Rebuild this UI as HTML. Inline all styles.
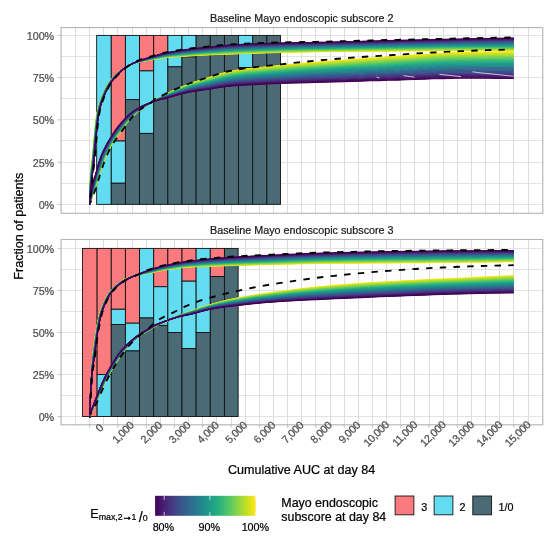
<!DOCTYPE html>
<html lang="en"><head><meta charset="utf-8"><title>Figure</title>
<style>
html,body{margin:0;padding:0;background:#fff;}
body{width:550px;height:540px;overflow:hidden;font-family:"Liberation Sans",Arial,sans-serif;}
svg{display:block;}
svg text{stroke-width:0.22px;}
</style></head><body>
<svg width="550" height="540" viewBox="0 0 550 540" font-family="'Liberation Sans', Arial, sans-serif">
<rect width="550" height="540" fill="#fff"/>
<rect x="61.10" y="27.60" width="481.70" height="185.70" fill="#fff"/>
<line x1="61.10" x2="542.80" y1="204.5" y2="204.5" stroke="#E4E4E4" stroke-width="1"/>
<line x1="61.10" x2="542.80" y1="183.5" y2="183.5" stroke="#E4E4E4" stroke-width="1"/>
<line x1="61.10" x2="542.80" y1="162.5" y2="162.5" stroke="#E4E4E4" stroke-width="1"/>
<line x1="61.10" x2="542.80" y1="140.5" y2="140.5" stroke="#E4E4E4" stroke-width="1"/>
<line x1="61.10" x2="542.80" y1="119.5" y2="119.5" stroke="#E4E4E4" stroke-width="1"/>
<line x1="61.10" x2="542.80" y1="98.5" y2="98.5" stroke="#E4E4E4" stroke-width="1"/>
<line x1="61.10" x2="542.80" y1="77.5" y2="77.5" stroke="#E4E4E4" stroke-width="1"/>
<line x1="61.10" x2="542.80" y1="56.5" y2="56.5" stroke="#E4E4E4" stroke-width="1"/>
<line x1="61.10" x2="542.80" y1="35.5" y2="35.5" stroke="#E4E4E4" stroke-width="1"/>
<line x1="75.5" x2="75.5" y1="27.60" y2="213.30" stroke="#DCDCDC" stroke-width="1"/>
<line x1="89.5" x2="89.5" y1="27.60" y2="213.30" stroke="#DCDCDC" stroke-width="1"/>
<line x1="103.5" x2="103.5" y1="27.60" y2="213.30" stroke="#DCDCDC" stroke-width="1"/>
<line x1="117.5" x2="117.5" y1="27.60" y2="213.30" stroke="#DCDCDC" stroke-width="1"/>
<line x1="132.5" x2="132.5" y1="27.60" y2="213.30" stroke="#DCDCDC" stroke-width="1"/>
<line x1="146.5" x2="146.5" y1="27.60" y2="213.30" stroke="#DCDCDC" stroke-width="1"/>
<line x1="160.5" x2="160.5" y1="27.60" y2="213.30" stroke="#DCDCDC" stroke-width="1"/>
<line x1="174.5" x2="174.5" y1="27.60" y2="213.30" stroke="#DCDCDC" stroke-width="1"/>
<line x1="188.5" x2="188.5" y1="27.60" y2="213.30" stroke="#DCDCDC" stroke-width="1"/>
<line x1="202.5" x2="202.5" y1="27.60" y2="213.30" stroke="#DCDCDC" stroke-width="1"/>
<line x1="216.5" x2="216.5" y1="27.60" y2="213.30" stroke="#DCDCDC" stroke-width="1"/>
<line x1="231.5" x2="231.5" y1="27.60" y2="213.30" stroke="#DCDCDC" stroke-width="1"/>
<line x1="245.5" x2="245.5" y1="27.60" y2="213.30" stroke="#DCDCDC" stroke-width="1"/>
<line x1="259.5" x2="259.5" y1="27.60" y2="213.30" stroke="#DCDCDC" stroke-width="1"/>
<line x1="273.5" x2="273.5" y1="27.60" y2="213.30" stroke="#DCDCDC" stroke-width="1"/>
<line x1="287.5" x2="287.5" y1="27.60" y2="213.30" stroke="#DCDCDC" stroke-width="1"/>
<line x1="301.5" x2="301.5" y1="27.60" y2="213.30" stroke="#DCDCDC" stroke-width="1"/>
<line x1="315.5" x2="315.5" y1="27.60" y2="213.30" stroke="#DCDCDC" stroke-width="1"/>
<line x1="330.5" x2="330.5" y1="27.60" y2="213.30" stroke="#DCDCDC" stroke-width="1"/>
<line x1="344.5" x2="344.5" y1="27.60" y2="213.30" stroke="#DCDCDC" stroke-width="1"/>
<line x1="358.5" x2="358.5" y1="27.60" y2="213.30" stroke="#DCDCDC" stroke-width="1"/>
<line x1="372.5" x2="372.5" y1="27.60" y2="213.30" stroke="#DCDCDC" stroke-width="1"/>
<line x1="386.5" x2="386.5" y1="27.60" y2="213.30" stroke="#DCDCDC" stroke-width="1"/>
<line x1="400.5" x2="400.5" y1="27.60" y2="213.30" stroke="#DCDCDC" stroke-width="1"/>
<line x1="414.5" x2="414.5" y1="27.60" y2="213.30" stroke="#DCDCDC" stroke-width="1"/>
<line x1="429.5" x2="429.5" y1="27.60" y2="213.30" stroke="#DCDCDC" stroke-width="1"/>
<line x1="443.5" x2="443.5" y1="27.60" y2="213.30" stroke="#DCDCDC" stroke-width="1"/>
<line x1="457.5" x2="457.5" y1="27.60" y2="213.30" stroke="#DCDCDC" stroke-width="1"/>
<line x1="471.5" x2="471.5" y1="27.60" y2="213.30" stroke="#DCDCDC" stroke-width="1"/>
<line x1="485.5" x2="485.5" y1="27.60" y2="213.30" stroke="#DCDCDC" stroke-width="1"/>
<line x1="499.5" x2="499.5" y1="27.60" y2="213.30" stroke="#DCDCDC" stroke-width="1"/>
<line x1="513.5" x2="513.5" y1="27.60" y2="213.30" stroke="#DCDCDC" stroke-width="1"/>
<line x1="528.5" x2="528.5" y1="27.60" y2="213.30" stroke="#DCDCDC" stroke-width="1"/>
<rect x="96.67" y="35.40" width="14.59" height="168.95" fill="#63DCF2" stroke="#111" stroke-width="0.9"/>
<rect x="111.27" y="35.40" width="14.14" height="105.59" fill="#FB7A7D" stroke="#111" stroke-width="0.9"/>
<rect x="111.27" y="140.99" width="14.14" height="42.24" fill="#63DCF2" stroke="#111" stroke-width="0.9"/>
<rect x="111.27" y="183.23" width="14.14" height="21.12" fill="#4A6B75" stroke="#111" stroke-width="0.9"/>
<rect x="125.41" y="35.40" width="14.14" height="64.20" fill="#63DCF2" stroke="#111" stroke-width="0.9"/>
<rect x="125.41" y="99.60" width="14.14" height="104.75" fill="#4A6B75" stroke="#111" stroke-width="0.9"/>
<rect x="139.56" y="35.40" width="14.15" height="35.48" fill="#FB7A7D" stroke="#111" stroke-width="0.9"/>
<rect x="139.56" y="70.88" width="14.15" height="62.51" fill="#63DCF2" stroke="#111" stroke-width="0.9"/>
<rect x="139.56" y="133.39" width="14.15" height="70.96" fill="#4A6B75" stroke="#111" stroke-width="0.9"/>
<rect x="153.70" y="35.40" width="14.14" height="21.12" fill="#FB7A7D" stroke="#111" stroke-width="0.9"/>
<rect x="153.70" y="56.52" width="14.14" height="42.24" fill="#63DCF2" stroke="#111" stroke-width="0.9"/>
<rect x="153.70" y="98.76" width="14.14" height="105.59" fill="#4A6B75" stroke="#111" stroke-width="0.9"/>
<rect x="167.85" y="35.40" width="14.15" height="31.42" fill="#63DCF2" stroke="#111" stroke-width="0.9"/>
<rect x="167.85" y="66.82" width="14.15" height="137.53" fill="#4A6B75" stroke="#111" stroke-width="0.9"/>
<rect x="181.99" y="35.40" width="14.15" height="21.46" fill="#63DCF2" stroke="#111" stroke-width="0.9"/>
<rect x="181.99" y="56.86" width="14.15" height="147.49" fill="#4A6B75" stroke="#111" stroke-width="0.9"/>
<rect x="196.14" y="35.40" width="14.14" height="168.95" fill="#4A6B75" stroke="#111" stroke-width="0.9"/>
<rect x="210.28" y="35.40" width="14.15" height="168.95" fill="#4A6B75" stroke="#111" stroke-width="0.9"/>
<rect x="224.43" y="35.40" width="14.15" height="168.95" fill="#4A6B75" stroke="#111" stroke-width="0.9"/>
<rect x="238.57" y="35.40" width="14.14" height="32.10" fill="#63DCF2" stroke="#111" stroke-width="0.9"/>
<rect x="238.57" y="67.50" width="14.14" height="136.85" fill="#4A6B75" stroke="#111" stroke-width="0.9"/>
<rect x="252.72" y="35.40" width="14.15" height="168.95" fill="#4A6B75" stroke="#111" stroke-width="0.9"/>
<rect x="266.86" y="35.40" width="13.69" height="168.95" fill="#4A6B75" stroke="#111" stroke-width="0.9"/>
<path d="M89.6 204.3 L90.5 176.1 L91.3 166.6 L92.2 160.4 L93.0 151.8 L93.9 141.3 L94.8 132.1 L95.6 123.6 L96.5 116.5 L97.3 111.9 L98.2 108.2 L99.1 105.0 L99.9 102.3 L100.8 99.9 L101.6 97.7 L102.5 95.6 L103.4 93.5 L104.2 91.5 L105.1 89.7 L105.9 88.0 L106.8 86.4 L107.7 85.0 L108.5 83.6 L109.4 82.3 L110.2 81.1 L111.1 80.0 L111.9 78.9 L112.8 77.8 L113.7 76.9 L114.5 76.0 L115.4 75.1 L116.2 74.3 L117.1 73.5 L118.0 72.8 L118.8 72.1 L119.7 71.5 L120.5 70.8 L121.4 70.2 L122.3 69.6 L123.1 69.1 L124.0 68.5 L124.8 68.0 L125.7 67.5 L126.6 67.0 L127.4 66.5 L128.3 66.0 L129.1 65.6 L130.0 65.1 L133.0 63.7 L136.1 62.5 L139.1 61.8 L142.2 61.2 L145.2 60.7 L148.3 60.3 L151.3 59.8 L154.3 59.2 L157.4 58.7 L160.4 58.2 L163.5 57.7 L166.5 57.4 L169.6 57.1 L172.6 56.9 L175.7 56.7 L178.7 56.5 L181.7 56.3 L184.8 56.1 L187.8 55.9 L190.9 55.8 L193.9 55.6 L197.0 55.4 L200.0 55.3 L209.0 54.8 L217.9 54.5 L226.9 54.1 L235.9 53.8 L244.8 53.5 L253.8 53.2 L262.7 52.9 L271.7 52.7 L280.7 52.5 L289.6 52.3 L298.6 52.1 L307.6 51.9 L316.5 51.7 L325.5 51.6 L334.4 51.5 L343.4 51.4 L352.4 51.4 L361.3 51.3 L370.3 51.2 L379.3 51.2 L388.2 51.1 L397.2 51.0 L406.1 51.0 L415.1 50.9 L424.1 50.8 L433.0 50.7 L442.0 50.7 L451.0 50.6 L459.9 50.6 L468.9 50.6 L477.8 50.6 L486.8 50.7 L495.8 50.8 L504.7 50.9 L513.7 51.0" fill="none" stroke="#fde725" stroke-width="1.10" stroke-linejoin="round"/>
<path d="M89.6 204.3 L90.5 176.5 L91.3 167.1 L92.2 160.8 L93.0 152.2 L93.9 141.8 L94.8 132.5 L95.6 124.0 L96.5 116.9 L97.3 112.2 L98.2 108.4 L99.1 105.2 L99.9 102.5 L100.8 100.0 L101.6 97.8 L102.5 95.7 L103.4 93.6 L104.2 91.6 L105.1 89.8 L105.9 88.1 L106.8 86.5 L107.7 85.0 L108.5 83.7 L109.4 82.4 L110.2 81.2 L111.1 80.0 L111.9 78.9 L112.8 77.9 L113.7 76.9 L114.5 76.0 L115.4 75.1 L116.2 74.3 L117.1 73.6 L118.0 72.9 L118.8 72.2 L119.7 71.5 L120.5 70.8 L121.4 70.2 L122.3 69.6 L123.1 69.1 L124.0 68.5 L124.8 68.0 L125.7 67.5 L126.6 67.0 L127.4 66.5 L128.3 66.0 L129.1 65.6 L130.0 65.1 L133.0 63.6 L136.1 62.5 L139.1 61.8 L142.2 61.2 L145.2 60.7 L148.3 60.2 L151.3 59.7 L154.3 59.2 L157.4 58.6 L160.4 58.1 L163.5 57.6 L166.5 57.3 L169.6 57.0 L172.6 56.8 L175.7 56.5 L178.7 56.3 L181.7 56.1 L184.8 56.0 L187.8 55.8 L190.9 55.6 L193.9 55.4 L197.0 55.3 L200.0 55.1 L209.0 54.7 L217.9 54.3 L226.9 53.9 L235.9 53.6 L244.8 53.3 L253.8 53.0 L262.7 52.7 L271.7 52.5 L280.7 52.3 L289.6 52.1 L298.6 51.9 L307.6 51.7 L316.5 51.5 L325.5 51.4 L334.4 51.3 L343.4 51.2 L352.4 51.1 L361.3 51.1 L370.3 51.0 L379.3 50.9 L388.2 50.9 L397.2 50.8 L406.1 50.7 L415.1 50.6 L424.1 50.6 L433.0 50.5 L442.0 50.4 L451.0 50.4 L459.9 50.3 L468.9 50.4 L477.8 50.4 L486.8 50.4 L495.8 50.5 L504.7 50.6 L513.7 50.7" fill="none" stroke="#f0e51f" stroke-width="1.10" stroke-linejoin="round"/>
<path d="M89.6 204.3 L90.5 176.9 L91.3 167.5 L92.2 161.1 L93.0 152.5 L93.9 142.2 L94.8 133.0 L95.6 124.4 L96.5 117.3 L97.3 112.4 L98.2 108.6 L99.1 105.4 L99.9 102.6 L100.8 100.1 L101.6 97.9 L102.5 95.8 L103.4 93.7 L104.2 91.7 L105.1 89.9 L105.9 88.2 L106.8 86.6 L107.7 85.1 L108.5 83.8 L109.4 82.5 L110.2 81.2 L111.1 80.1 L111.9 79.0 L112.8 77.9 L113.7 77.0 L114.5 76.0 L115.4 75.2 L116.2 74.4 L117.1 73.6 L118.0 72.9 L118.8 72.2 L119.7 71.5 L120.5 70.9 L121.4 70.2 L122.3 69.6 L123.1 69.1 L124.0 68.5 L124.8 68.0 L125.7 67.5 L126.6 67.0 L127.4 66.5 L128.3 66.0 L129.1 65.6 L130.0 65.1 L133.0 63.6 L136.1 62.5 L139.1 61.7 L142.2 61.1 L145.2 60.6 L148.3 60.2 L151.3 59.6 L154.3 59.1 L157.4 58.5 L160.4 58.0 L163.5 57.5 L166.5 57.2 L169.6 56.9 L172.6 56.7 L175.7 56.4 L178.7 56.2 L181.7 56.0 L184.8 55.8 L187.8 55.6 L190.9 55.5 L193.9 55.3 L197.0 55.1 L200.0 55.0 L209.0 54.5 L217.9 54.1 L226.9 53.7 L235.9 53.4 L244.8 53.1 L253.8 52.8 L262.7 52.5 L271.7 52.3 L280.7 52.1 L289.6 51.9 L298.6 51.7 L307.6 51.5 L316.5 51.3 L325.5 51.2 L334.4 51.1 L343.4 51.0 L352.4 50.9 L361.3 50.9 L370.3 50.8 L379.3 50.7 L388.2 50.6 L397.2 50.6 L406.1 50.5 L415.1 50.4 L424.1 50.3 L433.0 50.2 L442.0 50.2 L451.0 50.1 L459.9 50.1 L468.9 50.1 L477.8 50.1 L486.8 50.2 L495.8 50.2 L504.7 50.3 L513.7 50.4" fill="none" stroke="#e3e41a" stroke-width="1.10" stroke-linejoin="round"/>
<path d="M89.6 204.3 L90.5 177.3 L91.3 167.9 L92.2 161.5 L93.0 152.9 L93.9 142.6 L94.8 133.4 L95.6 124.9 L96.5 117.6 L97.3 112.7 L98.2 108.8 L99.1 105.5 L99.9 102.7 L100.8 100.3 L101.6 98.0 L102.5 95.9 L103.4 93.8 L104.2 91.8 L105.1 90.0 L105.9 88.3 L106.8 86.7 L107.7 85.2 L108.5 83.8 L109.4 82.5 L110.2 81.3 L111.1 80.1 L111.9 79.0 L112.8 78.0 L113.7 77.0 L114.5 76.1 L115.4 75.2 L116.2 74.4 L117.1 73.7 L118.0 72.9 L118.8 72.2 L119.7 71.5 L120.5 70.9 L121.4 70.3 L122.3 69.7 L123.1 69.1 L124.0 68.5 L124.8 68.0 L125.7 67.5 L126.6 67.0 L127.4 66.5 L128.3 66.0 L129.1 65.6 L130.0 65.1 L133.0 63.6 L136.1 62.5 L139.1 61.7 L142.2 61.1 L145.2 60.6 L148.3 60.1 L151.3 59.6 L154.3 59.0 L157.4 58.4 L160.4 57.9 L163.5 57.4 L166.5 57.1 L169.6 56.8 L172.6 56.5 L175.7 56.3 L178.7 56.1 L181.7 55.9 L184.8 55.7 L187.8 55.5 L190.9 55.3 L193.9 55.1 L197.0 55.0 L200.0 54.8 L209.0 54.3 L217.9 53.9 L226.9 53.5 L235.9 53.2 L244.8 52.9 L253.8 52.6 L262.7 52.3 L271.7 52.1 L280.7 51.9 L289.6 51.7 L298.6 51.5 L307.6 51.3 L316.5 51.1 L325.5 51.0 L334.4 50.9 L343.4 50.8 L352.4 50.7 L361.3 50.6 L370.3 50.6 L379.3 50.5 L388.2 50.4 L397.2 50.3 L406.1 50.2 L415.1 50.2 L424.1 50.1 L433.0 50.0 L442.0 49.9 L451.0 49.9 L459.9 49.8 L468.9 49.8 L477.8 49.9 L486.8 49.9 L495.8 50.0 L504.7 50.1 L513.7 50.2" fill="none" stroke="#d5e21c" stroke-width="1.10" stroke-linejoin="round"/>
<path d="M89.6 204.3 L90.5 177.7 L91.3 168.3 L92.2 161.9 L93.0 153.3 L93.9 143.1 L94.8 133.9 L95.6 125.3 L96.5 118.0 L97.3 113.0 L98.2 109.0 L99.1 105.7 L99.9 102.9 L100.8 100.4 L101.6 98.1 L102.5 96.0 L103.4 93.9 L104.2 91.9 L105.1 90.1 L105.9 88.3 L106.8 86.7 L107.7 85.3 L108.5 83.9 L109.4 82.6 L110.2 81.4 L111.1 80.2 L111.9 79.1 L112.8 78.0 L113.7 77.1 L114.5 76.1 L115.4 75.3 L116.2 74.5 L117.1 73.7 L118.0 72.9 L118.8 72.2 L119.7 71.6 L120.5 70.9 L121.4 70.3 L122.3 69.7 L123.1 69.1 L124.0 68.5 L124.8 68.0 L125.7 67.5 L126.6 67.0 L127.4 66.5 L128.3 66.0 L129.1 65.6 L130.0 65.1 L133.0 63.6 L136.1 62.5 L139.1 61.7 L142.2 61.1 L145.2 60.6 L148.3 60.1 L151.3 59.5 L154.3 58.9 L157.4 58.4 L160.4 57.8 L163.5 57.4 L166.5 57.0 L169.6 56.7 L172.6 56.4 L175.7 56.2 L178.7 56.0 L181.7 55.7 L184.8 55.5 L187.8 55.4 L190.9 55.2 L193.9 55.0 L197.0 54.8 L200.0 54.6 L209.0 54.2 L217.9 53.7 L226.9 53.3 L235.9 53.0 L244.8 52.7 L253.8 52.4 L262.7 52.1 L271.7 51.9 L280.7 51.7 L289.6 51.4 L298.6 51.3 L307.6 51.1 L316.5 50.9 L325.5 50.8 L334.4 50.7 L343.4 50.6 L352.4 50.5 L361.3 50.4 L370.3 50.3 L379.3 50.3 L388.2 50.2 L397.2 50.1 L406.1 50.0 L415.1 49.9 L424.1 49.8 L433.0 49.7 L442.0 49.7 L451.0 49.6 L459.9 49.6 L468.9 49.6 L477.8 49.6 L486.8 49.6 L495.8 49.7 L504.7 49.8 L513.7 49.9" fill="none" stroke="#c6e022" stroke-width="1.10" stroke-linejoin="round"/>
<path d="M89.6 204.3 L90.5 178.1 L91.3 168.7 L92.2 162.2 L93.0 153.7 L93.9 143.5 L94.8 134.3 L95.6 125.7 L96.5 118.4 L97.3 113.3 L98.2 109.2 L99.1 105.8 L99.9 103.0 L100.8 100.5 L101.6 98.2 L102.5 96.1 L103.4 94.0 L104.2 92.0 L105.1 90.1 L105.9 88.4 L106.8 86.8 L107.7 85.3 L108.5 83.9 L109.4 82.6 L110.2 81.4 L111.1 80.2 L111.9 79.1 L112.8 78.1 L113.7 77.1 L114.5 76.2 L115.4 75.3 L116.2 74.5 L117.1 73.7 L118.0 73.0 L118.8 72.3 L119.7 71.6 L120.5 70.9 L121.4 70.3 L122.3 69.7 L123.1 69.1 L124.0 68.5 L124.8 68.0 L125.7 67.5 L126.6 67.0 L127.4 66.5 L128.3 66.0 L129.1 65.6 L130.0 65.1 L133.0 63.6 L136.1 62.5 L139.1 61.7 L142.2 61.0 L145.2 60.5 L148.3 60.0 L151.3 59.5 L154.3 58.9 L157.4 58.3 L160.4 57.7 L163.5 57.3 L166.5 56.9 L169.6 56.6 L172.6 56.3 L175.7 56.1 L178.7 55.8 L181.7 55.6 L184.8 55.4 L187.8 55.2 L190.9 55.0 L193.9 54.8 L197.0 54.7 L200.0 54.5 L209.0 54.0 L217.9 53.6 L226.9 53.1 L235.9 52.8 L244.8 52.5 L253.8 52.2 L262.7 51.9 L271.7 51.7 L280.7 51.5 L289.6 51.2 L298.6 51.1 L307.6 50.9 L316.5 50.7 L325.5 50.6 L334.4 50.5 L343.4 50.4 L352.4 50.3 L361.3 50.2 L370.3 50.1 L379.3 50.0 L388.2 49.9 L397.2 49.9 L406.1 49.8 L415.1 49.7 L424.1 49.6 L433.0 49.5 L442.0 49.4 L451.0 49.4 L459.9 49.3 L468.9 49.3 L477.8 49.3 L486.8 49.4 L495.8 49.4 L504.7 49.5 L513.7 49.6" fill="none" stroke="#b7de2a" stroke-width="1.10" stroke-linejoin="round"/>
<path d="M89.6 204.3 L90.5 178.5 L91.3 169.1 L92.2 162.6 L93.0 154.1 L93.9 144.0 L94.8 134.8 L95.6 126.1 L96.5 118.7 L97.3 113.5 L98.2 109.4 L99.1 106.0 L99.9 103.1 L100.8 100.6 L101.6 98.3 L102.5 96.2 L103.4 94.1 L104.2 92.1 L105.1 90.2 L105.9 88.5 L106.8 86.9 L107.7 85.4 L108.5 84.0 L109.4 82.7 L110.2 81.5 L111.1 80.3 L111.9 79.2 L112.8 78.1 L113.7 77.1 L114.5 76.2 L115.4 75.4 L116.2 74.5 L117.1 73.8 L118.0 73.0 L118.8 72.3 L119.7 71.6 L120.5 70.9 L121.4 70.3 L122.3 69.7 L123.1 69.1 L124.0 68.5 L124.8 68.0 L125.7 67.5 L126.6 67.0 L127.4 66.5 L128.3 66.0 L129.1 65.5 L130.0 65.1 L133.0 63.6 L136.1 62.5 L139.1 61.6 L142.2 61.0 L145.2 60.5 L148.3 60.0 L151.3 59.4 L154.3 58.8 L157.4 58.2 L160.4 57.6 L163.5 57.2 L166.5 56.8 L169.6 56.5 L172.6 56.2 L175.7 55.9 L178.7 55.7 L181.7 55.5 L184.8 55.3 L187.8 55.1 L190.9 54.9 L193.9 54.7 L197.0 54.5 L200.0 54.3 L209.0 53.8 L217.9 53.4 L226.9 53.0 L235.9 52.6 L244.8 52.3 L253.8 52.0 L262.7 51.7 L271.7 51.5 L280.7 51.2 L289.6 51.0 L298.6 50.8 L307.6 50.7 L316.5 50.5 L325.5 50.4 L334.4 50.3 L343.4 50.2 L352.4 50.1 L361.3 50.0 L370.3 49.9 L379.3 49.8 L388.2 49.7 L397.2 49.6 L406.1 49.5 L415.1 49.4 L424.1 49.4 L433.0 49.3 L442.0 49.2 L451.0 49.1 L459.9 49.1 L468.9 49.1 L477.8 49.1 L486.8 49.1 L495.8 49.2 L504.7 49.2 L513.7 49.3" fill="none" stroke="#a8db33" stroke-width="1.10" stroke-linejoin="round"/>
<path d="M89.6 204.3 L90.5 178.9 L91.3 169.6 L92.2 163.0 L93.0 154.5 L93.9 144.4 L94.8 135.3 L95.6 126.5 L96.5 119.1 L97.3 113.8 L98.2 109.6 L99.1 106.1 L99.9 103.3 L100.8 100.7 L101.6 98.4 L102.5 96.3 L103.4 94.2 L104.2 92.2 L105.1 90.3 L105.9 88.6 L106.8 87.0 L107.7 85.5 L108.5 84.1 L109.4 82.8 L110.2 81.5 L111.1 80.3 L111.9 79.2 L112.8 78.2 L113.7 77.2 L114.5 76.3 L115.4 75.4 L116.2 74.6 L117.1 73.8 L118.0 73.0 L118.8 72.3 L119.7 71.6 L120.5 71.0 L121.4 70.3 L122.3 69.7 L123.1 69.1 L124.0 68.6 L124.8 68.0 L125.7 67.5 L126.6 67.0 L127.4 66.5 L128.3 66.0 L129.1 65.5 L130.0 65.1 L133.0 63.6 L136.1 62.4 L139.1 61.6 L142.2 61.0 L145.2 60.4 L148.3 59.9 L151.3 59.3 L154.3 58.7 L157.4 58.1 L160.4 57.6 L163.5 57.1 L166.5 56.7 L169.6 56.4 L172.6 56.1 L175.7 55.8 L178.7 55.6 L181.7 55.3 L184.8 55.1 L187.8 54.9 L190.9 54.7 L193.9 54.5 L197.0 54.3 L200.0 54.2 L209.0 53.7 L217.9 53.2 L226.9 52.8 L235.9 52.4 L244.8 52.1 L253.8 51.8 L262.7 51.5 L271.7 51.3 L280.7 51.0 L289.6 50.8 L298.6 50.6 L307.6 50.5 L316.5 50.3 L325.5 50.2 L334.4 50.1 L343.4 50.0 L352.4 49.9 L361.3 49.8 L370.3 49.7 L379.3 49.6 L388.2 49.5 L397.2 49.4 L406.1 49.3 L415.1 49.2 L424.1 49.1 L433.0 49.0 L442.0 48.9 L451.0 48.9 L459.9 48.8 L468.9 48.8 L477.8 48.8 L486.8 48.8 L495.8 48.9 L504.7 48.9 L513.7 49.0" fill="none" stroke="#9ad93d" stroke-width="1.10" stroke-linejoin="round"/>
<path d="M89.6 204.3 L90.5 179.3 L91.3 170.0 L92.2 163.3 L93.0 154.8 L93.9 144.9 L94.8 135.7 L95.6 126.9 L96.5 119.4 L97.3 114.1 L98.2 109.8 L99.1 106.3 L99.9 103.4 L100.8 100.8 L101.6 98.5 L102.5 96.4 L103.4 94.2 L104.2 92.3 L105.1 90.4 L105.9 88.7 L106.8 87.0 L107.7 85.5 L108.5 84.1 L109.4 82.8 L110.2 81.6 L111.1 80.4 L111.9 79.3 L112.8 78.2 L113.7 77.2 L114.5 76.3 L115.4 75.4 L116.2 74.6 L117.1 73.8 L118.0 73.1 L118.8 72.4 L119.7 71.7 L120.5 71.0 L121.4 70.3 L122.3 69.7 L123.1 69.1 L124.0 68.6 L124.8 68.0 L125.7 67.5 L126.6 67.0 L127.4 66.5 L128.3 66.0 L129.1 65.5 L130.0 65.1 L133.0 63.6 L136.1 62.4 L139.1 61.6 L142.2 60.9 L145.2 60.4 L148.3 59.9 L151.3 59.3 L154.3 58.7 L157.4 58.0 L160.4 57.5 L163.5 57.0 L166.5 56.6 L169.6 56.3 L172.6 56.0 L175.7 55.7 L178.7 55.5 L181.7 55.2 L184.8 55.0 L187.8 54.8 L190.9 54.6 L193.9 54.4 L197.0 54.2 L200.0 54.0 L209.0 53.5 L217.9 53.0 L226.9 52.6 L235.9 52.2 L244.8 51.9 L253.8 51.6 L262.7 51.3 L271.7 51.1 L280.7 50.8 L289.6 50.6 L298.6 50.4 L307.6 50.3 L316.5 50.1 L325.5 50.0 L334.4 49.9 L343.4 49.8 L352.4 49.7 L361.3 49.5 L370.3 49.5 L379.3 49.4 L388.2 49.3 L397.2 49.2 L406.1 49.1 L415.1 49.0 L424.1 48.9 L433.0 48.8 L442.0 48.7 L451.0 48.6 L459.9 48.6 L468.9 48.6 L477.8 48.6 L486.8 48.6 L495.8 48.6 L504.7 48.7 L513.7 48.7" fill="none" stroke="#8bd546" stroke-width="1.10" stroke-linejoin="round"/>
<path d="M89.6 204.3 L90.5 179.7 L91.3 170.4 L92.2 163.7 L93.0 155.2 L93.9 145.3 L94.8 136.2 L95.6 127.4 L96.5 119.8 L97.3 114.4 L98.2 109.9 L99.1 106.5 L99.9 103.5 L100.8 101.0 L101.6 98.6 L102.5 96.5 L103.4 94.3 L104.2 92.4 L105.1 90.5 L105.9 88.7 L106.8 87.1 L107.7 85.6 L108.5 84.2 L109.4 82.9 L110.2 81.6 L111.1 80.5 L111.9 79.3 L112.8 78.3 L113.7 77.3 L114.5 76.4 L115.4 75.5 L116.2 74.7 L117.1 73.9 L118.0 73.1 L118.8 72.4 L119.7 71.7 L120.5 71.0 L121.4 70.4 L122.3 69.7 L123.1 69.1 L124.0 68.6 L124.8 68.0 L125.7 67.5 L126.6 67.0 L127.4 66.5 L128.3 66.0 L129.1 65.5 L130.0 65.1 L133.0 63.6 L136.1 62.4 L139.1 61.6 L142.2 60.9 L145.2 60.3 L148.3 59.8 L151.3 59.2 L154.3 58.6 L157.4 58.0 L160.4 57.4 L163.5 56.9 L166.5 56.5 L169.6 56.2 L172.6 55.9 L175.7 55.6 L178.7 55.3 L181.7 55.1 L184.8 54.9 L187.8 54.6 L190.9 54.4 L193.9 54.2 L197.0 54.0 L200.0 53.8 L209.0 53.3 L217.9 52.8 L226.9 52.4 L235.9 52.0 L244.8 51.7 L253.8 51.4 L262.7 51.1 L271.7 50.8 L280.7 50.6 L289.6 50.4 L298.6 50.2 L307.6 50.1 L316.5 49.9 L325.5 49.8 L334.4 49.7 L343.4 49.5 L352.4 49.4 L361.3 49.3 L370.3 49.2 L379.3 49.1 L388.2 49.0 L397.2 48.9 L406.1 48.8 L415.1 48.7 L424.1 48.6 L433.0 48.5 L442.0 48.4 L451.0 48.4 L459.9 48.3 L468.9 48.3 L477.8 48.3 L486.8 48.3 L495.8 48.3 L504.7 48.4 L513.7 48.5" fill="none" stroke="#7dd24f" stroke-width="1.10" stroke-linejoin="round"/>
<path d="M89.6 204.3 L90.5 180.2 L91.3 170.8 L92.2 164.1 L93.0 155.6 L93.9 145.8 L94.8 136.6 L95.6 127.8 L96.5 120.2 L97.3 114.6 L98.2 110.1 L99.1 106.6 L99.9 103.7 L100.8 101.1 L101.6 98.7 L102.5 96.6 L103.4 94.4 L104.2 92.5 L105.1 90.6 L105.9 88.8 L106.8 87.2 L107.7 85.7 L108.5 84.3 L109.4 82.9 L110.2 81.7 L111.1 80.5 L111.9 79.4 L112.8 78.3 L113.7 77.3 L114.5 76.4 L115.4 75.5 L116.2 74.7 L117.1 73.9 L118.0 73.1 L118.8 72.4 L119.7 71.7 L120.5 71.0 L121.4 70.4 L122.3 69.7 L123.1 69.1 L124.0 68.6 L124.8 68.0 L125.7 67.5 L126.6 67.0 L127.4 66.5 L128.3 66.0 L129.1 65.5 L130.0 65.1 L133.0 63.6 L136.1 62.4 L139.1 61.6 L142.2 60.9 L145.2 60.3 L148.3 59.7 L151.3 59.2 L154.3 58.5 L157.4 57.9 L160.4 57.3 L163.5 56.8 L166.5 56.4 L169.6 56.1 L172.6 55.8 L175.7 55.5 L178.7 55.2 L181.7 55.0 L184.8 54.7 L187.8 54.5 L190.9 54.3 L193.9 54.1 L197.0 53.9 L200.0 53.7 L209.0 53.2 L217.9 52.7 L226.9 52.2 L235.9 51.8 L244.8 51.5 L253.8 51.2 L262.7 50.9 L271.7 50.6 L280.7 50.4 L289.6 50.2 L298.6 50.0 L307.6 49.9 L316.5 49.7 L325.5 49.6 L334.4 49.5 L343.4 49.3 L352.4 49.2 L361.3 49.1 L370.3 49.0 L379.3 48.9 L388.2 48.8 L397.2 48.7 L406.1 48.6 L415.1 48.5 L424.1 48.4 L433.0 48.3 L442.0 48.2 L451.0 48.1 L459.9 48.1 L468.9 48.0 L477.8 48.0 L486.8 48.0 L495.8 48.1 L504.7 48.1 L513.7 48.2" fill="none" stroke="#70ce57" stroke-width="1.10" stroke-linejoin="round"/>
<path d="M89.6 204.3 L90.5 180.6 L91.3 171.2 L92.2 164.4 L93.0 156.0 L93.9 146.2 L94.8 137.1 L95.6 128.2 L96.5 120.5 L97.3 114.9 L98.2 110.3 L99.1 106.8 L99.9 103.8 L100.8 101.2 L101.6 98.9 L102.5 96.7 L103.4 94.5 L104.2 92.5 L105.1 90.7 L105.9 88.9 L106.8 87.3 L107.7 85.7 L108.5 84.3 L109.4 83.0 L110.2 81.8 L111.1 80.6 L111.9 79.4 L112.8 78.4 L113.7 77.4 L114.5 76.5 L115.4 75.6 L116.2 74.7 L117.1 73.9 L118.0 73.2 L118.8 72.4 L119.7 71.7 L120.5 71.0 L121.4 70.4 L122.3 69.8 L123.1 69.1 L124.0 68.6 L124.8 68.0 L125.7 67.5 L126.6 67.0 L127.4 66.5 L128.3 66.0 L129.1 65.5 L130.0 65.1 L133.0 63.6 L136.1 62.4 L139.1 61.5 L142.2 60.8 L145.2 60.3 L148.3 59.7 L151.3 59.1 L154.3 58.4 L157.4 57.8 L160.4 57.2 L163.5 56.7 L166.5 56.3 L169.6 56.0 L172.6 55.6 L175.7 55.3 L178.7 55.1 L181.7 54.8 L184.8 54.6 L187.8 54.4 L190.9 54.1 L193.9 53.9 L197.0 53.7 L200.0 53.5 L209.0 53.0 L217.9 52.5 L226.9 52.0 L235.9 51.6 L244.8 51.3 L253.8 51.0 L262.7 50.7 L271.7 50.4 L280.7 50.2 L289.6 50.0 L298.6 49.8 L307.6 49.7 L316.5 49.5 L325.5 49.4 L334.4 49.2 L343.4 49.1 L352.4 49.0 L361.3 48.9 L370.3 48.8 L379.3 48.7 L388.2 48.6 L397.2 48.5 L406.1 48.4 L415.1 48.3 L424.1 48.2 L433.0 48.1 L442.0 48.0 L451.0 47.9 L459.9 47.8 L468.9 47.8 L477.8 47.8 L486.8 47.8 L495.8 47.8 L504.7 47.8 L513.7 47.9" fill="none" stroke="#64cb5e" stroke-width="1.10" stroke-linejoin="round"/>
<path d="M89.6 204.3 L90.5 181.0 L91.3 171.6 L92.2 164.8 L93.0 156.4 L93.9 146.7 L94.8 137.6 L95.6 128.6 L96.5 120.9 L97.3 115.2 L98.2 110.5 L99.1 106.9 L99.9 103.9 L100.8 101.3 L101.6 99.0 L102.5 96.8 L103.4 94.6 L104.2 92.6 L105.1 90.7 L105.9 89.0 L106.8 87.3 L107.7 85.8 L108.5 84.4 L109.4 83.1 L110.2 81.8 L111.1 80.6 L111.9 79.5 L112.8 78.4 L113.7 77.4 L114.5 76.5 L115.4 75.6 L116.2 74.8 L117.1 74.0 L118.0 73.2 L118.8 72.5 L119.7 71.7 L120.5 71.1 L121.4 70.4 L122.3 69.8 L123.1 69.2 L124.0 68.6 L124.8 68.0 L125.7 67.5 L126.6 67.0 L127.4 66.5 L128.3 66.0 L129.1 65.5 L130.0 65.1 L133.0 63.6 L136.1 62.4 L139.1 61.5 L142.2 60.8 L145.2 60.2 L148.3 59.6 L151.3 59.0 L154.3 58.4 L157.4 57.7 L160.4 57.1 L163.5 56.6 L166.5 56.2 L169.6 55.9 L172.6 55.5 L175.7 55.2 L178.7 54.9 L181.7 54.7 L184.8 54.4 L187.8 54.2 L190.9 54.0 L193.9 53.8 L197.0 53.6 L200.0 53.4 L209.0 52.8 L217.9 52.3 L226.9 51.8 L235.9 51.4 L244.8 51.1 L253.8 50.8 L262.7 50.5 L271.7 50.2 L280.7 50.0 L289.6 49.8 L298.6 49.6 L307.6 49.4 L316.5 49.3 L325.5 49.2 L334.4 49.0 L343.4 48.9 L352.4 48.8 L361.3 48.7 L370.3 48.6 L379.3 48.5 L388.2 48.3 L397.2 48.2 L406.1 48.1 L415.1 48.0 L424.1 47.9 L433.0 47.8 L442.0 47.7 L451.0 47.6 L459.9 47.6 L468.9 47.5 L477.8 47.5 L486.8 47.5 L495.8 47.5 L504.7 47.6 L513.7 47.6" fill="none" stroke="#58c765" stroke-width="1.10" stroke-linejoin="round"/>
<path d="M89.6 204.3 L90.5 181.4 L91.3 172.1 L92.2 165.2 L93.0 156.8 L93.9 147.1 L94.8 138.0 L95.6 129.0 L96.5 121.3 L97.3 115.5 L98.2 110.7 L99.1 107.1 L99.9 104.1 L100.8 101.4 L101.6 99.1 L102.5 96.8 L103.4 94.7 L104.2 92.7 L105.1 90.8 L105.9 89.1 L106.8 87.4 L107.7 85.9 L108.5 84.5 L109.4 83.1 L110.2 81.9 L111.1 80.7 L111.9 79.5 L112.8 78.5 L113.7 77.5 L114.5 76.5 L115.4 75.7 L116.2 74.8 L117.1 74.0 L118.0 73.2 L118.8 72.5 L119.7 71.8 L120.5 71.1 L121.4 70.4 L122.3 69.8 L123.1 69.2 L124.0 68.6 L124.8 68.0 L125.7 67.5 L126.6 67.0 L127.4 66.5 L128.3 66.0 L129.1 65.5 L130.0 65.1 L133.0 63.6 L136.1 62.4 L139.1 61.5 L142.2 60.8 L145.2 60.2 L148.3 59.6 L151.3 59.0 L154.3 58.3 L157.4 57.7 L160.4 57.0 L163.5 56.5 L166.5 56.1 L169.6 55.7 L172.6 55.4 L175.7 55.1 L178.7 54.8 L181.7 54.6 L184.8 54.3 L187.8 54.1 L190.9 53.8 L193.9 53.6 L197.0 53.4 L200.0 53.2 L209.0 52.7 L217.9 52.1 L226.9 51.6 L235.9 51.2 L244.8 50.9 L253.8 50.6 L262.7 50.3 L271.7 50.0 L280.7 49.8 L289.6 49.6 L298.6 49.4 L307.6 49.2 L316.5 49.1 L325.5 49.0 L334.4 48.8 L343.4 48.7 L352.4 48.6 L361.3 48.5 L370.3 48.3 L379.3 48.2 L388.2 48.1 L397.2 48.0 L406.1 47.9 L415.1 47.8 L424.1 47.7 L433.0 47.6 L442.0 47.5 L451.0 47.4 L459.9 47.3 L468.9 47.3 L477.8 47.3 L486.8 47.3 L495.8 47.3 L504.7 47.3 L513.7 47.3" fill="none" stroke="#4dc26b" stroke-width="1.10" stroke-linejoin="round"/>
<path d="M89.6 204.3 L90.5 181.8 L91.3 172.5 L92.2 165.5 L93.0 157.2 L93.9 147.6 L94.8 138.5 L95.6 129.4 L96.5 121.6 L97.3 115.7 L98.2 110.9 L99.1 107.2 L99.9 104.2 L100.8 101.5 L101.6 99.2 L102.5 96.9 L103.4 94.8 L104.2 92.8 L105.1 90.9 L105.9 89.1 L106.8 87.5 L107.7 85.9 L108.5 84.5 L109.4 83.2 L110.2 81.9 L111.1 80.7 L111.9 79.6 L112.8 78.5 L113.7 77.5 L114.5 76.6 L115.4 75.7 L116.2 74.9 L117.1 74.1 L118.0 73.3 L118.8 72.5 L119.7 71.8 L120.5 71.1 L121.4 70.4 L122.3 69.8 L123.1 69.2 L124.0 68.6 L124.8 68.0 L125.7 67.5 L126.6 67.0 L127.4 66.5 L128.3 66.0 L129.1 65.5 L130.0 65.0 L133.0 63.5 L136.1 62.3 L139.1 61.5 L142.2 60.7 L145.2 60.1 L148.3 59.5 L151.3 58.9 L154.3 58.2 L157.4 57.6 L160.4 57.0 L163.5 56.4 L166.5 56.0 L169.6 55.6 L172.6 55.3 L175.7 55.0 L178.7 54.7 L181.7 54.4 L184.8 54.2 L187.8 53.9 L190.9 53.7 L193.9 53.5 L197.0 53.3 L200.0 53.1 L209.0 52.5 L217.9 51.9 L226.9 51.4 L235.9 51.0 L244.8 50.7 L253.8 50.4 L262.7 50.1 L271.7 49.8 L280.7 49.6 L289.6 49.4 L298.6 49.2 L307.6 49.0 L316.5 48.9 L325.5 48.8 L334.4 48.6 L343.4 48.5 L352.4 48.4 L361.3 48.2 L370.3 48.1 L379.3 48.0 L388.2 47.9 L397.2 47.8 L406.1 47.7 L415.1 47.6 L424.1 47.4 L433.0 47.3 L442.0 47.2 L451.0 47.1 L459.9 47.1 L468.9 47.0 L477.8 47.0 L486.8 47.0 L495.8 47.0 L504.7 47.0 L513.7 47.0" fill="none" stroke="#42be71" stroke-width="1.10" stroke-linejoin="round"/>
<path d="M89.6 204.3 L90.5 182.2 L91.3 172.9 L92.2 165.9 L93.0 157.5 L93.9 148.0 L94.8 138.9 L95.6 129.8 L96.5 122.0 L97.3 116.0 L98.2 111.1 L99.1 107.4 L99.9 104.3 L100.8 101.7 L101.6 99.3 L102.5 97.0 L103.4 94.9 L104.2 92.9 L105.1 91.0 L105.9 89.2 L106.8 87.6 L107.7 86.0 L108.5 84.6 L109.4 83.2 L110.2 82.0 L111.1 80.8 L111.9 79.7 L112.8 78.6 L113.7 77.6 L114.5 76.6 L115.4 75.7 L116.2 74.9 L117.1 74.1 L118.0 73.3 L118.8 72.6 L119.7 71.8 L120.5 71.1 L121.4 70.4 L122.3 69.8 L123.1 69.2 L124.0 68.6 L124.8 68.0 L125.7 67.5 L126.6 67.0 L127.4 66.5 L128.3 66.0 L129.1 65.5 L130.0 65.0 L133.0 63.5 L136.1 62.3 L139.1 61.4 L142.2 60.7 L145.2 60.1 L148.3 59.5 L151.3 58.8 L154.3 58.2 L157.4 57.5 L160.4 56.9 L163.5 56.3 L166.5 55.9 L169.6 55.5 L172.6 55.2 L175.7 54.9 L178.7 54.6 L181.7 54.3 L184.8 54.0 L187.8 53.8 L190.9 53.5 L193.9 53.3 L197.0 53.1 L200.0 52.9 L209.0 52.3 L217.9 51.7 L226.9 51.2 L235.9 50.8 L244.8 50.5 L253.8 50.1 L262.7 49.9 L271.7 49.6 L280.7 49.4 L289.6 49.2 L298.6 49.0 L307.6 48.8 L316.5 48.7 L325.5 48.6 L334.4 48.4 L343.4 48.3 L352.4 48.2 L361.3 48.0 L370.3 47.9 L379.3 47.8 L388.2 47.7 L397.2 47.5 L406.1 47.4 L415.1 47.3 L424.1 47.2 L433.0 47.1 L442.0 47.0 L451.0 46.9 L459.9 46.8 L468.9 46.8 L477.8 46.7 L486.8 46.7 L495.8 46.7 L504.7 46.7 L513.7 46.8" fill="none" stroke="#39b976" stroke-width="1.10" stroke-linejoin="round"/>
<path d="M89.6 204.3 L90.5 182.6 L91.3 173.3 L92.2 166.3 L93.0 157.9 L93.9 148.5 L94.8 139.4 L95.6 130.3 L96.5 122.3 L97.3 116.3 L98.2 111.3 L99.1 107.6 L99.9 104.5 L100.8 101.8 L101.6 99.4 L102.5 97.1 L103.4 95.0 L104.2 93.0 L105.1 91.1 L105.9 89.3 L106.8 87.6 L107.7 86.1 L108.5 84.7 L109.4 83.3 L110.2 82.0 L111.1 80.8 L111.9 79.7 L112.8 78.6 L113.7 77.6 L114.5 76.7 L115.4 75.8 L116.2 74.9 L117.1 74.1 L118.0 73.3 L118.8 72.6 L119.7 71.8 L120.5 71.1 L121.4 70.5 L122.3 69.8 L123.1 69.2 L124.0 68.6 L124.8 68.0 L125.7 67.5 L126.6 67.0 L127.4 66.5 L128.3 66.0 L129.1 65.5 L130.0 65.0 L133.0 63.5 L136.1 62.3 L139.1 61.4 L142.2 60.7 L145.2 60.0 L148.3 59.4 L151.3 58.8 L154.3 58.1 L157.4 57.4 L160.4 56.8 L163.5 56.2 L166.5 55.8 L169.6 55.4 L172.6 55.1 L175.7 54.7 L178.7 54.4 L181.7 54.2 L184.8 53.9 L187.8 53.6 L190.9 53.4 L193.9 53.2 L197.0 52.9 L200.0 52.7 L209.0 52.2 L217.9 51.6 L226.9 51.0 L235.9 50.6 L244.8 50.3 L253.8 49.9 L262.7 49.7 L271.7 49.4 L280.7 49.2 L289.6 49.0 L298.6 48.8 L307.6 48.6 L316.5 48.5 L325.5 48.3 L334.4 48.2 L343.4 48.1 L352.4 47.9 L361.3 47.8 L370.3 47.7 L379.3 47.6 L388.2 47.4 L397.2 47.3 L406.1 47.2 L415.1 47.1 L424.1 47.0 L433.0 46.8 L442.0 46.7 L451.0 46.6 L459.9 46.6 L468.9 46.5 L477.8 46.5 L486.8 46.5 L495.8 46.4 L504.7 46.5 L513.7 46.5" fill="none" stroke="#30b47b" stroke-width="1.10" stroke-linejoin="round"/>
<path d="M89.6 204.3 L90.5 183.0 L91.3 173.7 L92.2 166.6 L93.0 158.3 L93.9 148.9 L94.8 139.9 L95.6 130.7 L96.5 122.7 L97.3 116.6 L98.2 111.5 L99.1 107.7 L99.9 104.6 L100.8 101.9 L101.6 99.5 L102.5 97.2 L103.4 95.1 L104.2 93.1 L105.1 91.2 L105.9 89.4 L106.8 87.7 L107.7 86.2 L108.5 84.7 L109.4 83.4 L110.2 82.1 L111.1 80.9 L111.9 79.8 L112.8 78.7 L113.7 77.7 L114.5 76.7 L115.4 75.8 L116.2 75.0 L117.1 74.2 L118.0 73.4 L118.8 72.6 L119.7 71.9 L120.5 71.2 L121.4 70.5 L122.3 69.8 L123.1 69.2 L124.0 68.6 L124.8 68.0 L125.7 67.5 L126.6 67.0 L127.4 66.5 L128.3 66.0 L129.1 65.5 L130.0 65.0 L133.0 63.5 L136.1 62.3 L139.1 61.4 L142.2 60.6 L145.2 60.0 L148.3 59.4 L151.3 58.7 L154.3 58.0 L157.4 57.3 L160.4 56.7 L163.5 56.2 L166.5 55.7 L169.6 55.3 L172.6 55.0 L175.7 54.6 L178.7 54.3 L181.7 54.0 L184.8 53.8 L187.8 53.5 L190.9 53.3 L193.9 53.0 L197.0 52.8 L200.0 52.6 L209.0 52.0 L217.9 51.4 L226.9 50.8 L235.9 50.4 L244.8 50.1 L253.8 49.7 L262.7 49.5 L271.7 49.2 L280.7 49.0 L289.6 48.8 L298.6 48.6 L307.6 48.4 L316.5 48.3 L325.5 48.1 L334.4 48.0 L343.4 47.9 L352.4 47.7 L361.3 47.6 L370.3 47.5 L379.3 47.3 L388.2 47.2 L397.2 47.1 L406.1 47.0 L415.1 46.8 L424.1 46.7 L433.0 46.6 L442.0 46.5 L451.0 46.4 L459.9 46.3 L468.9 46.3 L477.8 46.2 L486.8 46.2 L495.8 46.2 L504.7 46.2 L513.7 46.2" fill="none" stroke="#2aaf7f" stroke-width="1.10" stroke-linejoin="round"/>
<path d="M89.6 204.3 L90.5 183.4 L91.3 174.1 L92.2 167.0 L93.0 158.7 L93.9 149.4 L94.8 140.3 L95.6 131.1 L96.5 123.1 L97.3 116.8 L98.2 111.7 L99.1 107.9 L99.9 104.7 L100.8 102.0 L101.6 99.6 L102.5 97.3 L103.4 95.2 L104.2 93.2 L105.1 91.3 L105.9 89.5 L106.8 87.8 L107.7 86.2 L108.5 84.8 L109.4 83.4 L110.2 82.2 L111.1 80.9 L111.9 79.8 L112.8 78.7 L113.7 77.7 L114.5 76.8 L115.4 75.9 L116.2 75.0 L117.1 74.2 L118.0 73.4 L118.8 72.6 L119.7 71.9 L120.5 71.2 L121.4 70.5 L122.3 69.8 L123.1 69.2 L124.0 68.6 L124.8 68.0 L125.7 67.5 L126.6 67.0 L127.4 66.5 L128.3 66.0 L129.1 65.5 L130.0 65.0 L133.0 63.5 L136.1 62.3 L139.1 61.4 L142.2 60.6 L145.2 60.0 L148.3 59.3 L151.3 58.7 L154.3 58.0 L157.4 57.3 L160.4 56.6 L163.5 56.1 L166.5 55.6 L169.6 55.2 L172.6 54.8 L175.7 54.5 L178.7 54.2 L181.7 53.9 L184.8 53.6 L187.8 53.4 L190.9 53.1 L193.9 52.9 L197.0 52.6 L200.0 52.4 L209.0 51.8 L217.9 51.2 L226.9 50.6 L235.9 50.2 L244.8 49.9 L253.8 49.5 L262.7 49.2 L271.7 49.0 L280.7 48.8 L289.6 48.6 L298.6 48.4 L307.6 48.2 L316.5 48.1 L325.5 47.9 L334.4 47.8 L343.4 47.7 L352.4 47.5 L361.3 47.4 L370.3 47.2 L379.3 47.1 L388.2 47.0 L397.2 46.9 L406.1 46.7 L415.1 46.6 L424.1 46.5 L433.0 46.4 L442.0 46.2 L451.0 46.1 L459.9 46.1 L468.9 46.0 L477.8 46.0 L486.8 45.9 L495.8 45.9 L504.7 45.9 L513.7 45.9" fill="none" stroke="#24aa83" stroke-width="1.10" stroke-linejoin="round"/>
<path d="M89.6 204.3 L90.5 183.8 L91.3 174.6 L92.2 167.4 L93.0 159.1 L93.9 149.8 L94.8 140.8 L95.6 131.5 L96.5 123.4 L97.3 117.1 L98.2 111.9 L99.1 108.0 L99.9 104.9 L100.8 102.1 L101.6 99.7 L102.5 97.4 L103.4 95.3 L104.2 93.3 L105.1 91.3 L105.9 89.5 L106.8 87.9 L107.7 86.3 L108.5 84.8 L109.4 83.5 L110.2 82.2 L111.1 81.0 L111.9 79.9 L112.8 78.8 L113.7 77.8 L114.5 76.8 L115.4 75.9 L116.2 75.1 L117.1 74.2 L118.0 73.4 L118.8 72.7 L119.7 71.9 L120.5 71.2 L121.4 70.5 L122.3 69.9 L123.1 69.2 L124.0 68.6 L124.8 68.0 L125.7 67.5 L126.6 67.0 L127.4 66.5 L128.3 66.0 L129.1 65.5 L130.0 65.0 L133.0 63.5 L136.1 62.3 L139.1 61.3 L142.2 60.6 L145.2 59.9 L148.3 59.3 L151.3 58.6 L154.3 57.9 L157.4 57.2 L160.4 56.5 L163.5 56.0 L166.5 55.5 L169.6 55.1 L172.6 54.7 L175.7 54.4 L178.7 54.1 L181.7 53.8 L184.8 53.5 L187.8 53.2 L190.9 53.0 L193.9 52.7 L197.0 52.5 L200.0 52.3 L209.0 51.7 L217.9 51.0 L226.9 50.4 L235.9 50.0 L244.8 49.7 L253.8 49.3 L262.7 49.0 L271.7 48.8 L280.7 48.6 L289.6 48.4 L298.6 48.2 L307.6 48.0 L316.5 47.9 L325.5 47.7 L334.4 47.6 L343.4 47.4 L352.4 47.3 L361.3 47.2 L370.3 47.0 L379.3 46.9 L388.2 46.7 L397.2 46.6 L406.1 46.5 L415.1 46.4 L424.1 46.2 L433.0 46.1 L442.0 46.0 L451.0 45.9 L459.9 45.8 L468.9 45.7 L477.8 45.7 L486.8 45.7 L495.8 45.6 L504.7 45.6 L513.7 45.6" fill="none" stroke="#21a585" stroke-width="1.10" stroke-linejoin="round"/>
<path d="M89.6 204.3 L90.5 184.2 L91.3 175.0 L92.2 167.7 L93.0 159.5 L93.9 150.3 L94.8 141.2 L95.6 131.9 L96.5 123.8 L97.3 117.4 L98.2 112.1 L99.1 108.2 L99.9 105.0 L100.8 102.3 L101.6 99.8 L102.5 97.5 L103.4 95.4 L104.2 93.4 L105.1 91.4 L105.9 89.6 L106.8 87.9 L107.7 86.4 L108.5 84.9 L109.4 83.5 L110.2 82.3 L111.1 81.1 L111.9 79.9 L112.8 78.8 L113.7 77.8 L114.5 76.9 L115.4 76.0 L116.2 75.1 L117.1 74.3 L118.0 73.5 L118.8 72.7 L119.7 71.9 L120.5 71.2 L121.4 70.5 L122.3 69.9 L123.1 69.2 L124.0 68.6 L124.8 68.0 L125.7 67.5 L126.6 67.0 L127.4 66.5 L128.3 66.0 L129.1 65.5 L130.0 65.0 L133.0 63.5 L136.1 62.3 L139.1 61.3 L142.2 60.5 L145.2 59.9 L148.3 59.2 L151.3 58.5 L154.3 57.8 L157.4 57.1 L160.4 56.5 L163.5 55.9 L166.5 55.4 L169.6 55.0 L172.6 54.6 L175.7 54.3 L178.7 53.9 L181.7 53.6 L184.8 53.4 L187.8 53.1 L190.9 52.8 L193.9 52.6 L197.0 52.3 L200.0 52.1 L209.0 51.5 L217.9 50.8 L226.9 50.2 L235.9 49.8 L244.8 49.5 L253.8 49.1 L262.7 48.8 L271.7 48.6 L280.7 48.4 L289.6 48.2 L298.6 48.0 L307.6 47.8 L316.5 47.7 L325.5 47.5 L334.4 47.4 L343.4 47.2 L352.4 47.1 L361.3 46.9 L370.3 46.8 L379.3 46.7 L388.2 46.5 L397.2 46.4 L406.1 46.3 L415.1 46.1 L424.1 46.0 L433.0 45.9 L442.0 45.8 L451.0 45.6 L459.9 45.6 L468.9 45.5 L477.8 45.4 L486.8 45.4 L495.8 45.4 L504.7 45.3 L513.7 45.3" fill="none" stroke="#1fa087" stroke-width="1.10" stroke-linejoin="round"/>
<path d="M89.6 204.3 L90.5 184.6 L91.3 175.4 L92.2 168.1 L93.0 159.9 L93.9 150.7 L94.8 141.7 L95.6 132.3 L96.5 124.2 L97.3 117.7 L98.2 112.3 L99.1 108.3 L99.9 105.1 L100.8 102.4 L101.6 99.9 L102.5 97.6 L103.4 95.5 L104.2 93.5 L105.1 91.5 L105.9 89.7 L106.8 88.0 L107.7 86.4 L108.5 85.0 L109.4 83.6 L110.2 82.3 L111.1 81.1 L111.9 80.0 L112.8 78.9 L113.7 77.9 L114.5 76.9 L115.4 76.0 L116.2 75.1 L117.1 74.3 L118.0 73.5 L118.8 72.7 L119.7 72.0 L120.5 71.2 L121.4 70.5 L122.3 69.9 L123.1 69.2 L124.0 68.6 L124.8 68.0 L125.7 67.5 L126.6 67.0 L127.4 66.5 L128.3 66.0 L129.1 65.5 L130.0 65.0 L133.0 63.5 L136.1 62.3 L139.1 61.3 L142.2 60.5 L145.2 59.8 L148.3 59.2 L151.3 58.5 L154.3 57.7 L157.4 57.0 L160.4 56.4 L163.5 55.8 L166.5 55.3 L169.6 54.9 L172.6 54.5 L175.7 54.2 L178.7 53.8 L181.7 53.5 L184.8 53.2 L187.8 52.9 L190.9 52.7 L193.9 52.4 L197.0 52.2 L200.0 51.9 L209.0 51.3 L217.9 50.7 L226.9 50.1 L235.9 49.6 L244.8 49.3 L253.8 48.9 L262.7 48.6 L271.7 48.4 L280.7 48.1 L289.6 47.9 L298.6 47.8 L307.6 47.6 L316.5 47.5 L325.5 47.3 L334.4 47.2 L343.4 47.0 L352.4 46.9 L361.3 46.7 L370.3 46.6 L379.3 46.4 L388.2 46.3 L397.2 46.2 L406.1 46.0 L415.1 45.9 L424.1 45.8 L433.0 45.6 L442.0 45.5 L451.0 45.4 L459.9 45.3 L468.9 45.2 L477.8 45.2 L486.8 45.1 L495.8 45.1 L504.7 45.1 L513.7 45.1" fill="none" stroke="#1e9b89" stroke-width="1.10" stroke-linejoin="round"/>
<path d="M89.6 204.3 L90.5 185.1 L91.3 175.8 L92.2 168.5 L93.0 160.2 L93.9 151.2 L94.8 142.2 L95.6 132.8 L96.5 124.5 L97.3 118.0 L98.2 112.5 L99.1 108.5 L99.9 105.3 L100.8 102.5 L101.6 100.0 L102.5 97.7 L103.4 95.6 L104.2 93.6 L105.1 91.6 L105.9 89.8 L106.8 88.1 L107.7 86.5 L108.5 85.0 L109.4 83.7 L110.2 82.4 L111.1 81.2 L111.9 80.0 L112.8 78.9 L113.7 77.9 L114.5 77.0 L115.4 76.0 L116.2 75.2 L117.1 74.3 L118.0 73.5 L118.8 72.8 L119.7 72.0 L120.5 71.3 L121.4 70.6 L122.3 69.9 L123.1 69.2 L124.0 68.6 L124.8 68.0 L125.7 67.5 L126.6 67.0 L127.4 66.5 L128.3 66.0 L129.1 65.5 L130.0 65.0 L133.0 63.5 L136.1 62.2 L139.1 61.3 L142.2 60.5 L145.2 59.8 L148.3 59.1 L151.3 58.4 L154.3 57.7 L157.4 57.0 L160.4 56.3 L163.5 55.7 L166.5 55.2 L169.6 54.8 L172.6 54.4 L175.7 54.0 L178.7 53.7 L181.7 53.4 L184.8 53.1 L187.8 52.8 L190.9 52.5 L193.9 52.3 L197.0 52.0 L200.0 51.8 L209.0 51.1 L217.9 50.5 L226.9 49.9 L235.9 49.4 L244.8 49.0 L253.8 48.7 L262.7 48.4 L271.7 48.2 L280.7 47.9 L289.6 47.7 L298.6 47.6 L307.6 47.4 L316.5 47.3 L325.5 47.1 L334.4 47.0 L343.4 46.8 L352.4 46.7 L361.3 46.5 L370.3 46.4 L379.3 46.2 L388.2 46.1 L397.2 45.9 L406.1 45.8 L415.1 45.7 L424.1 45.5 L433.0 45.4 L442.0 45.3 L451.0 45.1 L459.9 45.1 L468.9 45.0 L477.8 44.9 L486.8 44.9 L495.8 44.8 L504.7 44.8 L513.7 44.8" fill="none" stroke="#20968b" stroke-width="1.10" stroke-linejoin="round"/>
<path d="M89.6 204.3 L90.5 185.5 L91.3 176.2 L92.2 168.8 L93.0 160.6 L93.9 151.6 L94.8 142.6 L95.6 133.2 L96.5 124.9 L97.3 118.2 L98.2 112.7 L99.1 108.6 L99.9 105.4 L100.8 102.6 L101.6 100.1 L102.5 97.8 L103.4 95.7 L104.2 93.6 L105.1 91.7 L105.9 89.9 L106.8 88.2 L107.7 86.6 L108.5 85.1 L109.4 83.7 L110.2 82.4 L111.1 81.2 L111.9 80.1 L112.8 79.0 L113.7 78.0 L114.5 77.0 L115.4 76.1 L116.2 75.2 L117.1 74.4 L118.0 73.6 L118.8 72.8 L119.7 72.0 L120.5 71.3 L121.4 70.6 L122.3 69.9 L123.1 69.3 L124.0 68.6 L124.8 68.0 L125.7 67.5 L126.6 67.0 L127.4 66.5 L128.3 66.0 L129.1 65.5 L130.0 65.0 L133.0 63.5 L136.1 62.2 L139.1 61.3 L142.2 60.4 L145.2 59.7 L148.3 59.1 L151.3 58.3 L154.3 57.6 L157.4 56.9 L160.4 56.2 L163.5 55.6 L166.5 55.1 L169.6 54.7 L172.6 54.3 L175.7 53.9 L178.7 53.6 L181.7 53.2 L184.8 52.9 L187.8 52.7 L190.9 52.4 L193.9 52.1 L197.0 51.9 L200.0 51.6 L209.0 51.0 L217.9 50.3 L226.9 49.7 L235.9 49.2 L244.8 48.8 L253.8 48.5 L262.7 48.2 L271.7 48.0 L280.7 47.7 L289.6 47.5 L298.6 47.4 L307.6 47.2 L316.5 47.1 L325.5 46.9 L334.4 46.8 L343.4 46.6 L352.4 46.4 L361.3 46.3 L370.3 46.1 L379.3 46.0 L388.2 45.8 L397.2 45.7 L406.1 45.6 L415.1 45.4 L424.1 45.3 L433.0 45.1 L442.0 45.0 L451.0 44.9 L459.9 44.8 L468.9 44.7 L477.8 44.6 L486.8 44.6 L495.8 44.6 L504.7 44.5 L513.7 44.5" fill="none" stroke="#21918c" stroke-width="1.10" stroke-linejoin="round"/>
<path d="M89.6 204.3 L90.5 185.9 L91.3 176.7 L92.2 169.2 L93.0 161.0 L93.9 152.1 L94.8 143.1 L95.6 133.6 L96.5 125.2 L97.3 118.5 L98.2 112.9 L99.1 108.8 L99.9 105.5 L100.8 102.7 L101.6 100.2 L102.5 97.9 L103.4 95.8 L104.2 93.7 L105.1 91.8 L105.9 89.9 L106.8 88.2 L107.7 86.6 L108.5 85.2 L109.4 83.8 L110.2 82.5 L111.1 81.3 L111.9 80.1 L112.8 79.0 L113.7 78.0 L114.5 77.0 L115.4 76.1 L116.2 75.3 L117.1 74.4 L118.0 73.6 L118.8 72.8 L119.7 72.0 L120.5 71.3 L121.4 70.6 L122.3 69.9 L123.1 69.3 L124.0 68.6 L124.8 68.1 L125.7 67.5 L126.6 67.0 L127.4 66.5 L128.3 66.0 L129.1 65.5 L130.0 65.0 L133.0 63.5 L136.1 62.2 L139.1 61.2 L142.2 60.4 L145.2 59.7 L148.3 59.0 L151.3 58.3 L154.3 57.5 L157.4 56.8 L160.4 56.1 L163.5 55.5 L166.5 55.0 L169.6 54.6 L172.6 54.2 L175.7 53.8 L178.7 53.4 L181.7 53.1 L184.8 52.8 L187.8 52.5 L190.9 52.2 L193.9 52.0 L197.0 51.7 L200.0 51.5 L209.0 50.8 L217.9 50.1 L226.9 49.5 L235.9 49.0 L244.8 48.6 L253.8 48.3 L262.7 48.0 L271.7 47.8 L280.7 47.5 L289.6 47.3 L298.6 47.2 L307.6 47.0 L316.5 46.9 L325.5 46.7 L334.4 46.5 L343.4 46.4 L352.4 46.2 L361.3 46.1 L370.3 45.9 L379.3 45.8 L388.2 45.6 L397.2 45.5 L406.1 45.3 L415.1 45.2 L424.1 45.0 L433.0 44.9 L442.0 44.8 L451.0 44.7 L459.9 44.5 L468.9 44.5 L477.8 44.4 L486.8 44.3 L495.8 44.3 L504.7 44.2 L513.7 44.2" fill="none" stroke="#238b8d" stroke-width="1.10" stroke-linejoin="round"/>
<path d="M89.6 204.3 L90.5 186.3 L91.3 177.1 L92.2 169.6 L93.0 161.4 L93.9 152.5 L94.8 143.5 L95.6 134.0 L96.5 125.6 L97.3 118.8 L98.2 113.1 L99.1 109.0 L99.9 105.7 L100.8 102.8 L101.6 100.3 L102.5 98.0 L103.4 95.9 L104.2 93.8 L105.1 91.9 L105.9 90.0 L106.8 88.3 L107.7 86.7 L108.5 85.2 L109.4 83.8 L110.2 82.5 L111.1 81.3 L111.9 80.2 L112.8 79.1 L113.7 78.1 L114.5 77.1 L115.4 76.2 L116.2 75.3 L117.1 74.4 L118.0 73.6 L118.8 72.8 L119.7 72.1 L120.5 71.3 L121.4 70.6 L122.3 69.9 L123.1 69.3 L124.0 68.6 L124.8 68.1 L125.7 67.5 L126.6 67.0 L127.4 66.5 L128.3 65.9 L129.1 65.5 L130.0 65.0 L133.0 63.5 L136.1 62.2 L139.1 61.2 L142.2 60.4 L145.2 59.6 L148.3 58.9 L151.3 58.2 L154.3 57.5 L157.4 56.7 L160.4 56.0 L163.5 55.4 L166.5 54.9 L169.6 54.5 L172.6 54.1 L175.7 53.7 L178.7 53.3 L181.7 53.0 L184.8 52.7 L187.8 52.4 L190.9 52.1 L193.9 51.8 L197.0 51.6 L200.0 51.3 L209.0 50.6 L217.9 49.9 L226.9 49.3 L235.9 48.8 L244.8 48.4 L253.8 48.1 L262.7 47.8 L271.7 47.5 L280.7 47.3 L289.6 47.1 L298.6 47.0 L307.6 46.8 L316.5 46.6 L325.5 46.5 L334.4 46.3 L343.4 46.2 L352.4 46.0 L361.3 45.9 L370.3 45.7 L379.3 45.5 L388.2 45.4 L397.2 45.2 L406.1 45.1 L415.1 44.9 L424.1 44.8 L433.0 44.7 L442.0 44.5 L451.0 44.4 L459.9 44.3 L468.9 44.2 L477.8 44.1 L486.8 44.1 L495.8 44.0 L504.7 44.0 L513.7 43.9" fill="none" stroke="#24868e" stroke-width="1.10" stroke-linejoin="round"/>
<path d="M89.6 204.3 L90.5 186.7 L91.3 177.5 L92.2 169.9 L93.0 161.8 L93.9 153.0 L94.8 144.0 L95.6 134.4 L96.5 126.0 L97.3 119.1 L98.2 113.3 L99.1 109.1 L99.9 105.8 L100.8 103.0 L101.6 100.4 L102.5 98.1 L103.4 96.0 L104.2 93.9 L105.1 91.9 L105.9 90.1 L106.8 88.4 L107.7 86.8 L108.5 85.3 L109.4 83.9 L110.2 82.6 L111.1 81.4 L111.9 80.2 L112.8 79.1 L113.7 78.1 L114.5 77.1 L115.4 76.2 L116.2 75.3 L117.1 74.5 L118.0 73.7 L118.8 72.9 L119.7 72.1 L120.5 71.3 L121.4 70.6 L122.3 69.9 L123.1 69.3 L124.0 68.6 L124.8 68.1 L125.7 67.5 L126.6 67.0 L127.4 66.4 L128.3 65.9 L129.1 65.5 L130.0 65.0 L133.0 63.5 L136.1 62.2 L139.1 61.2 L142.2 60.3 L145.2 59.6 L148.3 58.9 L151.3 58.2 L154.3 57.4 L157.4 56.6 L160.4 55.9 L163.5 55.3 L166.5 54.8 L169.6 54.4 L172.6 53.9 L175.7 53.6 L178.7 53.2 L181.7 52.8 L184.8 52.5 L187.8 52.2 L190.9 51.9 L193.9 51.7 L197.0 51.4 L200.0 51.2 L209.0 50.5 L217.9 49.8 L226.9 49.1 L235.9 48.6 L244.8 48.2 L253.8 47.9 L262.7 47.6 L271.7 47.3 L280.7 47.1 L289.6 46.9 L298.6 46.7 L307.6 46.6 L316.5 46.4 L325.5 46.3 L334.4 46.1 L343.4 46.0 L352.4 45.8 L361.3 45.6 L370.3 45.5 L379.3 45.3 L388.2 45.2 L397.2 45.0 L406.1 44.9 L415.1 44.7 L424.1 44.6 L433.0 44.4 L442.0 44.3 L451.0 44.2 L459.9 44.0 L468.9 43.9 L477.8 43.9 L486.8 43.8 L495.8 43.7 L504.7 43.7 L513.7 43.7" fill="none" stroke="#27808e" stroke-width="1.10" stroke-linejoin="round"/>
<path d="M89.6 204.3 L90.5 187.1 L91.3 177.9 L92.2 170.3 L93.0 162.2 L93.9 153.4 L94.8 144.5 L95.6 134.8 L96.5 126.3 L97.3 119.3 L98.2 113.5 L99.1 109.3 L99.9 105.9 L100.8 103.1 L101.6 100.5 L102.5 98.2 L103.4 96.1 L104.2 94.0 L105.1 92.0 L105.9 90.2 L106.8 88.5 L107.7 86.8 L108.5 85.4 L109.4 84.0 L110.2 82.7 L111.1 81.4 L111.9 80.3 L112.8 79.2 L113.7 78.2 L114.5 77.2 L115.4 76.3 L116.2 75.4 L117.1 74.5 L118.0 73.7 L118.8 72.9 L119.7 72.1 L120.5 71.4 L121.4 70.6 L122.3 69.9 L123.1 69.3 L124.0 68.7 L124.8 68.1 L125.7 67.5 L126.6 67.0 L127.4 66.4 L128.3 65.9 L129.1 65.5 L130.0 65.0 L133.0 63.5 L136.1 62.2 L139.1 61.2 L142.2 60.3 L145.2 59.6 L148.3 58.8 L151.3 58.1 L154.3 57.3 L157.4 56.6 L160.4 55.9 L163.5 55.2 L166.5 54.7 L169.6 54.3 L172.6 53.8 L175.7 53.4 L178.7 53.1 L181.7 52.7 L184.8 52.4 L187.8 52.1 L190.9 51.8 L193.9 51.5 L197.0 51.2 L200.0 51.0 L209.0 50.3 L217.9 49.6 L226.9 48.9 L235.9 48.4 L244.8 48.0 L253.8 47.7 L262.7 47.4 L271.7 47.1 L280.7 46.9 L289.6 46.7 L298.6 46.5 L307.6 46.4 L316.5 46.2 L325.5 46.1 L334.4 45.9 L343.4 45.8 L352.4 45.6 L361.3 45.4 L370.3 45.3 L379.3 45.1 L388.2 44.9 L397.2 44.8 L406.1 44.6 L415.1 44.5 L424.1 44.3 L433.0 44.2 L442.0 44.0 L451.0 43.9 L459.9 43.8 L468.9 43.7 L477.8 43.6 L486.8 43.5 L495.8 43.5 L504.7 43.4 L513.7 43.4" fill="none" stroke="#297b8e" stroke-width="1.10" stroke-linejoin="round"/>
<path d="M89.6 204.3 L90.5 187.5 L91.3 178.3 L92.2 170.7 L93.0 162.5 L93.9 153.9 L94.8 144.9 L95.6 135.2 L96.5 126.7 L97.3 119.6 L98.2 113.6 L99.1 109.4 L99.9 106.1 L100.8 103.2 L101.6 100.6 L102.5 98.3 L103.4 96.2 L104.2 94.1 L105.1 92.1 L105.9 90.3 L106.8 88.5 L107.7 86.9 L108.5 85.4 L109.4 84.0 L110.2 82.7 L111.1 81.5 L111.9 80.3 L112.8 79.2 L113.7 78.2 L114.5 77.2 L115.4 76.3 L116.2 75.4 L117.1 74.6 L118.0 73.7 L118.8 72.9 L119.7 72.1 L120.5 71.4 L121.4 70.7 L122.3 70.0 L123.1 69.3 L124.0 68.7 L124.8 68.1 L125.7 67.5 L126.6 67.0 L127.4 66.4 L128.3 65.9 L129.1 65.4 L130.0 65.0 L133.0 63.4 L136.1 62.2 L139.1 61.1 L142.2 60.3 L145.2 59.5 L148.3 58.8 L151.3 58.0 L154.3 57.3 L157.4 56.5 L160.4 55.8 L163.5 55.1 L166.5 54.6 L169.6 54.2 L172.6 53.7 L175.7 53.3 L178.7 52.9 L181.7 52.6 L184.8 52.3 L187.8 51.9 L190.9 51.6 L193.9 51.4 L197.0 51.1 L200.0 50.8 L209.0 50.1 L217.9 49.4 L226.9 48.7 L235.9 48.2 L244.8 47.8 L253.8 47.5 L262.7 47.2 L271.7 46.9 L280.7 46.7 L289.6 46.5 L298.6 46.3 L307.6 46.2 L316.5 46.0 L325.5 45.9 L334.4 45.7 L343.4 45.6 L352.4 45.4 L361.3 45.2 L370.3 45.0 L379.3 44.9 L388.2 44.7 L397.2 44.5 L406.1 44.4 L415.1 44.2 L424.1 44.1 L433.0 43.9 L442.0 43.8 L451.0 43.7 L459.9 43.5 L468.9 43.4 L477.8 43.3 L486.8 43.3 L495.8 43.2 L504.7 43.1 L513.7 43.1" fill="none" stroke="#2b768e" stroke-width="1.10" stroke-linejoin="round"/>
<path d="M89.6 204.3 L90.5 187.9 L91.3 178.7 L92.2 171.0 L93.0 162.9 L93.9 154.3 L94.8 145.4 L95.6 135.7 L96.5 127.1 L97.3 119.9 L98.2 113.8 L99.1 109.6 L99.9 106.2 L100.8 103.3 L101.6 100.8 L102.5 98.4 L103.4 96.3 L104.2 94.2 L105.1 92.2 L105.9 90.3 L106.8 88.6 L107.7 87.0 L108.5 85.5 L109.4 84.1 L110.2 82.8 L111.1 81.5 L111.9 80.4 L112.8 79.3 L113.7 78.3 L114.5 77.3 L115.4 76.3 L116.2 75.5 L117.1 74.6 L118.0 73.8 L118.8 73.0 L119.7 72.2 L120.5 71.4 L121.4 70.7 L122.3 70.0 L123.1 69.3 L124.0 68.7 L124.8 68.1 L125.7 67.5 L126.6 67.0 L127.4 66.4 L128.3 65.9 L129.1 65.4 L130.0 65.0 L133.0 63.4 L136.1 62.2 L139.1 61.1 L142.2 60.2 L145.2 59.5 L148.3 58.7 L151.3 58.0 L154.3 57.2 L157.4 56.4 L160.4 55.7 L163.5 55.1 L166.5 54.5 L169.6 54.0 L172.6 53.6 L175.7 53.2 L178.7 52.8 L181.7 52.5 L184.8 52.1 L187.8 51.8 L190.9 51.5 L193.9 51.2 L197.0 50.9 L200.0 50.7 L209.0 50.0 L217.9 49.2 L226.9 48.5 L235.9 48.0 L244.8 47.6 L253.8 47.3 L262.7 47.0 L271.7 46.7 L280.7 46.5 L289.6 46.3 L298.6 46.1 L307.6 46.0 L316.5 45.8 L325.5 45.7 L334.4 45.5 L343.4 45.3 L352.4 45.2 L361.3 45.0 L370.3 44.8 L379.3 44.6 L388.2 44.5 L397.2 44.3 L406.1 44.1 L415.1 44.0 L424.1 43.8 L433.0 43.7 L442.0 43.5 L451.0 43.4 L459.9 43.3 L468.9 43.2 L477.8 43.1 L486.8 43.0 L495.8 42.9 L504.7 42.9 L513.7 42.8" fill="none" stroke="#2d718e" stroke-width="1.10" stroke-linejoin="round"/>
<path d="M89.6 204.3 L90.5 188.3 L91.3 179.2 L92.2 171.4 L93.0 163.3 L93.9 154.8 L94.8 145.8 L95.6 136.1 L96.5 127.4 L97.3 120.2 L98.2 114.0 L99.1 109.7 L99.9 106.3 L100.8 103.4 L101.6 100.9 L102.5 98.5 L103.4 96.4 L104.2 94.3 L105.1 92.3 L105.9 90.4 L106.8 88.7 L107.7 87.1 L108.5 85.5 L109.4 84.1 L110.2 82.8 L111.1 81.6 L111.9 80.4 L112.8 79.3 L113.7 78.3 L114.5 77.3 L115.4 76.4 L116.2 75.5 L117.1 74.6 L118.0 73.8 L118.8 73.0 L119.7 72.2 L120.5 71.4 L121.4 70.7 L122.3 70.0 L123.1 69.3 L124.0 68.7 L124.8 68.1 L125.7 67.5 L126.6 67.0 L127.4 66.4 L128.3 65.9 L129.1 65.4 L130.0 65.0 L133.0 63.4 L136.1 62.1 L139.1 61.1 L142.2 60.2 L145.2 59.4 L148.3 58.7 L151.3 57.9 L154.3 57.1 L157.4 56.3 L160.4 55.6 L163.5 55.0 L166.5 54.4 L169.6 53.9 L172.6 53.5 L175.7 53.1 L178.7 52.7 L181.7 52.3 L184.8 52.0 L187.8 51.7 L190.9 51.3 L193.9 51.1 L197.0 50.8 L200.0 50.5 L209.0 49.8 L217.9 49.0 L226.9 48.3 L235.9 47.8 L244.8 47.4 L253.8 47.1 L262.7 46.8 L271.7 46.5 L280.7 46.3 L289.6 46.1 L298.6 45.9 L307.6 45.8 L316.5 45.6 L325.5 45.5 L334.4 45.3 L343.4 45.1 L352.4 45.0 L361.3 44.8 L370.3 44.6 L379.3 44.4 L388.2 44.2 L397.2 44.1 L406.1 43.9 L415.1 43.8 L424.1 43.6 L433.0 43.4 L442.0 43.3 L451.0 43.2 L459.9 43.0 L468.9 42.9 L477.8 42.8 L486.8 42.7 L495.8 42.7 L504.7 42.6 L513.7 42.5" fill="none" stroke="#2f6b8e" stroke-width="1.10" stroke-linejoin="round"/>
<path d="M89.6 204.3 L90.5 188.7 L91.3 179.6 L92.2 171.8 L93.0 163.7 L93.9 155.2 L94.8 146.3 L95.6 136.5 L96.5 127.8 L97.3 120.4 L98.2 114.2 L99.1 109.9 L99.9 106.5 L100.8 103.5 L101.6 101.0 L102.5 98.6 L103.4 96.5 L104.2 94.4 L105.1 92.4 L105.9 90.5 L106.8 88.8 L107.7 87.1 L108.5 85.6 L109.4 84.2 L110.2 82.9 L111.1 81.7 L111.9 80.5 L112.8 79.4 L113.7 78.3 L114.5 77.4 L115.4 76.4 L116.2 75.5 L117.1 74.7 L118.0 73.8 L118.8 73.0 L119.7 72.2 L120.5 71.4 L121.4 70.7 L122.3 70.0 L123.1 69.3 L124.0 68.7 L124.8 68.1 L125.7 67.5 L126.6 67.0 L127.4 66.4 L128.3 65.9 L129.1 65.4 L130.0 65.0 L133.0 63.4 L136.1 62.1 L139.1 61.1 L142.2 60.2 L145.2 59.4 L148.3 58.6 L151.3 57.8 L154.3 57.0 L157.4 56.3 L160.4 55.5 L163.5 54.9 L166.5 54.3 L169.6 53.8 L172.6 53.4 L175.7 53.0 L178.7 52.6 L181.7 52.2 L184.8 51.8 L187.8 51.5 L190.9 51.2 L193.9 50.9 L197.0 50.6 L200.0 50.4 L209.0 49.6 L217.9 48.8 L226.9 48.1 L235.9 47.6 L244.8 47.2 L253.8 46.9 L262.7 46.6 L271.7 46.3 L280.7 46.1 L289.6 45.9 L298.6 45.7 L307.6 45.6 L316.5 45.4 L325.5 45.3 L334.4 45.1 L343.4 44.9 L352.4 44.7 L361.3 44.6 L370.3 44.4 L379.3 44.2 L388.2 44.0 L397.2 43.8 L406.1 43.7 L415.1 43.5 L424.1 43.4 L433.0 43.2 L442.0 43.1 L451.0 42.9 L459.9 42.8 L468.9 42.7 L477.8 42.6 L486.8 42.5 L495.8 42.4 L504.7 42.3 L513.7 42.2" fill="none" stroke="#32668e" stroke-width="1.10" stroke-linejoin="round"/>
<path d="M89.6 204.3 L90.5 189.1 L91.3 180.0 L92.2 172.1 L93.0 164.1 L93.9 155.7 L94.8 146.8 L95.6 136.9 L96.5 128.1 L97.3 120.7 L98.2 114.4 L99.1 110.1 L99.9 106.6 L100.8 103.7 L101.6 101.1 L102.5 98.7 L103.4 96.6 L104.2 94.5 L105.1 92.5 L105.9 90.6 L106.8 88.8 L107.7 87.2 L108.5 85.7 L109.4 84.3 L110.2 82.9 L111.1 81.7 L111.9 80.5 L112.8 79.4 L113.7 78.4 L114.5 77.4 L115.4 76.5 L116.2 75.6 L117.1 74.7 L118.0 73.9 L118.8 73.0 L119.7 72.2 L120.5 71.5 L121.4 70.7 L122.3 70.0 L123.1 69.3 L124.0 68.7 L124.8 68.1 L125.7 67.5 L126.6 67.0 L127.4 66.4 L128.3 65.9 L129.1 65.4 L130.0 65.0 L133.0 63.4 L136.1 62.1 L139.1 61.1 L142.2 60.2 L145.2 59.3 L148.3 58.6 L151.3 57.8 L154.3 57.0 L157.4 56.2 L160.4 55.4 L163.5 54.8 L166.5 54.2 L169.6 53.7 L172.6 53.3 L175.7 52.8 L178.7 52.4 L181.7 52.1 L184.8 51.7 L187.8 51.4 L190.9 51.0 L193.9 50.7 L197.0 50.5 L200.0 50.2 L209.0 49.5 L217.9 48.7 L226.9 47.9 L235.9 47.4 L244.8 47.0 L253.8 46.7 L262.7 46.4 L271.7 46.1 L280.7 45.9 L289.6 45.7 L298.6 45.5 L307.6 45.4 L316.5 45.2 L325.5 45.1 L334.4 44.9 L343.4 44.7 L352.4 44.5 L361.3 44.3 L370.3 44.1 L379.3 44.0 L388.2 43.8 L397.2 43.6 L406.1 43.4 L415.1 43.3 L424.1 43.1 L433.0 43.0 L442.0 42.8 L451.0 42.7 L459.9 42.5 L468.9 42.4 L477.8 42.3 L486.8 42.2 L495.8 42.1 L504.7 42.0 L513.7 42.0" fill="none" stroke="#34608d" stroke-width="1.10" stroke-linejoin="round"/>
<path d="M89.6 204.3 L90.5 189.5 L91.3 180.4 L92.2 172.5 L93.0 164.5 L93.9 156.1 L94.8 147.2 L95.6 137.3 L96.5 128.5 L97.3 121.0 L98.2 114.6 L99.1 110.2 L99.9 106.7 L100.8 103.8 L101.6 101.2 L102.5 98.8 L103.4 96.6 L104.2 94.6 L105.1 92.6 L105.9 90.7 L106.8 88.9 L107.7 87.3 L108.5 85.7 L109.4 84.3 L110.2 83.0 L111.1 81.8 L111.9 80.6 L112.8 79.5 L113.7 78.4 L114.5 77.5 L115.4 76.5 L116.2 75.6 L117.1 74.7 L118.0 73.9 L118.8 73.1 L119.7 72.3 L120.5 71.5 L121.4 70.7 L122.3 70.0 L123.1 69.3 L124.0 68.7 L124.8 68.1 L125.7 67.5 L126.6 67.0 L127.4 66.4 L128.3 65.9 L129.1 65.4 L130.0 64.9 L133.0 63.4 L136.1 62.1 L139.1 61.0 L142.2 60.1 L145.2 59.3 L148.3 58.5 L151.3 57.7 L154.3 56.9 L157.4 56.1 L160.4 55.3 L163.5 54.7 L166.5 54.1 L169.6 53.6 L172.6 53.2 L175.7 52.7 L178.7 52.3 L181.7 51.9 L184.8 51.6 L187.8 51.2 L190.9 50.9 L193.9 50.6 L197.0 50.3 L200.0 50.0 L209.0 49.3 L217.9 48.5 L226.9 47.7 L235.9 47.2 L244.8 46.8 L253.8 46.5 L262.7 46.2 L271.7 45.9 L280.7 45.7 L289.6 45.5 L298.6 45.3 L307.6 45.2 L316.5 45.0 L325.5 44.9 L334.4 44.7 L343.4 44.5 L352.4 44.3 L361.3 44.1 L370.3 43.9 L379.3 43.7 L388.2 43.6 L397.2 43.4 L406.1 43.2 L415.1 43.0 L424.1 42.9 L433.0 42.7 L442.0 42.6 L451.0 42.4 L459.9 42.3 L468.9 42.2 L477.8 42.0 L486.8 41.9 L495.8 41.8 L504.7 41.8 L513.7 41.7" fill="none" stroke="#375a8c" stroke-width="1.10" stroke-linejoin="round"/>
<path d="M89.6 204.3 L90.5 190.0 L91.3 180.8 L92.2 172.9 L93.0 164.9 L93.9 156.6 L94.8 147.7 L95.6 137.7 L96.5 128.9 L97.3 121.3 L98.2 114.8 L99.1 110.4 L99.9 106.9 L100.8 103.9 L101.6 101.3 L102.5 98.9 L103.4 96.7 L104.2 94.7 L105.1 92.6 L105.9 90.7 L106.8 89.0 L107.7 87.3 L108.5 85.8 L109.4 84.4 L110.2 83.1 L111.1 81.8 L111.9 80.6 L112.8 79.5 L113.7 78.5 L114.5 77.5 L115.4 76.6 L116.2 75.6 L117.1 74.8 L118.0 73.9 L118.8 73.1 L119.7 72.3 L120.5 71.5 L121.4 70.8 L122.3 70.0 L123.1 69.3 L124.0 68.7 L124.8 68.1 L125.7 67.5 L126.6 67.0 L127.4 66.4 L128.3 65.9 L129.1 65.4 L130.0 64.9 L133.0 63.4 L136.1 62.1 L139.1 61.0 L142.2 60.1 L145.2 59.3 L148.3 58.5 L151.3 57.7 L154.3 56.8 L157.4 56.0 L160.4 55.3 L163.5 54.6 L166.5 54.0 L169.6 53.5 L172.6 53.0 L175.7 52.6 L178.7 52.2 L181.7 51.8 L184.8 51.4 L187.8 51.1 L190.9 50.8 L193.9 50.4 L197.0 50.2 L200.0 49.9 L209.0 49.1 L217.9 48.3 L226.9 47.5 L235.9 47.0 L244.8 46.6 L253.8 46.3 L262.7 46.0 L271.7 45.7 L280.7 45.5 L289.6 45.3 L298.6 45.1 L307.6 45.0 L316.5 44.8 L325.5 44.6 L334.4 44.5 L343.4 44.3 L352.4 44.1 L361.3 43.9 L370.3 43.7 L379.3 43.5 L388.2 43.3 L397.2 43.1 L406.1 43.0 L415.1 42.8 L424.1 42.6 L433.0 42.5 L442.0 42.3 L451.0 42.2 L459.9 42.0 L468.9 41.9 L477.8 41.8 L486.8 41.7 L495.8 41.6 L504.7 41.5 L513.7 41.4" fill="none" stroke="#3a558b" stroke-width="1.10" stroke-linejoin="round"/>
<path d="M89.6 204.3 L90.5 190.4 L91.3 181.2 L92.2 173.2 L93.0 165.2 L93.9 157.0 L94.8 148.1 L95.6 138.2 L96.5 129.2 L97.3 121.5 L98.2 115.0 L99.1 110.5 L99.9 107.0 L100.8 104.0 L101.6 101.4 L102.5 99.0 L103.4 96.8 L104.2 94.8 L105.1 92.7 L105.9 90.8 L106.8 89.1 L107.7 87.4 L108.5 85.9 L109.4 84.4 L110.2 83.1 L111.1 81.9 L111.9 80.7 L112.8 79.6 L113.7 78.5 L114.5 77.5 L115.4 76.6 L116.2 75.7 L117.1 74.8 L118.0 74.0 L118.8 73.1 L119.7 72.3 L120.5 71.5 L121.4 70.8 L122.3 70.0 L123.1 69.4 L124.0 68.7 L124.8 68.1 L125.7 67.5 L126.6 67.0 L127.4 66.4 L128.3 65.9 L129.1 65.4 L130.0 64.9 L133.0 63.4 L136.1 62.1 L139.1 61.0 L142.2 60.1 L145.2 59.2 L148.3 58.4 L151.3 57.6 L154.3 56.8 L157.4 55.9 L160.4 55.2 L163.5 54.5 L166.5 53.9 L169.6 53.4 L172.6 52.9 L175.7 52.5 L178.7 52.1 L181.7 51.7 L184.8 51.3 L187.8 50.9 L190.9 50.6 L193.9 50.3 L197.0 50.0 L200.0 49.7 L209.0 49.0 L217.9 48.1 L226.9 47.3 L235.9 46.8 L244.8 46.4 L253.8 46.1 L262.7 45.8 L271.7 45.5 L280.7 45.3 L289.6 45.1 L298.6 44.9 L307.6 44.8 L316.5 44.6 L325.5 44.4 L334.4 44.3 L343.4 44.1 L352.4 43.9 L361.3 43.7 L370.3 43.5 L379.3 43.3 L388.2 43.1 L397.2 42.9 L406.1 42.7 L415.1 42.6 L424.1 42.4 L433.0 42.2 L442.0 42.1 L451.0 41.9 L459.9 41.8 L468.9 41.6 L477.8 41.5 L486.8 41.4 L495.8 41.3 L504.7 41.2 L513.7 41.1" fill="none" stroke="#3c4f8a" stroke-width="1.10" stroke-linejoin="round"/>
<path d="M89.6 204.3 L90.5 190.8 L91.3 181.7 L92.2 173.6 L93.0 165.6 L93.9 157.5 L94.8 148.6 L95.6 138.6 L96.5 129.6 L97.3 121.8 L98.2 115.2 L99.1 110.7 L99.9 107.2 L100.8 104.1 L101.6 101.5 L102.5 99.1 L103.4 96.9 L104.2 94.8 L105.1 92.8 L105.9 90.9 L106.8 89.1 L107.7 87.5 L108.5 85.9 L109.4 84.5 L110.2 83.2 L111.1 81.9 L111.9 80.8 L112.8 79.6 L113.7 78.6 L114.5 77.6 L115.4 76.6 L116.2 75.7 L117.1 74.8 L118.0 74.0 L118.8 73.2 L119.7 72.3 L120.5 71.5 L121.4 70.8 L122.3 70.1 L123.1 69.4 L124.0 68.7 L124.8 68.1 L125.7 67.5 L126.6 66.9 L127.4 66.4 L128.3 65.9 L129.1 65.4 L130.0 64.9 L133.0 63.4 L136.1 62.1 L139.1 61.0 L142.2 60.0 L145.2 59.2 L148.3 58.4 L151.3 57.5 L154.3 56.7 L157.4 55.9 L160.4 55.1 L163.5 54.4 L166.5 53.8 L169.6 53.3 L172.6 52.8 L175.7 52.4 L178.7 51.9 L181.7 51.5 L184.8 51.2 L187.8 50.8 L190.9 50.5 L193.9 50.1 L197.0 49.9 L200.0 49.6 L209.0 48.8 L217.9 47.9 L226.9 47.2 L235.9 46.6 L244.8 46.2 L253.8 45.9 L262.7 45.5 L271.7 45.3 L280.7 45.0 L289.6 44.9 L298.6 44.7 L307.6 44.6 L316.5 44.4 L325.5 44.2 L334.4 44.1 L343.4 43.9 L352.4 43.7 L361.3 43.5 L370.3 43.3 L379.3 43.1 L388.2 42.9 L397.2 42.7 L406.1 42.5 L415.1 42.3 L424.1 42.2 L433.0 42.0 L442.0 41.8 L451.0 41.7 L459.9 41.5 L468.9 41.4 L477.8 41.3 L486.8 41.1 L495.8 41.0 L504.7 40.9 L513.7 40.8" fill="none" stroke="#3f4988" stroke-width="1.10" stroke-linejoin="round"/>
<path d="M89.6 204.3 L90.5 191.2 L91.3 182.1 L92.2 174.0 L93.0 166.0 L93.9 157.9 L94.8 149.1 L95.6 139.0 L96.5 130.0 L97.3 122.1 L98.2 115.4 L99.1 110.8 L99.9 107.3 L100.8 104.2 L101.6 101.6 L102.5 99.2 L103.4 97.0 L104.2 94.9 L105.1 92.9 L105.9 91.0 L106.8 89.2 L107.7 87.5 L108.5 86.0 L109.4 84.6 L110.2 83.2 L111.1 82.0 L111.9 80.8 L112.8 79.7 L113.7 78.6 L114.5 77.6 L115.4 76.7 L116.2 75.8 L117.1 74.9 L118.0 74.0 L118.8 73.2 L119.7 72.4 L120.5 71.6 L121.4 70.8 L122.3 70.1 L123.1 69.4 L124.0 68.7 L124.8 68.1 L125.7 67.5 L126.6 66.9 L127.4 66.4 L128.3 65.9 L129.1 65.4 L130.0 64.9 L133.0 63.4 L136.1 62.1 L139.1 60.9 L142.2 60.0 L145.2 59.1 L148.3 58.3 L151.3 57.5 L154.3 56.6 L157.4 55.8 L160.4 55.0 L163.5 54.3 L166.5 53.7 L169.6 53.2 L172.6 52.7 L175.7 52.2 L178.7 51.8 L181.7 51.4 L184.8 51.0 L187.8 50.7 L190.9 50.3 L193.9 50.0 L197.0 49.7 L200.0 49.4 L209.0 48.6 L217.9 47.8 L226.9 47.0 L235.9 46.4 L244.8 46.0 L253.8 45.7 L262.7 45.3 L271.7 45.1 L280.7 44.8 L289.6 44.7 L298.6 44.5 L307.6 44.4 L316.5 44.2 L325.5 44.0 L334.4 43.9 L343.4 43.7 L352.4 43.5 L361.3 43.2 L370.3 43.0 L379.3 42.8 L388.2 42.6 L397.2 42.5 L406.1 42.3 L415.1 42.1 L424.1 41.9 L433.0 41.7 L442.0 41.6 L451.0 41.4 L459.9 41.3 L468.9 41.1 L477.8 41.0 L486.8 40.9 L495.8 40.8 L504.7 40.6 L513.7 40.5" fill="none" stroke="#414386" stroke-width="1.10" stroke-linejoin="round"/>
<path d="M89.6 204.3 L90.5 191.6 L91.3 182.5 L92.2 174.3 L93.0 166.4 L93.9 158.4 L94.8 149.5 L95.6 139.4 L96.5 130.3 L97.3 122.4 L98.2 115.6 L99.1 111.0 L99.9 107.4 L100.8 104.4 L101.6 101.7 L102.5 99.3 L103.4 97.1 L104.2 95.0 L105.1 93.0 L105.9 91.1 L106.8 89.3 L107.7 87.6 L108.5 86.1 L109.4 84.6 L110.2 83.3 L111.1 82.0 L111.9 80.9 L112.8 79.7 L113.7 78.7 L114.5 77.7 L115.4 76.7 L116.2 75.8 L117.1 74.9 L118.0 74.1 L118.8 73.2 L119.7 72.4 L120.5 71.6 L121.4 70.8 L122.3 70.1 L123.1 69.4 L124.0 68.7 L124.8 68.1 L125.7 67.5 L126.6 66.9 L127.4 66.4 L128.3 65.9 L129.1 65.4 L130.0 64.9 L133.0 63.4 L136.1 62.0 L139.1 60.9 L142.2 60.0 L145.2 59.1 L148.3 58.2 L151.3 57.4 L154.3 56.5 L157.4 55.7 L160.4 54.9 L163.5 54.2 L166.5 53.6 L169.6 53.1 L172.6 52.6 L175.7 52.1 L178.7 51.7 L181.7 51.3 L184.8 50.9 L187.8 50.5 L190.9 50.2 L193.9 49.8 L197.0 49.5 L200.0 49.3 L209.0 48.5 L217.9 47.6 L226.9 46.8 L235.9 46.2 L244.8 45.8 L253.8 45.5 L262.7 45.1 L271.7 44.9 L280.7 44.6 L289.6 44.4 L298.6 44.3 L307.6 44.1 L316.5 44.0 L325.5 43.8 L334.4 43.6 L343.4 43.4 L352.4 43.2 L361.3 43.0 L370.3 42.8 L379.3 42.6 L388.2 42.4 L397.2 42.2 L406.1 42.0 L415.1 41.9 L424.1 41.7 L433.0 41.5 L442.0 41.3 L451.0 41.2 L459.9 41.0 L468.9 40.9 L477.8 40.7 L486.8 40.6 L495.8 40.5 L504.7 40.4 L513.7 40.3" fill="none" stroke="#443c83" stroke-width="1.10" stroke-linejoin="round"/>
<path d="M89.6 204.3 L90.5 192.0 L91.3 182.9 L92.2 174.7 L93.0 166.8 L93.9 158.8 L94.8 150.0 L95.6 139.8 L96.5 130.7 L97.3 122.6 L98.2 115.8 L99.1 111.2 L99.9 107.6 L100.8 104.5 L101.6 101.8 L102.5 99.4 L103.4 97.2 L104.2 95.1 L105.1 93.1 L105.9 91.1 L106.8 89.4 L107.7 87.7 L108.5 86.1 L109.4 84.7 L110.2 83.3 L111.1 82.1 L111.9 80.9 L112.8 79.8 L113.7 78.7 L114.5 77.7 L115.4 76.8 L116.2 75.8 L117.1 75.0 L118.0 74.1 L118.8 73.2 L119.7 72.4 L120.5 71.6 L121.4 70.8 L122.3 70.1 L123.1 69.4 L124.0 68.7 L124.8 68.1 L125.7 67.5 L126.6 66.9 L127.4 66.4 L128.3 65.9 L129.1 65.4 L130.0 64.9 L133.0 63.4 L136.1 62.0 L139.1 60.9 L142.2 59.9 L145.2 59.0 L148.3 58.2 L151.3 57.3 L154.3 56.5 L157.4 55.6 L160.4 54.8 L163.5 54.1 L166.5 53.5 L169.6 53.0 L172.6 52.5 L175.7 52.0 L178.7 51.6 L181.7 51.1 L184.8 50.7 L187.8 50.4 L190.9 50.0 L193.9 49.7 L197.0 49.4 L200.0 49.1 L209.0 48.3 L217.9 47.4 L226.9 46.6 L235.9 46.1 L244.8 45.6 L253.8 45.2 L262.7 44.9 L271.7 44.7 L280.7 44.4 L289.6 44.2 L298.6 44.1 L307.6 43.9 L316.5 43.8 L325.5 43.6 L334.4 43.4 L343.4 43.2 L352.4 43.0 L361.3 42.8 L370.3 42.6 L379.3 42.4 L388.2 42.2 L397.2 42.0 L406.1 41.8 L415.1 41.6 L424.1 41.4 L433.0 41.3 L442.0 41.1 L451.0 40.9 L459.9 40.8 L468.9 40.6 L477.8 40.5 L486.8 40.3 L495.8 40.2 L504.7 40.1 L513.7 40.0" fill="none" stroke="#463580" stroke-width="1.10" stroke-linejoin="round"/>
<path d="M89.6 204.3 L90.5 192.4 L91.3 183.3 L92.2 175.1 L93.0 167.2 L93.9 159.3 L94.8 150.4 L95.6 140.2 L96.5 131.0 L97.3 122.9 L98.2 116.0 L99.1 111.3 L99.9 107.7 L100.8 104.6 L101.6 101.9 L102.5 99.5 L103.4 97.3 L104.2 95.2 L105.1 93.2 L105.9 91.2 L106.8 89.4 L107.7 87.7 L108.5 86.2 L109.4 84.7 L110.2 83.4 L111.1 82.1 L111.9 81.0 L112.8 79.8 L113.7 78.8 L114.5 77.8 L115.4 76.8 L116.2 75.9 L117.1 75.0 L118.0 74.1 L118.8 73.3 L119.7 72.4 L120.5 71.6 L121.4 70.9 L122.3 70.1 L123.1 69.4 L124.0 68.7 L124.8 68.1 L125.7 67.5 L126.6 66.9 L127.4 66.4 L128.3 65.9 L129.1 65.4 L130.0 64.9 L133.0 63.4 L136.1 62.0 L139.1 60.9 L142.2 59.9 L145.2 59.0 L148.3 58.1 L151.3 57.3 L154.3 56.4 L157.4 55.6 L160.4 54.8 L163.5 54.0 L166.5 53.4 L169.6 52.9 L172.6 52.4 L175.7 51.9 L178.7 51.4 L181.7 51.0 L184.8 50.6 L187.8 50.2 L190.9 49.9 L193.9 49.5 L197.0 49.2 L200.0 48.9 L209.0 48.1 L217.9 47.2 L226.9 46.4 L235.9 45.9 L244.8 45.4 L253.8 45.0 L262.7 44.7 L271.7 44.5 L280.7 44.2 L289.6 44.0 L298.6 43.9 L307.6 43.7 L316.5 43.6 L325.5 43.4 L334.4 43.2 L343.4 43.0 L352.4 42.8 L361.3 42.6 L370.3 42.4 L379.3 42.2 L388.2 42.0 L397.2 41.8 L406.1 41.6 L415.1 41.4 L424.1 41.2 L433.0 41.0 L442.0 40.8 L451.0 40.7 L459.9 40.5 L468.9 40.4 L477.8 40.2 L486.8 40.1 L495.8 39.9 L504.7 39.8 L513.7 39.7" fill="none" stroke="#472e7c" stroke-width="1.10" stroke-linejoin="round"/>
<path d="M89.6 204.3 L90.5 192.8 L91.3 183.7 L92.2 175.4 L93.0 167.5 L93.9 159.7 L94.8 150.9 L95.6 140.6 L96.5 131.4 L97.3 123.2 L98.2 116.2 L99.1 111.5 L99.9 107.8 L100.8 104.7 L101.6 102.0 L102.5 99.6 L103.4 97.4 L104.2 95.3 L105.1 93.2 L105.9 91.3 L106.8 89.5 L107.7 87.8 L108.5 86.3 L109.4 84.8 L110.2 83.5 L111.1 82.2 L111.9 81.0 L112.8 79.9 L113.7 78.8 L114.5 77.8 L115.4 76.9 L116.2 75.9 L117.1 75.0 L118.0 74.2 L118.8 73.3 L119.7 72.5 L120.5 71.6 L121.4 70.9 L122.3 70.1 L123.1 69.4 L124.0 68.7 L124.8 68.1 L125.7 67.5 L126.6 66.9 L127.4 66.4 L128.3 65.9 L129.1 65.4 L130.0 64.9 L133.0 63.3 L136.1 62.0 L139.1 60.9 L142.2 59.9 L145.2 58.9 L148.3 58.1 L151.3 57.2 L154.3 56.3 L157.4 55.5 L160.4 54.7 L163.5 53.9 L166.5 53.3 L169.6 52.8 L172.6 52.3 L175.7 51.8 L178.7 51.3 L181.7 50.9 L184.8 50.5 L187.8 50.1 L190.9 49.7 L193.9 49.4 L197.0 49.1 L200.0 48.8 L209.0 47.9 L217.9 47.0 L226.9 46.2 L235.9 45.7 L244.8 45.2 L253.8 44.8 L262.7 44.5 L271.7 44.2 L280.7 44.0 L289.6 43.8 L298.6 43.7 L307.6 43.5 L316.5 43.4 L325.5 43.2 L334.4 43.0 L343.4 42.8 L352.4 42.6 L361.3 42.4 L370.3 42.2 L379.3 41.9 L388.2 41.7 L397.2 41.5 L406.1 41.3 L415.1 41.1 L424.1 41.0 L433.0 40.8 L442.0 40.6 L451.0 40.4 L459.9 40.3 L468.9 40.1 L477.8 40.0 L486.8 39.8 L495.8 39.7 L504.7 39.5 L513.7 39.4" fill="none" stroke="#482777" stroke-width="1.10" stroke-linejoin="round"/>
<path d="M89.6 204.3 L90.5 193.2 L91.3 184.2 L92.2 175.8 L93.0 167.9 L93.9 160.1 L94.8 151.3 L95.6 141.1 L96.5 131.8 L97.3 123.5 L98.2 116.4 L99.1 111.6 L99.9 108.0 L100.8 104.8 L101.6 102.1 L102.5 99.7 L103.4 97.5 L104.2 95.4 L105.1 93.3 L105.9 91.4 L106.8 89.6 L107.7 87.9 L108.5 86.3 L109.4 84.9 L110.2 83.5 L111.1 82.3 L111.9 81.1 L112.8 79.9 L113.7 78.9 L114.5 77.9 L115.4 76.9 L116.2 76.0 L117.1 75.1 L118.0 74.2 L118.8 73.3 L119.7 72.5 L120.5 71.7 L121.4 70.9 L122.3 70.1 L123.1 69.4 L124.0 68.7 L124.8 68.1 L125.7 67.5 L126.6 66.9 L127.4 66.4 L128.3 65.9 L129.1 65.4 L130.0 64.9 L133.0 63.3 L136.1 62.0 L139.1 60.8 L142.2 59.8 L145.2 58.9 L148.3 58.0 L151.3 57.2 L154.3 56.3 L157.4 55.4 L160.4 54.6 L163.5 53.9 L166.5 53.2 L169.6 52.7 L172.6 52.1 L175.7 51.6 L178.7 51.2 L181.7 50.7 L184.8 50.3 L187.8 49.9 L190.9 49.6 L193.9 49.2 L197.0 48.9 L200.0 48.6 L209.0 47.8 L217.9 46.9 L226.9 46.0 L235.9 45.5 L244.8 45.0 L253.8 44.6 L262.7 44.3 L271.7 44.0 L280.7 43.8 L289.6 43.6 L298.6 43.5 L307.6 43.3 L316.5 43.2 L325.5 43.0 L334.4 42.8 L343.4 42.6 L352.4 42.4 L361.3 42.2 L370.3 41.9 L379.3 41.7 L388.2 41.5 L397.2 41.3 L406.1 41.1 L415.1 40.9 L424.1 40.7 L433.0 40.5 L442.0 40.4 L451.0 40.2 L459.9 40.0 L468.9 39.8 L477.8 39.7 L486.8 39.5 L495.8 39.4 L504.7 39.3 L513.7 39.1" fill="none" stroke="#482071" stroke-width="1.10" stroke-linejoin="round"/>
<path d="M89.6 204.3 L90.5 193.6 L91.3 184.6 L92.2 176.2 L93.0 168.3 L93.9 160.6 L94.8 151.8 L95.6 141.5 L96.5 132.1 L97.3 123.7 L98.2 116.6 L99.1 111.8 L99.9 108.1 L100.8 104.9 L101.6 102.2 L102.5 99.8 L103.4 97.6 L104.2 95.5 L105.1 93.4 L105.9 91.5 L106.8 89.6 L107.7 88.0 L108.5 86.4 L109.4 84.9 L110.2 83.6 L111.1 82.3 L111.9 81.1 L112.8 80.0 L113.7 78.9 L114.5 77.9 L115.4 76.9 L116.2 76.0 L117.1 75.1 L118.0 74.2 L118.8 73.4 L119.7 72.5 L120.5 71.7 L121.4 70.9 L122.3 70.1 L123.1 69.4 L124.0 68.7 L124.8 68.1 L125.7 67.5 L126.6 66.9 L127.4 66.4 L128.3 65.9 L129.1 65.4 L130.0 64.9 L133.0 63.3 L136.1 62.0 L139.1 60.8 L142.2 59.8 L145.2 58.9 L148.3 58.0 L151.3 57.1 L154.3 56.2 L157.4 55.3 L160.4 54.5 L163.5 53.8 L166.5 53.1 L169.6 52.6 L172.6 52.0 L175.7 51.5 L178.7 51.1 L181.7 50.6 L184.8 50.2 L187.8 49.8 L190.9 49.4 L193.9 49.1 L197.0 48.8 L200.0 48.5 L209.0 47.6 L217.9 46.7 L226.9 45.8 L235.9 45.3 L244.8 44.8 L253.8 44.4 L262.7 44.1 L271.7 43.8 L280.7 43.6 L289.6 43.4 L298.6 43.3 L307.6 43.1 L316.5 43.0 L325.5 42.8 L334.4 42.6 L343.4 42.4 L352.4 42.2 L361.3 41.9 L370.3 41.7 L379.3 41.5 L388.2 41.3 L397.2 41.1 L406.1 40.9 L415.1 40.7 L424.1 40.5 L433.0 40.3 L442.0 40.1 L451.0 39.9 L459.9 39.8 L468.9 39.6 L477.8 39.4 L486.8 39.3 L495.8 39.1 L504.7 39.0 L513.7 38.8" fill="none" stroke="#47186a" stroke-width="1.10" stroke-linejoin="round"/>
<path d="M89.6 204.3 L90.5 194.0 L91.3 185.0 L92.2 176.5 L93.0 168.7 L93.9 161.0 L94.8 152.3 L95.6 141.9 L96.5 132.5 L97.3 124.0 L98.2 116.8 L99.1 111.9 L99.9 108.2 L100.8 105.1 L101.6 102.3 L102.5 99.9 L103.4 97.7 L104.2 95.6 L105.1 93.5 L105.9 91.5 L106.8 89.7 L107.7 88.0 L108.5 86.4 L109.4 85.0 L110.2 83.6 L111.1 82.4 L111.9 81.2 L112.8 80.0 L113.7 79.0 L114.5 78.0 L115.4 77.0 L116.2 76.0 L117.1 75.1 L118.0 74.2 L118.8 73.4 L119.7 72.5 L120.5 71.7 L121.4 70.9 L122.3 70.2 L123.1 69.4 L124.0 68.7 L124.8 68.1 L125.7 67.5 L126.6 66.9 L127.4 66.4 L128.3 65.9 L129.1 65.4 L130.0 64.9 L133.0 63.3 L136.1 62.0 L139.1 60.8 L142.2 59.8 L145.2 58.8 L148.3 57.9 L151.3 57.0 L154.3 56.1 L157.4 55.2 L160.4 54.4 L163.5 53.7 L166.5 53.0 L169.6 52.5 L172.6 51.9 L175.7 51.4 L178.7 50.9 L181.7 50.5 L184.8 50.1 L187.8 49.7 L190.9 49.3 L193.9 48.9 L197.0 48.6 L200.0 48.3 L209.0 47.4 L217.9 46.5 L226.9 45.6 L235.9 45.1 L244.8 44.6 L253.8 44.2 L262.7 43.9 L271.7 43.6 L280.7 43.4 L289.6 43.2 L298.6 43.1 L307.6 42.9 L316.5 42.8 L325.5 42.6 L334.4 42.4 L343.4 42.2 L352.4 42.0 L361.3 41.7 L370.3 41.5 L379.3 41.3 L388.2 41.0 L397.2 40.8 L406.1 40.6 L415.1 40.4 L424.1 40.2 L433.0 40.0 L442.0 39.9 L451.0 39.7 L459.9 39.5 L468.9 39.3 L477.8 39.2 L486.8 39.0 L495.8 38.9 L504.7 38.7 L513.7 38.6" fill="none" stroke="#471163" stroke-width="1.10" stroke-linejoin="round"/>
<path d="M89.6 204.3 L90.5 194.4 L91.3 185.4 L92.2 176.9 L93.0 169.1 L93.9 161.5 L94.8 152.7 L95.6 142.3 L96.5 132.9 L97.3 124.3 L98.2 117.0 L99.1 112.1 L99.9 108.4 L100.8 105.2 L101.6 102.4 L102.5 100.0 L103.4 97.8 L104.2 95.7 L105.1 93.6 L105.9 91.6 L106.8 89.8 L107.7 88.1 L108.5 86.5 L109.4 85.0 L110.2 83.7 L111.1 82.4 L111.9 81.2 L112.8 80.1 L113.7 79.0 L114.5 78.0 L115.4 77.0 L116.2 76.1 L117.1 75.2 L118.0 74.3 L118.8 73.4 L119.7 72.6 L120.5 71.7 L121.4 70.9 L122.3 70.2 L123.1 69.4 L124.0 68.7 L124.8 68.1 L125.7 67.5 L126.6 66.9 L127.4 66.4 L128.3 65.9 L129.1 65.4 L130.0 64.9 L133.0 63.3 L136.1 61.9 L139.1 60.8 L142.2 59.7 L145.2 58.8 L148.3 57.9 L151.3 57.0 L154.3 56.1 L157.4 55.2 L160.4 54.3 L163.5 53.6 L166.5 52.9 L169.6 52.3 L172.6 51.8 L175.7 51.3 L178.7 50.8 L181.7 50.4 L184.8 49.9 L187.8 49.5 L190.9 49.1 L193.9 48.8 L197.0 48.5 L200.0 48.1 L209.0 47.3 L217.9 46.3 L226.9 45.4 L235.9 44.9 L244.8 44.4 L253.8 44.0 L262.7 43.7 L271.7 43.4 L280.7 43.2 L289.6 43.0 L298.6 42.9 L307.6 42.7 L316.5 42.6 L325.5 42.4 L334.4 42.2 L343.4 42.0 L352.4 41.7 L361.3 41.5 L370.3 41.3 L379.3 41.0 L388.2 40.8 L397.2 40.6 L406.1 40.4 L415.1 40.2 L424.1 40.0 L433.0 39.8 L442.0 39.6 L451.0 39.4 L459.9 39.3 L468.9 39.1 L477.8 38.9 L486.8 38.7 L495.8 38.6 L504.7 38.4 L513.7 38.3" fill="none" stroke="#45095b" stroke-width="1.10" stroke-linejoin="round"/>
<path d="M89.6 204.3 L90.5 194.8 L91.3 185.8 L92.2 177.3 L93.0 169.5 L93.9 161.9 L94.8 153.2 L95.6 142.7 L96.5 133.2 L97.3 124.6 L98.2 117.2 L99.1 112.3 L99.9 108.5 L100.8 105.3 L101.6 102.5 L102.5 100.1 L103.4 97.9 L104.2 95.8 L105.1 93.7 L105.9 91.7 L106.8 89.9 L107.7 88.2 L108.5 86.6 L109.4 85.1 L110.2 83.7 L111.1 82.5 L111.9 81.3 L112.8 80.1 L113.7 79.1 L114.5 78.0 L115.4 77.1 L116.2 76.1 L117.1 75.2 L118.0 74.3 L118.8 73.4 L119.7 72.6 L120.5 71.8 L121.4 70.9 L122.3 70.2 L123.1 69.4 L124.0 68.8 L124.8 68.1 L125.7 67.5 L126.6 66.9 L127.4 66.4 L128.3 65.9 L129.1 65.4 L130.0 64.9 L133.0 63.3 L136.1 61.9 L139.1 60.7 L142.2 59.7 L145.2 58.7 L148.3 57.8 L151.3 56.9 L154.3 56.0 L157.4 55.1 L160.4 54.2 L163.5 53.5 L166.5 52.8 L169.6 52.2 L172.6 51.7 L175.7 51.2 L178.7 50.7 L181.7 50.2 L184.8 49.8 L187.8 49.4 L190.9 49.0 L193.9 48.6 L197.0 48.3 L200.0 48.0 L209.0 47.1 L217.9 46.1 L226.9 45.2 L235.9 44.7 L244.8 44.2 L253.8 43.8 L262.7 43.5 L271.7 43.2 L280.7 43.0 L289.6 42.8 L298.6 42.7 L307.6 42.5 L316.5 42.4 L325.5 42.2 L334.4 42.0 L343.4 41.8 L352.4 41.5 L361.3 41.3 L370.3 41.1 L379.3 40.8 L388.2 40.6 L397.2 40.4 L406.1 40.2 L415.1 40.0 L424.1 39.8 L433.0 39.6 L442.0 39.4 L451.0 39.2 L459.9 39.0 L468.9 38.8 L477.8 38.7 L486.8 38.5 L495.8 38.3 L504.7 38.2 L513.7 38.0" fill="none" stroke="#440154" stroke-width="1.10" stroke-linejoin="round"/>
<path d="M89.6 204.6 L90.5 202.2 L91.3 199.7 L92.2 197.2 L93.0 194.6 L93.9 192.0 L94.8 189.4 L95.6 186.7 L96.5 183.9 L97.3 181.1 L98.2 178.2 L99.1 175.4 L99.9 172.8 L100.8 170.1 L101.6 167.5 L102.5 164.9 L103.4 162.5 L104.2 160.1 L105.1 157.9 L105.9 155.9 L106.8 153.9 L107.7 152.1 L108.5 150.4 L109.4 148.7 L110.2 147.1 L111.1 145.5 L111.9 144.1 L112.8 142.7 L113.7 141.4 L114.5 140.2 L115.4 138.9 L116.2 137.7 L117.1 136.5 L118.0 135.2 L118.8 134.0 L119.7 132.8 L120.5 131.5 L121.4 130.3 L122.3 129.1 L123.1 127.9 L124.0 126.7 L124.8 125.6 L125.7 124.4 L126.6 123.3 L127.4 122.2 L128.3 121.2 L129.1 120.2 L130.0 119.2 L133.0 116.0 L136.1 113.1 L139.1 110.7 L142.2 108.5 L145.2 106.5 L148.3 104.7 L151.3 102.8 L154.3 100.8 L157.4 98.8 L160.4 97.0 L163.5 95.4 L166.5 93.9 L169.6 92.4 L172.6 91.0 L175.7 89.6 L178.7 88.3 L181.7 87.0 L184.8 85.7 L187.8 84.5 L190.9 83.4 L193.9 82.3 L197.0 81.3 L200.0 80.3 L209.0 77.5 L217.9 74.6 L226.9 72.0 L235.9 70.3 L244.8 69.1 L253.8 68.0 L262.7 67.2 L271.7 66.3 L280.7 65.4 L289.6 64.6 L298.6 63.7 L307.6 62.9 L316.5 62.2 L325.5 61.5 L334.4 60.7 L343.4 60.1 L352.4 59.4 L361.3 58.7 L370.3 58.1 L379.3 57.5 L388.2 56.8 L397.2 56.2 L406.1 55.6 L415.1 54.9 L424.1 54.2 L433.0 53.7 L442.0 53.2 L451.0 52.9 L459.9 52.6 L468.9 52.4 L477.8 52.2 L486.8 52.1 L495.8 51.9 L504.7 51.8 L513.7 51.8" fill="none" stroke="#fde725" stroke-width="1.10" stroke-linejoin="round"/>
<path d="M89.6 204.6 L90.5 202.1 L91.3 199.5 L92.2 197.0 L93.0 194.4 L93.9 191.8 L94.8 189.2 L95.6 186.5 L96.5 183.7 L97.3 180.8 L98.2 178.0 L99.1 175.1 L99.9 172.5 L100.8 169.8 L101.6 167.2 L102.5 164.7 L103.4 162.2 L104.2 159.9 L105.1 157.7 L105.9 155.6 L106.8 153.7 L107.7 151.9 L108.5 150.2 L109.4 148.5 L110.2 146.9 L111.1 145.4 L111.9 143.9 L112.8 142.5 L113.7 141.2 L114.5 140.0 L115.4 138.8 L116.2 137.5 L117.1 136.3 L118.0 135.1 L118.8 133.8 L119.7 132.6 L120.5 131.4 L121.4 130.1 L122.3 129.0 L123.1 127.8 L124.0 126.6 L124.8 125.4 L125.7 124.3 L126.6 123.2 L127.4 122.1 L128.3 121.1 L129.1 120.1 L130.0 119.1 L133.0 115.9 L136.1 113.1 L139.1 110.6 L142.2 108.4 L145.2 106.4 L148.3 104.6 L151.3 102.8 L154.3 100.8 L157.4 98.8 L160.4 97.1 L163.5 95.5 L166.5 94.0 L169.6 92.6 L172.6 91.1 L175.7 89.8 L178.7 88.4 L181.7 87.1 L184.8 85.9 L187.8 84.7 L190.9 83.6 L193.9 82.5 L197.0 81.5 L200.0 80.5 L209.0 77.8 L217.9 74.9 L226.9 72.3 L235.9 70.7 L244.8 69.4 L253.8 68.4 L262.7 67.5 L271.7 66.7 L280.7 65.8 L289.6 65.0 L298.6 64.1 L307.6 63.4 L316.5 62.6 L325.5 61.9 L334.4 61.2 L343.4 60.5 L352.4 59.9 L361.3 59.2 L370.3 58.6 L379.3 58.0 L388.2 57.3 L397.2 56.7 L406.1 56.1 L415.1 55.4 L424.1 54.8 L433.0 54.2 L442.0 53.8 L451.0 53.4 L459.9 53.2 L468.9 53.0 L477.8 52.8 L486.8 52.6 L495.8 52.5 L504.7 52.4 L513.7 52.4" fill="none" stroke="#f0e51f" stroke-width="1.10" stroke-linejoin="round"/>
<path d="M89.6 204.6 L90.5 202.0 L91.3 199.4 L92.2 196.8 L93.0 194.2 L93.9 191.5 L94.8 188.9 L95.6 186.2 L96.5 183.4 L97.3 180.5 L98.2 177.7 L99.1 174.9 L99.9 172.2 L100.8 169.6 L101.6 167.0 L102.5 164.4 L103.4 162.0 L104.2 159.6 L105.1 157.4 L105.9 155.4 L106.8 153.5 L107.7 151.7 L108.5 150.0 L109.4 148.3 L110.2 146.7 L111.1 145.2 L111.9 143.7 L112.8 142.3 L113.7 141.0 L114.5 139.8 L115.4 138.6 L116.2 137.4 L117.1 136.1 L118.0 134.9 L118.8 133.6 L119.7 132.4 L120.5 131.2 L121.4 130.0 L122.3 128.8 L123.1 127.6 L124.0 126.4 L124.8 125.3 L125.7 124.1 L126.6 123.0 L127.4 122.0 L128.3 121.0 L129.1 120.0 L130.0 119.0 L133.0 115.8 L136.1 113.0 L139.1 110.6 L142.2 108.4 L145.2 106.4 L148.3 104.6 L151.3 102.8 L154.3 100.8 L157.4 98.9 L160.4 97.1 L163.5 95.6 L166.5 94.1 L169.6 92.7 L172.6 91.3 L175.7 89.9 L178.7 88.6 L181.7 87.3 L184.8 86.0 L187.8 84.9 L190.9 83.7 L193.9 82.7 L197.0 81.7 L200.0 80.7 L209.0 78.0 L217.9 75.2 L226.9 72.6 L235.9 71.0 L244.8 69.8 L253.8 68.8 L262.7 67.9 L271.7 67.1 L280.7 66.2 L289.6 65.4 L298.6 64.6 L307.6 63.8 L316.5 63.1 L325.5 62.4 L334.4 61.7 L343.4 61.0 L352.4 60.3 L361.3 59.7 L370.3 59.1 L379.3 58.5 L388.2 57.8 L397.2 57.2 L406.1 56.6 L415.1 56.0 L424.1 55.3 L433.0 54.8 L442.0 54.3 L451.0 54.0 L459.9 53.7 L468.9 53.5 L477.8 53.4 L486.8 53.2 L495.8 53.1 L504.7 53.0 L513.7 53.0" fill="none" stroke="#e3e41a" stroke-width="1.10" stroke-linejoin="round"/>
<path d="M89.6 204.6 L90.5 201.9 L91.3 199.2 L92.2 196.6 L93.0 193.9 L93.9 191.3 L94.8 188.6 L95.6 185.9 L96.5 183.1 L97.3 180.2 L98.2 177.4 L99.1 174.6 L99.9 171.9 L100.8 169.3 L101.6 166.7 L102.5 164.1 L103.4 161.7 L104.2 159.4 L105.1 157.2 L105.9 155.2 L106.8 153.3 L107.7 151.5 L108.5 149.8 L109.4 148.1 L110.2 146.5 L111.1 145.0 L111.9 143.5 L112.8 142.2 L113.7 140.8 L114.5 139.6 L115.4 138.4 L116.2 137.2 L117.1 135.9 L118.0 134.7 L118.8 133.5 L119.7 132.2 L120.5 131.0 L121.4 129.8 L122.3 128.6 L123.1 127.5 L124.0 126.3 L124.8 125.1 L125.7 124.0 L126.6 122.9 L127.4 121.8 L128.3 120.8 L129.1 119.8 L130.0 118.9 L133.0 115.7 L136.1 112.9 L139.1 110.5 L142.2 108.3 L145.2 106.4 L148.3 104.6 L151.3 102.7 L154.3 100.8 L157.4 98.9 L160.4 97.2 L163.5 95.6 L166.5 94.2 L169.6 92.8 L172.6 91.4 L175.7 90.0 L178.7 88.7 L181.7 87.4 L184.8 86.2 L187.8 85.0 L190.9 83.9 L193.9 82.9 L197.0 81.9 L200.0 81.0 L209.0 78.3 L217.9 75.5 L226.9 72.9 L235.9 71.3 L244.8 70.1 L253.8 69.1 L262.7 68.3 L271.7 67.4 L280.7 66.6 L289.6 65.8 L298.6 65.0 L307.6 64.2 L316.5 63.5 L325.5 62.8 L334.4 62.1 L343.4 61.5 L352.4 60.8 L361.3 60.2 L370.3 59.6 L379.3 59.0 L388.2 58.4 L397.2 57.8 L406.1 57.1 L415.1 56.5 L424.1 55.9 L433.0 55.3 L442.0 54.9 L451.0 54.5 L459.9 54.3 L468.9 54.1 L477.8 53.9 L486.8 53.8 L495.8 53.6 L504.7 53.6 L513.7 53.5" fill="none" stroke="#d5e21c" stroke-width="1.10" stroke-linejoin="round"/>
<path d="M89.6 204.6 L90.5 201.8 L91.3 199.1 L92.2 196.4 L93.0 193.7 L93.9 191.0 L94.8 188.4 L95.6 185.6 L96.5 182.8 L97.3 180.0 L98.2 177.1 L99.1 174.3 L99.9 171.6 L100.8 169.0 L101.6 166.4 L102.5 163.9 L103.4 161.4 L104.2 159.1 L105.1 157.0 L105.9 155.0 L106.8 153.1 L107.7 151.3 L108.5 149.6 L109.4 147.9 L110.2 146.3 L111.1 144.8 L111.9 143.3 L112.8 142.0 L113.7 140.7 L114.5 139.4 L115.4 138.2 L116.2 137.0 L117.1 135.7 L118.0 134.5 L118.8 133.3 L119.7 132.1 L120.5 130.8 L121.4 129.6 L122.3 128.5 L123.1 127.3 L124.0 126.1 L124.8 125.0 L125.7 123.8 L126.6 122.8 L127.4 121.7 L128.3 120.7 L129.1 119.7 L130.0 118.8 L133.0 115.6 L136.1 112.8 L139.1 110.4 L142.2 108.3 L145.2 106.3 L148.3 104.6 L151.3 102.7 L154.3 100.8 L157.4 98.9 L160.4 97.2 L163.5 95.7 L166.5 94.3 L169.6 92.9 L172.6 91.5 L175.7 90.1 L178.7 88.8 L181.7 87.6 L184.8 86.4 L187.8 85.2 L190.9 84.1 L193.9 83.1 L197.0 82.1 L200.0 81.2 L209.0 78.5 L217.9 75.7 L226.9 73.2 L235.9 71.7 L244.8 70.5 L253.8 69.5 L262.7 68.6 L271.7 67.8 L280.7 67.0 L289.6 66.2 L298.6 65.4 L307.6 64.7 L316.5 63.9 L325.5 63.3 L334.4 62.6 L343.4 61.9 L352.4 61.3 L361.3 60.7 L370.3 60.1 L379.3 59.5 L388.2 58.9 L397.2 58.3 L406.1 57.7 L415.1 57.0 L424.1 56.4 L433.0 55.8 L442.0 55.4 L451.0 55.1 L459.9 54.8 L468.9 54.7 L477.8 54.5 L486.8 54.3 L495.8 54.2 L504.7 54.1 L513.7 54.1" fill="none" stroke="#c6e022" stroke-width="1.10" stroke-linejoin="round"/>
<path d="M89.6 204.5 L90.5 201.7 L91.3 198.9 L92.2 196.1 L93.0 193.4 L93.9 190.8 L94.8 188.1 L95.6 185.4 L96.5 182.5 L97.3 179.7 L98.2 176.8 L99.1 174.0 L99.9 171.3 L100.8 168.7 L101.6 166.1 L102.5 163.6 L103.4 161.2 L104.2 158.9 L105.1 156.7 L105.9 154.8 L106.8 152.9 L107.7 151.1 L108.5 149.3 L109.4 147.7 L110.2 146.1 L111.1 144.6 L111.9 143.2 L112.8 141.8 L113.7 140.5 L114.5 139.2 L115.4 138.0 L116.2 136.8 L117.1 135.6 L118.0 134.3 L118.8 133.1 L119.7 131.9 L120.5 130.7 L121.4 129.5 L122.3 128.3 L123.1 127.1 L124.0 126.0 L124.8 124.8 L125.7 123.7 L126.6 122.6 L127.4 121.6 L128.3 120.6 L129.1 119.6 L130.0 118.6 L133.0 115.5 L136.1 112.7 L139.1 110.4 L142.2 108.2 L145.2 106.3 L148.3 104.5 L151.3 102.7 L154.3 100.8 L157.4 99.0 L160.4 97.3 L163.5 95.8 L166.5 94.3 L169.6 93.0 L172.6 91.6 L175.7 90.3 L178.7 89.0 L181.7 87.7 L184.8 86.5 L187.8 85.4 L190.9 84.3 L193.9 83.3 L197.0 82.3 L200.0 81.4 L209.0 78.8 L217.9 76.0 L226.9 73.5 L235.9 72.0 L244.8 70.8 L253.8 69.8 L262.7 69.0 L271.7 68.2 L280.7 67.4 L289.6 66.6 L298.6 65.8 L307.6 65.1 L316.5 64.4 L325.5 63.7 L334.4 63.0 L343.4 62.4 L352.4 61.8 L361.3 61.2 L370.3 60.6 L379.3 60.0 L388.2 59.4 L397.2 58.8 L406.1 58.2 L415.1 57.6 L424.1 56.9 L433.0 56.4 L442.0 56.0 L451.0 55.6 L459.9 55.4 L468.9 55.2 L477.8 55.1 L486.8 54.9 L495.8 54.8 L504.7 54.7 L513.7 54.7" fill="none" stroke="#b7de2a" stroke-width="1.10" stroke-linejoin="round"/>
<path d="M89.6 204.5 L90.5 201.6 L91.3 198.7 L92.2 195.9 L93.0 193.2 L93.9 190.5 L94.8 187.8 L95.6 185.1 L96.5 182.3 L97.3 179.4 L98.2 176.5 L99.1 173.7 L99.9 171.0 L100.8 168.4 L101.6 165.8 L102.5 163.4 L103.4 160.9 L104.2 158.7 L105.1 156.5 L105.9 154.5 L106.8 152.7 L107.7 150.9 L108.5 149.1 L109.4 147.5 L110.2 145.9 L111.1 144.4 L111.9 143.0 L112.8 141.6 L113.7 140.3 L114.5 139.0 L115.4 137.8 L116.2 136.6 L117.1 135.4 L118.0 134.1 L118.8 132.9 L119.7 131.7 L120.5 130.5 L121.4 129.3 L122.3 128.1 L123.1 127.0 L124.0 125.8 L124.8 124.7 L125.7 123.6 L126.6 122.5 L127.4 121.4 L128.3 120.5 L129.1 119.5 L130.0 118.5 L133.0 115.4 L136.1 112.7 L139.1 110.3 L142.2 108.2 L145.2 106.3 L148.3 104.5 L151.3 102.7 L154.3 100.8 L157.4 99.0 L160.4 97.3 L163.5 95.8 L166.5 94.4 L169.6 93.1 L172.6 91.7 L175.7 90.4 L178.7 89.1 L181.7 87.9 L184.8 86.7 L187.8 85.6 L190.9 84.5 L193.9 83.5 L197.0 82.5 L200.0 81.6 L209.0 79.1 L217.9 76.3 L226.9 73.8 L235.9 72.3 L244.8 71.2 L253.8 70.2 L262.7 69.4 L271.7 68.6 L280.7 67.8 L289.6 67.0 L298.6 66.2 L307.6 65.5 L316.5 64.8 L325.5 64.2 L334.4 63.5 L343.4 62.9 L352.4 62.3 L361.3 61.7 L370.3 61.1 L379.3 60.5 L388.2 59.9 L397.2 59.3 L406.1 58.7 L415.1 58.1 L424.1 57.5 L433.0 56.9 L442.0 56.5 L451.0 56.2 L459.9 56.0 L468.9 55.8 L477.8 55.6 L486.8 55.5 L495.8 55.4 L504.7 55.3 L513.7 55.3" fill="none" stroke="#a8db33" stroke-width="1.10" stroke-linejoin="round"/>
<path d="M89.6 204.5 L90.5 201.5 L91.3 198.6 L92.2 195.7 L93.0 193.0 L93.9 190.3 L94.8 187.6 L95.6 184.8 L96.5 182.0 L97.3 179.1 L98.2 176.2 L99.1 173.4 L99.9 170.7 L100.8 168.1 L101.6 165.6 L102.5 163.1 L103.4 160.7 L104.2 158.4 L105.1 156.3 L105.9 154.3 L106.8 152.4 L107.7 150.7 L108.5 148.9 L109.4 147.3 L110.2 145.7 L111.1 144.2 L111.9 142.8 L112.8 141.4 L113.7 140.1 L114.5 138.9 L115.4 137.6 L116.2 136.4 L117.1 135.2 L118.0 134.0 L118.8 132.7 L119.7 131.5 L120.5 130.3 L121.4 129.1 L122.3 128.0 L123.1 126.8 L124.0 125.7 L124.8 124.5 L125.7 123.4 L126.6 122.3 L127.4 121.3 L128.3 120.3 L129.1 119.4 L130.0 118.4 L133.0 115.3 L136.1 112.6 L139.1 110.2 L142.2 108.1 L145.2 106.2 L148.3 104.5 L151.3 102.7 L154.3 100.8 L157.4 99.0 L160.4 97.4 L163.5 95.9 L166.5 94.5 L169.6 93.2 L172.6 91.8 L175.7 90.5 L178.7 89.2 L181.7 88.0 L184.8 86.8 L187.8 85.7 L190.9 84.7 L193.9 83.7 L197.0 82.7 L200.0 81.8 L209.0 79.3 L217.9 76.6 L226.9 74.2 L235.9 72.7 L244.8 71.5 L253.8 70.6 L262.7 69.7 L271.7 69.0 L280.7 68.2 L289.6 67.4 L298.6 66.6 L307.6 65.9 L316.5 65.3 L325.5 64.6 L334.4 64.0 L343.4 63.3 L352.4 62.7 L361.3 62.1 L370.3 61.6 L379.3 61.0 L388.2 60.4 L397.2 59.8 L406.1 59.2 L415.1 58.6 L424.1 58.0 L433.0 57.5 L442.0 57.1 L451.0 56.7 L459.9 56.5 L468.9 56.3 L477.8 56.2 L486.8 56.1 L495.8 55.9 L504.7 55.9 L513.7 55.9" fill="none" stroke="#9ad93d" stroke-width="1.10" stroke-linejoin="round"/>
<path d="M89.6 204.5 L90.5 201.4 L91.3 198.4 L92.2 195.5 L93.0 192.7 L93.9 190.0 L94.8 187.3 L95.6 184.5 L96.5 181.7 L97.3 178.8 L98.2 175.9 L99.1 173.1 L99.9 170.4 L100.8 167.8 L101.6 165.3 L102.5 162.8 L103.4 160.4 L104.2 158.2 L105.1 156.1 L105.9 154.1 L106.8 152.2 L107.7 150.5 L108.5 148.7 L109.4 147.1 L110.2 145.6 L111.1 144.1 L111.9 142.6 L112.8 141.2 L113.7 139.9 L114.5 138.7 L115.4 137.4 L116.2 136.2 L117.1 135.0 L118.0 133.8 L118.8 132.5 L119.7 131.3 L120.5 130.1 L121.4 129.0 L122.3 127.8 L123.1 126.7 L124.0 125.5 L124.8 124.4 L125.7 123.3 L126.6 122.2 L127.4 121.2 L128.3 120.2 L129.1 119.2 L130.0 118.3 L133.0 115.2 L136.1 112.5 L139.1 110.2 L142.2 108.1 L145.2 106.2 L148.3 104.5 L151.3 102.7 L154.3 100.9 L157.4 99.1 L160.4 97.4 L163.5 96.0 L166.5 94.6 L169.6 93.3 L172.6 91.9 L175.7 90.6 L178.7 89.4 L181.7 88.2 L184.8 87.0 L187.8 85.9 L190.9 84.9 L193.9 83.9 L197.0 82.9 L200.0 82.1 L209.0 79.6 L217.9 76.9 L226.9 74.5 L235.9 73.0 L244.8 71.9 L253.8 70.9 L262.7 70.1 L271.7 69.3 L280.7 68.6 L289.6 67.8 L298.6 67.1 L307.6 66.4 L316.5 65.7 L325.5 65.1 L334.4 64.4 L343.4 63.8 L352.4 63.2 L361.3 62.6 L370.3 62.0 L379.3 61.5 L388.2 60.9 L397.2 60.4 L406.1 59.8 L415.1 59.2 L424.1 58.6 L433.0 58.0 L442.0 57.6 L451.0 57.3 L459.9 57.1 L468.9 56.9 L477.8 56.8 L486.8 56.6 L495.8 56.5 L504.7 56.5 L513.7 56.4" fill="none" stroke="#8bd546" stroke-width="1.10" stroke-linejoin="round"/>
<path d="M89.6 204.5 L90.5 201.3 L91.3 198.3 L92.2 195.3 L93.0 192.5 L93.9 189.7 L94.8 187.0 L95.6 184.3 L96.5 181.4 L97.3 178.5 L98.2 175.6 L99.1 172.8 L99.9 170.1 L100.8 167.5 L101.6 165.0 L102.5 162.6 L103.4 160.2 L104.2 157.9 L105.1 155.8 L105.9 153.9 L106.8 152.0 L107.7 150.2 L108.5 148.5 L109.4 146.9 L110.2 145.4 L111.1 143.9 L111.9 142.4 L112.8 141.0 L113.7 139.7 L114.5 138.5 L115.4 137.2 L116.2 136.0 L117.1 134.8 L118.0 133.6 L118.8 132.4 L119.7 131.2 L120.5 130.0 L121.4 128.8 L122.3 127.6 L123.1 126.5 L124.0 125.4 L124.8 124.2 L125.7 123.1 L126.6 122.1 L127.4 121.1 L128.3 120.1 L129.1 119.1 L130.0 118.2 L133.0 115.1 L136.1 112.4 L139.1 110.1 L142.2 108.0 L145.2 106.1 L148.3 104.4 L151.3 102.7 L154.3 100.9 L157.4 99.1 L160.4 97.5 L163.5 96.1 L166.5 94.7 L169.6 93.4 L172.6 92.1 L175.7 90.8 L178.7 89.5 L181.7 88.3 L184.8 87.2 L187.8 86.1 L190.9 85.0 L193.9 84.1 L197.0 83.2 L200.0 82.3 L209.0 79.8 L217.9 77.2 L226.9 74.8 L235.9 73.3 L244.8 72.2 L253.8 71.3 L262.7 70.5 L271.7 69.7 L280.7 69.0 L289.6 68.2 L298.6 67.5 L307.6 66.8 L316.5 66.1 L325.5 65.5 L334.4 64.9 L343.4 64.3 L352.4 63.7 L361.3 63.1 L370.3 62.5 L379.3 62.0 L388.2 61.4 L397.2 60.9 L406.1 60.3 L415.1 59.7 L424.1 59.1 L433.0 58.6 L442.0 58.2 L451.0 57.9 L459.9 57.6 L468.9 57.5 L477.8 57.3 L486.8 57.2 L495.8 57.1 L504.7 57.0 L513.7 57.0" fill="none" stroke="#7dd24f" stroke-width="1.10" stroke-linejoin="round"/>
<path d="M89.6 204.5 L90.5 201.3 L91.3 198.1 L92.2 195.1 L93.0 192.3 L93.9 189.5 L94.8 186.8 L95.6 184.0 L96.5 181.1 L97.3 178.2 L98.2 175.3 L99.1 172.5 L99.9 169.8 L100.8 167.3 L101.6 164.7 L102.5 162.3 L103.4 159.9 L104.2 157.7 L105.1 155.6 L105.9 153.7 L106.8 151.8 L107.7 150.0 L108.5 148.3 L109.4 146.7 L110.2 145.2 L111.1 143.7 L111.9 142.2 L112.8 140.9 L113.7 139.5 L114.5 138.3 L115.4 137.1 L116.2 135.8 L117.1 134.6 L118.0 133.4 L118.8 132.2 L119.7 131.0 L120.5 129.8 L121.4 128.6 L122.3 127.5 L123.1 126.4 L124.0 125.2 L124.8 124.1 L125.7 123.0 L126.6 121.9 L127.4 120.9 L128.3 120.0 L129.1 119.0 L130.0 118.1 L133.0 115.0 L136.1 112.4 L139.1 110.0 L142.2 108.0 L145.2 106.1 L148.3 104.4 L151.3 102.7 L154.3 100.9 L157.4 99.1 L160.4 97.5 L163.5 96.1 L166.5 94.8 L169.6 93.5 L172.6 92.2 L175.7 90.9 L178.7 89.7 L181.7 88.5 L184.8 87.3 L187.8 86.2 L190.9 85.2 L193.9 84.3 L197.0 83.4 L200.0 82.5 L209.0 80.1 L217.9 77.5 L226.9 75.1 L235.9 73.7 L244.8 72.6 L253.8 71.6 L262.7 70.9 L271.7 70.1 L280.7 69.4 L289.6 68.6 L298.6 67.9 L307.6 67.2 L316.5 66.6 L325.5 65.9 L334.4 65.3 L343.4 64.7 L352.4 64.2 L361.3 63.6 L370.3 63.0 L379.3 62.5 L388.2 61.9 L397.2 61.4 L406.1 60.8 L415.1 60.2 L424.1 59.7 L433.0 59.1 L442.0 58.7 L451.0 58.4 L459.9 58.2 L468.9 58.0 L477.8 57.9 L486.8 57.8 L495.8 57.7 L504.7 57.6 L513.7 57.6" fill="none" stroke="#70ce57" stroke-width="1.10" stroke-linejoin="round"/>
<path d="M89.6 204.5 L90.5 201.2 L91.3 197.9 L92.2 194.9 L93.0 192.0 L93.9 189.2 L94.8 186.5 L95.6 183.7 L96.5 180.9 L97.3 178.0 L98.2 175.1 L99.1 172.2 L99.9 169.5 L100.8 167.0 L101.6 164.5 L102.5 162.0 L103.4 159.7 L104.2 157.5 L105.1 155.4 L105.9 153.4 L106.8 151.6 L107.7 149.8 L108.5 148.1 L109.4 146.5 L110.2 145.0 L111.1 143.5 L111.9 142.0 L112.8 140.7 L113.7 139.4 L114.5 138.1 L115.4 136.9 L116.2 135.7 L117.1 134.4 L118.0 133.2 L118.8 132.0 L119.7 130.8 L120.5 129.6 L121.4 128.5 L122.3 127.3 L123.1 126.2 L124.0 125.1 L124.8 124.0 L125.7 122.9 L126.6 121.8 L127.4 120.8 L128.3 119.8 L129.1 118.9 L130.0 118.0 L133.0 114.9 L136.1 112.3 L139.1 110.0 L142.2 107.9 L145.2 106.1 L148.3 104.4 L151.3 102.7 L154.3 100.9 L157.4 99.2 L160.4 97.6 L163.5 96.2 L166.5 94.9 L169.6 93.6 L172.6 92.3 L175.7 91.0 L178.7 89.8 L181.7 88.6 L184.8 87.5 L187.8 86.4 L190.9 85.4 L193.9 84.5 L197.0 83.6 L200.0 82.7 L209.0 80.3 L217.9 77.8 L226.9 75.4 L235.9 74.0 L244.8 72.9 L253.8 72.0 L262.7 71.2 L271.7 70.5 L280.7 69.7 L289.6 69.0 L298.6 68.3 L307.6 67.6 L316.5 67.0 L325.5 66.4 L334.4 65.8 L343.4 65.2 L352.4 64.6 L361.3 64.1 L370.3 63.5 L379.3 63.0 L388.2 62.4 L397.2 61.9 L406.1 61.4 L415.1 60.8 L424.1 60.2 L433.0 59.7 L442.0 59.3 L451.0 59.0 L459.9 58.7 L468.9 58.6 L477.8 58.5 L486.8 58.3 L495.8 58.2 L504.7 58.2 L513.7 58.2" fill="none" stroke="#64cb5e" stroke-width="1.10" stroke-linejoin="round"/>
<path d="M89.6 204.5 L90.5 201.1 L91.3 197.8 L92.2 194.7 L93.0 191.8 L93.9 189.0 L94.8 186.2 L95.6 183.5 L96.5 180.6 L97.3 177.7 L98.2 174.8 L99.1 171.9 L99.9 169.2 L100.8 166.7 L101.6 164.2 L102.5 161.8 L103.4 159.4 L104.2 157.2 L105.1 155.2 L105.9 153.2 L106.8 151.4 L107.7 149.6 L108.5 147.9 L109.4 146.3 L110.2 144.8 L111.1 143.3 L111.9 141.9 L112.8 140.5 L113.7 139.2 L114.5 137.9 L115.4 136.7 L116.2 135.5 L117.1 134.3 L118.0 133.0 L118.8 131.8 L119.7 130.6 L120.5 129.5 L121.4 128.3 L122.3 127.2 L123.1 126.0 L124.0 124.9 L124.8 123.8 L125.7 122.7 L126.6 121.7 L127.4 120.7 L128.3 119.7 L129.1 118.8 L130.0 117.8 L133.0 114.8 L136.1 112.2 L139.1 109.9 L142.2 107.9 L145.2 106.0 L148.3 104.4 L151.3 102.7 L154.3 100.9 L157.4 99.2 L160.4 97.7 L163.5 96.3 L166.5 95.0 L169.6 93.7 L172.6 92.4 L175.7 91.2 L178.7 89.9 L181.7 88.8 L184.8 87.6 L187.8 86.6 L190.9 85.6 L193.9 84.7 L197.0 83.8 L200.0 82.9 L209.0 80.6 L217.9 78.0 L226.9 75.7 L235.9 74.3 L244.8 73.3 L253.8 72.4 L262.7 71.6 L271.7 70.9 L280.7 70.1 L289.6 69.4 L298.6 68.7 L307.6 68.1 L316.5 67.5 L325.5 66.8 L334.4 66.3 L343.4 65.7 L352.4 65.1 L361.3 64.6 L370.3 64.0 L379.3 63.5 L388.2 63.0 L397.2 62.4 L406.1 61.9 L415.1 61.3 L424.1 60.7 L433.0 60.2 L442.0 59.8 L451.0 59.5 L459.9 59.3 L468.9 59.2 L477.8 59.0 L486.8 58.9 L495.8 58.8 L504.7 58.8 L513.7 58.8" fill="none" stroke="#58c765" stroke-width="1.10" stroke-linejoin="round"/>
<path d="M89.6 204.5 L90.5 201.0 L91.3 197.6 L92.2 194.5 L93.0 191.6 L93.9 188.7 L94.8 186.0 L95.6 183.2 L96.5 180.3 L97.3 177.4 L98.2 174.5 L99.1 171.6 L99.9 169.0 L100.8 166.4 L101.6 163.9 L102.5 161.5 L103.4 159.2 L104.2 157.0 L105.1 154.9 L105.9 153.0 L106.8 151.2 L107.7 149.4 L108.5 147.7 L109.4 146.1 L110.2 144.6 L111.1 143.1 L111.9 141.7 L112.8 140.3 L113.7 139.0 L114.5 137.7 L115.4 136.5 L116.2 135.3 L117.1 134.1 L118.0 132.8 L118.8 131.6 L119.7 130.5 L120.5 129.3 L121.4 128.1 L122.3 127.0 L123.1 125.9 L124.0 124.8 L124.8 123.7 L125.7 122.6 L126.6 121.5 L127.4 120.5 L128.3 119.6 L129.1 118.6 L130.0 117.7 L133.0 114.7 L136.1 112.1 L139.1 109.8 L142.2 107.8 L145.2 106.0 L148.3 104.3 L151.3 102.7 L154.3 100.9 L157.4 99.2 L160.4 97.7 L163.5 96.3 L166.5 95.1 L169.6 93.8 L172.6 92.5 L175.7 91.3 L178.7 90.1 L181.7 88.9 L184.8 87.8 L187.8 86.8 L190.9 85.8 L193.9 84.9 L197.0 84.0 L200.0 83.2 L209.0 80.8 L217.9 78.3 L226.9 76.0 L235.9 74.7 L244.8 73.6 L253.8 72.7 L262.7 72.0 L271.7 71.3 L280.7 70.5 L289.6 69.8 L298.6 69.1 L307.6 68.5 L316.5 67.9 L325.5 67.3 L334.4 66.7 L343.4 66.2 L352.4 65.6 L361.3 65.1 L370.3 64.5 L379.3 64.0 L388.2 63.5 L397.2 62.9 L406.1 62.4 L415.1 61.8 L424.1 61.3 L433.0 60.8 L442.0 60.4 L451.0 60.1 L459.9 59.9 L468.9 59.7 L477.8 59.6 L486.8 59.5 L495.8 59.4 L504.7 59.3 L513.7 59.3" fill="none" stroke="#4dc26b" stroke-width="1.10" stroke-linejoin="round"/>
<path d="M89.6 204.5 L90.5 200.9 L91.3 197.5 L92.2 194.3 L93.0 191.3 L93.9 188.5 L94.8 185.7 L95.6 182.9 L96.5 180.0 L97.3 177.1 L98.2 174.2 L99.1 171.3 L99.9 168.7 L100.8 166.1 L101.6 163.6 L102.5 161.2 L103.4 158.9 L104.2 156.7 L105.1 154.7 L105.9 152.8 L106.8 151.0 L107.7 149.2 L108.5 147.5 L109.4 145.9 L110.2 144.4 L111.1 142.9 L111.9 141.5 L112.8 140.1 L113.7 138.8 L114.5 137.5 L115.4 136.3 L116.2 135.1 L117.1 133.9 L118.0 132.7 L118.8 131.5 L119.7 130.3 L120.5 129.1 L121.4 128.0 L122.3 126.8 L123.1 125.7 L124.0 124.6 L124.8 123.5 L125.7 122.4 L126.6 121.4 L127.4 120.4 L128.3 119.5 L129.1 118.5 L130.0 117.6 L133.0 114.6 L136.1 112.0 L139.1 109.8 L142.2 107.8 L145.2 106.0 L148.3 104.3 L151.3 102.7 L154.3 100.9 L157.4 99.3 L160.4 97.8 L163.5 96.4 L166.5 95.1 L169.6 93.9 L172.6 92.6 L175.7 91.4 L178.7 90.2 L181.7 89.1 L184.8 88.0 L187.8 86.9 L190.9 86.0 L193.9 85.1 L197.0 84.2 L200.0 83.4 L209.0 81.1 L217.9 78.6 L226.9 76.4 L235.9 75.0 L244.8 73.9 L253.8 73.1 L262.7 72.3 L271.7 71.6 L280.7 70.9 L289.6 70.2 L298.6 69.6 L307.6 68.9 L316.5 68.3 L325.5 67.7 L334.4 67.2 L343.4 66.6 L352.4 66.1 L361.3 65.5 L370.3 65.0 L379.3 64.5 L388.2 64.0 L397.2 63.5 L406.1 62.9 L415.1 62.4 L424.1 61.8 L433.0 61.3 L442.0 60.9 L451.0 60.6 L459.9 60.4 L468.9 60.3 L477.8 60.2 L486.8 60.0 L495.8 60.0 L504.7 59.9 L513.7 59.9" fill="none" stroke="#42be71" stroke-width="1.10" stroke-linejoin="round"/>
<path d="M89.6 204.5 L90.5 200.8 L91.3 197.3 L92.2 194.1 L93.0 191.1 L93.9 188.2 L94.8 185.4 L95.6 182.6 L96.5 179.7 L97.3 176.8 L98.2 173.9 L99.1 171.1 L99.9 168.4 L100.8 165.8 L101.6 163.4 L102.5 161.0 L103.4 158.7 L104.2 156.5 L105.1 154.5 L105.9 152.6 L106.8 150.7 L107.7 149.0 L108.5 147.3 L109.4 145.8 L110.2 144.2 L111.1 142.7 L111.9 141.3 L112.8 139.9 L113.7 138.6 L114.5 137.4 L115.4 136.1 L116.2 134.9 L117.1 133.7 L118.0 132.5 L118.8 131.3 L119.7 130.1 L120.5 128.9 L121.4 127.8 L122.3 126.7 L123.1 125.6 L124.0 124.5 L124.8 123.4 L125.7 122.3 L126.6 121.3 L127.4 120.3 L128.3 119.3 L129.1 118.4 L130.0 117.5 L133.0 114.5 L136.1 112.0 L139.1 109.7 L142.2 107.7 L145.2 105.9 L148.3 104.3 L151.3 102.7 L154.3 100.9 L157.4 99.3 L160.4 97.8 L163.5 96.5 L166.5 95.2 L169.6 94.0 L172.6 92.7 L175.7 91.5 L178.7 90.4 L181.7 89.2 L184.8 88.1 L187.8 87.1 L190.9 86.1 L193.9 85.2 L197.0 84.4 L200.0 83.6 L209.0 81.3 L217.9 78.9 L226.9 76.7 L235.9 75.3 L244.8 74.3 L253.8 73.4 L262.7 72.7 L271.7 72.0 L280.7 71.3 L289.6 70.6 L298.6 70.0 L307.6 69.4 L316.5 68.8 L325.5 68.2 L334.4 67.6 L343.4 67.1 L352.4 66.6 L361.3 66.0 L370.3 65.5 L379.3 65.0 L388.2 64.5 L397.2 64.0 L406.1 63.5 L415.1 62.9 L424.1 62.4 L433.0 61.9 L442.0 61.5 L451.0 61.2 L459.9 61.0 L468.9 60.8 L477.8 60.7 L486.8 60.6 L495.8 60.5 L504.7 60.5 L513.7 60.5" fill="none" stroke="#39b976" stroke-width="1.10" stroke-linejoin="round"/>
<path d="M89.6 204.5 L90.5 200.7 L91.3 197.1 L92.2 193.9 L93.0 190.8 L93.9 188.0 L94.8 185.2 L95.6 182.4 L96.5 179.5 L97.3 176.5 L98.2 173.6 L99.1 170.8 L99.9 168.1 L100.8 165.5 L101.6 163.1 L102.5 160.7 L103.4 158.4 L104.2 156.3 L105.1 154.2 L105.9 152.3 L106.8 150.5 L107.7 148.8 L108.5 147.1 L109.4 145.6 L110.2 144.0 L111.1 142.6 L111.9 141.1 L112.8 139.7 L113.7 138.4 L114.5 137.2 L115.4 135.9 L116.2 134.7 L117.1 133.5 L118.0 132.3 L118.8 131.1 L119.7 129.9 L120.5 128.8 L121.4 127.6 L122.3 126.5 L123.1 125.4 L124.0 124.3 L124.8 123.2 L125.7 122.2 L126.6 121.1 L127.4 120.2 L128.3 119.2 L129.1 118.3 L130.0 117.4 L133.0 114.4 L136.1 111.9 L139.1 109.6 L142.2 107.7 L145.2 105.9 L148.3 104.3 L151.3 102.6 L154.3 101.0 L157.4 99.3 L160.4 97.9 L163.5 96.6 L166.5 95.3 L169.6 94.1 L172.6 92.9 L175.7 91.7 L178.7 90.5 L181.7 89.4 L184.8 88.3 L187.8 87.3 L190.9 86.3 L193.9 85.4 L197.0 84.6 L200.0 83.8 L209.0 81.6 L217.9 79.2 L226.9 77.0 L235.9 75.7 L244.8 74.6 L253.8 73.8 L262.7 73.1 L271.7 72.4 L280.7 71.7 L289.6 71.0 L298.6 70.4 L307.6 69.8 L316.5 69.2 L325.5 68.6 L334.4 68.1 L343.4 67.6 L352.4 67.0 L361.3 66.5 L370.3 66.0 L379.3 65.5 L388.2 65.0 L397.2 64.5 L406.1 64.0 L415.1 63.4 L424.1 62.9 L433.0 62.4 L442.0 62.0 L451.0 61.7 L459.9 61.5 L468.9 61.4 L477.8 61.3 L486.8 61.2 L495.8 61.1 L504.7 61.1 L513.7 61.1" fill="none" stroke="#30b47b" stroke-width="1.10" stroke-linejoin="round"/>
<path d="M89.6 204.5 L90.5 200.6 L91.3 197.0 L92.2 193.7 L93.0 190.6 L93.9 187.7 L94.8 184.9 L95.6 182.1 L96.5 179.2 L97.3 176.2 L98.2 173.3 L99.1 170.5 L99.9 167.8 L100.8 165.2 L101.6 162.8 L102.5 160.4 L103.4 158.2 L104.2 156.0 L105.1 154.0 L105.9 152.1 L106.8 150.3 L107.7 148.6 L108.5 146.9 L109.4 145.4 L110.2 143.8 L111.1 142.4 L111.9 140.9 L112.8 139.6 L113.7 138.2 L114.5 137.0 L115.4 135.7 L116.2 134.5 L117.1 133.3 L118.0 132.1 L118.8 130.9 L119.7 129.7 L120.5 128.6 L121.4 127.5 L122.3 126.3 L123.1 125.2 L124.0 124.2 L124.8 123.1 L125.7 122.0 L126.6 121.0 L127.4 120.0 L128.3 119.1 L129.1 118.2 L130.0 117.3 L133.0 114.3 L136.1 111.8 L139.1 109.6 L142.2 107.6 L145.2 105.8 L148.3 104.3 L151.3 102.6 L154.3 101.0 L157.4 99.4 L160.4 97.9 L163.5 96.6 L166.5 95.4 L169.6 94.2 L172.6 93.0 L175.7 91.8 L178.7 90.6 L181.7 89.5 L184.8 88.4 L187.8 87.4 L190.9 86.5 L193.9 85.6 L197.0 84.8 L200.0 84.1 L209.0 81.9 L217.9 79.5 L226.9 77.3 L235.9 76.0 L244.8 75.0 L253.8 74.2 L262.7 73.4 L271.7 72.8 L280.7 72.1 L289.6 71.4 L298.6 70.8 L307.6 70.2 L316.5 69.6 L325.5 69.1 L334.4 68.6 L343.4 68.0 L352.4 67.5 L361.3 67.0 L370.3 66.5 L379.3 66.0 L388.2 65.5 L397.2 65.0 L406.1 64.5 L415.1 64.0 L424.1 63.4 L433.0 63.0 L442.0 62.6 L451.0 62.3 L459.9 62.1 L468.9 62.0 L477.8 61.9 L486.8 61.8 L495.8 61.7 L504.7 61.7 L513.7 61.7" fill="none" stroke="#2aaf7f" stroke-width="1.10" stroke-linejoin="round"/>
<path d="M89.6 204.4 L90.5 200.5 L91.3 196.8 L92.2 193.4 L93.0 190.4 L93.9 187.5 L94.8 184.6 L95.6 181.8 L96.5 178.9 L97.3 176.0 L98.2 173.0 L99.1 170.2 L99.9 167.5 L100.8 165.0 L101.6 162.5 L102.5 160.2 L103.4 157.9 L104.2 155.8 L105.1 153.8 L105.9 151.9 L106.8 150.1 L107.7 148.4 L108.5 146.7 L109.4 145.2 L110.2 143.6 L111.1 142.2 L111.9 140.7 L112.8 139.4 L113.7 138.1 L114.5 136.8 L115.4 135.6 L116.2 134.3 L117.1 133.1 L118.0 131.9 L118.8 130.7 L119.7 129.6 L120.5 128.4 L121.4 127.3 L122.3 126.2 L123.1 125.1 L124.0 124.0 L124.8 122.9 L125.7 121.9 L126.6 120.9 L127.4 119.9 L128.3 119.0 L129.1 118.0 L130.0 117.2 L133.0 114.3 L136.1 111.7 L139.1 109.5 L142.2 107.6 L145.2 105.8 L148.3 104.2 L151.3 102.6 L154.3 101.0 L157.4 99.4 L160.4 98.0 L163.5 96.7 L166.5 95.5 L169.6 94.3 L172.6 93.1 L175.7 91.9 L178.7 90.8 L181.7 89.7 L184.8 88.6 L187.8 87.6 L190.9 86.7 L193.9 85.8 L197.0 85.0 L200.0 84.3 L209.0 82.1 L217.9 79.8 L226.9 77.6 L235.9 76.3 L244.8 75.3 L253.8 74.5 L262.7 73.8 L271.7 73.2 L280.7 72.5 L289.6 71.8 L298.6 71.2 L307.6 70.6 L316.5 70.1 L325.5 69.5 L334.4 69.0 L343.4 68.5 L352.4 68.0 L361.3 67.5 L370.3 67.0 L379.3 66.5 L388.2 66.0 L397.2 65.5 L406.1 65.0 L415.1 64.5 L424.1 64.0 L433.0 63.5 L442.0 63.1 L451.0 62.8 L459.9 62.7 L468.9 62.5 L477.8 62.4 L486.8 62.3 L495.8 62.3 L504.7 62.2 L513.7 62.2" fill="none" stroke="#24aa83" stroke-width="1.10" stroke-linejoin="round"/>
<path d="M89.6 204.4 L90.5 200.4 L91.3 196.7 L92.2 193.2 L93.0 190.1 L93.9 187.2 L94.8 184.4 L95.6 181.5 L96.5 178.6 L97.3 175.7 L98.2 172.7 L99.1 169.9 L99.9 167.2 L100.8 164.7 L101.6 162.2 L102.5 159.9 L103.4 157.7 L104.2 155.5 L105.1 153.6 L105.9 151.7 L106.8 149.9 L107.7 148.2 L108.5 146.5 L109.4 145.0 L110.2 143.5 L111.1 142.0 L111.9 140.6 L112.8 139.2 L113.7 137.9 L114.5 136.6 L115.4 135.4 L116.2 134.1 L117.1 132.9 L118.0 131.7 L118.8 130.6 L119.7 129.4 L120.5 128.2 L121.4 127.1 L122.3 126.0 L123.1 124.9 L124.0 123.9 L124.8 122.8 L125.7 121.7 L126.6 120.7 L127.4 119.8 L128.3 118.8 L129.1 117.9 L130.0 117.0 L133.0 114.2 L136.1 111.6 L139.1 109.4 L142.2 107.5 L145.2 105.8 L148.3 104.2 L151.3 102.6 L154.3 101.0 L157.4 99.4 L160.4 98.0 L163.5 96.8 L166.5 95.6 L169.6 94.4 L172.6 93.2 L175.7 92.0 L178.7 90.9 L181.7 89.8 L184.8 88.8 L187.8 87.8 L190.9 86.9 L193.9 86.0 L197.0 85.2 L200.0 84.5 L209.0 82.4 L217.9 80.0 L226.9 77.9 L235.9 76.7 L244.8 75.7 L253.8 74.9 L262.7 74.2 L271.7 73.5 L280.7 72.9 L289.6 72.2 L298.6 71.6 L307.6 71.1 L316.5 70.5 L325.5 70.0 L334.4 69.5 L343.4 69.0 L352.4 68.5 L361.3 68.0 L370.3 67.5 L379.3 67.0 L388.2 66.5 L397.2 66.1 L406.1 65.6 L415.1 65.0 L424.1 64.5 L433.0 64.1 L442.0 63.7 L451.0 63.4 L459.9 63.2 L468.9 63.1 L477.8 63.0 L486.8 62.9 L495.8 62.8 L504.7 62.8 L513.7 62.8" fill="none" stroke="#21a585" stroke-width="1.10" stroke-linejoin="round"/>
<path d="M89.6 204.4 L90.5 200.4 L91.3 196.5 L92.2 193.0 L93.0 189.9 L93.9 186.9 L94.8 184.1 L95.6 181.3 L96.5 178.3 L97.3 175.4 L98.2 172.4 L99.1 169.6 L99.9 166.9 L100.8 164.4 L101.6 162.0 L102.5 159.6 L103.4 157.4 L104.2 155.3 L105.1 153.3 L105.9 151.5 L106.8 149.7 L107.7 148.0 L108.5 146.3 L109.4 144.8 L110.2 143.3 L111.1 141.8 L111.9 140.4 L112.8 139.0 L113.7 137.7 L114.5 136.4 L115.4 135.2 L116.2 134.0 L117.1 132.8 L118.0 131.6 L118.8 130.4 L119.7 129.2 L120.5 128.1 L121.4 126.9 L122.3 125.9 L123.1 124.8 L124.0 123.7 L124.8 122.6 L125.7 121.6 L126.6 120.6 L127.4 119.6 L128.3 118.7 L129.1 117.8 L130.0 116.9 L133.0 114.1 L136.1 111.6 L139.1 109.4 L142.2 107.5 L145.2 105.7 L148.3 104.2 L151.3 102.6 L154.3 101.0 L157.4 99.5 L160.4 98.1 L163.5 96.8 L166.5 95.7 L169.6 94.5 L172.6 93.3 L175.7 92.2 L178.7 91.0 L181.7 90.0 L184.8 88.9 L187.8 88.0 L190.9 87.1 L193.9 86.2 L197.0 85.5 L200.0 84.7 L209.0 82.6 L217.9 80.3 L226.9 78.2 L235.9 77.0 L244.8 76.0 L253.8 75.2 L262.7 74.6 L271.7 73.9 L280.7 73.3 L289.6 72.6 L298.6 72.1 L307.6 71.5 L316.5 71.0 L325.5 70.4 L334.4 69.9 L343.4 69.4 L352.4 68.9 L361.3 68.5 L370.3 68.0 L379.3 67.5 L388.2 67.0 L397.2 66.6 L406.1 66.1 L415.1 65.6 L424.1 65.1 L433.0 64.6 L442.0 64.2 L451.0 64.0 L459.9 63.8 L468.9 63.7 L477.8 63.6 L486.8 63.5 L495.8 63.4 L504.7 63.4 L513.7 63.4" fill="none" stroke="#1fa087" stroke-width="1.10" stroke-linejoin="round"/>
<path d="M89.6 204.4 L90.5 200.3 L91.3 196.3 L92.2 192.8 L93.0 189.7 L93.9 186.7 L94.8 183.8 L95.6 181.0 L96.5 178.1 L97.3 175.1 L98.2 172.2 L99.1 169.3 L99.9 166.6 L100.8 164.1 L101.6 161.7 L102.5 159.4 L103.4 157.2 L104.2 155.1 L105.1 153.1 L105.9 151.2 L106.8 149.5 L107.7 147.8 L108.5 146.1 L109.4 144.6 L110.2 143.1 L111.1 141.6 L111.9 140.2 L112.8 138.8 L113.7 137.5 L114.5 136.2 L115.4 135.0 L116.2 133.8 L117.1 132.6 L118.0 131.4 L118.8 130.2 L119.7 129.0 L120.5 127.9 L121.4 126.8 L122.3 125.7 L123.1 124.6 L124.0 123.6 L124.8 122.5 L125.7 121.5 L126.6 120.5 L127.4 119.5 L128.3 118.6 L129.1 117.7 L130.0 116.8 L133.0 114.0 L136.1 111.5 L139.1 109.3 L142.2 107.4 L145.2 105.7 L148.3 104.2 L151.3 102.6 L154.3 101.0 L157.4 99.5 L160.4 98.1 L163.5 96.9 L166.5 95.8 L169.6 94.6 L172.6 93.4 L175.7 92.3 L178.7 91.2 L181.7 90.1 L184.8 89.1 L187.8 88.1 L190.9 87.2 L193.9 86.4 L197.0 85.7 L200.0 84.9 L209.0 82.9 L217.9 80.6 L226.9 78.6 L235.9 77.3 L244.8 76.4 L253.8 75.6 L262.7 74.9 L271.7 74.3 L280.7 73.7 L289.6 73.1 L298.6 72.5 L307.6 71.9 L316.5 71.4 L325.5 70.9 L334.4 70.4 L343.4 69.9 L352.4 69.4 L361.3 68.9 L370.3 68.5 L379.3 68.0 L388.2 67.6 L397.2 67.1 L406.1 66.6 L415.1 66.1 L424.1 65.6 L433.0 65.2 L442.0 64.8 L451.0 64.5 L459.9 64.3 L468.9 64.2 L477.8 64.1 L486.8 64.0 L495.8 64.0 L504.7 64.0 L513.7 64.0" fill="none" stroke="#1e9b89" stroke-width="1.10" stroke-linejoin="round"/>
<path d="M89.6 204.4 L90.5 200.2 L91.3 196.2 L92.2 192.6 L93.0 189.4 L93.9 186.4 L94.8 183.6 L95.6 180.7 L96.5 177.8 L97.3 174.8 L98.2 171.9 L99.1 169.0 L99.9 166.3 L100.8 163.8 L101.6 161.4 L102.5 159.1 L103.4 156.9 L104.2 154.8 L105.1 152.9 L105.9 151.0 L106.8 149.3 L107.7 147.6 L108.5 145.9 L109.4 144.4 L110.2 142.9 L111.1 141.4 L111.9 140.0 L112.8 138.6 L113.7 137.3 L114.5 136.0 L115.4 134.8 L116.2 133.6 L117.1 132.4 L118.0 131.2 L118.8 130.0 L119.7 128.9 L120.5 127.7 L121.4 126.6 L122.3 125.5 L123.1 124.5 L124.0 123.4 L124.8 122.4 L125.7 121.3 L126.6 120.3 L127.4 119.4 L128.3 118.5 L129.1 117.6 L130.0 116.7 L133.0 113.9 L136.1 111.4 L139.1 109.2 L142.2 107.3 L145.2 105.7 L148.3 104.1 L151.3 102.6 L154.3 101.0 L157.4 99.5 L160.4 98.2 L163.5 97.0 L166.5 95.8 L169.6 94.7 L172.6 93.6 L175.7 92.4 L178.7 91.3 L181.7 90.3 L184.8 89.2 L187.8 88.3 L190.9 87.4 L193.9 86.6 L197.0 85.9 L200.0 85.2 L209.0 83.1 L217.9 80.9 L226.9 78.9 L235.9 77.7 L244.8 76.7 L253.8 76.0 L262.7 75.3 L271.7 74.7 L280.7 74.1 L289.6 73.5 L298.6 72.9 L307.6 72.4 L316.5 71.8 L325.5 71.3 L334.4 70.8 L343.4 70.4 L352.4 69.9 L361.3 69.4 L370.3 69.0 L379.3 68.5 L388.2 68.1 L397.2 67.6 L406.1 67.2 L415.1 66.7 L424.1 66.2 L433.0 65.7 L442.0 65.3 L451.0 65.1 L459.9 64.9 L468.9 64.8 L477.8 64.7 L486.8 64.6 L495.8 64.6 L504.7 64.5 L513.7 64.6" fill="none" stroke="#20968b" stroke-width="1.10" stroke-linejoin="round"/>
<path d="M89.6 204.4 L90.5 200.1 L91.3 196.0 L92.2 192.4 L93.0 189.2 L93.9 186.2 L94.8 183.3 L95.6 180.5 L96.5 177.5 L97.3 174.5 L98.2 171.6 L99.1 168.7 L99.9 166.0 L100.8 163.5 L101.6 161.1 L102.5 158.8 L103.4 156.7 L104.2 154.6 L105.1 152.6 L105.9 150.8 L106.8 149.0 L107.7 147.4 L108.5 145.7 L109.4 144.2 L110.2 142.7 L111.1 141.2 L111.9 139.8 L112.8 138.5 L113.7 137.1 L114.5 135.9 L115.4 134.6 L116.2 133.4 L117.1 132.2 L118.0 131.0 L118.8 129.8 L119.7 128.7 L120.5 127.5 L121.4 126.4 L122.3 125.4 L123.1 124.3 L124.0 123.2 L124.8 122.2 L125.7 121.2 L126.6 120.2 L127.4 119.2 L128.3 118.3 L129.1 117.4 L130.0 116.6 L133.0 113.8 L136.1 111.3 L139.1 109.2 L142.2 107.3 L145.2 105.6 L148.3 104.1 L151.3 102.6 L154.3 101.0 L157.4 99.6 L160.4 98.2 L163.5 97.1 L166.5 95.9 L169.6 94.8 L172.6 93.7 L175.7 92.6 L178.7 91.5 L181.7 90.4 L184.8 89.4 L187.8 88.5 L190.9 87.6 L193.9 86.8 L197.0 86.1 L200.0 85.4 L209.0 83.4 L217.9 81.2 L226.9 79.2 L235.9 78.0 L244.8 77.1 L253.8 76.3 L262.7 75.7 L271.7 75.1 L280.7 74.5 L289.6 73.9 L298.6 73.3 L307.6 72.8 L316.5 72.3 L325.5 71.8 L334.4 71.3 L343.4 70.8 L352.4 70.4 L361.3 69.9 L370.3 69.5 L379.3 69.0 L388.2 68.6 L397.2 68.1 L406.1 67.7 L415.1 67.2 L424.1 66.7 L433.0 66.2 L442.0 65.9 L451.0 65.6 L459.9 65.5 L468.9 65.4 L477.8 65.3 L486.8 65.2 L495.8 65.1 L504.7 65.1 L513.7 65.2" fill="none" stroke="#21918c" stroke-width="1.10" stroke-linejoin="round"/>
<path d="M89.6 204.4 L90.5 200.0 L91.3 195.9 L92.2 192.2 L93.0 188.9 L93.9 185.9 L94.8 183.0 L95.6 180.2 L96.5 177.2 L97.3 174.2 L98.2 171.3 L99.1 168.4 L99.9 165.7 L100.8 163.2 L101.6 160.9 L102.5 158.6 L103.4 156.4 L104.2 154.4 L105.1 152.4 L105.9 150.6 L106.8 148.8 L107.7 147.1 L108.5 145.5 L109.4 144.0 L110.2 142.5 L111.1 141.1 L111.9 139.6 L112.8 138.3 L113.7 136.9 L114.5 135.7 L115.4 134.4 L116.2 133.2 L117.1 132.0 L118.0 130.8 L118.8 129.6 L119.7 128.5 L120.5 127.4 L121.4 126.3 L122.3 125.2 L123.1 124.1 L124.0 123.1 L124.8 122.1 L125.7 121.0 L126.6 120.1 L127.4 119.1 L128.3 118.2 L129.1 117.3 L130.0 116.5 L133.0 113.7 L136.1 111.2 L139.1 109.1 L142.2 107.2 L145.2 105.6 L148.3 104.1 L151.3 102.6 L154.3 101.0 L157.4 99.6 L160.4 98.3 L163.5 97.1 L166.5 96.0 L169.6 94.9 L172.6 93.8 L175.7 92.7 L178.7 91.6 L181.7 90.6 L184.8 89.6 L187.8 88.6 L190.9 87.8 L193.9 87.0 L197.0 86.3 L200.0 85.6 L209.0 83.6 L217.9 81.5 L226.9 79.5 L235.9 78.3 L244.8 77.4 L253.8 76.7 L262.7 76.0 L271.7 75.4 L280.7 74.8 L289.6 74.3 L298.6 73.7 L307.6 73.2 L316.5 72.7 L325.5 72.2 L334.4 71.8 L343.4 71.3 L352.4 70.8 L361.3 70.4 L370.3 70.0 L379.3 69.5 L388.2 69.1 L397.2 68.7 L406.1 68.2 L415.1 67.7 L424.1 67.2 L433.0 66.8 L442.0 66.4 L451.0 66.2 L459.9 66.0 L468.9 65.9 L477.8 65.8 L486.8 65.8 L495.8 65.7 L504.7 65.7 L513.7 65.7" fill="none" stroke="#238b8d" stroke-width="1.10" stroke-linejoin="round"/>
<path d="M89.6 204.4 L90.5 199.9 L91.3 195.7 L92.2 192.0 L93.0 188.7 L93.9 185.7 L94.8 182.8 L95.6 179.9 L96.5 176.9 L97.3 174.0 L98.2 171.0 L99.1 168.1 L99.9 165.4 L100.8 162.9 L101.6 160.6 L102.5 158.3 L103.4 156.2 L104.2 154.1 L105.1 152.2 L105.9 150.4 L106.8 148.6 L107.7 146.9 L108.5 145.3 L109.4 143.8 L110.2 142.3 L111.1 140.9 L111.9 139.5 L112.8 138.1 L113.7 136.8 L114.5 135.5 L115.4 134.2 L116.2 133.0 L117.1 131.8 L118.0 130.6 L118.8 129.5 L119.7 128.3 L120.5 127.2 L121.4 126.1 L122.3 125.0 L123.1 124.0 L124.0 122.9 L124.8 121.9 L125.7 120.9 L126.6 119.9 L127.4 119.0 L128.3 118.1 L129.1 117.2 L130.0 116.4 L133.0 113.6 L136.1 111.2 L139.1 109.1 L142.2 107.2 L145.2 105.6 L148.3 104.1 L151.3 102.6 L154.3 101.1 L157.4 99.6 L160.4 98.3 L163.5 97.2 L166.5 96.1 L169.6 95.0 L172.6 93.9 L175.7 92.8 L178.7 91.7 L181.7 90.7 L184.8 89.7 L187.8 88.8 L190.9 88.0 L193.9 87.2 L197.0 86.5 L200.0 85.8 L209.0 83.9 L217.9 81.8 L226.9 79.8 L235.9 78.7 L244.8 77.8 L253.8 77.0 L262.7 76.4 L271.7 75.8 L280.7 75.2 L289.6 74.7 L298.6 74.1 L307.6 73.6 L316.5 73.2 L325.5 72.7 L334.4 72.2 L343.4 71.8 L352.4 71.3 L361.3 70.9 L370.3 70.5 L379.3 70.0 L388.2 69.6 L397.2 69.2 L406.1 68.7 L415.1 68.3 L424.1 67.8 L433.0 67.3 L442.0 67.0 L451.0 66.7 L459.9 66.6 L468.9 66.5 L477.8 66.4 L486.8 66.3 L495.8 66.3 L504.7 66.3 L513.7 66.3" fill="none" stroke="#24868e" stroke-width="1.10" stroke-linejoin="round"/>
<path d="M89.6 204.4 L90.5 199.8 L91.3 195.5 L92.2 191.8 L93.0 188.5 L93.9 185.4 L94.8 182.5 L95.6 179.6 L96.5 176.7 L97.3 173.7 L98.2 170.7 L99.1 167.8 L99.9 165.2 L100.8 162.7 L101.6 160.3 L102.5 158.0 L103.4 155.9 L104.2 153.9 L105.1 152.0 L105.9 150.1 L106.8 148.4 L107.7 146.7 L108.5 145.1 L109.4 143.6 L110.2 142.1 L111.1 140.7 L111.9 139.3 L112.8 137.9 L113.7 136.6 L114.5 135.3 L115.4 134.0 L116.2 132.8 L117.1 131.6 L118.0 130.4 L118.8 129.3 L119.7 128.1 L120.5 127.0 L121.4 125.9 L122.3 124.9 L123.1 123.8 L124.0 122.8 L124.8 121.8 L125.7 120.8 L126.6 119.8 L127.4 118.9 L128.3 118.0 L129.1 117.1 L130.0 116.2 L133.0 113.5 L136.1 111.1 L139.1 109.0 L142.2 107.1 L145.2 105.5 L148.3 104.0 L151.3 102.6 L154.3 101.1 L157.4 99.6 L160.4 98.4 L163.5 97.3 L166.5 96.2 L169.6 95.1 L172.6 94.0 L175.7 92.9 L178.7 91.9 L181.7 90.9 L184.8 89.9 L187.8 89.0 L190.9 88.2 L193.9 87.4 L197.0 86.7 L200.0 86.0 L209.0 84.2 L217.9 82.1 L226.9 80.1 L235.9 79.0 L244.8 78.1 L253.8 77.4 L262.7 76.8 L271.7 76.2 L280.7 75.6 L289.6 75.1 L298.6 74.6 L307.6 74.1 L316.5 73.6 L325.5 73.1 L334.4 72.7 L343.4 72.2 L352.4 71.8 L361.3 71.4 L370.3 71.0 L379.3 70.5 L388.2 70.1 L397.2 69.7 L406.1 69.3 L415.1 68.8 L424.1 68.3 L433.0 67.9 L442.0 67.5 L451.0 67.3 L459.9 67.1 L468.9 67.0 L477.8 67.0 L486.8 66.9 L495.8 66.9 L504.7 66.9 L513.7 66.9" fill="none" stroke="#27808e" stroke-width="1.10" stroke-linejoin="round"/>
<path d="M89.6 204.4 L90.5 199.7 L91.3 195.4 L92.2 191.6 L93.0 188.2 L93.9 185.2 L94.8 182.2 L95.6 179.4 L96.5 176.4 L97.3 173.4 L98.2 170.4 L99.1 167.6 L99.9 164.9 L100.8 162.4 L101.6 160.0 L102.5 157.8 L103.4 155.7 L104.2 153.6 L105.1 151.7 L105.9 149.9 L106.8 148.2 L107.7 146.5 L108.5 144.9 L109.4 143.4 L110.2 141.9 L111.1 140.5 L111.9 139.1 L112.8 137.7 L113.7 136.4 L114.5 135.1 L115.4 133.9 L116.2 132.6 L117.1 131.4 L118.0 130.3 L118.8 129.1 L119.7 128.0 L120.5 126.8 L121.4 125.8 L122.3 124.7 L123.1 123.7 L124.0 122.6 L124.8 121.6 L125.7 120.6 L126.6 119.7 L127.4 118.7 L128.3 117.8 L129.1 117.0 L130.0 116.1 L133.0 113.4 L136.1 111.0 L139.1 108.9 L142.2 107.1 L145.2 105.5 L148.3 104.0 L151.3 102.6 L154.3 101.1 L157.4 99.7 L160.4 98.4 L163.5 97.4 L166.5 96.3 L169.6 95.2 L172.6 94.1 L175.7 93.1 L178.7 92.0 L181.7 91.0 L184.8 90.1 L187.8 89.2 L190.9 88.3 L193.9 87.6 L197.0 86.9 L200.0 86.3 L209.0 84.4 L217.9 82.3 L226.9 80.4 L235.9 79.3 L244.8 78.5 L253.8 77.8 L262.7 77.1 L271.7 76.6 L280.7 76.0 L289.6 75.5 L298.6 75.0 L307.6 74.5 L316.5 74.0 L325.5 73.6 L334.4 73.1 L343.4 72.7 L352.4 72.3 L361.3 71.9 L370.3 71.4 L379.3 71.0 L388.2 70.6 L397.2 70.2 L406.1 69.8 L415.1 69.3 L424.1 68.9 L433.0 68.4 L442.0 68.1 L451.0 67.8 L459.9 67.7 L468.9 67.6 L477.8 67.5 L486.8 67.5 L495.8 67.4 L504.7 67.4 L513.7 67.5" fill="none" stroke="#297b8e" stroke-width="1.10" stroke-linejoin="round"/>
<path d="M89.6 204.4 L90.5 199.6 L91.3 195.2 L92.2 191.4 L93.0 188.0 L93.9 184.9 L94.8 182.0 L95.6 179.1 L96.5 176.1 L97.3 173.1 L98.2 170.1 L99.1 167.3 L99.9 164.6 L100.8 162.1 L101.6 159.7 L102.5 157.5 L103.4 155.4 L104.2 153.4 L105.1 151.5 L105.9 149.7 L106.8 148.0 L107.7 146.3 L108.5 144.7 L109.4 143.2 L110.2 141.7 L111.1 140.3 L111.9 138.9 L112.8 137.5 L113.7 136.2 L114.5 134.9 L115.4 133.7 L116.2 132.4 L117.1 131.3 L118.0 130.1 L118.8 128.9 L119.7 127.8 L120.5 126.7 L121.4 125.6 L122.3 124.5 L123.1 123.5 L124.0 122.5 L124.8 121.5 L125.7 120.5 L126.6 119.5 L127.4 118.6 L128.3 117.7 L129.1 116.8 L130.0 116.0 L133.0 113.3 L136.1 110.9 L139.1 108.9 L142.2 107.0 L145.2 105.4 L148.3 104.0 L151.3 102.5 L154.3 101.1 L157.4 99.7 L160.4 98.5 L163.5 97.4 L166.5 96.4 L169.6 95.3 L172.6 94.2 L175.7 93.2 L178.7 92.2 L181.7 91.2 L184.8 90.2 L187.8 89.3 L190.9 88.5 L193.9 87.8 L197.0 87.1 L200.0 86.5 L209.0 84.7 L217.9 82.6 L226.9 80.8 L235.9 79.7 L244.8 78.8 L253.8 78.1 L262.7 77.5 L271.7 77.0 L280.7 76.4 L289.6 75.9 L298.6 75.4 L307.6 74.9 L316.5 74.5 L325.5 74.0 L334.4 73.6 L343.4 73.2 L352.4 72.8 L361.3 72.3 L370.3 71.9 L379.3 71.5 L388.2 71.1 L397.2 70.7 L406.1 70.3 L415.1 69.9 L424.1 69.4 L433.0 69.0 L442.0 68.6 L451.0 68.4 L459.9 68.2 L468.9 68.2 L477.8 68.1 L486.8 68.0 L495.8 68.0 L504.7 68.0 L513.7 68.1" fill="none" stroke="#2b768e" stroke-width="1.10" stroke-linejoin="round"/>
<path d="M89.6 204.4 L90.5 199.5 L91.3 195.1 L92.2 191.2 L93.0 187.8 L93.9 184.7 L94.8 181.7 L95.6 178.8 L96.5 175.8 L97.3 172.8 L98.2 169.8 L99.1 167.0 L99.9 164.3 L100.8 161.8 L101.6 159.5 L102.5 157.3 L103.4 155.1 L104.2 153.2 L105.1 151.3 L105.9 149.5 L106.8 147.8 L107.7 146.1 L108.5 144.5 L109.4 143.0 L110.2 141.6 L111.1 140.1 L111.9 138.7 L112.8 137.3 L113.7 136.0 L114.5 134.7 L115.4 133.5 L116.2 132.3 L117.1 131.1 L118.0 129.9 L118.8 128.7 L119.7 127.6 L120.5 126.5 L121.4 125.4 L122.3 124.4 L123.1 123.4 L124.0 122.3 L124.8 121.3 L125.7 120.3 L126.6 119.4 L127.4 118.5 L128.3 117.6 L129.1 116.7 L130.0 115.9 L133.0 113.2 L136.1 110.9 L139.1 108.8 L142.2 107.0 L145.2 105.4 L148.3 104.0 L151.3 102.5 L154.3 101.1 L157.4 99.7 L160.4 98.5 L163.5 97.5 L166.5 96.5 L169.6 95.4 L172.6 94.4 L175.7 93.3 L178.7 92.3 L181.7 91.3 L184.8 90.4 L187.8 89.5 L190.9 88.7 L193.9 88.0 L197.0 87.3 L200.0 86.7 L209.0 84.9 L217.9 82.9 L226.9 81.1 L235.9 80.0 L244.8 79.2 L253.8 78.5 L262.7 77.9 L271.7 77.3 L280.7 76.8 L289.6 76.3 L298.6 75.8 L307.6 75.4 L316.5 74.9 L325.5 74.5 L334.4 74.1 L343.4 73.6 L352.4 73.2 L361.3 72.8 L370.3 72.4 L379.3 72.0 L388.2 71.6 L397.2 71.3 L406.1 70.8 L415.1 70.4 L424.1 69.9 L433.0 69.5 L442.0 69.2 L451.0 68.9 L459.9 68.8 L468.9 68.7 L477.8 68.7 L486.8 68.6 L495.8 68.6 L504.7 68.6 L513.7 68.6" fill="none" stroke="#2d718e" stroke-width="1.10" stroke-linejoin="round"/>
<path d="M89.6 204.4 L90.5 199.5 L91.3 194.9 L92.2 191.0 L93.0 187.5 L93.9 184.4 L94.8 181.4 L95.6 178.5 L96.5 175.6 L97.3 172.5 L98.2 169.5 L99.1 166.7 L99.9 164.0 L100.8 161.5 L101.6 159.2 L102.5 157.0 L103.4 154.9 L104.2 152.9 L105.1 151.0 L105.9 149.3 L106.8 147.6 L107.7 145.9 L108.5 144.3 L109.4 142.8 L110.2 141.4 L111.1 139.9 L111.9 138.5 L112.8 137.2 L113.7 135.8 L114.5 134.5 L115.4 133.3 L116.2 132.1 L117.1 130.9 L118.0 129.7 L118.8 128.6 L119.7 127.4 L120.5 126.3 L121.4 125.3 L122.3 124.2 L123.1 123.2 L124.0 122.2 L124.8 121.2 L125.7 120.2 L126.6 119.3 L127.4 118.3 L128.3 117.5 L129.1 116.6 L130.0 115.8 L133.0 113.1 L136.1 110.8 L139.1 108.7 L142.2 106.9 L145.2 105.4 L148.3 103.9 L151.3 102.5 L154.3 101.1 L157.4 99.8 L160.4 98.6 L163.5 97.6 L166.5 96.6 L169.6 95.5 L172.6 94.5 L175.7 93.4 L178.7 92.4 L181.7 91.5 L184.8 90.5 L187.8 89.7 L190.9 88.9 L193.9 88.2 L197.0 87.5 L200.0 86.9 L209.0 85.2 L217.9 83.2 L226.9 81.4 L235.9 80.3 L244.8 79.5 L253.8 78.8 L262.7 78.3 L271.7 77.7 L280.7 77.2 L289.6 76.7 L298.6 76.2 L307.6 75.8 L316.5 75.4 L325.5 74.9 L334.4 74.5 L343.4 74.1 L352.4 73.7 L361.3 73.3 L370.3 72.9 L379.3 72.5 L388.2 72.2 L397.2 71.8 L406.1 71.4 L415.1 70.9 L424.1 70.5 L433.0 70.1 L442.0 69.7 L451.0 69.5 L459.9 69.4 L468.9 69.3 L477.8 69.2 L486.8 69.2 L495.8 69.2 L504.7 69.2 L513.7 69.2" fill="none" stroke="#2f6b8e" stroke-width="1.10" stroke-linejoin="round"/>
<path d="M89.6 204.4 L90.5 199.4 L91.3 194.7 L92.2 190.7 L93.0 187.3 L93.9 184.1 L94.8 181.2 L95.6 178.3 L96.5 175.3 L97.3 172.2 L98.2 169.3 L99.1 166.4 L99.9 163.7 L100.8 161.2 L101.6 158.9 L102.5 156.7 L103.4 154.6 L104.2 152.7 L105.1 150.8 L105.9 149.1 L106.8 147.3 L107.7 145.7 L108.5 144.1 L109.4 142.6 L110.2 141.2 L111.1 139.7 L111.9 138.3 L112.8 137.0 L113.7 135.6 L114.5 134.4 L115.4 133.1 L116.2 131.9 L117.1 130.7 L118.0 129.5 L118.8 128.4 L119.7 127.2 L120.5 126.2 L121.4 125.1 L122.3 124.1 L123.1 123.0 L124.0 122.0 L124.8 121.0 L125.7 120.1 L126.6 119.1 L127.4 118.2 L128.3 117.3 L129.1 116.5 L130.0 115.7 L133.0 113.0 L136.1 110.7 L139.1 108.7 L142.2 106.9 L145.2 105.3 L148.3 103.9 L151.3 102.5 L154.3 101.1 L157.4 99.8 L160.4 98.7 L163.5 97.6 L166.5 96.6 L169.6 95.6 L172.6 94.6 L175.7 93.6 L178.7 92.6 L181.7 91.6 L184.8 90.7 L187.8 89.8 L190.9 89.1 L193.9 88.4 L197.0 87.8 L200.0 87.1 L209.0 85.4 L217.9 83.5 L226.9 81.7 L235.9 80.7 L244.8 79.8 L253.8 79.2 L262.7 78.6 L271.7 78.1 L280.7 77.6 L289.6 77.1 L298.6 76.6 L307.6 76.2 L316.5 75.8 L325.5 75.4 L334.4 75.0 L343.4 74.6 L352.4 74.2 L361.3 73.8 L370.3 73.4 L379.3 73.0 L388.2 72.7 L397.2 72.3 L406.1 71.9 L415.1 71.5 L424.1 71.0 L433.0 70.6 L442.0 70.3 L451.0 70.1 L459.9 69.9 L468.9 69.9 L477.8 69.8 L486.8 69.8 L495.8 69.7 L504.7 69.7 L513.7 69.8" fill="none" stroke="#32668e" stroke-width="1.10" stroke-linejoin="round"/>
<path d="M89.6 204.3 L90.5 199.3 L91.3 194.6 L92.2 190.5 L93.0 187.0 L93.9 183.9 L94.8 180.9 L95.6 178.0 L96.5 175.0 L97.3 172.0 L98.2 169.0 L99.1 166.1 L99.9 163.4 L100.8 160.9 L101.6 158.6 L102.5 156.5 L103.4 154.4 L104.2 152.4 L105.1 150.6 L105.9 148.8 L106.8 147.1 L107.7 145.5 L108.5 143.9 L109.4 142.4 L110.2 141.0 L111.1 139.6 L111.9 138.2 L112.8 136.8 L113.7 135.5 L114.5 134.2 L115.4 132.9 L116.2 131.7 L117.1 130.5 L118.0 129.3 L118.8 128.2 L119.7 127.1 L120.5 126.0 L121.4 124.9 L122.3 123.9 L123.1 122.9 L124.0 121.9 L124.8 120.9 L125.7 119.9 L126.6 119.0 L127.4 118.1 L128.3 117.2 L129.1 116.4 L130.0 115.6 L133.0 112.9 L136.1 110.6 L139.1 108.6 L142.2 106.8 L145.2 105.3 L148.3 103.9 L151.3 102.5 L154.3 101.1 L157.4 99.8 L160.4 98.7 L163.5 97.7 L166.5 96.7 L169.6 95.7 L172.6 94.7 L175.7 93.7 L178.7 92.7 L181.7 91.8 L184.8 90.9 L187.8 90.0 L190.9 89.3 L193.9 88.6 L197.0 88.0 L200.0 87.4 L209.0 85.7 L217.9 83.8 L226.9 82.0 L235.9 81.0 L244.8 80.2 L253.8 79.5 L262.7 79.0 L271.7 78.5 L280.7 78.0 L289.6 77.5 L298.6 77.1 L307.6 76.6 L316.5 76.2 L325.5 75.8 L334.4 75.4 L343.4 75.1 L352.4 74.7 L361.3 74.3 L370.3 73.9 L379.3 73.5 L388.2 73.2 L397.2 72.8 L406.1 72.4 L415.1 72.0 L424.1 71.6 L433.0 71.2 L442.0 70.8 L451.0 70.6 L459.9 70.5 L468.9 70.4 L477.8 70.4 L486.8 70.3 L495.8 70.3 L504.7 70.3 L513.7 70.4" fill="none" stroke="#34608d" stroke-width="1.10" stroke-linejoin="round"/>
<path d="M89.6 204.3 L90.5 199.2 L91.3 194.4 L92.2 190.3 L93.0 186.8 L93.9 183.6 L94.8 180.6 L95.6 177.7 L96.5 174.7 L97.3 171.7 L98.2 168.7 L99.1 165.8 L99.9 163.1 L100.8 160.6 L101.6 158.4 L102.5 156.2 L103.4 154.1 L104.2 152.2 L105.1 150.4 L105.9 148.6 L106.8 146.9 L107.7 145.3 L108.5 143.7 L109.4 142.2 L110.2 140.8 L111.1 139.4 L111.9 138.0 L112.8 136.6 L113.7 135.3 L114.5 134.0 L115.4 132.7 L116.2 131.5 L117.1 130.3 L118.0 129.1 L118.8 128.0 L119.7 126.9 L120.5 125.8 L121.4 124.8 L122.3 123.7 L123.1 122.7 L124.0 121.7 L124.8 120.8 L125.7 119.8 L126.6 118.9 L127.4 118.0 L128.3 117.1 L129.1 116.2 L130.0 115.4 L133.0 112.8 L136.1 110.5 L139.1 108.5 L142.2 106.8 L145.2 105.3 L148.3 103.9 L151.3 102.5 L154.3 101.2 L157.4 99.9 L160.4 98.8 L163.5 97.8 L166.5 96.8 L169.6 95.8 L172.6 94.8 L175.7 93.8 L178.7 92.8 L181.7 91.9 L184.8 91.0 L187.8 90.2 L190.9 89.5 L193.9 88.8 L197.0 88.2 L200.0 87.6 L209.0 85.9 L217.9 84.1 L226.9 82.3 L235.9 81.3 L244.8 80.5 L253.8 79.9 L262.7 79.4 L271.7 78.9 L280.7 78.4 L289.6 77.9 L298.6 77.5 L307.6 77.1 L316.5 76.7 L325.5 76.3 L334.4 75.9 L343.4 75.5 L352.4 75.1 L361.3 74.8 L370.3 74.4 L379.3 74.1 L388.2 73.7 L397.2 73.3 L406.1 73.0 L415.1 72.5 L424.1 72.1 L433.0 71.7 L442.0 71.4 L451.0 71.2 L459.9 71.0 L468.9 71.0 L477.8 70.9 L486.8 70.9 L495.8 70.9 L504.7 70.9 L513.7 71.0" fill="none" stroke="#375a8c" stroke-width="1.10" stroke-linejoin="round"/>
<path d="M89.6 204.3 L90.5 199.1 L91.3 194.3 L92.2 190.1 L93.0 186.6 L93.9 183.4 L94.8 180.4 L95.6 177.4 L96.5 174.4 L97.3 171.4 L98.2 168.4 L99.1 165.5 L99.9 162.8 L100.8 160.4 L101.6 158.1 L102.5 155.9 L103.4 153.9 L104.2 152.0 L105.1 150.1 L105.9 148.4 L106.8 146.7 L107.7 145.1 L108.5 143.5 L109.4 142.0 L110.2 140.6 L111.1 139.2 L111.9 137.8 L112.8 136.4 L113.7 135.1 L114.5 133.8 L115.4 132.5 L116.2 131.3 L117.1 130.1 L118.0 129.0 L118.8 127.8 L119.7 126.7 L120.5 125.6 L121.4 124.6 L122.3 123.6 L123.1 122.6 L124.0 121.6 L124.8 120.6 L125.7 119.7 L126.6 118.7 L127.4 117.8 L128.3 117.0 L129.1 116.1 L130.0 115.3 L133.0 112.7 L136.1 110.5 L139.1 108.5 L142.2 106.7 L145.2 105.2 L148.3 103.8 L151.3 102.5 L154.3 101.2 L157.4 99.9 L160.4 98.8 L163.5 97.9 L166.5 96.9 L169.6 95.9 L172.6 94.9 L175.7 93.9 L178.7 93.0 L181.7 92.1 L184.8 91.2 L187.8 90.4 L190.9 89.6 L193.9 89.0 L197.0 88.4 L200.0 87.8 L209.0 86.2 L217.9 84.3 L226.9 82.6 L235.9 81.7 L244.8 80.9 L253.8 80.3 L262.7 79.7 L271.7 79.2 L280.7 78.8 L289.6 78.3 L298.6 77.9 L307.6 77.5 L316.5 77.1 L325.5 76.7 L334.4 76.4 L343.4 76.0 L352.4 75.6 L361.3 75.3 L370.3 74.9 L379.3 74.6 L388.2 74.2 L397.2 73.8 L406.1 73.5 L415.1 73.1 L424.1 72.7 L433.0 72.3 L442.0 71.9 L451.0 71.7 L459.9 71.6 L468.9 71.5 L477.8 71.5 L486.8 71.5 L495.8 71.5 L504.7 71.5 L513.7 71.5" fill="none" stroke="#3a558b" stroke-width="1.10" stroke-linejoin="round"/>
<path d="M89.6 204.3 L90.5 199.0 L91.3 194.1 L92.2 189.9 L93.0 186.3 L93.9 183.1 L94.8 180.1 L95.6 177.2 L96.5 174.2 L97.3 171.1 L98.2 168.1 L99.1 165.2 L99.9 162.5 L100.8 160.1 L101.6 157.8 L102.5 155.7 L103.4 153.6 L104.2 151.7 L105.1 149.9 L105.9 148.2 L106.8 146.5 L107.7 144.9 L108.5 143.3 L109.4 141.8 L110.2 140.4 L111.1 139.0 L111.9 137.6 L112.8 136.2 L113.7 134.9 L114.5 133.6 L115.4 132.3 L116.2 131.1 L117.1 129.9 L118.0 128.8 L118.8 127.6 L119.7 126.5 L120.5 125.5 L121.4 124.4 L122.3 123.4 L123.1 122.4 L124.0 121.4 L124.8 120.5 L125.7 119.5 L126.6 118.6 L127.4 117.7 L128.3 116.8 L129.1 116.0 L130.0 115.2 L133.0 112.6 L136.1 110.4 L139.1 108.4 L142.2 106.7 L145.2 105.2 L148.3 103.8 L151.3 102.5 L154.3 101.2 L157.4 99.9 L160.4 98.9 L163.5 97.9 L166.5 97.0 L169.6 96.0 L172.6 95.1 L175.7 94.1 L178.7 93.1 L181.7 92.2 L184.8 91.3 L187.8 90.5 L190.9 89.8 L193.9 89.2 L197.0 88.6 L200.0 88.0 L209.0 86.4 L217.9 84.6 L226.9 83.0 L235.9 82.0 L244.8 81.2 L253.8 80.6 L262.7 80.1 L271.7 79.6 L280.7 79.2 L289.6 78.7 L298.6 78.3 L307.6 77.9 L316.5 77.5 L325.5 77.2 L334.4 76.8 L343.4 76.5 L352.4 76.1 L361.3 75.7 L370.3 75.4 L379.3 75.1 L388.2 74.7 L397.2 74.4 L406.1 74.0 L415.1 73.6 L424.1 73.2 L433.0 72.8 L442.0 72.5 L451.0 72.3 L459.9 72.2 L468.9 72.1 L477.8 72.1 L486.8 72.0 L495.8 72.0 L504.7 72.1 L513.7 72.1" fill="none" stroke="#3c4f8a" stroke-width="1.10" stroke-linejoin="round"/>
<path d="M89.6 204.3 L90.5 198.9 L91.3 194.0 L92.2 189.7 L93.0 186.1 L93.9 182.9 L94.8 179.9 L95.6 176.9 L96.5 173.9 L97.3 170.8 L98.2 167.8 L99.1 164.9 L99.9 162.2 L100.8 159.8 L101.6 157.5 L102.5 155.4 L103.4 153.4 L104.2 151.5 L105.1 149.7 L105.9 148.0 L106.8 146.3 L107.7 144.7 L108.5 143.1 L109.4 141.7 L110.2 140.2 L111.1 138.8 L111.9 137.4 L112.8 136.0 L113.7 134.7 L114.5 133.4 L115.4 132.2 L116.2 130.9 L117.1 129.8 L118.0 128.6 L118.8 127.5 L119.7 126.4 L120.5 125.3 L121.4 124.2 L122.3 123.2 L123.1 122.3 L124.0 121.3 L124.8 120.3 L125.7 119.4 L126.6 118.5 L127.4 117.6 L128.3 116.7 L129.1 115.9 L130.0 115.1 L133.0 112.5 L136.1 110.3 L139.1 108.3 L142.2 106.6 L145.2 105.1 L148.3 103.8 L151.3 102.5 L154.3 101.2 L157.4 100.0 L160.4 98.9 L163.5 98.0 L166.5 97.1 L169.6 96.1 L172.6 95.2 L175.7 94.2 L178.7 93.3 L181.7 92.4 L184.8 91.5 L187.8 90.7 L190.9 90.0 L193.9 89.4 L197.0 88.8 L200.0 88.3 L209.0 86.7 L217.9 84.9 L226.9 83.3 L235.9 82.3 L244.8 81.6 L253.8 81.0 L262.7 80.5 L271.7 80.0 L280.7 79.6 L289.6 79.1 L298.6 78.7 L307.6 78.3 L316.5 78.0 L325.5 77.6 L334.4 77.3 L343.4 76.9 L352.4 76.6 L361.3 76.2 L370.3 75.9 L379.3 75.6 L388.2 75.2 L397.2 74.9 L406.1 74.5 L415.1 74.1 L424.1 73.7 L433.0 73.4 L442.0 73.0 L451.0 72.8 L459.9 72.7 L468.9 72.7 L477.8 72.6 L486.8 72.6 L495.8 72.6 L504.7 72.6 L513.7 72.7" fill="none" stroke="#3f4988" stroke-width="1.10" stroke-linejoin="round"/>
<path d="M89.6 204.3 L90.5 198.8 L91.3 193.8 L92.2 189.5 L93.0 185.9 L93.9 182.6 L94.8 179.6 L95.6 176.6 L96.5 173.6 L97.3 170.5 L98.2 167.5 L99.1 164.6 L99.9 161.9 L100.8 159.5 L101.6 157.2 L102.5 155.1 L103.4 153.1 L104.2 151.2 L105.1 149.5 L105.9 147.7 L106.8 146.1 L107.7 144.5 L108.5 142.9 L109.4 141.5 L110.2 140.0 L111.1 138.6 L111.9 137.2 L112.8 135.9 L113.7 134.5 L114.5 133.2 L115.4 132.0 L116.2 130.7 L117.1 129.6 L118.0 128.4 L118.8 127.3 L119.7 126.2 L120.5 125.1 L121.4 124.1 L122.3 123.1 L123.1 122.1 L124.0 121.1 L124.8 120.2 L125.7 119.2 L126.6 118.3 L127.4 117.4 L128.3 116.6 L129.1 115.8 L130.0 115.0 L133.0 112.4 L136.1 110.2 L139.1 108.3 L142.2 106.6 L145.2 105.1 L148.3 103.8 L151.3 102.5 L154.3 101.2 L157.4 100.0 L160.4 99.0 L163.5 98.1 L166.5 97.2 L169.6 96.2 L172.6 95.3 L175.7 94.3 L178.7 93.4 L181.7 92.5 L184.8 91.7 L187.8 90.9 L190.9 90.2 L193.9 89.6 L197.0 89.0 L200.0 88.5 L209.0 87.0 L217.9 85.2 L226.9 83.6 L235.9 82.6 L244.8 81.9 L253.8 81.3 L262.7 80.8 L271.7 80.4 L280.7 79.9 L289.6 79.5 L298.6 79.1 L307.6 78.8 L316.5 78.4 L325.5 78.1 L334.4 77.7 L343.4 77.4 L352.4 77.1 L361.3 76.7 L370.3 76.4 L379.3 76.1 L388.2 75.7 L397.2 75.4 L406.1 75.1 L415.1 74.7 L424.1 74.3 L433.0 73.9 L442.0 73.6 L451.0 73.4 L459.9 73.3 L468.9 73.2 L477.8 73.2 L486.8 73.2 L495.8 73.2 L504.7 73.2 L513.7 73.3" fill="none" stroke="#414386" stroke-width="1.10" stroke-linejoin="round"/>
<path d="M89.6 204.3 L90.5 198.7 L91.3 193.6 L92.2 189.3 L93.0 185.6 L93.9 182.4 L94.8 179.3 L95.6 176.4 L96.5 173.3 L97.3 170.2 L98.2 167.2 L99.1 164.3 L99.9 161.6 L100.8 159.2 L101.6 157.0 L102.5 154.9 L103.4 152.9 L104.2 151.0 L105.1 149.2 L105.9 147.5 L106.8 145.8 L107.7 144.2 L108.5 142.7 L109.4 141.3 L110.2 139.8 L111.1 138.4 L111.9 137.0 L112.8 135.7 L113.7 134.3 L114.5 133.0 L115.4 131.8 L116.2 130.6 L117.1 129.4 L118.0 128.2 L118.8 127.1 L119.7 126.0 L120.5 124.9 L121.4 123.9 L122.3 122.9 L123.1 121.9 L124.0 121.0 L124.8 120.0 L125.7 119.1 L126.6 118.2 L127.4 117.3 L128.3 116.5 L129.1 115.7 L130.0 114.9 L133.0 112.4 L136.1 110.1 L139.1 108.2 L142.2 106.5 L145.2 105.1 L148.3 103.8 L151.3 102.5 L154.3 101.2 L157.4 100.0 L160.4 99.0 L163.5 98.1 L166.5 97.3 L169.6 96.3 L172.6 95.4 L175.7 94.5 L178.7 93.5 L181.7 92.6 L184.8 91.8 L187.8 91.0 L190.9 90.4 L193.9 89.8 L197.0 89.2 L200.0 88.7 L209.0 87.2 L217.9 85.5 L226.9 83.9 L235.9 83.0 L244.8 82.3 L253.8 81.7 L262.7 81.2 L271.7 80.8 L280.7 80.3 L289.6 79.9 L298.6 79.6 L307.6 79.2 L316.5 78.9 L325.5 78.5 L334.4 78.2 L343.4 77.9 L352.4 77.5 L361.3 77.2 L370.3 76.9 L379.3 76.6 L388.2 76.2 L397.2 75.9 L406.1 75.6 L415.1 75.2 L424.1 74.8 L433.0 74.5 L442.0 74.2 L451.0 73.9 L459.9 73.8 L468.9 73.8 L477.8 73.8 L486.8 73.8 L495.8 73.8 L504.7 73.8 L513.7 73.9" fill="none" stroke="#443c83" stroke-width="1.10" stroke-linejoin="round"/>
<path d="M89.6 204.3 L90.5 198.6 L91.3 193.5 L92.2 189.1 L93.0 185.4 L93.9 182.1 L94.8 179.1 L95.6 176.1 L96.5 173.0 L97.3 170.0 L98.2 166.9 L99.1 164.0 L99.9 161.4 L100.8 158.9 L101.6 156.7 L102.5 154.6 L103.4 152.6 L104.2 150.8 L105.1 149.0 L105.9 147.3 L106.8 145.6 L107.7 144.0 L108.5 142.5 L109.4 141.1 L110.2 139.6 L111.1 138.2 L111.9 136.9 L112.8 135.5 L113.7 134.2 L114.5 132.9 L115.4 131.6 L116.2 130.4 L117.1 129.2 L118.0 128.0 L118.8 126.9 L119.7 125.8 L120.5 124.8 L121.4 123.7 L122.3 122.8 L123.1 121.8 L124.0 120.8 L124.8 119.9 L125.7 119.0 L126.6 118.1 L127.4 117.2 L128.3 116.3 L129.1 115.5 L130.0 114.8 L133.0 112.3 L136.1 110.1 L139.1 108.1 L142.2 106.5 L145.2 105.0 L148.3 103.7 L151.3 102.5 L154.3 101.2 L157.4 100.1 L160.4 99.1 L163.5 98.2 L166.5 97.3 L169.6 96.4 L172.6 95.5 L175.7 94.6 L178.7 93.7 L181.7 92.8 L184.8 92.0 L187.8 91.2 L190.9 90.6 L193.9 90.0 L197.0 89.4 L200.0 88.9 L209.0 87.5 L217.9 85.8 L226.9 84.2 L235.9 83.3 L244.8 82.6 L253.8 82.1 L262.7 81.6 L271.7 81.2 L280.7 80.7 L289.6 80.3 L298.6 80.0 L307.6 79.6 L316.5 79.3 L325.5 79.0 L334.4 78.7 L343.4 78.3 L352.4 78.0 L361.3 77.7 L370.3 77.4 L379.3 77.1 L388.2 76.8 L397.2 76.4 L406.1 76.1 L415.1 75.7 L424.1 75.4 L433.0 75.0 L442.0 74.7 L451.0 74.5 L459.9 74.4 L468.9 74.4 L477.8 74.3 L486.8 74.3 L495.8 74.3 L504.7 74.4 L513.7 74.4" fill="none" stroke="#463580" stroke-width="1.10" stroke-linejoin="round"/>
<path d="M89.6 204.3 L90.5 198.6 L91.3 193.3 L92.2 188.9 L93.0 185.2 L93.9 181.8 L94.8 178.8 L95.6 175.8 L96.5 172.8 L97.3 169.7 L98.2 166.6 L99.1 163.8 L99.9 161.1 L100.8 158.6 L101.6 156.4 L102.5 154.3 L103.4 152.4 L104.2 150.5 L105.1 148.8 L105.9 147.1 L106.8 145.4 L107.7 143.8 L108.5 142.3 L109.4 140.9 L110.2 139.5 L111.1 138.1 L111.9 136.7 L112.8 135.3 L113.7 134.0 L114.5 132.7 L115.4 131.4 L116.2 130.2 L117.1 129.0 L118.0 127.9 L118.8 126.7 L119.7 125.6 L120.5 124.6 L121.4 123.6 L122.3 122.6 L123.1 121.6 L124.0 120.7 L124.8 119.7 L125.7 118.8 L126.6 117.9 L127.4 117.1 L128.3 116.2 L129.1 115.4 L130.0 114.6 L133.0 112.2 L136.1 110.0 L139.1 108.1 L142.2 106.4 L145.2 105.0 L148.3 103.7 L151.3 102.5 L154.3 101.2 L157.4 100.1 L160.4 99.1 L163.5 98.3 L166.5 97.4 L169.6 96.5 L172.6 95.6 L175.7 94.7 L178.7 93.8 L181.7 92.9 L184.8 92.1 L187.8 91.4 L190.9 90.7 L193.9 90.2 L197.0 89.6 L200.0 89.1 L209.0 87.7 L217.9 86.1 L226.9 84.5 L235.9 83.6 L244.8 83.0 L253.8 82.4 L262.7 82.0 L271.7 81.5 L280.7 81.1 L289.6 80.7 L298.6 80.4 L307.6 80.1 L316.5 79.7 L325.5 79.4 L334.4 79.1 L343.4 78.8 L352.4 78.5 L361.3 78.2 L370.3 77.9 L379.3 77.6 L388.2 77.3 L397.2 77.0 L406.1 76.6 L415.1 76.3 L424.1 75.9 L433.0 75.5 L442.0 75.3 L451.0 75.0 L459.9 74.9 L468.9 74.9 L477.8 74.9 L486.8 74.9 L495.8 74.9 L504.7 74.9 L513.7 75.0" fill="none" stroke="#472e7c" stroke-width="1.10" stroke-linejoin="round"/>
<path d="M89.6 204.3 L90.5 198.5 L91.3 193.2 L92.2 188.7 L93.0 184.9 L93.9 181.6 L94.8 178.5 L95.6 175.5 L96.5 172.5 L97.3 169.4 L98.2 166.4 L99.1 163.5 L99.9 160.8 L100.8 158.3 L101.6 156.1 L102.5 154.1 L103.4 152.1 L104.2 150.3 L105.1 148.5 L105.9 146.9 L106.8 145.2 L107.7 143.6 L108.5 142.1 L109.4 140.7 L110.2 139.3 L111.1 137.9 L111.9 136.5 L112.8 135.1 L113.7 133.8 L114.5 132.5 L115.4 131.2 L116.2 130.0 L117.1 128.8 L118.0 127.7 L118.8 126.6 L119.7 125.5 L120.5 124.4 L121.4 123.4 L122.3 122.4 L123.1 121.5 L124.0 120.5 L124.8 119.6 L125.7 118.7 L126.6 117.8 L127.4 116.9 L128.3 116.1 L129.1 115.3 L130.0 114.5 L133.0 112.1 L136.1 109.9 L139.1 108.0 L142.2 106.4 L145.2 105.0 L148.3 103.7 L151.3 102.4 L154.3 101.3 L157.4 100.1 L160.4 99.2 L163.5 98.4 L166.5 97.5 L169.6 96.6 L172.6 95.7 L175.7 94.8 L178.7 94.0 L181.7 93.1 L184.8 92.3 L187.8 91.6 L190.9 90.9 L193.9 90.4 L197.0 89.8 L200.0 89.4 L209.0 88.0 L217.9 86.4 L226.9 84.8 L235.9 84.0 L244.8 83.3 L253.8 82.8 L262.7 82.3 L271.7 81.9 L280.7 81.5 L289.6 81.1 L298.6 80.8 L307.6 80.5 L316.5 80.2 L325.5 79.9 L334.4 79.6 L343.4 79.3 L352.4 79.0 L361.3 78.7 L370.3 78.4 L379.3 78.1 L388.2 77.8 L397.2 77.5 L406.1 77.2 L415.1 76.8 L424.1 76.4 L433.0 76.1 L442.0 75.8 L451.0 75.6 L459.9 75.5 L468.9 75.5 L477.8 75.5 L486.8 75.5 L495.8 75.5 L504.7 75.5 L513.7 75.6" fill="none" stroke="#482777" stroke-width="1.10" stroke-linejoin="round"/>
<path d="M89.6 204.3 L90.5 198.4 L91.3 193.0 L92.2 188.5 L93.0 184.7 L93.9 181.3 L94.8 178.3 L95.6 175.3 L96.5 172.2 L97.3 169.1 L98.2 166.1 L99.1 163.2 L99.9 160.5 L100.8 158.1 L101.6 155.9 L102.5 153.8 L103.4 151.9 L104.2 150.0 L105.1 148.3 L105.9 146.6 L106.8 145.0 L107.7 143.4 L108.5 141.9 L109.4 140.5 L110.2 139.1 L111.1 137.7 L111.9 136.3 L112.8 134.9 L113.7 133.6 L114.5 132.3 L115.4 131.0 L116.2 129.8 L117.1 128.6 L118.0 127.5 L118.8 126.4 L119.7 125.3 L120.5 124.2 L121.4 123.2 L122.3 122.3 L123.1 121.3 L124.0 120.4 L124.8 119.4 L125.7 118.5 L126.6 117.6 L127.4 116.8 L128.3 116.0 L129.1 115.2 L130.0 114.4 L133.0 112.0 L136.1 109.8 L139.1 107.9 L142.2 106.3 L145.2 104.9 L148.3 103.7 L151.3 102.4 L154.3 101.3 L157.4 100.2 L160.4 99.2 L163.5 98.4 L166.5 97.6 L169.6 96.7 L172.6 95.9 L175.7 95.0 L178.7 94.1 L181.7 93.2 L184.8 92.5 L187.8 91.7 L190.9 91.1 L193.9 90.6 L197.0 90.0 L200.0 89.6 L209.0 88.2 L217.9 86.6 L226.9 85.2 L235.9 84.3 L244.8 83.7 L253.8 83.1 L262.7 82.7 L271.7 82.3 L280.7 81.9 L289.6 81.5 L298.6 81.2 L307.6 80.9 L316.5 80.6 L325.5 80.3 L334.4 80.0 L343.4 79.7 L352.4 79.4 L361.3 79.2 L370.3 78.9 L379.3 78.6 L388.2 78.3 L397.2 78.0 L406.1 77.7 L415.1 77.4 L424.1 77.0 L433.0 76.6 L442.0 76.4 L451.0 76.2 L459.9 76.1 L468.9 76.0 L477.8 76.0 L486.8 76.0 L495.8 76.1 L504.7 76.1 L513.7 76.2" fill="none" stroke="#482071" stroke-width="1.10" stroke-linejoin="round"/>
<path d="M89.6 204.3 L90.5 198.3 L91.3 192.8 L92.2 188.3 L93.0 184.4 L93.9 181.1 L94.8 178.0 L95.6 175.0 L96.5 171.9 L97.3 168.8 L98.2 165.8 L99.1 162.9 L99.9 160.2 L100.8 157.8 L101.6 155.6 L102.5 153.5 L103.4 151.6 L104.2 149.8 L105.1 148.1 L105.9 146.4 L106.8 144.8 L107.7 143.2 L108.5 141.7 L109.4 140.3 L110.2 138.9 L111.1 137.5 L111.9 136.1 L112.8 134.8 L113.7 133.4 L114.5 132.1 L115.4 130.8 L116.2 129.6 L117.1 128.4 L118.0 127.3 L118.8 126.2 L119.7 125.1 L120.5 124.1 L121.4 123.1 L122.3 122.1 L123.1 121.2 L124.0 120.2 L124.8 119.3 L125.7 118.4 L126.6 117.5 L127.4 116.7 L128.3 115.8 L129.1 115.1 L130.0 114.3 L133.0 111.9 L136.1 109.7 L139.1 107.9 L142.2 106.3 L145.2 104.9 L148.3 103.6 L151.3 102.4 L154.3 101.3 L157.4 100.2 L160.4 99.3 L163.5 98.5 L166.5 97.7 L169.6 96.8 L172.6 96.0 L175.7 95.1 L178.7 94.2 L181.7 93.4 L184.8 92.6 L187.8 91.9 L190.9 91.3 L193.9 90.7 L197.0 90.3 L200.0 89.8 L209.0 88.5 L217.9 86.9 L226.9 85.5 L235.9 84.6 L244.8 84.0 L253.8 83.5 L262.7 83.1 L271.7 82.7 L280.7 82.3 L289.6 81.9 L298.6 81.6 L307.6 81.3 L316.5 81.1 L325.5 80.8 L334.4 80.5 L343.4 80.2 L352.4 79.9 L361.3 79.6 L370.3 79.4 L379.3 79.1 L388.2 78.8 L397.2 78.5 L406.1 78.2 L415.1 77.9 L424.1 77.5 L433.0 77.2 L442.0 76.9 L451.0 76.7 L459.9 76.6 L468.9 76.6 L477.8 76.6 L486.8 76.6 L495.8 76.6 L504.7 76.7 L513.7 76.8" fill="none" stroke="#47186a" stroke-width="1.10" stroke-linejoin="round"/>
<path d="M89.6 204.3 L90.5 198.2 L91.3 192.7 L92.2 188.0 L93.0 184.2 L93.9 180.8 L94.8 177.7 L95.6 174.7 L96.5 171.6 L97.3 168.5 L98.2 165.5 L99.1 162.6 L99.9 159.9 L100.8 157.5 L101.6 155.3 L102.5 153.3 L103.4 151.4 L104.2 149.6 L105.1 147.9 L105.9 146.2 L106.8 144.6 L107.7 143.0 L108.5 141.5 L109.4 140.1 L110.2 138.7 L111.1 137.3 L111.9 135.9 L112.8 134.6 L113.7 133.2 L114.5 131.9 L115.4 130.6 L116.2 129.4 L117.1 128.3 L118.0 127.1 L118.8 126.0 L119.7 124.9 L120.5 123.9 L121.4 122.9 L122.3 121.9 L123.1 121.0 L124.0 120.1 L124.8 119.1 L125.7 118.3 L126.6 117.4 L127.4 116.5 L128.3 115.7 L129.1 114.9 L130.0 114.2 L133.0 111.8 L136.1 109.7 L139.1 107.8 L142.2 106.2 L145.2 104.8 L148.3 103.6 L151.3 102.4 L154.3 101.3 L157.4 100.2 L160.4 99.3 L163.5 98.6 L166.5 97.8 L169.6 97.0 L172.6 96.1 L175.7 95.2 L178.7 94.4 L181.7 93.5 L184.8 92.8 L187.8 92.1 L190.9 91.5 L193.9 90.9 L197.0 90.5 L200.0 90.0 L209.0 88.7 L217.9 87.2 L226.9 85.8 L235.9 85.0 L244.8 84.4 L253.8 83.9 L262.7 83.4 L271.7 83.1 L280.7 82.7 L289.6 82.4 L298.6 82.0 L307.6 81.8 L316.5 81.5 L325.5 81.2 L334.4 81.0 L343.4 80.7 L352.4 80.4 L361.3 80.1 L370.3 79.9 L379.3 79.6 L388.2 79.3 L397.2 79.0 L406.1 78.8 L415.1 78.4 L424.1 78.1 L433.0 77.7 L442.0 77.5 L451.0 77.3 L459.9 77.2 L468.9 77.2 L477.8 77.2 L486.8 77.2 L495.8 77.2 L504.7 77.3 L513.7 77.3" fill="none" stroke="#471163" stroke-width="1.10" stroke-linejoin="round"/>
<path d="M89.6 204.3 L90.5 198.1 L91.3 192.5 L92.2 187.8 L93.0 184.0 L93.9 180.6 L94.8 177.5 L95.6 174.4 L96.5 171.4 L97.3 168.2 L98.2 165.2 L99.1 162.3 L99.9 159.6 L100.8 157.2 L101.6 155.0 L102.5 153.0 L103.4 151.1 L104.2 149.3 L105.1 147.6 L105.9 146.0 L106.8 144.4 L107.7 142.8 L108.5 141.3 L109.4 139.9 L110.2 138.5 L111.1 137.1 L111.9 135.7 L112.8 134.4 L113.7 133.0 L114.5 131.7 L115.4 130.5 L116.2 129.2 L117.1 128.1 L118.0 126.9 L118.8 125.8 L119.7 124.8 L120.5 123.7 L121.4 122.7 L122.3 121.8 L123.1 120.8 L124.0 119.9 L124.8 119.0 L125.7 118.1 L126.6 117.2 L127.4 116.4 L128.3 115.6 L129.1 114.8 L130.0 114.1 L133.0 111.7 L136.1 109.6 L139.1 107.8 L142.2 106.2 L145.2 104.8 L148.3 103.6 L151.3 102.4 L154.3 101.3 L157.4 100.3 L160.4 99.4 L163.5 98.6 L166.5 97.9 L169.6 97.1 L172.6 96.2 L175.7 95.3 L178.7 94.5 L181.7 93.7 L184.8 92.9 L187.8 92.3 L190.9 91.7 L193.9 91.1 L197.0 90.7 L200.0 90.2 L209.0 89.0 L217.9 87.5 L226.9 86.1 L235.9 85.3 L244.8 84.7 L253.8 84.2 L262.7 83.8 L271.7 83.4 L280.7 83.1 L289.6 82.8 L298.6 82.5 L307.6 82.2 L316.5 81.9 L325.5 81.7 L334.4 81.4 L343.4 81.1 L352.4 80.9 L361.3 80.6 L370.3 80.3 L379.3 80.1 L388.2 79.8 L397.2 79.6 L406.1 79.3 L415.1 79.0 L424.1 78.6 L433.0 78.3 L442.0 78.0 L451.0 77.8 L459.9 77.7 L468.9 77.7 L477.8 77.7 L486.8 77.8 L495.8 77.8 L504.7 77.8 L513.7 77.9" fill="none" stroke="#45095b" stroke-width="1.10" stroke-linejoin="round"/>
<path d="M89.6 204.2 L90.5 198.0 L91.3 192.4 L92.2 187.6 L93.0 183.7 L93.9 180.3 L94.8 177.2 L95.6 174.2 L96.5 171.1 L97.3 168.0 L98.2 164.9 L99.1 162.0 L99.9 159.3 L100.8 156.9 L101.6 154.7 L102.5 152.7 L103.4 150.9 L104.2 149.1 L105.1 147.4 L105.9 145.8 L106.8 144.1 L107.7 142.6 L108.5 141.1 L109.4 139.7 L110.2 138.3 L111.1 136.9 L111.9 135.6 L112.8 134.2 L113.7 132.9 L114.5 131.5 L115.4 130.3 L116.2 129.0 L117.1 127.9 L118.0 126.7 L118.8 125.6 L119.7 124.6 L120.5 123.6 L121.4 122.6 L122.3 121.6 L123.1 120.7 L124.0 119.8 L124.8 118.9 L125.7 118.0 L126.6 117.1 L127.4 116.3 L128.3 115.5 L129.1 114.7 L130.0 114.0 L133.0 111.6 L136.1 109.5 L139.1 107.7 L142.2 106.1 L145.2 104.8 L148.3 103.6 L151.3 102.4 L154.3 101.3 L157.4 100.3 L160.4 99.4 L163.5 98.7 L166.5 98.0 L169.6 97.2 L172.6 96.3 L175.7 95.5 L178.7 94.6 L181.7 93.8 L184.8 93.1 L187.8 92.4 L190.9 91.8 L193.9 91.3 L197.0 90.9 L200.0 90.5 L209.0 89.3 L217.9 87.8 L226.9 86.4 L235.9 85.6 L244.8 85.1 L253.8 84.6 L262.7 84.2 L271.7 83.8 L280.7 83.5 L289.6 83.2 L298.6 82.9 L307.6 82.6 L316.5 82.4 L325.5 82.1 L334.4 81.9 L343.4 81.6 L352.4 81.4 L361.3 81.1 L370.3 80.8 L379.3 80.6 L388.2 80.3 L397.2 80.1 L406.1 79.8 L415.1 79.5 L424.1 79.2 L433.0 78.8 L442.0 78.6 L451.0 78.4 L459.9 78.3 L468.9 78.3 L477.8 78.3 L486.8 78.3 L495.8 78.4 L504.7 78.4 L513.7 78.5" fill="none" stroke="#440154" stroke-width="1.10" stroke-linejoin="round"/>
<path d="M376.5 77.2 L379.5 77.8" fill="none" stroke="#fff" stroke-width="0.7"/>
<path d="M403.5 75.6 L414.5 77.2" fill="none" stroke="#fff" stroke-width="0.7"/>
<path d="M439.5 74.3 L461.0 76.6" fill="none" stroke="#fff" stroke-width="0.7"/>
<path d="M472.5 71.8 L480.0 72.8 L513.5 76.2" fill="none" stroke="#fff" stroke-width="0.7"/>
<path d="M89.6 204.3 L90.5 196.8 L91.3 189.3 L92.2 181.7 L93.0 174.1 L93.9 166.6 L94.8 158.5 L95.6 148.9 L96.5 138.5 L97.3 129.5 L98.2 121.2 L99.1 114.8 L99.9 110.6 L100.8 107.1 L101.6 104.1 L102.5 101.5 L103.4 99.2 L104.2 97.0 L105.1 94.9 L105.9 92.8 L106.8 90.9 L107.7 89.1 L108.5 87.5 L109.4 85.9 L110.2 84.5 L111.1 83.2 L111.9 82.0 L112.8 80.8 L113.7 79.7 L114.5 78.6 L115.4 77.6 L116.2 76.7 L117.1 75.7 L118.0 74.8 L118.8 73.9 L119.7 73.1 L120.5 72.2 L121.4 71.4 L122.3 70.6 L123.1 69.8 L124.0 69.1 L124.8 68.4 L125.7 67.7 L126.6 67.1 L127.4 66.5 L128.3 65.9 L129.1 65.3 L130.0 64.7 L133.0 62.9 L136.1 61.4 L139.1 60.1 L142.2 59.0 L145.2 58.1 L148.3 57.2 L151.3 56.3 L154.3 55.4 L157.4 54.5 L160.4 53.6 L163.5 52.9 L166.5 52.2 L169.6 51.6 L172.6 51.1 L175.7 50.6 L178.7 50.1 L181.7 49.6 L184.8 49.2 L187.8 48.8 L190.9 48.4 L193.9 48.0 L197.0 47.7 L200.0 47.4 L209.0 46.5 L217.9 45.5 L226.9 44.6 L235.9 44.1 L244.8 43.6 L253.8 43.2 L262.7 42.9 L271.7 42.6 L280.7 42.4 L289.6 42.2 L298.6 42.1 L307.6 41.9 L316.5 41.8 L325.5 41.6 L334.4 41.4 L343.4 41.2 L352.4 40.9 L361.3 40.7 L370.3 40.5 L379.3 40.2 L388.2 40.0 L397.2 39.8 L406.1 39.6 L415.1 39.4 L424.1 39.2 L433.0 39.0 L442.0 38.8 L451.0 38.6 L459.9 38.4 L468.9 38.2 L477.8 38.1 L486.8 37.9 L495.8 37.7 L504.7 37.6 L513.7 37.4" fill="none" stroke="#000" stroke-width="1.85" stroke-dasharray="6.4 7.3" stroke-dashoffset="-7.1"/>
<path d="M90.5 202.5 L91.3 200.5 L92.2 198.3 L93.0 196.1 L93.9 193.7 L94.8 191.3 L95.6 188.9 L96.5 186.3 L97.3 183.6 L98.2 180.7 L99.1 177.8 L99.9 174.9 L100.8 172.3 L101.6 169.6 L102.5 167.0 L103.4 164.5 L104.2 162.0 L105.1 159.7 L105.9 157.5 L106.8 155.5 L107.7 153.6 L108.5 151.8 L109.4 150.0 L110.2 148.4 L111.1 146.8 L111.9 145.3 L112.8 143.8 L113.7 142.5 L114.5 141.3 L115.4 140.1 L116.2 138.9 L117.1 137.7 L118.0 136.5 L118.8 135.3 L119.7 134.1 L120.5 132.8 L121.4 131.6 L122.3 130.4 L123.1 129.2 L124.0 128.0 L124.8 126.8 L125.7 125.5 L126.6 124.3 L127.4 123.1 L128.3 122.0 L129.1 120.9 L130.0 119.8 L133.0 116.1 L136.1 113.1 L139.1 110.5 L142.2 108.2 L145.2 106.1 L148.3 104.2 L151.3 102.3 L154.3 100.2 L157.4 98.3 L160.4 96.5 L163.5 94.9 L166.5 93.4 L169.6 91.9 L172.6 90.5 L175.7 89.1 L178.7 87.8 L181.7 86.5 L184.8 85.2 L187.8 84.0 L190.9 82.9 L193.9 81.8 L197.0 80.8 L200.0 79.8 L209.0 77.0 L217.9 74.1 L226.9 71.5 L235.9 69.8 L244.8 68.4 L253.8 67.3 L262.7 66.3 L271.7 65.4 L280.7 64.4 L289.6 63.4 L298.6 62.4 L307.6 61.5 L316.5 60.6 L325.5 59.8 L334.4 59.0 L343.4 58.3 L352.4 57.7 L361.3 57.0 L370.3 56.4 L379.3 55.8 L388.2 55.3 L397.2 54.7 L406.1 54.1 L415.1 53.5 L424.1 53.0 L433.0 52.5 L442.0 52.0 L451.0 51.6 L459.9 51.2 L468.9 50.9 L477.8 50.5 L486.8 50.2 L495.8 49.9 L504.7 49.7" fill="none" stroke="#000" stroke-width="1.85" stroke-dasharray="6.4 7.3" stroke-dashoffset="4.5"/>
<rect x="61.10" y="27.60" width="481.70" height="185.70" fill="none" stroke="#B3B3B3" stroke-width="1.1"/>
<line x1="57.50" x2="61.10" y1="204.35" y2="204.35" stroke="#B3B3B3" stroke-width="0.8"/>
<text x="54.2" y="208.95" font-size="10.76" fill="#4D4D4D" stroke="#4D4D4D" text-anchor="end">0%</text>
<line x1="57.50" x2="61.10" y1="162.11" y2="162.11" stroke="#B3B3B3" stroke-width="0.8"/>
<text x="54.2" y="166.71" font-size="10.76" fill="#4D4D4D" stroke="#4D4D4D" text-anchor="end">25%</text>
<line x1="57.50" x2="61.10" y1="119.88" y2="119.88" stroke="#B3B3B3" stroke-width="0.8"/>
<text x="54.2" y="124.47" font-size="10.76" fill="#4D4D4D" stroke="#4D4D4D" text-anchor="end">50%</text>
<line x1="57.50" x2="61.10" y1="77.64" y2="77.64" stroke="#B3B3B3" stroke-width="0.8"/>
<text x="54.2" y="82.24" font-size="10.76" fill="#4D4D4D" stroke="#4D4D4D" text-anchor="end">75%</text>
<line x1="57.50" x2="61.10" y1="35.40" y2="35.40" stroke="#B3B3B3" stroke-width="0.8"/>
<text x="54.2" y="40.00" font-size="10.76" fill="#4D4D4D" stroke="#4D4D4D" text-anchor="end">100%</text>
<rect x="61.10" y="239.50" width="481.70" height="185.30" fill="#fff"/>
<line x1="61.10" x2="542.80" y1="416.5" y2="416.5" stroke="#E4E4E4" stroke-width="1"/>
<line x1="61.10" x2="542.80" y1="395.5" y2="395.5" stroke="#E4E4E4" stroke-width="1"/>
<line x1="61.10" x2="542.80" y1="374.5" y2="374.5" stroke="#E4E4E4" stroke-width="1"/>
<line x1="61.10" x2="542.80" y1="353.5" y2="353.5" stroke="#E4E4E4" stroke-width="1"/>
<line x1="61.10" x2="542.80" y1="332.5" y2="332.5" stroke="#E4E4E4" stroke-width="1"/>
<line x1="61.10" x2="542.80" y1="311.5" y2="311.5" stroke="#E4E4E4" stroke-width="1"/>
<line x1="61.10" x2="542.80" y1="290.5" y2="290.5" stroke="#E4E4E4" stroke-width="1"/>
<line x1="61.10" x2="542.80" y1="269.5" y2="269.5" stroke="#E4E4E4" stroke-width="1"/>
<line x1="61.10" x2="542.80" y1="248.5" y2="248.5" stroke="#E4E4E4" stroke-width="1"/>
<line x1="75.5" x2="75.5" y1="239.50" y2="424.80" stroke="#DCDCDC" stroke-width="1"/>
<line x1="89.5" x2="89.5" y1="239.50" y2="424.80" stroke="#DCDCDC" stroke-width="1"/>
<line x1="103.5" x2="103.5" y1="239.50" y2="424.80" stroke="#DCDCDC" stroke-width="1"/>
<line x1="117.5" x2="117.5" y1="239.50" y2="424.80" stroke="#DCDCDC" stroke-width="1"/>
<line x1="132.5" x2="132.5" y1="239.50" y2="424.80" stroke="#DCDCDC" stroke-width="1"/>
<line x1="146.5" x2="146.5" y1="239.50" y2="424.80" stroke="#DCDCDC" stroke-width="1"/>
<line x1="160.5" x2="160.5" y1="239.50" y2="424.80" stroke="#DCDCDC" stroke-width="1"/>
<line x1="174.5" x2="174.5" y1="239.50" y2="424.80" stroke="#DCDCDC" stroke-width="1"/>
<line x1="188.5" x2="188.5" y1="239.50" y2="424.80" stroke="#DCDCDC" stroke-width="1"/>
<line x1="202.5" x2="202.5" y1="239.50" y2="424.80" stroke="#DCDCDC" stroke-width="1"/>
<line x1="216.5" x2="216.5" y1="239.50" y2="424.80" stroke="#DCDCDC" stroke-width="1"/>
<line x1="231.5" x2="231.5" y1="239.50" y2="424.80" stroke="#DCDCDC" stroke-width="1"/>
<line x1="245.5" x2="245.5" y1="239.50" y2="424.80" stroke="#DCDCDC" stroke-width="1"/>
<line x1="259.5" x2="259.5" y1="239.50" y2="424.80" stroke="#DCDCDC" stroke-width="1"/>
<line x1="273.5" x2="273.5" y1="239.50" y2="424.80" stroke="#DCDCDC" stroke-width="1"/>
<line x1="287.5" x2="287.5" y1="239.50" y2="424.80" stroke="#DCDCDC" stroke-width="1"/>
<line x1="301.5" x2="301.5" y1="239.50" y2="424.80" stroke="#DCDCDC" stroke-width="1"/>
<line x1="315.5" x2="315.5" y1="239.50" y2="424.80" stroke="#DCDCDC" stroke-width="1"/>
<line x1="330.5" x2="330.5" y1="239.50" y2="424.80" stroke="#DCDCDC" stroke-width="1"/>
<line x1="344.5" x2="344.5" y1="239.50" y2="424.80" stroke="#DCDCDC" stroke-width="1"/>
<line x1="358.5" x2="358.5" y1="239.50" y2="424.80" stroke="#DCDCDC" stroke-width="1"/>
<line x1="372.5" x2="372.5" y1="239.50" y2="424.80" stroke="#DCDCDC" stroke-width="1"/>
<line x1="386.5" x2="386.5" y1="239.50" y2="424.80" stroke="#DCDCDC" stroke-width="1"/>
<line x1="400.5" x2="400.5" y1="239.50" y2="424.80" stroke="#DCDCDC" stroke-width="1"/>
<line x1="414.5" x2="414.5" y1="239.50" y2="424.80" stroke="#DCDCDC" stroke-width="1"/>
<line x1="429.5" x2="429.5" y1="239.50" y2="424.80" stroke="#DCDCDC" stroke-width="1"/>
<line x1="443.5" x2="443.5" y1="239.50" y2="424.80" stroke="#DCDCDC" stroke-width="1"/>
<line x1="457.5" x2="457.5" y1="239.50" y2="424.80" stroke="#DCDCDC" stroke-width="1"/>
<line x1="471.5" x2="471.5" y1="239.50" y2="424.80" stroke="#DCDCDC" stroke-width="1"/>
<line x1="485.5" x2="485.5" y1="239.50" y2="424.80" stroke="#DCDCDC" stroke-width="1"/>
<line x1="499.5" x2="499.5" y1="239.50" y2="424.80" stroke="#DCDCDC" stroke-width="1"/>
<line x1="513.5" x2="513.5" y1="239.50" y2="424.80" stroke="#DCDCDC" stroke-width="1"/>
<line x1="528.5" x2="528.5" y1="239.50" y2="424.80" stroke="#DCDCDC" stroke-width="1"/>
<rect x="82.53" y="248.40" width="14.60" height="168.10" fill="#FB7A7D" stroke="#111" stroke-width="0.9"/>
<rect x="97.12" y="248.40" width="14.14" height="126.08" fill="#FB7A7D" stroke="#111" stroke-width="0.9"/>
<rect x="97.12" y="374.48" width="14.14" height="42.02" fill="#63DCF2" stroke="#111" stroke-width="0.9"/>
<rect x="111.27" y="248.40" width="14.14" height="60.85" fill="#FB7A7D" stroke="#111" stroke-width="0.9"/>
<rect x="111.27" y="309.25" width="14.14" height="15.30" fill="#63DCF2" stroke="#111" stroke-width="0.9"/>
<rect x="111.27" y="324.55" width="14.14" height="91.95" fill="#4A6B75" stroke="#111" stroke-width="0.9"/>
<rect x="125.41" y="248.40" width="14.14" height="74.80" fill="#FB7A7D" stroke="#111" stroke-width="0.9"/>
<rect x="125.41" y="323.20" width="14.14" height="27.74" fill="#63DCF2" stroke="#111" stroke-width="0.9"/>
<rect x="125.41" y="350.94" width="14.14" height="65.56" fill="#4A6B75" stroke="#111" stroke-width="0.9"/>
<rect x="139.56" y="248.40" width="14.15" height="69.59" fill="#63DCF2" stroke="#111" stroke-width="0.9"/>
<rect x="139.56" y="317.99" width="14.15" height="98.51" fill="#4A6B75" stroke="#111" stroke-width="0.9"/>
<rect x="153.70" y="248.40" width="14.14" height="38.33" fill="#FB7A7D" stroke="#111" stroke-width="0.9"/>
<rect x="153.70" y="286.73" width="14.14" height="38.66" fill="#63DCF2" stroke="#111" stroke-width="0.9"/>
<rect x="153.70" y="325.39" width="14.14" height="91.11" fill="#4A6B75" stroke="#111" stroke-width="0.9"/>
<rect x="167.85" y="248.40" width="14.15" height="16.81" fill="#FB7A7D" stroke="#111" stroke-width="0.9"/>
<rect x="167.85" y="265.21" width="14.15" height="67.24" fill="#63DCF2" stroke="#111" stroke-width="0.9"/>
<rect x="167.85" y="332.45" width="14.15" height="84.05" fill="#4A6B75" stroke="#111" stroke-width="0.9"/>
<rect x="181.99" y="248.40" width="14.15" height="32.78" fill="#FB7A7D" stroke="#111" stroke-width="0.9"/>
<rect x="181.99" y="281.18" width="14.15" height="67.41" fill="#63DCF2" stroke="#111" stroke-width="0.9"/>
<rect x="181.99" y="348.59" width="14.15" height="67.91" fill="#4A6B75" stroke="#111" stroke-width="0.9"/>
<rect x="196.14" y="248.40" width="14.14" height="84.05" fill="#63DCF2" stroke="#111" stroke-width="0.9"/>
<rect x="196.14" y="332.45" width="14.14" height="84.05" fill="#4A6B75" stroke="#111" stroke-width="0.9"/>
<rect x="210.28" y="248.40" width="14.15" height="28.07" fill="#FB7A7D" stroke="#111" stroke-width="0.9"/>
<rect x="210.28" y="276.47" width="14.15" height="140.03" fill="#4A6B75" stroke="#111" stroke-width="0.9"/>
<rect x="224.43" y="248.40" width="13.70" height="168.10" fill="#4A6B75" stroke="#111" stroke-width="0.9"/>
<path d="M89.6 417.3 L90.5 395.8 L91.3 378.2 L92.2 364.6 L93.0 354.4 L93.9 346.8 L94.8 340.5 L95.6 334.9 L96.5 329.9 L97.3 324.9 L98.2 320.3 L99.1 316.5 L99.9 313.4 L100.8 310.7 L101.6 308.3 L102.5 306.1 L103.4 304.0 L104.2 302.1 L105.1 300.2 L105.9 298.5 L106.8 296.9 L107.7 295.4 L108.5 294.1 L109.4 292.9 L110.2 291.8 L111.1 290.7 L111.9 289.8 L112.8 288.8 L113.7 288.0 L114.5 287.2 L115.4 286.4 L116.2 285.6 L117.1 284.9 L118.0 284.2 L118.8 283.5 L119.7 282.9 L120.5 282.3 L121.4 281.7 L122.3 281.1 L123.1 280.6 L124.0 280.1 L124.8 279.6 L125.7 279.2 L126.6 278.8 L127.4 278.4 L128.3 278.0 L129.1 277.6 L130.0 277.3 L133.0 276.1 L136.1 275.2 L139.1 274.5 L142.2 274.0 L145.2 273.6 L148.3 273.1 L151.3 272.6 L154.3 271.9 L157.4 271.3 L160.4 270.6 L163.5 270.1 L166.5 269.6 L169.6 269.2 L172.6 268.7 L175.7 268.4 L178.7 268.0 L181.7 267.7 L184.8 267.4 L187.8 267.1 L190.9 267.0 L193.9 266.8 L197.0 266.7 L200.0 266.5 L209.0 266.2 L217.9 265.9 L226.9 265.7 L235.9 265.4 L244.8 265.2 L253.8 264.9 L262.7 264.7 L271.7 264.5 L280.7 264.3 L289.6 264.1 L298.6 263.8 L307.6 263.6 L316.5 263.4 L325.5 263.3 L334.4 263.2 L343.4 263.2 L352.4 263.1 L361.3 263.1 L370.3 263.0 L379.3 262.9 L388.2 262.9 L397.2 262.8 L406.1 262.8 L415.1 262.7 L424.1 262.6 L433.0 262.5 L442.0 262.5 L451.0 262.4 L459.9 262.3 L468.9 262.2 L477.8 262.1 L486.8 262.0 L495.8 261.9 L504.7 261.7 L513.7 261.6" fill="none" stroke="#fde725" stroke-width="1.10" stroke-linejoin="round"/>
<path d="M89.6 417.3 L90.5 395.8 L91.3 378.3 L92.2 364.8 L93.0 354.6 L93.9 347.1 L94.8 340.8 L95.6 335.2 L96.5 330.1 L97.3 325.1 L98.2 320.5 L99.1 316.7 L99.9 313.5 L100.8 310.8 L101.6 308.4 L102.5 306.2 L103.4 304.1 L104.2 302.1 L105.1 300.3 L105.9 298.5 L106.8 296.9 L107.7 295.5 L108.5 294.2 L109.4 293.0 L110.2 291.8 L111.1 290.8 L111.9 289.8 L112.8 288.9 L113.7 288.0 L114.5 287.2 L115.4 286.4 L116.2 285.7 L117.1 284.9 L118.0 284.2 L118.8 283.5 L119.7 282.9 L120.5 282.3 L121.4 281.7 L122.3 281.1 L123.1 280.6 L124.0 280.1 L124.8 279.6 L125.7 279.2 L126.6 278.8 L127.4 278.4 L128.3 278.0 L129.1 277.6 L130.0 277.3 L133.0 276.1 L136.1 275.2 L139.1 274.5 L142.2 274.0 L145.2 273.5 L148.3 273.0 L151.3 272.5 L154.3 271.9 L157.4 271.2 L160.4 270.5 L163.5 270.0 L166.5 269.5 L169.6 269.1 L172.6 268.6 L175.7 268.2 L178.7 267.9 L181.7 267.5 L184.8 267.3 L187.8 267.0 L190.9 266.8 L193.9 266.7 L197.0 266.5 L200.0 266.4 L209.0 266.0 L217.9 265.8 L226.9 265.5 L235.9 265.2 L244.8 265.0 L253.8 264.8 L262.7 264.5 L271.7 264.3 L280.7 264.1 L289.6 263.8 L298.6 263.6 L307.6 263.4 L316.5 263.2 L325.5 263.1 L334.4 263.0 L343.4 262.9 L352.4 262.9 L361.3 262.8 L370.3 262.8 L379.3 262.7 L388.2 262.6 L397.2 262.6 L406.1 262.5 L415.1 262.4 L424.1 262.4 L433.0 262.3 L442.0 262.2 L451.0 262.1 L459.9 262.1 L468.9 262.0 L477.8 261.9 L486.8 261.7 L495.8 261.6 L504.7 261.5 L513.7 261.4" fill="none" stroke="#f0e51f" stroke-width="1.10" stroke-linejoin="round"/>
<path d="M89.6 417.3 L90.5 395.7 L91.3 378.3 L92.2 364.9 L93.0 354.9 L93.9 347.4 L94.8 341.1 L95.6 335.4 L96.5 330.3 L97.3 325.3 L98.2 320.7 L99.1 316.8 L99.9 313.7 L100.8 310.9 L101.6 308.5 L102.5 306.3 L103.4 304.2 L104.2 302.2 L105.1 300.4 L105.9 298.6 L106.8 297.0 L107.7 295.5 L108.5 294.2 L109.4 293.0 L110.2 291.9 L111.1 290.8 L111.9 289.8 L112.8 288.9 L113.7 288.1 L114.5 287.2 L115.4 286.4 L116.2 285.7 L117.1 285.0 L118.0 284.3 L118.8 283.6 L119.7 282.9 L120.5 282.3 L121.4 281.7 L122.3 281.1 L123.1 280.6 L124.0 280.1 L124.8 279.7 L125.7 279.2 L126.6 278.8 L127.4 278.4 L128.3 278.0 L129.1 277.6 L130.0 277.3 L133.0 276.1 L136.1 275.2 L139.1 274.5 L142.2 274.0 L145.2 273.5 L148.3 273.0 L151.3 272.4 L154.3 271.8 L157.4 271.1 L160.4 270.5 L163.5 269.9 L166.5 269.4 L169.6 269.0 L172.6 268.5 L175.7 268.1 L178.7 267.8 L181.7 267.4 L184.8 267.1 L187.8 266.9 L190.9 266.7 L193.9 266.5 L197.0 266.4 L200.0 266.2 L209.0 265.9 L217.9 265.6 L226.9 265.3 L235.9 265.1 L244.8 264.8 L253.8 264.6 L262.7 264.3 L271.7 264.1 L280.7 263.9 L289.6 263.6 L298.6 263.4 L307.6 263.2 L316.5 263.0 L325.5 262.9 L334.4 262.8 L343.4 262.7 L352.4 262.6 L361.3 262.6 L370.3 262.5 L379.3 262.5 L388.2 262.4 L397.2 262.3 L406.1 262.3 L415.1 262.2 L424.1 262.1 L433.0 262.0 L442.0 262.0 L451.0 261.9 L459.9 261.8 L468.9 261.7 L477.8 261.6 L486.8 261.5 L495.8 261.4 L504.7 261.3 L513.7 261.1" fill="none" stroke="#e3e41a" stroke-width="1.10" stroke-linejoin="round"/>
<path d="M89.6 417.3 L90.5 395.7 L91.3 378.4 L92.2 365.1 L93.0 355.1 L93.9 347.7 L94.8 341.4 L95.6 335.7 L96.5 330.6 L97.3 325.5 L98.2 320.9 L99.1 317.0 L99.9 313.8 L100.8 311.1 L101.6 308.6 L102.5 306.4 L103.4 304.3 L104.2 302.3 L105.1 300.4 L105.9 298.7 L106.8 297.1 L107.7 295.6 L108.5 294.3 L109.4 293.1 L110.2 291.9 L111.1 290.9 L111.9 289.9 L112.8 289.0 L113.7 288.1 L114.5 287.3 L115.4 286.5 L116.2 285.7 L117.1 285.0 L118.0 284.3 L118.8 283.6 L119.7 283.0 L120.5 282.3 L121.4 281.7 L122.3 281.2 L123.1 280.6 L124.0 280.1 L124.8 279.7 L125.7 279.3 L126.6 278.8 L127.4 278.4 L128.3 278.0 L129.1 277.7 L130.0 277.3 L133.0 276.1 L136.1 275.2 L139.1 274.5 L142.2 273.9 L145.2 273.4 L148.3 272.9 L151.3 272.3 L154.3 271.7 L157.4 271.0 L160.4 270.4 L163.5 269.8 L166.5 269.3 L169.6 268.9 L172.6 268.4 L175.7 268.0 L178.7 267.7 L181.7 267.3 L184.8 267.0 L187.8 266.8 L190.9 266.6 L193.9 266.4 L197.0 266.2 L200.0 266.1 L209.0 265.7 L217.9 265.4 L226.9 265.2 L235.9 264.9 L244.8 264.6 L253.8 264.4 L262.7 264.1 L271.7 263.9 L280.7 263.7 L289.6 263.4 L298.6 263.2 L307.6 263.0 L316.5 262.8 L325.5 262.7 L334.4 262.6 L343.4 262.5 L352.4 262.4 L361.3 262.3 L370.3 262.3 L379.3 262.2 L388.2 262.2 L397.2 262.1 L406.1 262.0 L415.1 261.9 L424.1 261.9 L433.0 261.8 L442.0 261.7 L451.0 261.6 L459.9 261.6 L468.9 261.5 L477.8 261.4 L486.8 261.2 L495.8 261.1 L504.7 261.0 L513.7 260.9" fill="none" stroke="#d5e21c" stroke-width="1.10" stroke-linejoin="round"/>
<path d="M89.6 417.3 L90.5 395.7 L91.3 378.4 L92.2 365.2 L93.0 355.4 L93.9 348.0 L94.8 341.7 L95.6 336.0 L96.5 330.8 L97.3 325.7 L98.2 321.1 L99.1 317.2 L99.9 314.0 L100.8 311.2 L101.6 308.7 L102.5 306.5 L103.4 304.4 L104.2 302.4 L105.1 300.5 L105.9 298.7 L106.8 297.1 L107.7 295.6 L108.5 294.3 L109.4 293.1 L110.2 292.0 L111.1 290.9 L111.9 289.9 L112.8 289.0 L113.7 288.1 L114.5 287.3 L115.4 286.5 L116.2 285.7 L117.1 285.0 L118.0 284.3 L118.8 283.6 L119.7 283.0 L120.5 282.4 L121.4 281.8 L122.3 281.2 L123.1 280.7 L124.0 280.2 L124.8 279.7 L125.7 279.3 L126.6 278.9 L127.4 278.4 L128.3 278.1 L129.1 277.7 L130.0 277.3 L133.0 276.2 L136.1 275.2 L139.1 274.5 L142.2 273.9 L145.2 273.4 L148.3 272.9 L151.3 272.3 L154.3 271.6 L157.4 270.9 L160.4 270.3 L163.5 269.7 L166.5 269.2 L169.6 268.8 L172.6 268.3 L175.7 267.9 L178.7 267.5 L181.7 267.2 L184.8 266.9 L187.8 266.6 L190.9 266.4 L193.9 266.3 L197.0 266.1 L200.0 266.0 L209.0 265.6 L217.9 265.3 L226.9 265.0 L235.9 264.7 L244.8 264.4 L253.8 264.2 L262.7 263.9 L271.7 263.7 L280.7 263.5 L289.6 263.2 L298.6 263.0 L307.6 262.7 L316.5 262.6 L325.5 262.4 L334.4 262.3 L343.4 262.3 L352.4 262.2 L361.3 262.1 L370.3 262.0 L379.3 262.0 L388.2 261.9 L397.2 261.8 L406.1 261.8 L415.1 261.7 L424.1 261.6 L433.0 261.5 L442.0 261.5 L451.0 261.4 L459.9 261.3 L468.9 261.2 L477.8 261.1 L486.8 261.0 L495.8 260.9 L504.7 260.8 L513.7 260.6" fill="none" stroke="#c6e022" stroke-width="1.10" stroke-linejoin="round"/>
<path d="M89.6 417.3 L90.5 395.6 L91.3 378.5 L92.2 365.4 L93.0 355.6 L93.9 348.3 L94.8 342.0 L95.6 336.2 L96.5 331.0 L97.3 325.9 L98.2 321.3 L99.1 317.3 L99.9 314.1 L100.8 311.3 L101.6 308.8 L102.5 306.6 L103.4 304.5 L104.2 302.5 L105.1 300.6 L105.9 298.8 L106.8 297.2 L107.7 295.7 L108.5 294.4 L109.4 293.2 L110.2 292.0 L111.1 291.0 L111.9 290.0 L112.8 289.0 L113.7 288.2 L114.5 287.3 L115.4 286.5 L116.2 285.8 L117.1 285.0 L118.0 284.3 L118.8 283.7 L119.7 283.0 L120.5 282.4 L121.4 281.8 L122.3 281.2 L123.1 280.7 L124.0 280.2 L124.8 279.7 L125.7 279.3 L126.6 278.9 L127.4 278.5 L128.3 278.1 L129.1 277.7 L130.0 277.3 L133.0 276.2 L136.1 275.2 L139.1 274.5 L142.2 273.9 L145.2 273.3 L148.3 272.8 L151.3 272.2 L154.3 271.5 L157.4 270.9 L160.4 270.2 L163.5 269.6 L166.5 269.1 L169.6 268.7 L172.6 268.2 L175.7 267.8 L178.7 267.4 L181.7 267.1 L184.8 266.8 L187.8 266.5 L190.9 266.3 L193.9 266.1 L197.0 266.0 L200.0 265.8 L209.0 265.4 L217.9 265.1 L226.9 264.8 L235.9 264.5 L244.8 264.2 L253.8 264.0 L262.7 263.7 L271.7 263.5 L280.7 263.2 L289.6 263.0 L298.6 262.8 L307.6 262.5 L316.5 262.3 L325.5 262.2 L334.4 262.1 L343.4 262.0 L352.4 261.9 L361.3 261.9 L370.3 261.8 L379.3 261.7 L388.2 261.7 L397.2 261.6 L406.1 261.5 L415.1 261.4 L424.1 261.4 L433.0 261.3 L442.0 261.2 L451.0 261.1 L459.9 261.1 L468.9 261.0 L477.8 260.9 L486.8 260.8 L495.8 260.6 L504.7 260.5 L513.7 260.4" fill="none" stroke="#b7de2a" stroke-width="1.10" stroke-linejoin="round"/>
<path d="M89.6 417.4 L90.5 395.6 L91.3 378.5 L92.2 365.5 L93.0 355.8 L93.9 348.6 L94.8 342.3 L95.6 336.5 L96.5 331.2 L97.3 326.1 L98.2 321.5 L99.1 317.5 L99.9 314.2 L100.8 311.4 L101.6 308.9 L102.5 306.7 L103.4 304.6 L104.2 302.6 L105.1 300.7 L105.9 298.9 L106.8 297.3 L107.7 295.8 L108.5 294.4 L109.4 293.2 L110.2 292.1 L111.1 291.0 L111.9 290.0 L112.8 289.1 L113.7 288.2 L114.5 287.4 L115.4 286.6 L116.2 285.8 L117.1 285.1 L118.0 284.4 L118.8 283.7 L119.7 283.0 L120.5 282.4 L121.4 281.8 L122.3 281.2 L123.1 280.7 L124.0 280.2 L124.8 279.7 L125.7 279.3 L126.6 278.9 L127.4 278.5 L128.3 278.1 L129.1 277.7 L130.0 277.3 L133.0 276.2 L136.1 275.2 L139.1 274.5 L142.2 273.8 L145.2 273.3 L148.3 272.7 L151.3 272.1 L154.3 271.5 L157.4 270.8 L160.4 270.1 L163.5 269.5 L166.5 269.0 L169.6 268.6 L172.6 268.1 L175.7 267.7 L178.7 267.3 L181.7 267.0 L184.8 266.6 L187.8 266.4 L190.9 266.2 L193.9 266.0 L197.0 265.8 L200.0 265.7 L209.0 265.3 L217.9 264.9 L226.9 264.6 L235.9 264.3 L244.8 264.0 L253.8 263.8 L262.7 263.5 L271.7 263.3 L280.7 263.0 L289.6 262.8 L298.6 262.5 L307.6 262.3 L316.5 262.1 L325.5 262.0 L334.4 261.9 L343.4 261.8 L352.4 261.7 L361.3 261.6 L370.3 261.6 L379.3 261.5 L388.2 261.4 L397.2 261.4 L406.1 261.3 L415.1 261.2 L424.1 261.1 L433.0 261.0 L442.0 261.0 L451.0 260.9 L459.9 260.8 L468.9 260.7 L477.8 260.6 L486.8 260.5 L495.8 260.4 L504.7 260.3 L513.7 260.2" fill="none" stroke="#a8db33" stroke-width="1.10" stroke-linejoin="round"/>
<path d="M89.6 417.4 L90.5 395.5 L91.3 378.6 L92.2 365.7 L93.0 356.1 L93.9 348.9 L94.8 342.6 L95.6 336.7 L96.5 331.4 L97.3 326.3 L98.2 321.6 L99.1 317.7 L99.9 314.4 L100.8 311.5 L101.6 309.0 L102.5 306.8 L103.4 304.6 L104.2 302.6 L105.1 300.7 L105.9 299.0 L106.8 297.3 L107.7 295.8 L108.5 294.5 L109.4 293.3 L110.2 292.1 L111.1 291.1 L111.9 290.1 L112.8 289.1 L113.7 288.2 L114.5 287.4 L115.4 286.6 L116.2 285.8 L117.1 285.1 L118.0 284.4 L118.8 283.7 L119.7 283.1 L120.5 282.4 L121.4 281.8 L122.3 281.3 L123.1 280.7 L124.0 280.2 L124.8 279.8 L125.7 279.3 L126.6 278.9 L127.4 278.5 L128.3 278.1 L129.1 277.7 L130.0 277.4 L133.0 276.2 L136.1 275.2 L139.1 274.5 L142.2 273.8 L145.2 273.2 L148.3 272.7 L151.3 272.1 L154.3 271.4 L157.4 270.7 L160.4 270.0 L163.5 269.4 L166.5 268.9 L169.6 268.5 L172.6 268.0 L175.7 267.6 L178.7 267.2 L181.7 266.8 L184.8 266.5 L187.8 266.3 L190.9 266.0 L193.9 265.9 L197.0 265.7 L200.0 265.5 L209.0 265.1 L217.9 264.8 L226.9 264.5 L235.9 264.1 L244.8 263.9 L253.8 263.6 L262.7 263.3 L271.7 263.1 L280.7 262.8 L289.6 262.6 L298.6 262.3 L307.6 262.1 L316.5 261.9 L325.5 261.8 L334.4 261.7 L343.4 261.6 L352.4 261.5 L361.3 261.4 L370.3 261.3 L379.3 261.3 L388.2 261.2 L397.2 261.1 L406.1 261.0 L415.1 260.9 L424.1 260.9 L433.0 260.8 L442.0 260.7 L451.0 260.6 L459.9 260.6 L468.9 260.5 L477.8 260.4 L486.8 260.3 L495.8 260.2 L504.7 260.0 L513.7 259.9" fill="none" stroke="#9ad93d" stroke-width="1.10" stroke-linejoin="round"/>
<path d="M89.6 417.4 L90.5 395.5 L91.3 378.6 L92.2 365.8 L93.0 356.3 L93.9 349.2 L94.8 342.9 L95.6 337.0 L96.5 331.7 L97.3 326.5 L98.2 321.8 L99.1 317.8 L99.9 314.5 L100.8 311.6 L101.6 309.1 L102.5 306.8 L103.4 304.7 L104.2 302.7 L105.1 300.8 L105.9 299.0 L106.8 297.4 L107.7 295.9 L108.5 294.5 L109.4 293.3 L110.2 292.2 L111.1 291.1 L111.9 290.1 L112.8 289.2 L113.7 288.3 L114.5 287.4 L115.4 286.6 L116.2 285.9 L117.1 285.1 L118.0 284.4 L118.8 283.7 L119.7 283.1 L120.5 282.5 L121.4 281.9 L122.3 281.3 L123.1 280.8 L124.0 280.3 L124.8 279.8 L125.7 279.3 L126.6 278.9 L127.4 278.5 L128.3 278.1 L129.1 277.7 L130.0 277.4 L133.0 276.2 L136.1 275.2 L139.1 274.4 L142.2 273.8 L145.2 273.2 L148.3 272.6 L151.3 272.0 L154.3 271.3 L157.4 270.6 L160.4 270.0 L163.5 269.4 L166.5 268.9 L169.6 268.4 L172.6 267.9 L175.7 267.5 L178.7 267.1 L181.7 266.7 L184.8 266.4 L187.8 266.1 L190.9 265.9 L193.9 265.7 L197.0 265.5 L200.0 265.4 L209.0 265.0 L217.9 264.6 L226.9 264.3 L235.9 264.0 L244.8 263.7 L253.8 263.4 L262.7 263.1 L271.7 262.9 L280.7 262.6 L289.6 262.4 L298.6 262.1 L307.6 261.9 L316.5 261.7 L325.5 261.5 L334.4 261.4 L343.4 261.3 L352.4 261.2 L361.3 261.2 L370.3 261.1 L379.3 261.0 L388.2 260.9 L397.2 260.9 L406.1 260.8 L415.1 260.7 L424.1 260.6 L433.0 260.5 L442.0 260.5 L451.0 260.4 L459.9 260.3 L468.9 260.2 L477.8 260.1 L486.8 260.0 L495.8 259.9 L504.7 259.8 L513.7 259.7" fill="none" stroke="#8bd546" stroke-width="1.10" stroke-linejoin="round"/>
<path d="M89.6 417.4 L90.5 395.5 L91.3 378.7 L92.2 366.0 L93.0 356.6 L93.9 349.5 L94.8 343.2 L95.6 337.3 L96.5 331.9 L97.3 326.8 L98.2 322.0 L99.1 318.0 L99.9 314.6 L100.8 311.7 L101.6 309.2 L102.5 306.9 L103.4 304.8 L104.2 302.8 L105.1 300.9 L105.9 299.1 L106.8 297.5 L107.7 295.9 L108.5 294.6 L109.4 293.4 L110.2 292.2 L111.1 291.1 L111.9 290.1 L112.8 289.2 L113.7 288.3 L114.5 287.5 L115.4 286.7 L116.2 285.9 L117.1 285.2 L118.0 284.5 L118.8 283.8 L119.7 283.1 L120.5 282.5 L121.4 281.9 L122.3 281.3 L123.1 280.8 L124.0 280.3 L124.8 279.8 L125.7 279.4 L126.6 278.9 L127.4 278.5 L128.3 278.1 L129.1 277.7 L130.0 277.4 L133.0 276.2 L136.1 275.2 L139.1 274.4 L142.2 273.8 L145.2 273.2 L148.3 272.6 L151.3 271.9 L154.3 271.2 L157.4 270.5 L160.4 269.9 L163.5 269.3 L166.5 268.8 L169.6 268.3 L172.6 267.8 L175.7 267.4 L178.7 267.0 L181.7 266.6 L184.8 266.3 L187.8 266.0 L190.9 265.8 L193.9 265.6 L197.0 265.4 L200.0 265.2 L209.0 264.8 L217.9 264.4 L226.9 264.1 L235.9 263.8 L244.8 263.5 L253.8 263.2 L262.7 262.9 L271.7 262.7 L280.7 262.4 L289.6 262.2 L298.6 261.9 L307.6 261.7 L316.5 261.5 L325.5 261.3 L334.4 261.2 L343.4 261.1 L352.4 261.0 L361.3 260.9 L370.3 260.8 L379.3 260.8 L388.2 260.7 L397.2 260.6 L406.1 260.5 L415.1 260.5 L424.1 260.4 L433.0 260.3 L442.0 260.2 L451.0 260.1 L459.9 260.1 L468.9 260.0 L477.8 259.9 L486.8 259.8 L495.8 259.7 L504.7 259.6 L513.7 259.4" fill="none" stroke="#7dd24f" stroke-width="1.10" stroke-linejoin="round"/>
<path d="M89.6 417.4 L90.5 395.4 L91.3 378.7 L92.2 366.1 L93.0 356.8 L93.9 349.8 L94.8 343.5 L95.6 337.5 L96.5 332.1 L97.3 327.0 L98.2 322.2 L99.1 318.2 L99.9 314.8 L100.8 311.9 L101.6 309.3 L102.5 307.0 L103.4 304.9 L104.2 302.9 L105.1 301.0 L105.9 299.2 L106.8 297.5 L107.7 296.0 L108.5 294.6 L109.4 293.4 L110.2 292.3 L111.1 291.2 L111.9 290.2 L112.8 289.2 L113.7 288.3 L114.5 287.5 L115.4 286.7 L116.2 285.9 L117.1 285.2 L118.0 284.5 L118.8 283.8 L119.7 283.1 L120.5 282.5 L121.4 281.9 L122.3 281.3 L123.1 280.8 L124.0 280.3 L124.8 279.8 L125.7 279.4 L126.6 279.0 L127.4 278.5 L128.3 278.1 L129.1 277.8 L130.0 277.4 L133.0 276.2 L136.1 275.2 L139.1 274.4 L142.2 273.7 L145.2 273.1 L148.3 272.5 L151.3 271.9 L154.3 271.2 L157.4 270.5 L160.4 269.8 L163.5 269.2 L166.5 268.7 L169.6 268.2 L172.6 267.7 L175.7 267.3 L178.7 266.9 L181.7 266.5 L184.8 266.2 L187.8 265.9 L190.9 265.7 L193.9 265.5 L197.0 265.3 L200.0 265.1 L209.0 264.6 L217.9 264.3 L226.9 263.9 L235.9 263.6 L244.8 263.3 L253.8 263.0 L262.7 262.7 L271.7 262.5 L280.7 262.2 L289.6 261.9 L298.6 261.7 L307.6 261.4 L316.5 261.2 L325.5 261.1 L334.4 261.0 L343.4 260.9 L352.4 260.8 L361.3 260.7 L370.3 260.6 L379.3 260.5 L388.2 260.5 L397.2 260.4 L406.1 260.3 L415.1 260.2 L424.1 260.1 L433.0 260.0 L442.0 260.0 L451.0 259.9 L459.9 259.8 L468.9 259.7 L477.8 259.6 L486.8 259.5 L495.8 259.4 L504.7 259.3 L513.7 259.2" fill="none" stroke="#70ce57" stroke-width="1.10" stroke-linejoin="round"/>
<path d="M89.6 417.4 L90.5 395.4 L91.3 378.8 L92.2 366.3 L93.0 357.0 L93.9 350.1 L94.8 343.8 L95.6 337.8 L96.5 332.3 L97.3 327.2 L98.2 322.4 L99.1 318.3 L99.9 314.9 L100.8 312.0 L101.6 309.4 L102.5 307.1 L103.4 305.0 L104.2 303.0 L105.1 301.0 L105.9 299.3 L106.8 297.6 L107.7 296.1 L108.5 294.7 L109.4 293.5 L110.2 292.3 L111.1 291.2 L111.9 290.2 L112.8 289.3 L113.7 288.4 L114.5 287.5 L115.4 286.7 L116.2 286.0 L117.1 285.2 L118.0 284.5 L118.8 283.8 L119.7 283.2 L120.5 282.5 L121.4 281.9 L122.3 281.4 L123.1 280.8 L124.0 280.3 L124.8 279.8 L125.7 279.4 L126.6 279.0 L127.4 278.6 L128.3 278.2 L129.1 277.8 L130.0 277.4 L133.0 276.2 L136.1 275.2 L139.1 274.4 L142.2 273.7 L145.2 273.1 L148.3 272.5 L151.3 271.8 L154.3 271.1 L157.4 270.4 L160.4 269.7 L163.5 269.1 L166.5 268.6 L169.6 268.1 L172.6 267.6 L175.7 267.2 L178.7 266.8 L181.7 266.4 L184.8 266.0 L187.8 265.8 L190.9 265.5 L193.9 265.3 L197.0 265.1 L200.0 265.0 L209.0 264.5 L217.9 264.1 L226.9 263.8 L235.9 263.4 L244.8 263.1 L253.8 262.8 L262.7 262.5 L271.7 262.3 L280.7 262.0 L289.6 261.7 L298.6 261.5 L307.6 261.2 L316.5 261.0 L325.5 260.9 L334.4 260.8 L343.4 260.6 L352.4 260.5 L361.3 260.5 L370.3 260.4 L379.3 260.3 L388.2 260.2 L397.2 260.1 L406.1 260.0 L415.1 260.0 L424.1 259.9 L433.0 259.8 L442.0 259.7 L451.0 259.6 L459.9 259.6 L468.9 259.5 L477.8 259.4 L486.8 259.3 L495.8 259.2 L504.7 259.1 L513.7 259.0" fill="none" stroke="#64cb5e" stroke-width="1.10" stroke-linejoin="round"/>
<path d="M89.6 417.4 L90.5 395.3 L91.3 378.8 L92.2 366.4 L93.0 357.3 L93.9 350.4 L94.8 344.1 L95.6 338.0 L96.5 332.5 L97.3 327.4 L98.2 322.6 L99.1 318.5 L99.9 315.0 L100.8 312.1 L101.6 309.5 L102.5 307.2 L103.4 305.1 L104.2 303.0 L105.1 301.1 L105.9 299.3 L106.8 297.7 L107.7 296.1 L108.5 294.8 L109.4 293.5 L110.2 292.3 L111.1 291.3 L111.9 290.3 L112.8 289.3 L113.7 288.4 L114.5 287.6 L115.4 286.8 L116.2 286.0 L117.1 285.3 L118.0 284.5 L118.8 283.9 L119.7 283.2 L120.5 282.6 L121.4 282.0 L122.3 281.4 L123.1 280.9 L124.0 280.3 L124.8 279.9 L125.7 279.4 L126.6 279.0 L127.4 278.6 L128.3 278.2 L129.1 277.8 L130.0 277.4 L133.0 276.2 L136.1 275.2 L139.1 274.4 L142.2 273.7 L145.2 273.0 L148.3 272.4 L151.3 271.7 L154.3 271.0 L157.4 270.3 L160.4 269.6 L163.5 269.0 L166.5 268.5 L169.6 268.0 L172.6 267.5 L175.7 267.1 L178.7 266.6 L181.7 266.3 L184.8 265.9 L187.8 265.6 L190.9 265.4 L193.9 265.2 L197.0 265.0 L200.0 264.8 L209.0 264.3 L217.9 263.9 L226.9 263.6 L235.9 263.2 L244.8 262.9 L253.8 262.6 L262.7 262.3 L271.7 262.1 L280.7 261.8 L289.6 261.5 L298.6 261.3 L307.6 261.0 L316.5 260.8 L325.5 260.7 L334.4 260.5 L343.4 260.4 L352.4 260.3 L361.3 260.2 L370.3 260.1 L379.3 260.0 L388.2 260.0 L397.2 259.9 L406.1 259.8 L415.1 259.7 L424.1 259.6 L433.0 259.5 L442.0 259.5 L451.0 259.4 L459.9 259.3 L468.9 259.2 L477.8 259.1 L486.8 259.0 L495.8 258.9 L504.7 258.8 L513.7 258.7" fill="none" stroke="#58c765" stroke-width="1.10" stroke-linejoin="round"/>
<path d="M89.6 417.5 L90.5 395.3 L91.3 378.8 L92.2 366.6 L93.0 357.5 L93.9 350.6 L94.8 344.4 L95.6 338.3 L96.5 332.8 L97.3 327.6 L98.2 322.8 L99.1 318.7 L99.9 315.2 L100.8 312.2 L101.6 309.6 L102.5 307.3 L103.4 305.2 L104.2 303.1 L105.1 301.2 L105.9 299.4 L106.8 297.7 L107.7 296.2 L108.5 294.8 L109.4 293.6 L110.2 292.4 L111.1 291.3 L111.9 290.3 L112.8 289.3 L113.7 288.4 L114.5 287.6 L115.4 286.8 L116.2 286.0 L117.1 285.3 L118.0 284.6 L118.8 283.9 L119.7 283.2 L120.5 282.6 L121.4 282.0 L122.3 281.4 L123.1 280.9 L124.0 280.4 L124.8 279.9 L125.7 279.4 L126.6 279.0 L127.4 278.6 L128.3 278.2 L129.1 277.8 L130.0 277.4 L133.0 276.2 L136.1 275.2 L139.1 274.4 L142.2 273.7 L145.2 273.0 L148.3 272.3 L151.3 271.7 L154.3 270.9 L157.4 270.2 L160.4 269.5 L163.5 268.9 L166.5 268.4 L169.6 267.9 L172.6 267.4 L175.7 267.0 L178.7 266.5 L181.7 266.1 L184.8 265.8 L187.8 265.5 L190.9 265.3 L193.9 265.1 L197.0 264.9 L200.0 264.7 L209.0 264.2 L217.9 263.8 L226.9 263.4 L235.9 263.1 L244.8 262.7 L253.8 262.4 L262.7 262.1 L271.7 261.9 L280.7 261.6 L289.6 261.3 L298.6 261.0 L307.6 260.8 L316.5 260.6 L325.5 260.4 L334.4 260.3 L343.4 260.2 L352.4 260.1 L361.3 260.0 L370.3 259.9 L379.3 259.8 L388.2 259.7 L397.2 259.6 L406.1 259.5 L415.1 259.5 L424.1 259.4 L433.0 259.3 L442.0 259.2 L451.0 259.1 L459.9 259.1 L468.9 259.0 L477.8 258.9 L486.8 258.8 L495.8 258.7 L504.7 258.6 L513.7 258.5" fill="none" stroke="#4dc26b" stroke-width="1.10" stroke-linejoin="round"/>
<path d="M89.6 417.5 L90.5 395.3 L91.3 378.9 L92.2 366.7 L93.0 357.8 L93.9 350.9 L94.8 344.7 L95.6 338.6 L96.5 333.0 L97.3 327.8 L98.2 323.0 L99.1 318.8 L99.9 315.3 L100.8 312.3 L101.6 309.7 L102.5 307.4 L103.4 305.2 L104.2 303.2 L105.1 301.3 L105.9 299.5 L106.8 297.8 L107.7 296.3 L108.5 294.9 L109.4 293.6 L110.2 292.4 L111.1 291.4 L111.9 290.3 L112.8 289.4 L113.7 288.5 L114.5 287.6 L115.4 286.8 L116.2 286.1 L117.1 285.3 L118.0 284.6 L118.8 283.9 L119.7 283.3 L120.5 282.6 L121.4 282.0 L122.3 281.4 L123.1 280.9 L124.0 280.4 L124.8 279.9 L125.7 279.5 L126.6 279.0 L127.4 278.6 L128.3 278.2 L129.1 277.8 L130.0 277.4 L133.0 276.3 L136.1 275.2 L139.1 274.4 L142.2 273.6 L145.2 272.9 L148.3 272.3 L151.3 271.6 L154.3 270.9 L157.4 270.1 L160.4 269.4 L163.5 268.8 L166.5 268.3 L169.6 267.8 L172.6 267.3 L175.7 266.8 L178.7 266.4 L181.7 266.0 L184.8 265.7 L187.8 265.4 L190.9 265.1 L193.9 264.9 L197.0 264.7 L200.0 264.5 L209.0 264.0 L217.9 263.6 L226.9 263.2 L235.9 262.9 L244.8 262.5 L253.8 262.2 L262.7 261.9 L271.7 261.7 L280.7 261.4 L289.6 261.1 L298.6 260.8 L307.6 260.6 L316.5 260.4 L325.5 260.2 L334.4 260.1 L343.4 260.0 L352.4 259.8 L361.3 259.7 L370.3 259.7 L379.3 259.6 L388.2 259.5 L397.2 259.4 L406.1 259.3 L415.1 259.2 L424.1 259.1 L433.0 259.0 L442.0 259.0 L451.0 258.9 L459.9 258.8 L468.9 258.7 L477.8 258.6 L486.8 258.5 L495.8 258.4 L504.7 258.3 L513.7 258.3" fill="none" stroke="#42be71" stroke-width="1.10" stroke-linejoin="round"/>
<path d="M89.6 417.5 L90.5 395.2 L91.3 378.9 L92.2 366.9 L93.0 358.0 L93.9 351.2 L94.8 345.0 L95.6 338.8 L96.5 333.2 L97.3 328.0 L98.2 323.2 L99.1 319.0 L99.9 315.5 L100.8 312.4 L101.6 309.8 L102.5 307.5 L103.4 305.3 L104.2 303.3 L105.1 301.4 L105.9 299.5 L106.8 297.9 L107.7 296.3 L108.5 294.9 L109.4 293.7 L110.2 292.5 L111.1 291.4 L111.9 290.4 L112.8 289.4 L113.7 288.5 L114.5 287.7 L115.4 286.9 L116.2 286.1 L117.1 285.3 L118.0 284.6 L118.8 283.9 L119.7 283.3 L120.5 282.6 L121.4 282.0 L122.3 281.5 L123.1 280.9 L124.0 280.4 L124.8 279.9 L125.7 279.5 L126.6 279.0 L127.4 278.6 L128.3 278.2 L129.1 277.8 L130.0 277.5 L133.0 276.3 L136.1 275.2 L139.1 274.4 L142.2 273.6 L145.2 272.9 L148.3 272.2 L151.3 271.5 L154.3 270.8 L157.4 270.1 L160.4 269.4 L163.5 268.7 L166.5 268.2 L169.6 267.7 L172.6 267.2 L175.7 266.7 L178.7 266.3 L181.7 265.9 L184.8 265.6 L187.8 265.3 L190.9 265.0 L193.9 264.8 L197.0 264.6 L200.0 264.4 L209.0 263.9 L217.9 263.4 L226.9 263.1 L235.9 262.7 L244.8 262.3 L253.8 262.0 L262.7 261.7 L271.7 261.5 L280.7 261.2 L289.6 260.9 L298.6 260.6 L307.6 260.4 L316.5 260.1 L325.5 260.0 L334.4 259.8 L343.4 259.7 L352.4 259.6 L361.3 259.5 L370.3 259.4 L379.3 259.3 L388.2 259.2 L397.2 259.1 L406.1 259.1 L415.1 259.0 L424.1 258.9 L433.0 258.8 L442.0 258.7 L451.0 258.6 L459.9 258.6 L468.9 258.5 L477.8 258.4 L486.8 258.3 L495.8 258.2 L504.7 258.1 L513.7 258.0" fill="none" stroke="#39b976" stroke-width="1.10" stroke-linejoin="round"/>
<path d="M89.6 417.5 L90.5 395.2 L91.3 379.0 L92.2 367.0 L93.0 358.3 L93.9 351.5 L94.8 345.3 L95.6 339.1 L96.5 333.4 L97.3 328.2 L98.2 323.4 L99.1 319.2 L99.9 315.6 L100.8 312.6 L101.6 309.9 L102.5 307.6 L103.4 305.4 L104.2 303.4 L105.1 301.4 L105.9 299.6 L106.8 297.9 L107.7 296.4 L108.5 295.0 L109.4 293.7 L110.2 292.5 L111.1 291.4 L111.9 290.4 L112.8 289.5 L113.7 288.6 L114.5 287.7 L115.4 286.9 L116.2 286.1 L117.1 285.4 L118.0 284.7 L118.8 284.0 L119.7 283.3 L120.5 282.7 L121.4 282.1 L122.3 281.5 L123.1 280.9 L124.0 280.4 L124.8 279.9 L125.7 279.5 L126.6 279.1 L127.4 278.6 L128.3 278.2 L129.1 277.8 L130.0 277.5 L133.0 276.3 L136.1 275.2 L139.1 274.4 L142.2 273.6 L145.2 272.9 L148.3 272.2 L151.3 271.4 L154.3 270.7 L157.4 270.0 L160.4 269.3 L163.5 268.6 L166.5 268.1 L169.6 267.6 L172.6 267.1 L175.7 266.6 L178.7 266.2 L181.7 265.8 L184.8 265.4 L187.8 265.1 L190.9 264.9 L193.9 264.6 L197.0 264.4 L200.0 264.2 L209.0 263.7 L217.9 263.3 L226.9 262.9 L235.9 262.5 L244.8 262.2 L253.8 261.8 L262.7 261.5 L271.7 261.3 L280.7 261.0 L289.6 260.7 L298.6 260.4 L307.6 260.1 L316.5 259.9 L325.5 259.8 L334.4 259.6 L343.4 259.5 L352.4 259.4 L361.3 259.3 L370.3 259.2 L379.3 259.1 L388.2 259.0 L397.2 258.9 L406.1 258.8 L415.1 258.7 L424.1 258.6 L433.0 258.5 L442.0 258.5 L451.0 258.4 L459.9 258.3 L468.9 258.2 L477.8 258.1 L486.8 258.0 L495.8 258.0 L504.7 257.9 L513.7 257.8" fill="none" stroke="#30b47b" stroke-width="1.10" stroke-linejoin="round"/>
<path d="M89.6 417.5 L90.5 395.2 L91.3 379.0 L92.2 367.2 L93.0 358.5 L93.9 351.8 L94.8 345.6 L95.6 339.3 L96.5 333.6 L97.3 328.4 L98.2 323.6 L99.1 319.3 L99.9 315.7 L100.8 312.7 L101.6 310.0 L102.5 307.7 L103.4 305.5 L104.2 303.4 L105.1 301.5 L105.9 299.7 L106.8 298.0 L107.7 296.4 L108.5 295.0 L109.4 293.8 L110.2 292.6 L111.1 291.5 L111.9 290.5 L112.8 289.5 L113.7 288.6 L114.5 287.7 L115.4 286.9 L116.2 286.2 L117.1 285.4 L118.0 284.7 L118.8 284.0 L119.7 283.3 L120.5 282.7 L121.4 282.1 L122.3 281.5 L123.1 281.0 L124.0 280.5 L124.8 280.0 L125.7 279.5 L126.6 279.1 L127.4 278.7 L128.3 278.2 L129.1 277.9 L130.0 277.5 L133.0 276.3 L136.1 275.3 L139.1 274.4 L142.2 273.6 L145.2 272.8 L148.3 272.1 L151.3 271.4 L154.3 270.6 L157.4 269.9 L160.4 269.2 L163.5 268.6 L166.5 268.0 L169.6 267.5 L172.6 267.0 L175.7 266.5 L178.7 266.1 L181.7 265.7 L184.8 265.3 L187.8 265.0 L190.9 264.7 L193.9 264.5 L197.0 264.3 L200.0 264.1 L209.0 263.6 L217.9 263.1 L226.9 262.7 L235.9 262.3 L244.8 262.0 L253.8 261.6 L262.7 261.3 L271.7 261.1 L280.7 260.8 L289.6 260.5 L298.6 260.2 L307.6 259.9 L316.5 259.7 L325.5 259.5 L334.4 259.4 L343.4 259.3 L352.4 259.1 L361.3 259.0 L370.3 258.9 L379.3 258.8 L388.2 258.7 L397.2 258.7 L406.1 258.6 L415.1 258.5 L424.1 258.4 L433.0 258.3 L442.0 258.2 L451.0 258.1 L459.9 258.1 L468.9 258.0 L477.8 257.9 L486.8 257.8 L495.8 257.7 L504.7 257.6 L513.7 257.5" fill="none" stroke="#2aaf7f" stroke-width="1.10" stroke-linejoin="round"/>
<path d="M89.6 417.5 L90.5 395.1 L91.3 379.1 L92.2 367.3 L93.0 358.7 L93.9 352.1 L94.8 345.9 L95.6 339.6 L96.5 333.9 L97.3 328.6 L98.2 323.8 L99.1 319.5 L99.9 315.9 L100.8 312.8 L101.6 310.1 L102.5 307.8 L103.4 305.6 L104.2 303.5 L105.1 301.6 L105.9 299.8 L106.8 298.1 L107.7 296.5 L108.5 295.1 L109.4 293.8 L110.2 292.6 L111.1 291.5 L111.9 290.5 L112.8 289.5 L113.7 288.6 L114.5 287.8 L115.4 287.0 L116.2 286.2 L117.1 285.4 L118.0 284.7 L118.8 284.0 L119.7 283.4 L120.5 282.7 L121.4 282.1 L122.3 281.5 L123.1 281.0 L124.0 280.5 L124.8 280.0 L125.7 279.5 L126.6 279.1 L127.4 278.7 L128.3 278.3 L129.1 277.9 L130.0 277.5 L133.0 276.3 L136.1 275.3 L139.1 274.3 L142.2 273.5 L145.2 272.8 L148.3 272.0 L151.3 271.3 L154.3 270.6 L157.4 269.8 L160.4 269.1 L163.5 268.5 L166.5 267.9 L169.6 267.4 L172.6 266.9 L175.7 266.4 L178.7 266.0 L181.7 265.6 L184.8 265.2 L187.8 264.9 L190.9 264.6 L193.9 264.4 L197.0 264.2 L200.0 263.9 L209.0 263.4 L217.9 262.9 L226.9 262.5 L235.9 262.1 L244.8 261.8 L253.8 261.5 L262.7 261.1 L271.7 260.9 L280.7 260.6 L289.6 260.3 L298.6 260.0 L307.6 259.7 L316.5 259.5 L325.5 259.3 L334.4 259.2 L343.4 259.0 L352.4 258.9 L361.3 258.8 L370.3 258.7 L379.3 258.6 L388.2 258.5 L397.2 258.4 L406.1 258.3 L415.1 258.2 L424.1 258.1 L433.0 258.0 L442.0 258.0 L451.0 257.9 L459.9 257.8 L468.9 257.7 L477.8 257.6 L486.8 257.6 L495.8 257.5 L504.7 257.4 L513.7 257.3" fill="none" stroke="#24aa83" stroke-width="1.10" stroke-linejoin="round"/>
<path d="M89.6 417.5 L90.5 395.1 L91.3 379.1 L92.2 367.5 L93.0 359.0 L93.9 352.4 L94.8 346.2 L95.6 339.8 L96.5 334.1 L97.3 328.8 L98.2 324.0 L99.1 319.7 L99.9 316.0 L100.8 312.9 L101.6 310.2 L102.5 307.9 L103.4 305.7 L104.2 303.6 L105.1 301.7 L105.9 299.8 L106.8 298.1 L107.7 296.6 L108.5 295.1 L109.4 293.9 L110.2 292.7 L111.1 291.6 L111.9 290.5 L112.8 289.6 L113.7 288.7 L114.5 287.8 L115.4 287.0 L116.2 286.2 L117.1 285.5 L118.0 284.7 L118.8 284.1 L119.7 283.4 L120.5 282.8 L121.4 282.1 L122.3 281.6 L123.1 281.0 L124.0 280.5 L124.8 280.0 L125.7 279.6 L126.6 279.1 L127.4 278.7 L128.3 278.3 L129.1 277.9 L130.0 277.5 L133.0 276.3 L136.1 275.3 L139.1 274.3 L142.2 273.5 L145.2 272.7 L148.3 272.0 L151.3 271.2 L154.3 270.5 L157.4 269.7 L160.4 269.0 L163.5 268.4 L166.5 267.8 L169.6 267.3 L172.6 266.8 L175.7 266.3 L178.7 265.9 L181.7 265.5 L184.8 265.1 L187.8 264.8 L190.9 264.5 L193.9 264.2 L197.0 264.0 L200.0 263.8 L209.0 263.3 L217.9 262.8 L226.9 262.4 L235.9 262.0 L244.8 261.6 L253.8 261.3 L262.7 260.9 L271.7 260.6 L280.7 260.4 L289.6 260.1 L298.6 259.8 L307.6 259.5 L316.5 259.3 L325.5 259.1 L334.4 258.9 L343.4 258.8 L352.4 258.7 L361.3 258.6 L370.3 258.5 L379.3 258.4 L388.2 258.3 L397.2 258.2 L406.1 258.1 L415.1 258.0 L424.1 257.9 L433.0 257.8 L442.0 257.7 L451.0 257.6 L459.9 257.6 L468.9 257.5 L477.8 257.4 L486.8 257.3 L495.8 257.2 L504.7 257.1 L513.7 257.1" fill="none" stroke="#21a585" stroke-width="1.10" stroke-linejoin="round"/>
<path d="M89.6 417.6 L90.5 395.0 L91.3 379.2 L92.2 367.6 L93.0 359.2 L93.9 352.7 L94.8 346.5 L95.6 340.1 L96.5 334.3 L97.3 329.0 L98.2 324.1 L99.1 319.8 L99.9 316.1 L100.8 313.0 L101.6 310.3 L102.5 308.0 L103.4 305.8 L104.2 303.7 L105.1 301.7 L105.9 299.9 L106.8 298.2 L107.7 296.6 L108.5 295.2 L109.4 293.9 L110.2 292.7 L111.1 291.6 L111.9 290.6 L112.8 289.6 L113.7 288.7 L114.5 287.8 L115.4 287.0 L116.2 286.2 L117.1 285.5 L118.0 284.8 L118.8 284.1 L119.7 283.4 L120.5 282.8 L121.4 282.2 L122.3 281.6 L123.1 281.0 L124.0 280.5 L124.8 280.0 L125.7 279.6 L126.6 279.1 L127.4 278.7 L128.3 278.3 L129.1 277.9 L130.0 277.5 L133.0 276.3 L136.1 275.3 L139.1 274.3 L142.2 273.5 L145.2 272.7 L148.3 271.9 L151.3 271.2 L154.3 270.4 L157.4 269.7 L160.4 268.9 L163.5 268.3 L166.5 267.7 L169.6 267.2 L172.6 266.7 L175.7 266.2 L178.7 265.7 L181.7 265.3 L184.8 265.0 L187.8 264.6 L190.9 264.4 L193.9 264.1 L197.0 263.9 L200.0 263.7 L209.0 263.1 L217.9 262.6 L226.9 262.2 L235.9 261.8 L244.8 261.4 L253.8 261.1 L262.7 260.7 L271.7 260.4 L280.7 260.1 L289.6 259.8 L298.6 259.5 L307.6 259.3 L316.5 259.0 L325.5 258.9 L334.4 258.7 L343.4 258.6 L352.4 258.4 L361.3 258.3 L370.3 258.2 L379.3 258.1 L388.2 258.0 L397.2 257.9 L406.1 257.8 L415.1 257.7 L424.1 257.6 L433.0 257.5 L442.0 257.5 L451.0 257.4 L459.9 257.3 L468.9 257.2 L477.8 257.1 L486.8 257.1 L495.8 257.0 L504.7 256.9 L513.7 256.8" fill="none" stroke="#1fa087" stroke-width="1.10" stroke-linejoin="round"/>
<path d="M89.6 417.6 L90.5 395.0 L91.3 379.2 L92.2 367.8 L93.0 359.5 L93.9 353.0 L94.8 346.8 L95.6 340.4 L96.5 334.5 L97.3 329.2 L98.2 324.3 L99.1 320.0 L99.9 316.3 L100.8 313.1 L101.6 310.4 L102.5 308.0 L103.4 305.8 L104.2 303.8 L105.1 301.8 L105.9 300.0 L106.8 298.3 L107.7 296.7 L108.5 295.3 L109.4 294.0 L110.2 292.8 L111.1 291.7 L111.9 290.6 L112.8 289.7 L113.7 288.7 L114.5 287.9 L115.4 287.1 L116.2 286.3 L117.1 285.5 L118.0 284.8 L118.8 284.1 L119.7 283.4 L120.5 282.8 L121.4 282.2 L122.3 281.6 L123.1 281.1 L124.0 280.5 L124.8 280.1 L125.7 279.6 L126.6 279.1 L127.4 278.7 L128.3 278.3 L129.1 277.9 L130.0 277.5 L133.0 276.3 L136.1 275.3 L139.1 274.3 L142.2 273.4 L145.2 272.6 L148.3 271.9 L151.3 271.1 L154.3 270.3 L157.4 269.6 L160.4 268.8 L163.5 268.2 L166.5 267.6 L169.6 267.1 L172.6 266.6 L175.7 266.1 L178.7 265.6 L181.7 265.2 L184.8 264.8 L187.8 264.5 L190.9 264.2 L193.9 264.0 L197.0 263.7 L200.0 263.5 L209.0 262.9 L217.9 262.4 L226.9 262.0 L235.9 261.6 L244.8 261.2 L253.8 260.9 L262.7 260.5 L271.7 260.2 L280.7 259.9 L289.6 259.6 L298.6 259.3 L307.6 259.1 L316.5 258.8 L325.5 258.6 L334.4 258.5 L343.4 258.3 L352.4 258.2 L361.3 258.1 L370.3 258.0 L379.3 257.9 L388.2 257.8 L397.2 257.7 L406.1 257.6 L415.1 257.5 L424.1 257.4 L433.0 257.3 L442.0 257.2 L451.0 257.1 L459.9 257.1 L468.9 257.0 L477.8 256.9 L486.8 256.8 L495.8 256.7 L504.7 256.7 L513.7 256.6" fill="none" stroke="#1e9b89" stroke-width="1.10" stroke-linejoin="round"/>
<path d="M89.6 417.6 L90.5 395.0 L91.3 379.3 L92.2 367.9 L93.0 359.7 L93.9 353.3 L94.8 347.1 L95.6 340.6 L96.5 334.7 L97.3 329.4 L98.2 324.5 L99.1 320.2 L99.9 316.4 L100.8 313.3 L101.6 310.6 L102.5 308.1 L103.4 305.9 L104.2 303.9 L105.1 301.9 L105.9 300.1 L106.8 298.3 L107.7 296.7 L108.5 295.3 L109.4 294.0 L110.2 292.8 L111.1 291.7 L111.9 290.7 L112.8 289.7 L113.7 288.8 L114.5 287.9 L115.4 287.1 L116.2 286.3 L117.1 285.6 L118.0 284.8 L118.8 284.1 L119.7 283.5 L120.5 282.8 L121.4 282.2 L122.3 281.6 L123.1 281.1 L124.0 280.6 L124.8 280.1 L125.7 279.6 L126.6 279.2 L127.4 278.7 L128.3 278.3 L129.1 277.9 L130.0 277.6 L133.0 276.3 L136.1 275.3 L139.1 274.3 L142.2 273.4 L145.2 272.6 L148.3 271.8 L151.3 271.0 L154.3 270.3 L157.4 269.5 L160.4 268.8 L163.5 268.1 L166.5 267.5 L169.6 267.0 L172.6 266.5 L175.7 266.0 L178.7 265.5 L181.7 265.1 L184.8 264.7 L187.8 264.4 L190.9 264.1 L193.9 263.8 L197.0 263.6 L200.0 263.4 L209.0 262.8 L217.9 262.3 L226.9 261.8 L235.9 261.4 L244.8 261.0 L253.8 260.7 L262.7 260.4 L271.7 260.0 L280.7 259.7 L289.6 259.4 L298.6 259.1 L307.6 258.8 L316.5 258.6 L325.5 258.4 L334.4 258.3 L343.4 258.1 L352.4 258.0 L361.3 257.9 L370.3 257.7 L379.3 257.6 L388.2 257.5 L397.2 257.4 L406.1 257.3 L415.1 257.2 L424.1 257.1 L433.0 257.0 L442.0 257.0 L451.0 256.9 L459.9 256.8 L468.9 256.7 L477.8 256.6 L486.8 256.6 L495.8 256.5 L504.7 256.4 L513.7 256.3" fill="none" stroke="#20968b" stroke-width="1.10" stroke-linejoin="round"/>
<path d="M89.6 417.6 L90.5 394.9 L91.3 379.3 L92.2 368.1 L93.0 360.0 L93.9 353.6 L94.8 347.4 L95.6 340.9 L96.5 335.0 L97.3 329.6 L98.2 324.7 L99.1 320.3 L99.9 316.5 L100.8 313.4 L101.6 310.7 L102.5 308.2 L103.4 306.0 L104.2 303.9 L105.1 302.0 L105.9 300.1 L106.8 298.4 L107.7 296.8 L108.5 295.4 L109.4 294.1 L110.2 292.9 L111.1 291.7 L111.9 290.7 L112.8 289.7 L113.7 288.8 L114.5 287.9 L115.4 287.1 L116.2 286.3 L117.1 285.6 L118.0 284.9 L118.8 284.2 L119.7 283.5 L120.5 282.9 L121.4 282.2 L122.3 281.7 L123.1 281.1 L124.0 280.6 L124.8 280.1 L125.7 279.6 L126.6 279.2 L127.4 278.7 L128.3 278.3 L129.1 277.9 L130.0 277.6 L133.0 276.3 L136.1 275.3 L139.1 274.3 L142.2 273.4 L145.2 272.5 L148.3 271.7 L151.3 271.0 L154.3 270.2 L157.4 269.4 L160.4 268.7 L163.5 268.0 L166.5 267.4 L169.6 266.9 L172.6 266.4 L175.7 265.9 L178.7 265.4 L181.7 265.0 L184.8 264.6 L187.8 264.3 L190.9 264.0 L193.9 263.7 L197.0 263.5 L200.0 263.2 L209.0 262.6 L217.9 262.1 L226.9 261.7 L235.9 261.2 L244.8 260.8 L253.8 260.5 L262.7 260.2 L271.7 259.8 L280.7 259.5 L289.6 259.2 L298.6 258.9 L307.6 258.6 L316.5 258.4 L325.5 258.2 L334.4 258.0 L343.4 257.9 L352.4 257.7 L361.3 257.6 L370.3 257.5 L379.3 257.4 L388.2 257.3 L397.2 257.2 L406.1 257.1 L415.1 257.0 L424.1 256.9 L433.0 256.8 L442.0 256.7 L451.0 256.6 L459.9 256.6 L468.9 256.5 L477.8 256.4 L486.8 256.3 L495.8 256.2 L504.7 256.2 L513.7 256.1" fill="none" stroke="#21918c" stroke-width="1.10" stroke-linejoin="round"/>
<path d="M89.6 417.6 L90.5 394.9 L91.3 379.4 L92.2 368.2 L93.0 360.2 L93.9 353.9 L94.8 347.7 L95.6 341.1 L96.5 335.2 L97.3 329.8 L98.2 324.9 L99.1 320.5 L99.9 316.7 L100.8 313.5 L101.6 310.8 L102.5 308.3 L103.4 306.1 L104.2 304.0 L105.1 302.1 L105.9 300.2 L106.8 298.5 L107.7 296.9 L108.5 295.4 L109.4 294.1 L110.2 292.9 L111.1 291.8 L111.9 290.7 L112.8 289.8 L113.7 288.8 L114.5 288.0 L115.4 287.2 L116.2 286.4 L117.1 285.6 L118.0 284.9 L118.8 284.2 L119.7 283.5 L120.5 282.9 L121.4 282.3 L122.3 281.7 L123.1 281.1 L124.0 280.6 L124.8 280.1 L125.7 279.6 L126.6 279.2 L127.4 278.8 L128.3 278.4 L129.1 278.0 L130.0 277.6 L133.0 276.4 L136.1 275.3 L139.1 274.3 L142.2 273.4 L145.2 272.5 L148.3 271.7 L151.3 270.9 L154.3 270.1 L157.4 269.3 L160.4 268.6 L163.5 267.9 L166.5 267.4 L169.6 266.8 L172.6 266.3 L175.7 265.8 L178.7 265.3 L181.7 264.9 L184.8 264.5 L187.8 264.1 L190.9 263.8 L193.9 263.6 L197.0 263.3 L200.0 263.1 L209.0 262.5 L217.9 261.9 L226.9 261.5 L235.9 261.0 L244.8 260.6 L253.8 260.3 L262.7 260.0 L271.7 259.6 L280.7 259.3 L289.6 259.0 L298.6 258.7 L307.6 258.4 L316.5 258.2 L325.5 258.0 L334.4 257.8 L343.4 257.6 L352.4 257.5 L361.3 257.4 L370.3 257.3 L379.3 257.1 L388.2 257.0 L397.2 256.9 L406.1 256.8 L415.1 256.7 L424.1 256.6 L433.0 256.5 L442.0 256.5 L451.0 256.4 L459.9 256.3 L468.9 256.2 L477.8 256.2 L486.8 256.1 L495.8 256.0 L504.7 255.9 L513.7 255.9" fill="none" stroke="#238b8d" stroke-width="1.10" stroke-linejoin="round"/>
<path d="M89.6 417.6 L90.5 394.8 L91.3 379.4 L92.2 368.4 L93.0 360.4 L93.9 354.2 L94.8 348.0 L95.6 341.4 L96.5 335.4 L97.3 330.0 L98.2 325.1 L99.1 320.7 L99.9 316.8 L100.8 313.6 L101.6 310.9 L102.5 308.4 L103.4 306.2 L104.2 304.1 L105.1 302.1 L105.9 300.3 L106.8 298.5 L107.7 296.9 L108.5 295.5 L109.4 294.2 L110.2 293.0 L111.1 291.8 L111.9 290.8 L112.8 289.8 L113.7 288.9 L114.5 288.0 L115.4 287.2 L116.2 286.4 L117.1 285.6 L118.0 284.9 L118.8 284.2 L119.7 283.6 L120.5 282.9 L121.4 282.3 L122.3 281.7 L123.1 281.2 L124.0 280.6 L124.8 280.1 L125.7 279.7 L126.6 279.2 L127.4 278.8 L128.3 278.4 L129.1 278.0 L130.0 277.6 L133.0 276.4 L136.1 275.3 L139.1 274.3 L142.2 273.3 L145.2 272.5 L148.3 271.6 L151.3 270.8 L154.3 270.0 L157.4 269.2 L160.4 268.5 L163.5 267.8 L166.5 267.3 L169.6 266.7 L172.6 266.2 L175.7 265.7 L178.7 265.2 L181.7 264.8 L184.8 264.4 L187.8 264.0 L190.9 263.7 L193.9 263.4 L197.0 263.2 L200.0 262.9 L209.0 262.3 L217.9 261.8 L226.9 261.3 L235.9 260.9 L244.8 260.5 L253.8 260.1 L262.7 259.8 L271.7 259.4 L280.7 259.1 L289.6 258.8 L298.6 258.5 L307.6 258.2 L316.5 257.9 L325.5 257.7 L334.4 257.6 L343.4 257.4 L352.4 257.3 L361.3 257.1 L370.3 257.0 L379.3 256.9 L388.2 256.8 L397.2 256.7 L406.1 256.6 L415.1 256.5 L424.1 256.4 L433.0 256.3 L442.0 256.2 L451.0 256.1 L459.9 256.1 L468.9 256.0 L477.8 255.9 L486.8 255.8 L495.8 255.8 L504.7 255.7 L513.7 255.6" fill="none" stroke="#24868e" stroke-width="1.10" stroke-linejoin="round"/>
<path d="M89.6 417.6 L90.5 394.8 L91.3 379.5 L92.2 368.5 L93.0 360.7 L93.9 354.5 L94.8 348.3 L95.6 341.7 L96.5 335.6 L97.3 330.2 L98.2 325.3 L99.1 320.8 L99.9 317.0 L100.8 313.7 L101.6 311.0 L102.5 308.5 L103.4 306.3 L104.2 304.2 L105.1 302.2 L105.9 300.3 L106.8 298.6 L107.7 297.0 L108.5 295.5 L109.4 294.2 L110.2 293.0 L111.1 291.9 L111.9 290.8 L112.8 289.8 L113.7 288.9 L114.5 288.0 L115.4 287.2 L116.2 286.4 L117.1 285.7 L118.0 284.9 L118.8 284.2 L119.7 283.6 L120.5 282.9 L121.4 282.3 L122.3 281.7 L123.1 281.2 L124.0 280.6 L124.8 280.2 L125.7 279.7 L126.6 279.2 L127.4 278.8 L128.3 278.4 L129.1 278.0 L130.0 277.6 L133.0 276.4 L136.1 275.3 L139.1 274.3 L142.2 273.3 L145.2 272.4 L148.3 271.6 L151.3 270.8 L154.3 270.0 L157.4 269.2 L160.4 268.4 L163.5 267.8 L166.5 267.2 L169.6 266.6 L172.6 266.1 L175.7 265.6 L178.7 265.1 L181.7 264.6 L184.8 264.2 L187.8 263.9 L190.9 263.6 L193.9 263.3 L197.0 263.0 L200.0 262.8 L209.0 262.2 L217.9 261.6 L226.9 261.1 L235.9 260.7 L244.8 260.3 L253.8 259.9 L262.7 259.6 L271.7 259.2 L280.7 258.9 L289.6 258.6 L298.6 258.3 L307.6 258.0 L316.5 257.7 L325.5 257.5 L334.4 257.3 L343.4 257.2 L352.4 257.0 L361.3 256.9 L370.3 256.8 L379.3 256.7 L388.2 256.6 L397.2 256.4 L406.1 256.3 L415.1 256.2 L424.1 256.1 L433.0 256.0 L442.0 256.0 L451.0 255.9 L459.9 255.8 L468.9 255.7 L477.8 255.7 L486.8 255.6 L495.8 255.5 L504.7 255.4 L513.7 255.4" fill="none" stroke="#27808e" stroke-width="1.10" stroke-linejoin="round"/>
<path d="M89.6 417.7 L90.5 394.8 L91.3 379.5 L92.2 368.7 L93.0 360.9 L93.9 354.8 L94.8 348.6 L95.6 341.9 L96.5 335.8 L97.3 330.4 L98.2 325.5 L99.1 321.0 L99.9 317.1 L100.8 313.8 L101.6 311.1 L102.5 308.6 L103.4 306.4 L104.2 304.3 L105.1 302.3 L105.9 300.4 L106.8 298.7 L107.7 297.1 L108.5 295.6 L109.4 294.3 L110.2 293.0 L111.1 291.9 L111.9 290.9 L112.8 289.9 L113.7 289.0 L114.5 288.1 L115.4 287.2 L116.2 286.5 L117.1 285.7 L118.0 285.0 L118.8 284.3 L119.7 283.6 L120.5 283.0 L121.4 282.3 L122.3 281.8 L123.1 281.2 L124.0 280.7 L124.8 280.2 L125.7 279.7 L126.6 279.2 L127.4 278.8 L128.3 278.4 L129.1 278.0 L130.0 277.6 L133.0 276.4 L136.1 275.3 L139.1 274.3 L142.2 273.3 L145.2 272.4 L148.3 271.5 L151.3 270.7 L154.3 269.9 L157.4 269.1 L160.4 268.3 L163.5 267.7 L166.5 267.1 L169.6 266.5 L172.6 266.0 L175.7 265.4 L178.7 265.0 L181.7 264.5 L184.8 264.1 L187.8 263.8 L190.9 263.5 L193.9 263.2 L197.0 262.9 L200.0 262.7 L209.0 262.0 L217.9 261.4 L226.9 260.9 L235.9 260.5 L244.8 260.1 L253.8 259.7 L262.7 259.4 L271.7 259.0 L280.7 258.7 L289.6 258.4 L298.6 258.0 L307.6 257.7 L316.5 257.5 L325.5 257.3 L334.4 257.1 L343.4 257.0 L352.4 256.8 L361.3 256.7 L370.3 256.5 L379.3 256.4 L388.2 256.3 L397.2 256.2 L406.1 256.1 L415.1 256.0 L424.1 255.9 L433.0 255.8 L442.0 255.7 L451.0 255.6 L459.9 255.6 L468.9 255.5 L477.8 255.4 L486.8 255.3 L495.8 255.3 L504.7 255.2 L513.7 255.1" fill="none" stroke="#297b8e" stroke-width="1.10" stroke-linejoin="round"/>
<path d="M89.6 417.7 L90.5 394.7 L91.3 379.6 L92.2 368.8 L93.0 361.2 L93.9 355.1 L94.8 348.9 L95.6 342.2 L96.5 336.1 L97.3 330.6 L98.2 325.7 L99.1 321.2 L99.9 317.2 L100.8 313.9 L101.6 311.2 L102.5 308.7 L103.4 306.4 L104.2 304.3 L105.1 302.4 L105.9 300.5 L106.8 298.7 L107.7 297.1 L108.5 295.6 L109.4 294.3 L110.2 293.1 L111.1 292.0 L111.9 290.9 L112.8 289.9 L113.7 289.0 L114.5 288.1 L115.4 287.3 L116.2 286.5 L117.1 285.7 L118.0 285.0 L118.8 284.3 L119.7 283.6 L120.5 283.0 L121.4 282.4 L122.3 281.8 L123.1 281.2 L124.0 280.7 L124.8 280.2 L125.7 279.7 L126.6 279.3 L127.4 278.8 L128.3 278.4 L129.1 278.0 L130.0 277.6 L133.0 276.4 L136.1 275.3 L139.1 274.2 L142.2 273.3 L145.2 272.3 L148.3 271.5 L151.3 270.6 L154.3 269.8 L157.4 269.0 L160.4 268.3 L163.5 267.6 L166.5 267.0 L169.6 266.4 L172.6 265.9 L175.7 265.3 L178.7 264.9 L181.7 264.4 L184.8 264.0 L187.8 263.6 L190.9 263.3 L193.9 263.0 L197.0 262.8 L200.0 262.5 L209.0 261.9 L217.9 261.3 L226.9 260.8 L235.9 260.3 L244.8 259.9 L253.8 259.5 L262.7 259.2 L271.7 258.8 L280.7 258.5 L289.6 258.2 L298.6 257.8 L307.6 257.5 L316.5 257.3 L325.5 257.1 L334.4 256.9 L343.4 256.7 L352.4 256.6 L361.3 256.4 L370.3 256.3 L379.3 256.2 L388.2 256.1 L397.2 256.0 L406.1 255.8 L415.1 255.7 L424.1 255.6 L433.0 255.5 L442.0 255.5 L451.0 255.4 L459.9 255.3 L468.9 255.2 L477.8 255.2 L486.8 255.1 L495.8 255.0 L504.7 255.0 L513.7 254.9" fill="none" stroke="#2b768e" stroke-width="1.10" stroke-linejoin="round"/>
<path d="M89.6 417.7 L90.5 394.7 L91.3 379.6 L92.2 369.0 L93.0 361.4 L93.9 355.4 L94.8 349.2 L95.6 342.4 L96.5 336.3 L97.3 330.8 L98.2 325.9 L99.1 321.3 L99.9 317.4 L100.8 314.1 L101.6 311.3 L102.5 308.8 L103.4 306.5 L104.2 304.4 L105.1 302.4 L105.9 300.6 L106.8 298.8 L107.7 297.2 L108.5 295.7 L109.4 294.4 L110.2 293.1 L111.1 292.0 L111.9 290.9 L112.8 290.0 L113.7 289.0 L114.5 288.1 L115.4 287.3 L116.2 286.5 L117.1 285.8 L118.0 285.0 L118.8 284.3 L119.7 283.7 L120.5 283.0 L121.4 282.4 L122.3 281.8 L123.1 281.2 L124.0 280.7 L124.8 280.2 L125.7 279.7 L126.6 279.3 L127.4 278.8 L128.3 278.4 L129.1 278.0 L130.0 277.6 L133.0 276.4 L136.1 275.3 L139.1 274.2 L142.2 273.2 L145.2 272.3 L148.3 271.4 L151.3 270.6 L154.3 269.7 L157.4 268.9 L160.4 268.2 L163.5 267.5 L166.5 266.9 L169.6 266.3 L172.6 265.8 L175.7 265.2 L178.7 264.7 L181.7 264.3 L184.8 263.9 L187.8 263.5 L190.9 263.2 L193.9 262.9 L197.0 262.6 L200.0 262.4 L209.0 261.7 L217.9 261.1 L226.9 260.6 L235.9 260.1 L244.8 259.7 L253.8 259.3 L262.7 259.0 L271.7 258.6 L280.7 258.3 L289.6 257.9 L298.6 257.6 L307.6 257.3 L316.5 257.1 L325.5 256.8 L334.4 256.7 L343.4 256.5 L352.4 256.3 L361.3 256.2 L370.3 256.1 L379.3 255.9 L388.2 255.8 L397.2 255.7 L406.1 255.6 L415.1 255.5 L424.1 255.4 L433.0 255.3 L442.0 255.2 L451.0 255.1 L459.9 255.1 L468.9 255.0 L477.8 254.9 L486.8 254.8 L495.8 254.8 L504.7 254.7 L513.7 254.7" fill="none" stroke="#2d718e" stroke-width="1.10" stroke-linejoin="round"/>
<path d="M89.6 417.7 L90.5 394.6 L91.3 379.7 L92.2 369.1 L93.0 361.7 L93.9 355.7 L94.8 349.5 L95.6 342.7 L96.5 336.5 L97.3 331.0 L98.2 326.1 L99.1 321.5 L99.9 317.5 L100.8 314.2 L101.6 311.4 L102.5 308.9 L103.4 306.6 L104.2 304.5 L105.1 302.5 L105.9 300.6 L106.8 298.9 L107.7 297.2 L108.5 295.8 L109.4 294.4 L110.2 293.2 L111.1 292.1 L111.9 291.0 L112.8 290.0 L113.7 289.1 L114.5 288.2 L115.4 287.3 L116.2 286.6 L117.1 285.8 L118.0 285.1 L118.8 284.4 L119.7 283.7 L120.5 283.0 L121.4 282.4 L122.3 281.8 L123.1 281.3 L124.0 280.7 L124.8 280.2 L125.7 279.8 L126.6 279.3 L127.4 278.9 L128.3 278.4 L129.1 278.0 L130.0 277.7 L133.0 276.4 L136.1 275.3 L139.1 274.2 L142.2 273.2 L145.2 272.2 L148.3 271.3 L151.3 270.5 L154.3 269.6 L157.4 268.8 L160.4 268.1 L163.5 267.4 L166.5 266.8 L169.6 266.2 L172.6 265.7 L175.7 265.1 L178.7 264.6 L181.7 264.2 L184.8 263.8 L187.8 263.4 L190.9 263.1 L193.9 262.8 L197.0 262.5 L200.0 262.2 L209.0 261.5 L217.9 260.9 L226.9 260.4 L235.9 259.9 L244.8 259.5 L253.8 259.1 L262.7 258.8 L271.7 258.4 L280.7 258.1 L289.6 257.7 L298.6 257.4 L307.6 257.1 L316.5 256.8 L325.5 256.6 L334.4 256.4 L343.4 256.3 L352.4 256.1 L361.3 256.0 L370.3 255.8 L379.3 255.7 L388.2 255.6 L397.2 255.5 L406.1 255.4 L415.1 255.2 L424.1 255.1 L433.0 255.0 L442.0 255.0 L451.0 254.9 L459.9 254.8 L468.9 254.7 L477.8 254.7 L486.8 254.6 L495.8 254.5 L504.7 254.5 L513.7 254.4" fill="none" stroke="#2f6b8e" stroke-width="1.10" stroke-linejoin="round"/>
<path d="M89.6 417.7 L90.5 394.6 L91.3 379.7 L92.2 369.3 L93.0 361.9 L93.9 356.0 L94.8 349.8 L95.6 343.0 L96.5 336.7 L97.3 331.2 L98.2 326.3 L99.1 321.7 L99.9 317.6 L100.8 314.3 L101.6 311.5 L102.5 309.0 L103.4 306.7 L104.2 304.6 L105.1 302.6 L105.9 300.7 L106.8 298.9 L107.7 297.3 L108.5 295.8 L109.4 294.5 L110.2 293.2 L111.1 292.1 L111.9 291.0 L112.8 290.0 L113.7 289.1 L114.5 288.2 L115.4 287.4 L116.2 286.6 L117.1 285.8 L118.0 285.1 L118.8 284.4 L119.7 283.7 L120.5 283.1 L121.4 282.4 L122.3 281.9 L123.1 281.3 L124.0 280.8 L124.8 280.3 L125.7 279.8 L126.6 279.3 L127.4 278.9 L128.3 278.5 L129.1 278.1 L130.0 277.7 L133.0 276.4 L136.1 275.3 L139.1 274.2 L142.2 273.2 L145.2 272.2 L148.3 271.3 L151.3 270.4 L154.3 269.6 L157.4 268.8 L160.4 268.0 L163.5 267.3 L166.5 266.7 L169.6 266.1 L172.6 265.5 L175.7 265.0 L178.7 264.5 L181.7 264.1 L184.8 263.6 L187.8 263.3 L190.9 262.9 L193.9 262.6 L197.0 262.4 L200.0 262.1 L209.0 261.4 L217.9 260.8 L226.9 260.2 L235.9 259.8 L244.8 259.3 L253.8 258.9 L262.7 258.6 L271.7 258.2 L280.7 257.9 L289.6 257.5 L298.6 257.2 L307.6 256.9 L316.5 256.6 L325.5 256.4 L334.4 256.2 L343.4 256.0 L352.4 255.9 L361.3 255.7 L370.3 255.6 L379.3 255.5 L388.2 255.3 L397.2 255.2 L406.1 255.1 L415.1 255.0 L424.1 254.9 L433.0 254.8 L442.0 254.7 L451.0 254.6 L459.9 254.6 L468.9 254.5 L477.8 254.4 L486.8 254.4 L495.8 254.3 L504.7 254.2 L513.7 254.2" fill="none" stroke="#32668e" stroke-width="1.10" stroke-linejoin="round"/>
<path d="M89.6 417.7 L90.5 394.6 L91.3 379.8 L92.2 369.4 L93.0 362.1 L93.9 356.3 L94.8 350.1 L95.6 343.2 L96.5 336.9 L97.3 331.5 L98.2 326.5 L99.1 321.8 L99.9 317.8 L100.8 314.4 L101.6 311.6 L102.5 309.1 L103.4 306.8 L104.2 304.7 L105.1 302.7 L105.9 300.8 L106.8 299.0 L107.7 297.4 L108.5 295.9 L109.4 294.5 L110.2 293.3 L111.1 292.1 L111.9 291.1 L112.8 290.1 L113.7 289.1 L114.5 288.2 L115.4 287.4 L116.2 286.6 L117.1 285.9 L118.0 285.1 L118.8 284.4 L119.7 283.7 L120.5 283.1 L121.4 282.5 L122.3 281.9 L123.1 281.3 L124.0 280.8 L124.8 280.3 L125.7 279.8 L126.6 279.3 L127.4 278.9 L128.3 278.5 L129.1 278.1 L130.0 277.7 L133.0 276.4 L136.1 275.3 L139.1 274.2 L142.2 273.2 L145.2 272.2 L148.3 271.2 L151.3 270.3 L154.3 269.5 L157.4 268.7 L160.4 267.9 L163.5 267.2 L166.5 266.6 L169.6 266.0 L172.6 265.4 L175.7 264.9 L178.7 264.4 L181.7 263.9 L184.8 263.5 L187.8 263.1 L190.9 262.8 L193.9 262.5 L197.0 262.2 L200.0 261.9 L209.0 261.2 L217.9 260.6 L226.9 260.1 L235.9 259.6 L244.8 259.1 L253.8 258.7 L262.7 258.4 L271.7 258.0 L280.7 257.7 L289.6 257.3 L298.6 257.0 L307.6 256.7 L316.5 256.4 L325.5 256.2 L334.4 256.0 L343.4 255.8 L352.4 255.6 L361.3 255.5 L370.3 255.3 L379.3 255.2 L388.2 255.1 L397.2 255.0 L406.1 254.9 L415.1 254.8 L424.1 254.6 L433.0 254.5 L442.0 254.5 L451.0 254.4 L459.9 254.3 L468.9 254.2 L477.8 254.2 L486.8 254.1 L495.8 254.0 L504.7 254.0 L513.7 253.9" fill="none" stroke="#34608d" stroke-width="1.10" stroke-linejoin="round"/>
<path d="M89.6 417.7 L90.5 394.5 L91.3 379.8 L92.2 369.6 L93.0 362.4 L93.9 356.6 L94.8 350.4 L95.6 343.5 L96.5 337.2 L97.3 331.7 L98.2 326.7 L99.1 322.0 L99.9 317.9 L100.8 314.5 L101.6 311.7 L102.5 309.2 L103.4 306.9 L104.2 304.8 L105.1 302.8 L105.9 300.9 L106.8 299.1 L107.7 297.4 L108.5 295.9 L109.4 294.6 L110.2 293.3 L111.1 292.2 L111.9 291.1 L112.8 290.1 L113.7 289.2 L114.5 288.3 L115.4 287.4 L116.2 286.6 L117.1 285.9 L118.0 285.2 L118.8 284.4 L119.7 283.8 L120.5 283.1 L121.4 282.5 L122.3 281.9 L123.1 281.3 L124.0 280.8 L124.8 280.3 L125.7 279.8 L126.6 279.3 L127.4 278.9 L128.3 278.5 L129.1 278.1 L130.0 277.7 L133.0 276.4 L136.1 275.3 L139.1 274.2 L142.2 273.1 L145.2 272.1 L148.3 271.2 L151.3 270.3 L154.3 269.4 L157.4 268.6 L160.4 267.8 L163.5 267.1 L166.5 266.5 L169.6 265.9 L172.6 265.3 L175.7 264.8 L178.7 264.3 L181.7 263.8 L184.8 263.4 L187.8 263.0 L190.9 262.7 L193.9 262.4 L197.0 262.1 L200.0 261.8 L209.0 261.1 L217.9 260.4 L226.9 259.9 L235.9 259.4 L244.8 259.0 L253.8 258.5 L262.7 258.2 L271.7 257.8 L280.7 257.5 L289.6 257.1 L298.6 256.8 L307.6 256.4 L316.5 256.2 L325.5 256.0 L334.4 255.8 L343.4 255.6 L352.4 255.4 L361.3 255.3 L370.3 255.1 L379.3 255.0 L388.2 254.8 L397.2 254.7 L406.1 254.6 L415.1 254.5 L424.1 254.4 L433.0 254.3 L442.0 254.2 L451.0 254.1 L459.9 254.1 L468.9 254.0 L477.8 253.9 L486.8 253.9 L495.8 253.8 L504.7 253.8 L513.7 253.7" fill="none" stroke="#375a8c" stroke-width="1.10" stroke-linejoin="round"/>
<path d="M89.6 417.7 L90.5 394.5 L91.3 379.9 L92.2 369.7 L93.0 362.6 L93.9 356.9 L94.8 350.7 L95.6 343.7 L96.5 337.4 L97.3 331.9 L98.2 326.8 L99.1 322.2 L99.9 318.1 L100.8 314.6 L101.6 311.8 L102.5 309.2 L103.4 307.0 L104.2 304.8 L105.1 302.8 L105.9 300.9 L106.8 299.1 L107.7 297.5 L108.5 296.0 L109.4 294.6 L110.2 293.4 L111.1 292.2 L111.9 291.2 L112.8 290.1 L113.7 289.2 L114.5 288.3 L115.4 287.5 L116.2 286.7 L117.1 285.9 L118.0 285.2 L118.8 284.5 L119.7 283.8 L120.5 283.1 L121.4 282.5 L122.3 281.9 L123.1 281.4 L124.0 280.8 L124.8 280.3 L125.7 279.8 L126.6 279.4 L127.4 278.9 L128.3 278.5 L129.1 278.1 L130.0 277.7 L133.0 276.5 L136.1 275.3 L139.1 274.2 L142.2 273.1 L145.2 272.1 L148.3 271.1 L151.3 270.2 L154.3 269.3 L157.4 268.5 L160.4 267.7 L163.5 267.0 L166.5 266.4 L169.6 265.8 L172.6 265.2 L175.7 264.7 L178.7 264.2 L181.7 263.7 L184.8 263.3 L187.8 262.9 L190.9 262.5 L193.9 262.2 L197.0 261.9 L200.0 261.7 L209.0 260.9 L217.9 260.3 L226.9 259.7 L235.9 259.2 L244.8 258.8 L253.8 258.3 L262.7 258.0 L271.7 257.6 L280.7 257.3 L289.6 256.9 L298.6 256.5 L307.6 256.2 L316.5 256.0 L325.5 255.7 L334.4 255.5 L343.4 255.3 L352.4 255.2 L361.3 255.0 L370.3 254.9 L379.3 254.7 L388.2 254.6 L397.2 254.5 L406.1 254.4 L415.1 254.3 L424.1 254.1 L433.0 254.0 L442.0 254.0 L451.0 253.9 L459.9 253.8 L468.9 253.7 L477.8 253.7 L486.8 253.6 L495.8 253.6 L504.7 253.5 L513.7 253.5" fill="none" stroke="#3a558b" stroke-width="1.10" stroke-linejoin="round"/>
<path d="M89.6 417.8 L90.5 394.4 L91.3 379.9 L92.2 369.9 L93.0 362.9 L93.9 357.1 L94.8 351.0 L95.6 344.0 L96.5 337.6 L97.3 332.1 L98.2 327.0 L99.1 322.3 L99.9 318.2 L100.8 314.8 L101.6 311.9 L102.5 309.3 L103.4 307.0 L104.2 304.9 L105.1 302.9 L105.9 301.0 L106.8 299.2 L107.7 297.5 L108.5 296.0 L109.4 294.7 L110.2 293.4 L111.1 292.3 L111.9 291.2 L112.8 290.2 L113.7 289.2 L114.5 288.3 L115.4 287.5 L116.2 286.7 L117.1 285.9 L118.0 285.2 L118.8 284.5 L119.7 283.8 L120.5 283.2 L121.4 282.5 L122.3 282.0 L123.1 281.4 L124.0 280.8 L124.8 280.3 L125.7 279.8 L126.6 279.4 L127.4 278.9 L128.3 278.5 L129.1 278.1 L130.0 277.7 L133.0 276.5 L136.1 275.3 L139.1 274.2 L142.2 273.1 L145.2 272.0 L148.3 271.0 L151.3 270.1 L154.3 269.3 L157.4 268.4 L160.4 267.7 L163.5 267.0 L166.5 266.3 L169.6 265.7 L172.6 265.1 L175.7 264.6 L178.7 264.1 L181.7 263.6 L184.8 263.2 L187.8 262.8 L190.9 262.4 L193.9 262.1 L197.0 261.8 L200.0 261.5 L209.0 260.8 L217.9 260.1 L226.9 259.5 L235.9 259.0 L244.8 258.6 L253.8 258.2 L262.7 257.8 L271.7 257.4 L280.7 257.0 L289.6 256.7 L298.6 256.3 L307.6 256.0 L316.5 255.7 L325.5 255.5 L334.4 255.3 L343.4 255.1 L352.4 254.9 L361.3 254.8 L370.3 254.6 L379.3 254.5 L388.2 254.4 L397.2 254.2 L406.1 254.1 L415.1 254.0 L424.1 253.9 L433.0 253.8 L442.0 253.7 L451.0 253.6 L459.9 253.6 L468.9 253.5 L477.8 253.4 L486.8 253.4 L495.8 253.3 L504.7 253.3 L513.7 253.2" fill="none" stroke="#3c4f8a" stroke-width="1.10" stroke-linejoin="round"/>
<path d="M89.6 417.8 L90.5 394.4 L91.3 380.0 L92.2 370.0 L93.0 363.1 L93.9 357.4 L94.8 351.3 L95.6 344.3 L96.5 337.8 L97.3 332.3 L98.2 327.2 L99.1 322.5 L99.9 318.3 L100.8 314.9 L101.6 312.0 L102.5 309.4 L103.4 307.1 L104.2 305.0 L105.1 303.0 L105.9 301.1 L106.8 299.3 L107.7 297.6 L108.5 296.1 L109.4 294.7 L110.2 293.5 L111.1 292.3 L111.9 291.2 L112.8 290.2 L113.7 289.3 L114.5 288.4 L115.4 287.5 L116.2 286.7 L117.1 286.0 L118.0 285.2 L118.8 284.5 L119.7 283.9 L120.5 283.2 L121.4 282.6 L122.3 282.0 L123.1 281.4 L124.0 280.9 L124.8 280.4 L125.7 279.9 L126.6 279.4 L127.4 279.0 L128.3 278.5 L129.1 278.1 L130.0 277.7 L133.0 276.5 L136.1 275.3 L139.1 274.2 L142.2 273.0 L145.2 272.0 L148.3 271.0 L151.3 270.1 L154.3 269.2 L157.4 268.4 L160.4 267.6 L163.5 266.9 L166.5 266.2 L169.6 265.6 L172.6 265.0 L175.7 264.5 L178.7 264.0 L181.7 263.5 L184.8 263.0 L187.8 262.6 L190.9 262.3 L193.9 262.0 L197.0 261.7 L200.0 261.4 L209.0 260.6 L217.9 259.9 L226.9 259.4 L235.9 258.8 L244.8 258.4 L253.8 258.0 L262.7 257.6 L271.7 257.2 L280.7 256.8 L289.6 256.5 L298.6 256.1 L307.6 255.8 L316.5 255.5 L325.5 255.3 L334.4 255.1 L343.4 254.9 L352.4 254.7 L361.3 254.5 L370.3 254.4 L379.3 254.3 L388.2 254.1 L397.2 254.0 L406.1 253.9 L415.1 253.8 L424.1 253.6 L433.0 253.5 L442.0 253.4 L451.0 253.4 L459.9 253.3 L468.9 253.2 L477.8 253.2 L486.8 253.1 L495.8 253.1 L504.7 253.0 L513.7 253.0" fill="none" stroke="#3f4988" stroke-width="1.10" stroke-linejoin="round"/>
<path d="M89.6 417.8 L90.5 394.4 L91.3 380.0 L92.2 370.2 L93.0 363.3 L93.9 357.7 L94.8 351.6 L95.6 344.5 L96.5 338.0 L97.3 332.5 L98.2 327.4 L99.1 322.7 L99.9 318.5 L100.8 315.0 L101.6 312.1 L102.5 309.5 L103.4 307.2 L104.2 305.1 L105.1 303.1 L105.9 301.1 L106.8 299.3 L107.7 297.7 L108.5 296.1 L109.4 294.8 L110.2 293.5 L111.1 292.4 L111.9 291.3 L112.8 290.3 L113.7 289.3 L114.5 288.4 L115.4 287.6 L116.2 286.8 L117.1 286.0 L118.0 285.3 L118.8 284.6 L119.7 283.9 L120.5 283.2 L121.4 282.6 L122.3 282.0 L123.1 281.4 L124.0 280.9 L124.8 280.4 L125.7 279.9 L126.6 279.4 L127.4 279.0 L128.3 278.5 L129.1 278.1 L130.0 277.8 L133.0 276.5 L136.1 275.3 L139.1 274.2 L142.2 273.0 L145.2 271.9 L148.3 270.9 L151.3 270.0 L154.3 269.1 L157.4 268.3 L160.4 267.5 L163.5 266.8 L166.5 266.1 L169.6 265.5 L172.6 264.9 L175.7 264.4 L178.7 263.8 L181.7 263.4 L184.8 262.9 L187.8 262.5 L190.9 262.2 L193.9 261.8 L197.0 261.5 L200.0 261.2 L209.0 260.5 L217.9 259.8 L226.9 259.2 L235.9 258.7 L244.8 258.2 L253.8 257.8 L262.7 257.4 L271.7 257.0 L280.7 256.6 L289.6 256.3 L298.6 255.9 L307.6 255.6 L316.5 255.3 L325.5 255.1 L334.4 254.9 L343.4 254.7 L352.4 254.5 L361.3 254.3 L370.3 254.2 L379.3 254.0 L388.2 253.9 L397.2 253.7 L406.1 253.6 L415.1 253.5 L424.1 253.4 L433.0 253.3 L442.0 253.2 L451.0 253.1 L459.9 253.1 L468.9 253.0 L477.8 252.9 L486.8 252.9 L495.8 252.8 L504.7 252.8 L513.7 252.8" fill="none" stroke="#414386" stroke-width="1.10" stroke-linejoin="round"/>
<path d="M89.6 417.8 L90.5 394.3 L91.3 380.0 L92.2 370.3 L93.0 363.6 L93.9 358.0 L94.8 351.9 L95.6 344.8 L96.5 338.3 L97.3 332.7 L98.2 327.6 L99.1 322.9 L99.9 318.6 L100.8 315.1 L101.6 312.2 L102.5 309.6 L103.4 307.3 L104.2 305.2 L105.1 303.1 L105.9 301.2 L106.8 299.4 L107.7 297.7 L108.5 296.2 L109.4 294.8 L110.2 293.6 L111.1 292.4 L111.9 291.3 L112.8 290.3 L113.7 289.3 L114.5 288.5 L115.4 287.6 L116.2 286.8 L117.1 286.0 L118.0 285.3 L118.8 284.6 L119.7 283.9 L120.5 283.3 L121.4 282.6 L122.3 282.0 L123.1 281.5 L124.0 280.9 L124.8 280.4 L125.7 279.9 L126.6 279.4 L127.4 279.0 L128.3 278.6 L129.1 278.2 L130.0 277.8 L133.0 276.5 L136.1 275.3 L139.1 274.1 L142.2 273.0 L145.2 271.9 L148.3 270.9 L151.3 269.9 L154.3 269.0 L157.4 268.2 L160.4 267.4 L163.5 266.7 L166.5 266.0 L169.6 265.4 L172.6 264.8 L175.7 264.3 L178.7 263.7 L181.7 263.2 L184.8 262.8 L187.8 262.4 L190.9 262.0 L193.9 261.7 L197.0 261.4 L200.0 261.1 L209.0 260.3 L217.9 259.6 L226.9 259.0 L235.9 258.5 L244.8 258.0 L253.8 257.6 L262.7 257.2 L271.7 256.8 L280.7 256.4 L289.6 256.1 L298.6 255.7 L307.6 255.4 L316.5 255.1 L325.5 254.8 L334.4 254.6 L343.4 254.4 L352.4 254.2 L361.3 254.1 L370.3 253.9 L379.3 253.8 L388.2 253.6 L397.2 253.5 L406.1 253.4 L415.1 253.3 L424.1 253.1 L433.0 253.0 L442.0 252.9 L451.0 252.9 L459.9 252.8 L468.9 252.7 L477.8 252.7 L486.8 252.6 L495.8 252.6 L504.7 252.5 L513.7 252.5" fill="none" stroke="#443c83" stroke-width="1.10" stroke-linejoin="round"/>
<path d="M89.6 417.8 L90.5 394.3 L91.3 380.1 L92.2 370.5 L93.0 363.8 L93.9 358.3 L94.8 352.2 L95.6 345.0 L96.5 338.5 L97.3 332.9 L98.2 327.8 L99.1 323.0 L99.9 318.7 L100.8 315.2 L101.6 312.3 L102.5 309.7 L103.4 307.4 L104.2 305.2 L105.1 303.2 L105.9 301.3 L106.8 299.5 L107.7 297.8 L108.5 296.3 L109.4 294.9 L110.2 293.6 L111.1 292.4 L111.9 291.4 L112.8 290.3 L113.7 289.4 L114.5 288.5 L115.4 287.6 L116.2 286.8 L117.1 286.1 L118.0 285.3 L118.8 284.6 L119.7 283.9 L120.5 283.3 L121.4 282.6 L122.3 282.0 L123.1 281.5 L124.0 280.9 L124.8 280.4 L125.7 279.9 L126.6 279.4 L127.4 279.0 L128.3 278.6 L129.1 278.2 L130.0 277.8 L133.0 276.5 L136.1 275.3 L139.1 274.1 L142.2 273.0 L145.2 271.8 L148.3 270.8 L151.3 269.9 L154.3 269.0 L157.4 268.1 L160.4 267.3 L163.5 266.6 L166.5 265.9 L169.6 265.3 L172.6 264.7 L175.7 264.2 L178.7 263.6 L181.7 263.1 L184.8 262.7 L187.8 262.3 L190.9 261.9 L193.9 261.6 L197.0 261.2 L200.0 260.9 L209.0 260.1 L217.9 259.4 L226.9 258.8 L235.9 258.3 L244.8 257.8 L253.8 257.4 L262.7 257.0 L271.7 256.6 L280.7 256.2 L289.6 255.8 L298.6 255.5 L307.6 255.1 L316.5 254.8 L325.5 254.6 L334.4 254.4 L343.4 254.2 L352.4 254.0 L361.3 253.8 L370.3 253.7 L379.3 253.5 L388.2 253.4 L397.2 253.3 L406.1 253.1 L415.1 253.0 L424.1 252.9 L433.0 252.8 L442.0 252.7 L451.0 252.6 L459.9 252.6 L468.9 252.5 L477.8 252.4 L486.8 252.4 L495.8 252.3 L504.7 252.3 L513.7 252.3" fill="none" stroke="#463580" stroke-width="1.10" stroke-linejoin="round"/>
<path d="M89.6 417.8 L90.5 394.3 L91.3 380.1 L92.2 370.6 L93.0 364.1 L93.9 358.6 L94.8 352.5 L95.6 345.3 L96.5 338.7 L97.3 333.1 L98.2 328.0 L99.1 323.2 L99.9 318.9 L100.8 315.3 L101.6 312.4 L102.5 309.8 L103.4 307.5 L104.2 305.3 L105.1 303.3 L105.9 301.4 L106.8 299.5 L107.7 297.9 L108.5 296.3 L109.4 294.9 L110.2 293.6 L111.1 292.5 L111.9 291.4 L112.8 290.4 L113.7 289.4 L114.5 288.5 L115.4 287.7 L116.2 286.9 L117.1 286.1 L118.0 285.4 L118.8 284.6 L119.7 284.0 L120.5 283.3 L121.4 282.7 L122.3 282.1 L123.1 281.5 L124.0 281.0 L124.8 280.4 L125.7 279.9 L126.6 279.5 L127.4 279.0 L128.3 278.6 L129.1 278.2 L130.0 277.8 L133.0 276.5 L136.1 275.3 L139.1 274.1 L142.2 272.9 L145.2 271.8 L148.3 270.7 L151.3 269.8 L154.3 268.9 L157.4 268.0 L160.4 267.2 L163.5 266.5 L166.5 265.9 L169.6 265.2 L172.6 264.6 L175.7 264.0 L178.7 263.5 L181.7 263.0 L184.8 262.6 L187.8 262.1 L190.9 261.8 L193.9 261.4 L197.0 261.1 L200.0 260.8 L209.0 260.0 L217.9 259.3 L226.9 258.7 L235.9 258.1 L244.8 257.6 L253.8 257.2 L262.7 256.8 L271.7 256.4 L280.7 256.0 L289.6 255.6 L298.6 255.3 L307.6 254.9 L316.5 254.6 L325.5 254.4 L334.4 254.2 L343.4 254.0 L352.4 253.8 L361.3 253.6 L370.3 253.4 L379.3 253.3 L388.2 253.1 L397.2 253.0 L406.1 252.9 L415.1 252.8 L424.1 252.7 L433.0 252.5 L442.0 252.4 L451.0 252.4 L459.9 252.3 L468.9 252.2 L477.8 252.2 L486.8 252.1 L495.8 252.1 L504.7 252.1 L513.7 252.0" fill="none" stroke="#472e7c" stroke-width="1.10" stroke-linejoin="round"/>
<path d="M89.6 417.8 L90.5 394.2 L91.3 380.2 L92.2 370.8 L93.0 364.3 L93.9 358.9 L94.8 352.8 L95.6 345.6 L96.5 338.9 L97.3 333.3 L98.2 328.2 L99.1 323.4 L99.9 319.0 L100.8 315.5 L101.6 312.5 L102.5 309.9 L103.4 307.6 L104.2 305.4 L105.1 303.4 L105.9 301.4 L106.8 299.6 L107.7 297.9 L108.5 296.4 L109.4 295.0 L110.2 293.7 L111.1 292.5 L111.9 291.4 L112.8 290.4 L113.7 289.5 L114.5 288.6 L115.4 287.7 L116.2 286.9 L117.1 286.1 L118.0 285.4 L118.8 284.7 L119.7 284.0 L120.5 283.3 L121.4 282.7 L122.3 282.1 L123.1 281.5 L124.0 281.0 L124.8 280.5 L125.7 280.0 L126.6 279.5 L127.4 279.0 L128.3 278.6 L129.1 278.2 L130.0 277.8 L133.0 276.5 L136.1 275.3 L139.1 274.1 L142.2 272.9 L145.2 271.8 L148.3 270.7 L151.3 269.7 L154.3 268.8 L157.4 268.0 L160.4 267.2 L163.5 266.4 L166.5 265.8 L169.6 265.1 L172.6 264.5 L175.7 263.9 L178.7 263.4 L181.7 262.9 L184.8 262.4 L187.8 262.0 L190.9 261.6 L193.9 261.3 L197.0 261.0 L200.0 260.7 L209.0 259.8 L217.9 259.1 L226.9 258.5 L235.9 257.9 L244.8 257.4 L253.8 257.0 L262.7 256.6 L271.7 256.2 L280.7 255.8 L289.6 255.4 L298.6 255.0 L307.6 254.7 L316.5 254.4 L325.5 254.2 L334.4 253.9 L343.4 253.7 L352.4 253.5 L361.3 253.4 L370.3 253.2 L379.3 253.0 L388.2 252.9 L397.2 252.8 L406.1 252.6 L415.1 252.5 L424.1 252.4 L433.0 252.3 L442.0 252.2 L451.0 252.1 L459.9 252.1 L468.9 252.0 L477.8 251.9 L486.8 251.9 L495.8 251.9 L504.7 251.8 L513.7 251.8" fill="none" stroke="#482777" stroke-width="1.10" stroke-linejoin="round"/>
<path d="M89.6 417.9 L90.5 394.2 L91.3 380.2 L92.2 370.9 L93.0 364.6 L93.9 359.2 L94.8 353.1 L95.6 345.8 L96.5 339.1 L97.3 333.5 L98.2 328.4 L99.1 323.5 L99.9 319.1 L100.8 315.6 L101.6 312.6 L102.5 310.0 L103.4 307.6 L104.2 305.5 L105.1 303.4 L105.9 301.5 L106.8 299.7 L107.7 298.0 L108.5 296.4 L109.4 295.0 L110.2 293.7 L111.1 292.6 L111.9 291.5 L112.8 290.5 L113.7 289.5 L114.5 288.6 L115.4 287.7 L116.2 286.9 L117.1 286.2 L118.0 285.4 L118.8 284.7 L119.7 284.0 L120.5 283.4 L121.4 282.7 L122.3 282.1 L123.1 281.5 L124.0 281.0 L124.8 280.5 L125.7 280.0 L126.6 279.5 L127.4 279.0 L128.3 278.6 L129.1 278.2 L130.0 277.8 L133.0 276.5 L136.1 275.3 L139.1 274.1 L142.2 272.9 L145.2 271.7 L148.3 270.6 L151.3 269.7 L154.3 268.7 L157.4 267.9 L160.4 267.1 L163.5 266.3 L166.5 265.7 L169.6 265.0 L172.6 264.4 L175.7 263.8 L178.7 263.3 L181.7 262.8 L184.8 262.3 L187.8 261.9 L190.9 261.5 L193.9 261.2 L197.0 260.8 L200.0 260.5 L209.0 259.7 L217.9 259.0 L226.9 258.3 L235.9 257.8 L244.8 257.3 L253.8 256.8 L262.7 256.4 L271.7 256.0 L280.7 255.6 L289.6 255.2 L298.6 254.8 L307.6 254.5 L316.5 254.2 L325.5 253.9 L334.4 253.7 L343.4 253.5 L352.4 253.3 L361.3 253.1 L370.3 253.0 L379.3 252.8 L388.2 252.7 L397.2 252.5 L406.1 252.4 L415.1 252.3 L424.1 252.2 L433.0 252.0 L442.0 251.9 L451.0 251.9 L459.9 251.8 L468.9 251.7 L477.8 251.7 L486.8 251.6 L495.8 251.6 L504.7 251.6 L513.7 251.6" fill="none" stroke="#482071" stroke-width="1.10" stroke-linejoin="round"/>
<path d="M89.6 417.9 L90.5 394.1 L91.3 380.3 L92.2 371.1 L93.0 364.8 L93.9 359.5 L94.8 353.4 L95.6 346.1 L96.5 339.4 L97.3 333.7 L98.2 328.6 L99.1 323.7 L99.9 319.3 L100.8 315.7 L101.6 312.7 L102.5 310.1 L103.4 307.7 L104.2 305.6 L105.1 303.5 L105.9 301.6 L106.8 299.7 L107.7 298.0 L108.5 296.5 L109.4 295.1 L110.2 293.8 L111.1 292.6 L111.9 291.5 L112.8 290.5 L113.7 289.5 L114.5 288.6 L115.4 287.8 L116.2 287.0 L117.1 286.2 L118.0 285.4 L118.8 284.7 L119.7 284.0 L120.5 283.4 L121.4 282.8 L122.3 282.1 L123.1 281.6 L124.0 281.0 L124.8 280.5 L125.7 280.0 L126.6 279.5 L127.4 279.1 L128.3 278.6 L129.1 278.2 L130.0 277.8 L133.0 276.5 L136.1 275.3 L139.1 274.1 L142.2 272.9 L145.2 271.7 L148.3 270.6 L151.3 269.6 L154.3 268.7 L157.4 267.8 L160.4 267.0 L163.5 266.2 L166.5 265.6 L169.6 264.9 L172.6 264.3 L175.7 263.7 L178.7 263.2 L181.7 262.7 L184.8 262.2 L187.8 261.8 L190.9 261.4 L193.9 261.0 L197.0 260.7 L200.0 260.4 L209.0 259.5 L217.9 258.8 L226.9 258.1 L235.9 257.6 L244.8 257.1 L253.8 256.6 L262.7 256.2 L271.7 255.8 L280.7 255.4 L289.6 255.0 L298.6 254.6 L307.6 254.3 L316.5 254.0 L325.5 253.7 L334.4 253.5 L343.4 253.3 L352.4 253.1 L361.3 252.9 L370.3 252.7 L379.3 252.6 L388.2 252.4 L397.2 252.3 L406.1 252.1 L415.1 252.0 L424.1 251.9 L433.0 251.8 L442.0 251.7 L451.0 251.6 L459.9 251.6 L468.9 251.5 L477.8 251.4 L486.8 251.4 L495.8 251.4 L504.7 251.3 L513.7 251.3" fill="none" stroke="#47186a" stroke-width="1.10" stroke-linejoin="round"/>
<path d="M89.6 417.9 L90.5 394.1 L91.3 380.3 L92.2 371.3 L93.0 365.0 L93.9 359.8 L94.8 353.7 L95.6 346.3 L96.5 339.6 L97.3 333.9 L98.2 328.8 L99.1 323.9 L99.9 319.4 L100.8 315.8 L101.6 312.8 L102.5 310.2 L103.4 307.8 L104.2 305.6 L105.1 303.6 L105.9 301.7 L106.8 299.8 L107.7 298.1 L108.5 296.5 L109.4 295.1 L110.2 293.8 L111.1 292.7 L111.9 291.6 L112.8 290.5 L113.7 289.6 L114.5 288.7 L115.4 287.8 L116.2 287.0 L117.1 286.2 L118.0 285.5 L118.8 284.8 L119.7 284.1 L120.5 283.4 L121.4 282.8 L122.3 282.2 L123.1 281.6 L124.0 281.0 L124.8 280.5 L125.7 280.0 L126.6 279.5 L127.4 279.1 L128.3 278.6 L129.1 278.2 L130.0 277.8 L133.0 276.6 L136.1 275.3 L139.1 274.1 L142.2 272.8 L145.2 271.6 L148.3 270.5 L151.3 269.5 L154.3 268.6 L157.4 267.7 L160.4 266.9 L163.5 266.2 L166.5 265.5 L169.6 264.8 L172.6 264.2 L175.7 263.6 L178.7 263.1 L181.7 262.5 L184.8 262.1 L187.8 261.6 L190.9 261.3 L193.9 260.9 L197.0 260.6 L200.0 260.2 L209.0 259.4 L217.9 258.6 L226.9 258.0 L235.9 257.4 L244.8 256.9 L253.8 256.4 L262.7 256.0 L271.7 255.6 L280.7 255.2 L289.6 254.8 L298.6 254.4 L307.6 254.1 L316.5 253.7 L325.5 253.5 L334.4 253.3 L343.4 253.0 L352.4 252.8 L361.3 252.7 L370.3 252.5 L379.3 252.3 L388.2 252.2 L397.2 252.0 L406.1 251.9 L415.1 251.8 L424.1 251.7 L433.0 251.5 L442.0 251.4 L451.0 251.4 L459.9 251.3 L468.9 251.2 L477.8 251.2 L486.8 251.2 L495.8 251.1 L504.7 251.1 L513.7 251.1" fill="none" stroke="#471163" stroke-width="1.10" stroke-linejoin="round"/>
<path d="M89.6 417.9 L90.5 394.1 L91.3 380.4 L92.2 371.4 L93.0 365.3 L93.9 360.1 L94.8 354.0 L95.6 346.6 L96.5 339.8 L97.3 334.1 L98.2 329.0 L99.1 324.0 L99.9 319.6 L100.8 315.9 L101.6 312.9 L102.5 310.3 L103.4 307.9 L104.2 305.7 L105.1 303.7 L105.9 301.7 L106.8 299.9 L107.7 298.2 L108.5 296.6 L109.4 295.2 L110.2 293.9 L111.1 292.7 L111.9 291.6 L112.8 290.6 L113.7 289.6 L114.5 288.7 L115.4 287.8 L116.2 287.0 L117.1 286.2 L118.0 285.5 L118.8 284.8 L119.7 284.1 L120.5 283.4 L121.4 282.8 L122.3 282.2 L123.1 281.6 L124.0 281.1 L124.8 280.5 L125.7 280.0 L126.6 279.5 L127.4 279.1 L128.3 278.7 L129.1 278.3 L130.0 277.9 L133.0 276.6 L136.1 275.3 L139.1 274.1 L142.2 272.8 L145.2 271.6 L148.3 270.5 L151.3 269.4 L154.3 268.5 L157.4 267.6 L160.4 266.8 L163.5 266.1 L166.5 265.4 L169.6 264.7 L172.6 264.1 L175.7 263.5 L178.7 263.0 L181.7 262.4 L184.8 261.9 L187.8 261.5 L190.9 261.1 L193.9 260.8 L197.0 260.4 L200.0 260.1 L209.0 259.2 L217.9 258.5 L226.9 257.8 L235.9 257.2 L244.8 256.7 L253.8 256.2 L262.7 255.8 L271.7 255.4 L280.7 255.0 L289.6 254.6 L298.6 254.2 L307.6 253.8 L316.5 253.5 L325.5 253.3 L334.4 253.0 L343.4 252.8 L352.4 252.6 L361.3 252.4 L370.3 252.2 L379.3 252.1 L388.2 251.9 L397.2 251.8 L406.1 251.7 L415.1 251.5 L424.1 251.4 L433.0 251.3 L442.0 251.2 L451.0 251.1 L459.9 251.1 L468.9 251.0 L477.8 251.0 L486.8 250.9 L495.8 250.9 L504.7 250.8 L513.7 250.8" fill="none" stroke="#45095b" stroke-width="1.10" stroke-linejoin="round"/>
<path d="M89.6 417.9 L90.5 394.0 L91.3 380.4 L92.2 371.6 L93.0 365.5 L93.9 360.4 L94.8 354.3 L95.6 346.8 L96.5 340.0 L97.3 334.3 L98.2 329.2 L99.1 324.2 L99.9 319.7 L100.8 316.0 L101.6 313.0 L102.5 310.4 L103.4 308.0 L104.2 305.8 L105.1 303.8 L105.9 301.8 L106.8 299.9 L107.7 298.2 L108.5 296.6 L109.4 295.2 L110.2 293.9 L111.1 292.7 L111.9 291.6 L112.8 290.6 L113.7 289.6 L114.5 288.7 L115.4 287.9 L116.2 287.0 L117.1 286.3 L118.0 285.5 L118.8 284.8 L119.7 284.1 L120.5 283.5 L121.4 282.8 L122.3 282.2 L123.1 281.6 L124.0 281.1 L124.8 280.6 L125.7 280.0 L126.6 279.6 L127.4 279.1 L128.3 278.7 L129.1 278.3 L130.0 277.9 L133.0 276.6 L136.1 275.3 L139.1 274.1 L142.2 272.8 L145.2 271.5 L148.3 270.4 L151.3 269.4 L154.3 268.4 L157.4 267.5 L160.4 266.7 L163.5 266.0 L166.5 265.3 L169.6 264.6 L172.6 264.0 L175.7 263.4 L178.7 262.8 L181.7 262.3 L184.8 261.8 L187.8 261.4 L190.9 261.0 L193.9 260.6 L197.0 260.3 L200.0 259.9 L209.0 259.1 L217.9 258.3 L226.9 257.6 L235.9 257.0 L244.8 256.5 L253.8 256.0 L262.7 255.6 L271.7 255.2 L280.7 254.8 L289.6 254.4 L298.6 254.0 L307.6 253.6 L316.5 253.3 L325.5 253.0 L334.4 252.8 L343.4 252.6 L352.4 252.4 L361.3 252.2 L370.3 252.0 L379.3 251.8 L388.2 251.7 L397.2 251.5 L406.1 251.4 L415.1 251.3 L424.1 251.2 L433.0 251.0 L442.0 250.9 L451.0 250.9 L459.9 250.8 L468.9 250.8 L477.8 250.7 L486.8 250.7 L495.8 250.6 L504.7 250.6 L513.7 250.6" fill="none" stroke="#440154" stroke-width="1.10" stroke-linejoin="round"/>
<path d="M89.6 415.5 L90.5 413.9 L91.3 412.2 L92.2 410.5 L93.0 408.8 L93.9 407.0 L94.8 405.2 L95.6 403.4 L96.5 401.5 L97.3 399.6 L98.2 397.6 L99.1 395.6 L99.9 393.6 L100.8 391.7 L101.6 389.8 L102.5 387.9 L103.4 386.1 L104.2 384.2 L105.1 382.4 L105.9 380.6 L106.8 378.8 L107.7 377.1 L108.5 375.5 L109.4 373.9 L110.2 372.4 L111.1 370.9 L111.9 369.4 L112.8 368.0 L113.7 366.5 L114.5 365.2 L115.4 363.8 L116.2 362.4 L117.1 361.1 L118.0 359.8 L118.8 358.5 L119.7 357.2 L120.5 355.9 L121.4 354.7 L122.3 353.5 L123.1 352.3 L124.0 351.2 L124.8 350.2 L125.7 349.1 L126.6 348.1 L127.4 347.1 L128.3 346.1 L129.1 345.2 L130.0 344.3 L133.0 341.3 L136.1 338.6 L139.1 336.2 L142.2 334.2 L145.2 332.4 L148.3 330.6 L151.3 328.7 L154.3 326.7 L157.4 325.1 L160.4 323.7 L163.5 322.4 L166.5 321.0 L169.6 319.5 L172.6 318.2 L175.7 317.0 L178.7 315.8 L181.7 314.6 L184.8 313.4 L187.8 312.3 L190.9 311.2 L193.9 310.1 L197.0 309.0 L200.0 308.0 L209.0 305.1 L217.9 302.5 L226.9 300.3 L235.9 298.4 L244.8 296.8 L253.8 295.3 L262.7 293.9 L271.7 292.6 L280.7 291.4 L289.6 290.2 L298.6 289.1 L307.6 288.1 L316.5 287.1 L325.5 286.2 L334.4 285.4 L343.4 284.7 L352.4 284.0 L361.3 283.4 L370.3 282.8 L379.3 282.2 L388.2 281.7 L397.2 281.2 L406.1 280.7 L415.1 280.2 L424.1 279.8 L433.0 279.4 L442.0 279.0 L451.0 278.6 L459.9 278.2 L468.9 277.8 L477.8 277.3 L486.8 276.9 L495.8 276.5 L504.7 276.0 L513.7 275.6" fill="none" stroke="#fde725" stroke-width="1.10" stroke-linejoin="round"/>
<path d="M89.6 415.5 L90.5 413.8 L91.3 412.2 L92.2 410.5 L93.0 408.7 L93.9 407.0 L94.8 405.2 L95.6 403.3 L96.5 401.4 L97.3 399.5 L98.2 397.5 L99.1 395.5 L99.9 393.5 L100.8 391.6 L101.6 389.7 L102.5 387.8 L103.4 386.0 L104.2 384.1 L105.1 382.3 L105.9 380.5 L106.8 378.7 L107.7 377.0 L108.5 375.4 L109.4 373.8 L110.2 372.3 L111.1 370.8 L111.9 369.3 L112.8 367.8 L113.7 366.4 L114.5 365.0 L115.4 363.7 L116.2 362.3 L117.1 361.0 L118.0 359.7 L118.8 358.4 L119.7 357.1 L120.5 355.8 L121.4 354.6 L122.3 353.4 L123.1 352.3 L124.0 351.1 L124.8 350.1 L125.7 349.0 L126.6 348.0 L127.4 347.0 L128.3 346.1 L129.1 345.1 L130.0 344.2 L133.0 341.2 L136.1 338.6 L139.1 336.2 L142.2 334.1 L145.2 332.4 L148.3 330.6 L151.3 328.6 L154.3 326.7 L157.4 325.0 L160.4 323.7 L163.5 322.4 L166.5 321.0 L169.6 319.5 L172.6 318.2 L175.7 317.0 L178.7 315.8 L181.7 314.7 L184.8 313.5 L187.8 312.3 L190.9 311.3 L193.9 310.2 L197.0 309.1 L200.0 308.1 L209.0 305.2 L217.9 302.7 L226.9 300.4 L235.9 298.6 L244.8 297.0 L253.8 295.5 L262.7 294.1 L271.7 292.8 L280.7 291.6 L289.6 290.5 L298.6 289.4 L307.6 288.3 L316.5 287.4 L325.5 286.5 L334.4 285.7 L343.4 285.0 L352.4 284.3 L361.3 283.7 L370.3 283.1 L379.3 282.5 L388.2 282.0 L397.2 281.5 L406.1 281.0 L415.1 280.6 L424.1 280.1 L433.0 279.7 L442.0 279.4 L451.0 279.0 L459.9 278.5 L468.9 278.1 L477.8 277.7 L486.8 277.3 L495.8 276.8 L504.7 276.4 L513.7 276.0" fill="none" stroke="#f0e51f" stroke-width="1.10" stroke-linejoin="round"/>
<path d="M89.6 415.5 L90.5 413.8 L91.3 412.1 L92.2 410.4 L93.0 408.7 L93.9 406.9 L94.8 405.1 L95.6 403.2 L96.5 401.3 L97.3 399.4 L98.2 397.4 L99.1 395.4 L99.9 393.4 L100.8 391.5 L101.6 389.6 L102.5 387.7 L103.4 385.8 L104.2 384.0 L105.1 382.1 L105.9 380.3 L106.8 378.6 L107.7 376.9 L108.5 375.3 L109.4 373.7 L110.2 372.2 L111.1 370.7 L111.9 369.2 L112.8 367.7 L113.7 366.3 L114.5 364.9 L115.4 363.6 L116.2 362.2 L117.1 360.9 L118.0 359.6 L118.8 358.3 L119.7 357.0 L120.5 355.7 L121.4 354.5 L122.3 353.3 L123.1 352.2 L124.0 351.1 L124.8 350.0 L125.7 349.0 L126.6 348.0 L127.4 347.0 L128.3 346.0 L129.1 345.1 L130.0 344.2 L133.0 341.2 L136.1 338.5 L139.1 336.2 L142.2 334.1 L145.2 332.3 L148.3 330.6 L151.3 328.6 L154.3 326.7 L157.4 325.0 L160.4 323.6 L163.5 322.4 L166.5 321.0 L169.6 319.5 L172.6 318.2 L175.7 317.0 L178.7 315.9 L181.7 314.7 L184.8 313.5 L187.8 312.4 L190.9 311.3 L193.9 310.2 L197.0 309.2 L200.0 308.1 L209.0 305.3 L217.9 302.8 L226.9 300.6 L235.9 298.7 L244.8 297.1 L253.8 295.7 L262.7 294.3 L271.7 293.0 L280.7 291.8 L289.6 290.7 L298.6 289.6 L307.6 288.6 L316.5 287.6 L325.5 286.8 L334.4 286.0 L343.4 285.3 L352.4 284.6 L361.3 284.0 L370.3 283.4 L379.3 282.8 L388.2 282.3 L397.2 281.8 L406.1 281.3 L415.1 280.9 L424.1 280.5 L433.0 280.1 L442.0 279.7 L451.0 279.3 L459.9 278.9 L468.9 278.5 L477.8 278.0 L486.8 277.6 L495.8 277.2 L504.7 276.8 L513.7 276.4" fill="none" stroke="#e3e41a" stroke-width="1.10" stroke-linejoin="round"/>
<path d="M89.6 415.5 L90.5 413.8 L91.3 412.1 L92.2 410.4 L93.0 408.6 L93.9 406.8 L94.8 405.0 L95.6 403.1 L96.5 401.2 L97.3 399.3 L98.2 397.3 L99.1 395.3 L99.9 393.3 L100.8 391.3 L101.6 389.5 L102.5 387.6 L103.4 385.7 L104.2 383.9 L105.1 382.0 L105.9 380.2 L106.8 378.5 L107.7 376.8 L108.5 375.2 L109.4 373.6 L110.2 372.0 L111.1 370.5 L111.9 369.1 L112.8 367.6 L113.7 366.2 L114.5 364.8 L115.4 363.5 L116.2 362.1 L117.1 360.8 L118.0 359.5 L118.8 358.2 L119.7 356.9 L120.5 355.6 L121.4 354.4 L122.3 353.2 L123.1 352.1 L124.0 351.0 L124.8 349.9 L125.7 348.9 L126.6 347.9 L127.4 346.9 L128.3 345.9 L129.1 345.0 L130.0 344.1 L133.0 341.1 L136.1 338.5 L139.1 336.1 L142.2 334.1 L145.2 332.3 L148.3 330.5 L151.3 328.6 L154.3 326.6 L157.4 325.0 L160.4 323.6 L163.5 322.3 L166.5 320.9 L169.6 319.5 L172.6 318.2 L175.7 317.0 L178.7 315.9 L181.7 314.7 L184.8 313.6 L187.8 312.5 L190.9 311.4 L193.9 310.3 L197.0 309.3 L200.0 308.2 L209.0 305.4 L217.9 302.9 L226.9 300.7 L235.9 298.9 L244.8 297.3 L253.8 295.8 L262.7 294.5 L271.7 293.2 L280.7 292.1 L289.6 290.9 L298.6 289.9 L307.6 288.8 L316.5 287.9 L325.5 287.1 L334.4 286.3 L343.4 285.6 L352.4 284.9 L361.3 284.3 L370.3 283.7 L379.3 283.2 L388.2 282.6 L397.2 282.1 L406.1 281.7 L415.1 281.2 L424.1 280.8 L433.0 280.4 L442.0 280.0 L451.0 279.6 L459.9 279.2 L468.9 278.8 L477.8 278.4 L486.8 278.0 L495.8 277.6 L504.7 277.1 L513.7 276.7" fill="none" stroke="#d5e21c" stroke-width="1.10" stroke-linejoin="round"/>
<path d="M89.6 415.5 L90.5 413.8 L91.3 412.1 L92.2 410.3 L93.0 408.5 L93.9 406.7 L94.8 404.9 L95.6 403.0 L96.5 401.1 L97.3 399.2 L98.2 397.2 L99.1 395.2 L99.9 393.2 L100.8 391.2 L101.6 389.3 L102.5 387.5 L103.4 385.6 L104.2 383.7 L105.1 381.9 L105.9 380.1 L106.8 378.4 L107.7 376.7 L108.5 375.0 L109.4 373.5 L110.2 371.9 L111.1 370.4 L111.9 369.0 L112.8 367.5 L113.7 366.1 L114.5 364.7 L115.4 363.4 L116.2 362.0 L117.1 360.7 L118.0 359.4 L118.8 358.1 L119.7 356.8 L120.5 355.5 L121.4 354.3 L122.3 353.1 L123.1 352.0 L124.0 350.9 L124.8 349.9 L125.7 348.8 L126.6 347.8 L127.4 346.8 L128.3 345.9 L129.1 345.0 L130.0 344.1 L133.0 341.1 L136.1 338.5 L139.1 336.1 L142.2 334.0 L145.2 332.3 L148.3 330.5 L151.3 328.5 L154.3 326.6 L157.4 325.0 L160.4 323.6 L163.5 322.3 L166.5 320.9 L169.6 319.5 L172.6 318.2 L175.7 317.0 L178.7 315.9 L181.7 314.8 L184.8 313.6 L187.8 312.5 L190.9 311.5 L193.9 310.4 L197.0 309.3 L200.0 308.3 L209.0 305.5 L217.9 303.0 L226.9 300.8 L235.9 299.1 L244.8 297.5 L253.8 296.0 L262.7 294.7 L271.7 293.5 L280.7 292.3 L289.6 291.2 L298.6 290.1 L307.6 289.1 L316.5 288.2 L325.5 287.3 L334.4 286.6 L343.4 285.9 L352.4 285.2 L361.3 284.6 L370.3 284.0 L379.3 283.5 L388.2 283.0 L397.2 282.5 L406.1 282.0 L415.1 281.5 L424.1 281.1 L433.0 280.7 L442.0 280.4 L451.0 280.0 L459.9 279.6 L468.9 279.2 L477.8 278.8 L486.8 278.3 L495.8 277.9 L504.7 277.5 L513.7 277.1" fill="none" stroke="#c6e022" stroke-width="1.10" stroke-linejoin="round"/>
<path d="M89.6 415.4 L90.5 413.7 L91.3 412.0 L92.2 410.3 L93.0 408.5 L93.9 406.7 L94.8 404.8 L95.6 403.0 L96.5 401.0 L97.3 399.0 L98.2 397.1 L99.1 395.1 L99.9 393.1 L100.8 391.1 L101.6 389.2 L102.5 387.3 L103.4 385.5 L104.2 383.6 L105.1 381.8 L105.9 380.0 L106.8 378.2 L107.7 376.6 L108.5 374.9 L109.4 373.4 L110.2 371.8 L111.1 370.3 L111.9 368.9 L112.8 367.4 L113.7 366.0 L114.5 364.6 L115.4 363.3 L116.2 361.9 L117.1 360.6 L118.0 359.3 L118.8 358.0 L119.7 356.7 L120.5 355.4 L121.4 354.2 L122.3 353.1 L123.1 351.9 L124.0 350.8 L124.8 349.8 L125.7 348.8 L126.6 347.8 L127.4 346.8 L128.3 345.8 L129.1 344.9 L130.0 344.0 L133.0 341.0 L136.1 338.4 L139.1 336.1 L142.2 334.0 L145.2 332.2 L148.3 330.5 L151.3 328.5 L154.3 326.6 L157.4 324.9 L160.4 323.6 L163.5 322.3 L166.5 320.9 L169.6 319.5 L172.6 318.2 L175.7 317.1 L178.7 315.9 L181.7 314.8 L184.8 313.7 L187.8 312.6 L190.9 311.5 L193.9 310.5 L197.0 309.4 L200.0 308.4 L209.0 305.6 L217.9 303.1 L226.9 301.0 L235.9 299.2 L244.8 297.6 L253.8 296.2 L262.7 294.9 L271.7 293.7 L280.7 292.5 L289.6 291.4 L298.6 290.3 L307.6 289.4 L316.5 288.4 L325.5 287.6 L334.4 286.9 L343.4 286.2 L352.4 285.5 L361.3 284.9 L370.3 284.3 L379.3 283.8 L388.2 283.3 L397.2 282.8 L406.1 282.3 L415.1 281.9 L424.1 281.5 L433.0 281.1 L442.0 280.7 L451.0 280.3 L459.9 279.9 L468.9 279.5 L477.8 279.1 L486.8 278.7 L495.8 278.3 L504.7 277.9 L513.7 277.5" fill="none" stroke="#b7de2a" stroke-width="1.10" stroke-linejoin="round"/>
<path d="M89.6 415.4 L90.5 413.7 L91.3 412.0 L92.2 410.2 L93.0 408.4 L93.9 406.6 L94.8 404.7 L95.6 402.9 L96.5 400.9 L97.3 398.9 L98.2 396.9 L99.1 394.9 L99.9 393.0 L100.8 391.0 L101.6 389.1 L102.5 387.2 L103.4 385.3 L104.2 383.5 L105.1 381.7 L105.9 379.9 L106.8 378.1 L107.7 376.4 L108.5 374.8 L109.4 373.2 L110.2 371.7 L111.1 370.2 L111.9 368.7 L112.8 367.3 L113.7 365.9 L114.5 364.5 L115.4 363.1 L116.2 361.8 L117.1 360.5 L118.0 359.2 L118.8 357.9 L119.7 356.6 L120.5 355.3 L121.4 354.1 L122.3 353.0 L123.1 351.8 L124.0 350.8 L124.8 349.7 L125.7 348.7 L126.6 347.7 L127.4 346.7 L128.3 345.8 L129.1 344.8 L130.0 344.0 L133.0 341.0 L136.1 338.4 L139.1 336.0 L142.2 334.0 L145.2 332.2 L148.3 330.4 L151.3 328.5 L154.3 326.6 L157.4 324.9 L160.4 323.6 L163.5 322.3 L166.5 320.9 L169.6 319.5 L172.6 318.3 L175.7 317.1 L178.7 315.9 L181.7 314.8 L184.8 313.7 L187.8 312.6 L190.9 311.6 L193.9 310.5 L197.0 309.5 L200.0 308.5 L209.0 305.7 L217.9 303.2 L226.9 301.1 L235.9 299.4 L244.8 297.8 L253.8 296.4 L262.7 295.1 L271.7 293.9 L280.7 292.7 L289.6 291.6 L298.6 290.6 L307.6 289.6 L316.5 288.7 L325.5 287.9 L334.4 287.2 L343.4 286.5 L352.4 285.8 L361.3 285.2 L370.3 284.7 L379.3 284.1 L388.2 283.6 L397.2 283.1 L406.1 282.6 L415.1 282.2 L424.1 281.8 L433.0 281.4 L442.0 281.0 L451.0 280.6 L459.9 280.3 L468.9 279.9 L477.8 279.5 L486.8 279.1 L495.8 278.7 L504.7 278.3 L513.7 277.9" fill="none" stroke="#a8db33" stroke-width="1.10" stroke-linejoin="round"/>
<path d="M89.6 415.4 L90.5 413.7 L91.3 411.9 L92.2 410.2 L93.0 408.4 L93.9 406.5 L94.8 404.7 L95.6 402.8 L96.5 400.8 L97.3 398.8 L98.2 396.8 L99.1 394.8 L99.9 392.8 L100.8 390.9 L101.6 389.0 L102.5 387.1 L103.4 385.2 L104.2 383.4 L105.1 381.5 L105.9 379.7 L106.8 378.0 L107.7 376.3 L108.5 374.7 L109.4 373.1 L110.2 371.6 L111.1 370.1 L111.9 368.6 L112.8 367.2 L113.7 365.8 L114.5 364.4 L115.4 363.0 L116.2 361.7 L117.1 360.4 L118.0 359.0 L118.8 357.8 L119.7 356.5 L120.5 355.3 L121.4 354.1 L122.3 352.9 L123.1 351.8 L124.0 350.7 L124.8 349.6 L125.7 348.6 L126.6 347.6 L127.4 346.7 L128.3 345.7 L129.1 344.8 L130.0 343.9 L133.0 341.0 L136.1 338.3 L139.1 336.0 L142.2 333.9 L145.2 332.2 L148.3 330.4 L151.3 328.5 L154.3 326.5 L157.4 324.9 L160.4 323.6 L163.5 322.3 L166.5 320.9 L169.6 319.5 L172.6 318.3 L175.7 317.1 L178.7 316.0 L181.7 314.8 L184.8 313.8 L187.8 312.7 L190.9 311.6 L193.9 310.6 L197.0 309.6 L200.0 308.6 L209.0 305.8 L217.9 303.4 L226.9 301.3 L235.9 299.5 L244.8 298.0 L253.8 296.6 L262.7 295.3 L271.7 294.1 L280.7 292.9 L289.6 291.9 L298.6 290.8 L307.6 289.9 L316.5 289.0 L325.5 288.2 L334.4 287.5 L343.4 286.8 L352.4 286.1 L361.3 285.5 L370.3 285.0 L379.3 284.4 L388.2 283.9 L397.2 283.4 L406.1 283.0 L415.1 282.5 L424.1 282.1 L433.0 281.7 L442.0 281.4 L451.0 281.0 L459.9 280.6 L468.9 280.2 L477.8 279.8 L486.8 279.4 L495.8 279.0 L504.7 278.6 L513.7 278.2" fill="none" stroke="#9ad93d" stroke-width="1.10" stroke-linejoin="round"/>
<path d="M89.6 415.4 L90.5 413.7 L91.3 411.9 L92.2 410.1 L93.0 408.3 L93.9 406.5 L94.8 404.6 L95.6 402.7 L96.5 400.7 L97.3 398.7 L98.2 396.7 L99.1 394.7 L99.9 392.7 L100.8 390.8 L101.6 388.9 L102.5 387.0 L103.4 385.1 L104.2 383.2 L105.1 381.4 L105.9 379.6 L106.8 377.9 L107.7 376.2 L108.5 374.6 L109.4 373.0 L110.2 371.5 L111.1 370.0 L111.9 368.5 L112.8 367.1 L113.7 365.7 L114.5 364.3 L115.4 362.9 L116.2 361.6 L117.1 360.3 L118.0 358.9 L118.8 357.7 L119.7 356.4 L120.5 355.2 L121.4 354.0 L122.3 352.8 L123.1 351.7 L124.0 350.6 L124.8 349.6 L125.7 348.5 L126.6 347.6 L127.4 346.6 L128.3 345.7 L129.1 344.7 L130.0 343.8 L133.0 340.9 L136.1 338.3 L139.1 336.0 L142.2 333.9 L145.2 332.1 L148.3 330.4 L151.3 328.4 L154.3 326.5 L157.4 324.9 L160.4 323.5 L163.5 322.3 L166.5 320.9 L169.6 319.5 L172.6 318.3 L175.7 317.1 L178.7 316.0 L181.7 314.9 L184.8 313.8 L187.8 312.7 L190.9 311.7 L193.9 310.7 L197.0 309.7 L200.0 308.6 L209.0 305.9 L217.9 303.5 L226.9 301.4 L235.9 299.7 L244.8 298.1 L253.8 296.7 L262.7 295.5 L271.7 294.3 L280.7 293.2 L289.6 292.1 L298.6 291.1 L307.6 290.1 L316.5 289.3 L325.5 288.5 L334.4 287.7 L343.4 287.1 L352.4 286.4 L361.3 285.8 L370.3 285.3 L379.3 284.7 L388.2 284.2 L397.2 283.8 L406.1 283.3 L415.1 282.9 L424.1 282.5 L433.0 282.1 L442.0 281.7 L451.0 281.3 L459.9 280.9 L468.9 280.5 L477.8 280.2 L486.8 279.8 L495.8 279.4 L504.7 279.0 L513.7 278.6" fill="none" stroke="#8bd546" stroke-width="1.10" stroke-linejoin="round"/>
<path d="M89.6 415.4 L90.5 413.7 L91.3 411.9 L92.2 410.1 L93.0 408.2 L93.9 406.4 L94.8 404.5 L95.6 402.6 L96.5 400.6 L97.3 398.6 L98.2 396.6 L99.1 394.6 L99.9 392.6 L100.8 390.6 L101.6 388.7 L102.5 386.8 L103.4 385.0 L104.2 383.1 L105.1 381.3 L105.9 379.5 L106.8 377.8 L107.7 376.1 L108.5 374.5 L109.4 372.9 L110.2 371.4 L111.1 369.9 L111.9 368.4 L112.8 367.0 L113.7 365.6 L114.5 364.2 L115.4 362.8 L116.2 361.5 L117.1 360.2 L118.0 358.8 L118.8 357.6 L119.7 356.3 L120.5 355.1 L121.4 353.9 L122.3 352.7 L123.1 351.6 L124.0 350.5 L124.8 349.5 L125.7 348.5 L126.6 347.5 L127.4 346.5 L128.3 345.6 L129.1 344.7 L130.0 343.8 L133.0 340.9 L136.1 338.3 L139.1 335.9 L142.2 333.9 L145.2 332.1 L148.3 330.3 L151.3 328.4 L154.3 326.5 L157.4 324.9 L160.4 323.5 L163.5 322.3 L166.5 320.9 L169.6 319.5 L172.6 318.3 L175.7 317.1 L178.7 316.0 L181.7 314.9 L184.8 313.8 L187.8 312.8 L190.9 311.8 L193.9 310.8 L197.0 309.7 L200.0 308.7 L209.0 306.0 L217.9 303.6 L226.9 301.5 L235.9 299.8 L244.8 298.3 L253.8 296.9 L262.7 295.7 L271.7 294.5 L280.7 293.4 L289.6 292.3 L298.6 291.3 L307.6 290.4 L316.5 289.5 L325.5 288.7 L334.4 288.0 L343.4 287.4 L352.4 286.7 L361.3 286.2 L370.3 285.6 L379.3 285.1 L388.2 284.6 L397.2 284.1 L406.1 283.6 L415.1 283.2 L424.1 282.8 L433.0 282.4 L442.0 282.0 L451.0 281.7 L459.9 281.3 L468.9 280.9 L477.8 280.5 L486.8 280.1 L495.8 279.7 L504.7 279.4 L513.7 279.0" fill="none" stroke="#7dd24f" stroke-width="1.10" stroke-linejoin="round"/>
<path d="M89.6 415.4 L90.5 413.6 L91.3 411.8 L92.2 410.0 L93.0 408.2 L93.9 406.3 L94.8 404.4 L95.6 402.5 L96.5 400.5 L97.3 398.5 L98.2 396.5 L99.1 394.5 L99.9 392.5 L100.8 390.5 L101.6 388.6 L102.5 386.7 L103.4 384.8 L104.2 383.0 L105.1 381.2 L105.9 379.4 L106.8 377.7 L107.7 376.0 L108.5 374.4 L109.4 372.8 L110.2 371.3 L111.1 369.8 L111.9 368.3 L112.8 366.9 L113.7 365.5 L114.5 364.1 L115.4 362.7 L116.2 361.4 L117.1 360.0 L118.0 358.7 L118.8 357.4 L119.7 356.2 L120.5 355.0 L121.4 353.8 L122.3 352.6 L123.1 351.5 L124.0 350.4 L124.8 349.4 L125.7 348.4 L126.6 347.4 L127.4 346.5 L128.3 345.5 L129.1 344.6 L130.0 343.7 L133.0 340.8 L136.1 338.2 L139.1 335.9 L142.2 333.8 L145.2 332.1 L148.3 330.3 L151.3 328.4 L154.3 326.5 L157.4 324.8 L160.4 323.5 L163.5 322.2 L166.5 320.9 L169.6 319.5 L172.6 318.3 L175.7 317.1 L178.7 316.0 L181.7 314.9 L184.8 313.9 L187.8 312.9 L190.9 311.8 L193.9 310.8 L197.0 309.8 L200.0 308.8 L209.0 306.1 L217.9 303.7 L226.9 301.7 L235.9 300.0 L244.8 298.5 L253.8 297.1 L262.7 295.9 L271.7 294.7 L280.7 293.6 L289.6 292.6 L298.6 291.6 L307.6 290.7 L316.5 289.8 L325.5 289.0 L334.4 288.3 L343.4 287.7 L352.4 287.0 L361.3 286.5 L370.3 285.9 L379.3 285.4 L388.2 284.9 L397.2 284.4 L406.1 284.0 L415.1 283.5 L424.1 283.1 L433.0 282.7 L442.0 282.4 L451.0 282.0 L459.9 281.6 L468.9 281.2 L477.8 280.9 L486.8 280.5 L495.8 280.1 L504.7 279.7 L513.7 279.4" fill="none" stroke="#70ce57" stroke-width="1.10" stroke-linejoin="round"/>
<path d="M89.6 415.4 L90.5 413.6 L91.3 411.8 L92.2 410.0 L93.0 408.1 L93.9 406.2 L94.8 404.3 L95.6 402.4 L96.5 400.4 L97.3 398.4 L98.2 396.4 L99.1 394.4 L99.9 392.4 L100.8 390.4 L101.6 388.5 L102.5 386.6 L103.4 384.7 L104.2 382.9 L105.1 381.0 L105.9 379.3 L106.8 377.5 L107.7 375.9 L108.5 374.2 L109.4 372.7 L110.2 371.1 L111.1 369.7 L111.9 368.2 L112.8 366.8 L113.7 365.4 L114.5 364.0 L115.4 362.6 L116.2 361.3 L117.1 359.9 L118.0 358.6 L118.8 357.3 L119.7 356.1 L120.5 354.9 L121.4 353.7 L122.3 352.5 L123.1 351.4 L124.0 350.4 L124.8 349.3 L125.7 348.3 L126.6 347.4 L127.4 346.4 L128.3 345.5 L129.1 344.6 L130.0 343.7 L133.0 340.8 L136.1 338.2 L139.1 335.8 L142.2 333.8 L145.2 332.0 L148.3 330.2 L151.3 328.3 L154.3 326.4 L157.4 324.8 L160.4 323.5 L163.5 322.2 L166.5 320.9 L169.6 319.5 L172.6 318.3 L175.7 317.2 L178.7 316.1 L181.7 315.0 L184.8 313.9 L187.8 312.9 L190.9 311.9 L193.9 310.9 L197.0 309.9 L200.0 308.9 L209.0 306.2 L217.9 303.8 L226.9 301.8 L235.9 300.1 L244.8 298.7 L253.8 297.3 L262.7 296.0 L271.7 294.9 L280.7 293.8 L289.6 292.8 L298.6 291.8 L307.6 290.9 L316.5 290.1 L325.5 289.3 L334.4 288.6 L343.4 288.0 L352.4 287.4 L361.3 286.8 L370.3 286.2 L379.3 285.7 L388.2 285.2 L397.2 284.7 L406.1 284.3 L415.1 283.9 L424.1 283.5 L433.0 283.1 L442.0 282.7 L451.0 282.3 L459.9 282.0 L468.9 281.6 L477.8 281.2 L486.8 280.8 L495.8 280.5 L504.7 280.1 L513.7 279.7" fill="none" stroke="#64cb5e" stroke-width="1.10" stroke-linejoin="round"/>
<path d="M89.6 415.4 L90.5 413.6 L91.3 411.8 L92.2 409.9 L93.0 408.1 L93.9 406.2 L94.8 404.3 L95.6 402.3 L96.5 400.3 L97.3 398.3 L98.2 396.3 L99.1 394.3 L99.9 392.3 L100.8 390.3 L101.6 388.4 L102.5 386.5 L103.4 384.6 L104.2 382.7 L105.1 380.9 L105.9 379.1 L106.8 377.4 L107.7 375.7 L108.5 374.1 L109.4 372.6 L110.2 371.0 L111.1 369.5 L111.9 368.1 L112.8 366.7 L113.7 365.3 L114.5 363.9 L115.4 362.5 L116.2 361.2 L117.1 359.8 L118.0 358.5 L118.8 357.2 L119.7 356.0 L120.5 354.8 L121.4 353.6 L122.3 352.4 L123.1 351.3 L124.0 350.3 L124.8 349.3 L125.7 348.3 L126.6 347.3 L127.4 346.3 L128.3 345.4 L129.1 344.5 L130.0 343.6 L133.0 340.7 L136.1 338.1 L139.1 335.8 L142.2 333.8 L145.2 332.0 L148.3 330.2 L151.3 328.3 L154.3 326.4 L157.4 324.8 L160.4 323.5 L163.5 322.2 L166.5 320.9 L169.6 319.5 L172.6 318.3 L175.7 317.2 L178.7 316.1 L181.7 315.0 L184.8 314.0 L187.8 313.0 L190.9 312.0 L193.9 311.0 L197.0 310.0 L200.0 309.0 L209.0 306.3 L217.9 304.0 L226.9 301.9 L235.9 300.3 L244.8 298.8 L253.8 297.5 L262.7 296.2 L271.7 295.1 L280.7 294.0 L289.6 293.0 L298.6 292.1 L307.6 291.2 L316.5 290.4 L325.5 289.6 L334.4 288.9 L343.4 288.3 L352.4 287.7 L361.3 287.1 L370.3 286.5 L379.3 286.0 L388.2 285.5 L397.2 285.1 L406.1 284.6 L415.1 284.2 L424.1 283.8 L433.0 283.4 L442.0 283.0 L451.0 282.7 L459.9 282.3 L468.9 281.9 L477.8 281.6 L486.8 281.2 L495.8 280.8 L504.7 280.5 L513.7 280.1" fill="none" stroke="#58c765" stroke-width="1.10" stroke-linejoin="round"/>
<path d="M89.6 415.4 L90.5 413.6 L91.3 411.7 L92.2 409.9 L93.0 408.0 L93.9 406.1 L94.8 404.2 L95.6 402.2 L96.5 400.2 L97.3 398.2 L98.2 396.2 L99.1 394.2 L99.9 392.2 L100.8 390.2 L101.6 388.3 L102.5 386.4 L103.4 384.5 L104.2 382.6 L105.1 380.8 L105.9 379.0 L106.8 377.3 L107.7 375.6 L108.5 374.0 L109.4 372.4 L110.2 370.9 L111.1 369.4 L111.9 368.0 L112.8 366.5 L113.7 365.1 L114.5 363.8 L115.4 362.4 L116.2 361.1 L117.1 359.7 L118.0 358.4 L118.8 357.1 L119.7 355.9 L120.5 354.7 L121.4 353.5 L122.3 352.4 L123.1 351.3 L124.0 350.2 L124.8 349.2 L125.7 348.2 L126.6 347.2 L127.4 346.3 L128.3 345.4 L129.1 344.5 L130.0 343.6 L133.0 340.7 L136.1 338.1 L139.1 335.8 L142.2 333.7 L145.2 332.0 L148.3 330.2 L151.3 328.3 L154.3 326.4 L157.4 324.8 L160.4 323.5 L163.5 322.2 L166.5 320.9 L169.6 319.5 L172.6 318.3 L175.7 317.2 L178.7 316.1 L181.7 315.0 L184.8 314.0 L187.8 313.0 L190.9 312.0 L193.9 311.0 L197.0 310.0 L200.0 309.1 L209.0 306.3 L217.9 304.1 L226.9 302.1 L235.9 300.5 L244.8 299.0 L253.8 297.7 L262.7 296.4 L271.7 295.3 L280.7 294.2 L289.6 293.3 L298.6 292.3 L307.6 291.4 L316.5 290.6 L325.5 289.9 L334.4 289.2 L343.4 288.6 L352.4 288.0 L361.3 287.4 L370.3 286.9 L379.3 286.3 L388.2 285.9 L397.2 285.4 L406.1 284.9 L415.1 284.5 L424.1 284.1 L433.0 283.7 L442.0 283.4 L451.0 283.0 L459.9 282.6 L468.9 282.3 L477.8 281.9 L486.8 281.5 L495.8 281.2 L504.7 280.8 L513.7 280.5" fill="none" stroke="#4dc26b" stroke-width="1.10" stroke-linejoin="round"/>
<path d="M89.6 415.4 L90.5 413.5 L91.3 411.7 L92.2 409.8 L93.0 407.9 L93.9 406.0 L94.8 404.1 L95.6 402.1 L96.5 400.1 L97.3 398.1 L98.2 396.1 L99.1 394.0 L99.9 392.0 L100.8 390.1 L101.6 388.1 L102.5 386.2 L103.4 384.4 L104.2 382.5 L105.1 380.7 L105.9 378.9 L106.8 377.2 L107.7 375.5 L108.5 373.9 L109.4 372.3 L110.2 370.8 L111.1 369.3 L111.9 367.9 L112.8 366.4 L113.7 365.0 L114.5 363.7 L115.4 362.3 L116.2 360.9 L117.1 359.6 L118.0 358.3 L118.8 357.0 L119.7 355.8 L120.5 354.6 L121.4 353.4 L122.3 352.3 L123.1 351.2 L124.0 350.1 L124.8 349.1 L125.7 348.1 L126.6 347.2 L127.4 346.2 L128.3 345.3 L129.1 344.4 L130.0 343.5 L133.0 340.7 L136.1 338.1 L139.1 335.7 L142.2 333.7 L145.2 331.9 L148.3 330.1 L151.3 328.2 L154.3 326.4 L157.4 324.8 L160.4 323.4 L163.5 322.2 L166.5 320.9 L169.6 319.5 L172.6 318.3 L175.7 317.2 L178.7 316.1 L181.7 315.1 L184.8 314.1 L187.8 313.1 L190.9 312.1 L193.9 311.1 L197.0 310.1 L200.0 309.1 L209.0 306.4 L217.9 304.2 L226.9 302.2 L235.9 300.6 L244.8 299.2 L253.8 297.8 L262.7 296.6 L271.7 295.5 L280.7 294.5 L289.6 293.5 L298.6 292.6 L307.6 291.7 L316.5 290.9 L325.5 290.2 L334.4 289.5 L343.4 288.9 L352.4 288.3 L361.3 287.7 L370.3 287.2 L379.3 286.7 L388.2 286.2 L397.2 285.7 L406.1 285.3 L415.1 284.8 L424.1 284.5 L433.0 284.1 L442.0 283.7 L451.0 283.3 L459.9 283.0 L468.9 282.6 L477.8 282.3 L486.8 281.9 L495.8 281.6 L504.7 281.2 L513.7 280.9" fill="none" stroke="#42be71" stroke-width="1.10" stroke-linejoin="round"/>
<path d="M89.6 415.3 L90.5 413.5 L91.3 411.7 L92.2 409.8 L93.0 407.9 L93.9 406.0 L94.8 404.0 L95.6 402.1 L96.5 400.0 L97.3 398.0 L98.2 396.0 L99.1 393.9 L99.9 391.9 L100.8 389.9 L101.6 388.0 L102.5 386.1 L103.4 384.2 L104.2 382.4 L105.1 380.6 L105.9 378.8 L106.8 377.1 L107.7 375.4 L108.5 373.8 L109.4 372.2 L110.2 370.7 L111.1 369.2 L111.9 367.8 L112.8 366.3 L113.7 364.9 L114.5 363.5 L115.4 362.2 L116.2 360.8 L117.1 359.5 L118.0 358.2 L118.8 356.9 L119.7 355.7 L120.5 354.5 L121.4 353.3 L122.3 352.2 L123.1 351.1 L124.0 350.0 L124.8 349.0 L125.7 348.1 L126.6 347.1 L127.4 346.2 L128.3 345.3 L129.1 344.4 L130.0 343.5 L133.0 340.6 L136.1 338.0 L139.1 335.7 L142.2 333.7 L145.2 331.9 L148.3 330.1 L151.3 328.2 L154.3 326.3 L157.4 324.7 L160.4 323.4 L163.5 322.2 L166.5 320.9 L169.6 319.5 L172.6 318.3 L175.7 317.2 L178.7 316.1 L181.7 315.1 L184.8 314.1 L187.8 313.1 L190.9 312.2 L193.9 311.2 L197.0 310.2 L200.0 309.2 L209.0 306.5 L217.9 304.3 L226.9 302.4 L235.9 300.8 L244.8 299.3 L253.8 298.0 L262.7 296.8 L271.7 295.7 L280.7 294.7 L289.6 293.7 L298.6 292.8 L307.6 292.0 L316.5 291.2 L325.5 290.4 L334.4 289.8 L343.4 289.2 L352.4 288.6 L361.3 288.0 L370.3 287.5 L379.3 287.0 L388.2 286.5 L397.2 286.0 L406.1 285.6 L415.1 285.2 L424.1 284.8 L433.0 284.4 L442.0 284.0 L451.0 283.7 L459.9 283.3 L468.9 283.0 L477.8 282.6 L486.8 282.3 L495.8 281.9 L504.7 281.6 L513.7 281.2" fill="none" stroke="#39b976" stroke-width="1.10" stroke-linejoin="round"/>
<path d="M89.6 415.3 L90.5 413.5 L91.3 411.6 L92.2 409.7 L93.0 407.8 L93.9 405.9 L94.8 403.9 L95.6 402.0 L96.5 399.9 L97.3 397.9 L98.2 395.9 L99.1 393.8 L99.9 391.8 L100.8 389.8 L101.6 387.9 L102.5 386.0 L103.4 384.1 L104.2 382.2 L105.1 380.4 L105.9 378.7 L106.8 376.9 L107.7 375.3 L108.5 373.7 L109.4 372.1 L110.2 370.6 L111.1 369.1 L111.9 367.6 L112.8 366.2 L113.7 364.8 L114.5 363.4 L115.4 362.1 L116.2 360.7 L117.1 359.4 L118.0 358.1 L118.8 356.8 L119.7 355.6 L120.5 354.4 L121.4 353.2 L122.3 352.1 L123.1 351.0 L124.0 350.0 L124.8 349.0 L125.7 348.0 L126.6 347.0 L127.4 346.1 L128.3 345.2 L129.1 344.3 L130.0 343.4 L133.0 340.6 L136.1 338.0 L139.1 335.7 L142.2 333.6 L145.2 331.9 L148.3 330.1 L151.3 328.2 L154.3 326.3 L157.4 324.7 L160.4 323.4 L163.5 322.2 L166.5 320.9 L169.6 319.5 L172.6 318.4 L175.7 317.2 L178.7 316.2 L181.7 315.1 L184.8 314.1 L187.8 313.2 L190.9 312.2 L193.9 311.3 L197.0 310.3 L200.0 309.3 L209.0 306.6 L217.9 304.4 L226.9 302.5 L235.9 300.9 L244.8 299.5 L253.8 298.2 L262.7 297.0 L271.7 295.9 L280.7 294.9 L289.6 294.0 L298.6 293.1 L307.6 292.2 L316.5 291.4 L325.5 290.7 L334.4 290.1 L343.4 289.5 L352.4 288.9 L361.3 288.3 L370.3 287.8 L379.3 287.3 L388.2 286.8 L397.2 286.4 L406.1 285.9 L415.1 285.5 L424.1 285.1 L433.0 284.7 L442.0 284.4 L451.0 284.0 L459.9 283.7 L468.9 283.3 L477.8 283.0 L486.8 282.6 L495.8 282.3 L504.7 281.9 L513.7 281.6" fill="none" stroke="#30b47b" stroke-width="1.10" stroke-linejoin="round"/>
<path d="M89.6 415.3 L90.5 413.5 L91.3 411.6 L92.2 409.7 L93.0 407.8 L93.9 405.8 L94.8 403.9 L95.6 401.9 L96.5 399.8 L97.3 397.8 L98.2 395.7 L99.1 393.7 L99.9 391.7 L100.8 389.7 L101.6 387.8 L102.5 385.9 L103.4 384.0 L104.2 382.1 L105.1 380.3 L105.9 378.5 L106.8 376.8 L107.7 375.2 L108.5 373.6 L109.4 372.0 L110.2 370.5 L111.1 369.0 L111.9 367.5 L112.8 366.1 L113.7 364.7 L114.5 363.3 L115.4 362.0 L116.2 360.6 L117.1 359.3 L118.0 358.0 L118.8 356.7 L119.7 355.5 L120.5 354.3 L121.4 353.1 L122.3 352.0 L123.1 350.9 L124.0 349.9 L124.8 348.9 L125.7 347.9 L126.6 347.0 L127.4 346.0 L128.3 345.1 L129.1 344.3 L130.0 343.4 L133.0 340.5 L136.1 337.9 L139.1 335.6 L142.2 333.6 L145.2 331.8 L148.3 330.0 L151.3 328.1 L154.3 326.3 L157.4 324.7 L160.4 323.4 L163.5 322.1 L166.5 320.9 L169.6 319.5 L172.6 318.4 L175.7 317.2 L178.7 316.2 L181.7 315.2 L184.8 314.2 L187.8 313.2 L190.9 312.3 L193.9 311.3 L197.0 310.4 L200.0 309.4 L209.0 306.7 L217.9 304.5 L226.9 302.6 L235.9 301.1 L244.8 299.7 L253.8 298.4 L262.7 297.2 L271.7 296.1 L280.7 295.1 L289.6 294.2 L298.6 293.3 L307.6 292.5 L316.5 291.7 L325.5 291.0 L334.4 290.4 L343.4 289.8 L352.4 289.2 L361.3 288.6 L370.3 288.1 L379.3 287.6 L388.2 287.1 L397.2 286.7 L406.1 286.2 L415.1 285.8 L424.1 285.4 L433.0 285.1 L442.0 284.7 L451.0 284.4 L459.9 284.0 L468.9 283.7 L477.8 283.3 L486.8 283.0 L495.8 282.6 L504.7 282.3 L513.7 282.0" fill="none" stroke="#2aaf7f" stroke-width="1.10" stroke-linejoin="round"/>
<path d="M89.6 415.3 L90.5 413.4 L91.3 411.5 L92.2 409.6 L93.0 407.7 L93.9 405.8 L94.8 403.8 L95.6 401.8 L96.5 399.7 L97.3 397.7 L98.2 395.6 L99.1 393.6 L99.9 391.6 L100.8 389.6 L101.6 387.7 L102.5 385.8 L103.4 383.9 L104.2 382.0 L105.1 380.2 L105.9 378.4 L106.8 376.7 L107.7 375.0 L108.5 373.4 L109.4 371.9 L110.2 370.4 L111.1 368.9 L111.9 367.4 L112.8 366.0 L113.7 364.6 L114.5 363.2 L115.4 361.9 L116.2 360.5 L117.1 359.2 L118.0 357.9 L118.8 356.6 L119.7 355.4 L120.5 354.2 L121.4 353.0 L122.3 351.9 L123.1 350.8 L124.0 349.8 L124.8 348.8 L125.7 347.8 L126.6 346.9 L127.4 346.0 L128.3 345.1 L129.1 344.2 L130.0 343.3 L133.0 340.5 L136.1 337.9 L139.1 335.6 L142.2 333.6 L145.2 331.8 L148.3 330.0 L151.3 328.1 L154.3 326.3 L157.4 324.7 L160.4 323.4 L163.5 322.1 L166.5 320.8 L169.6 319.6 L172.6 318.4 L175.7 317.3 L178.7 316.2 L181.7 315.2 L184.8 314.2 L187.8 313.3 L190.9 312.4 L193.9 311.4 L197.0 310.4 L200.0 309.5 L209.0 306.8 L217.9 304.7 L226.9 302.8 L235.9 301.2 L244.8 299.8 L253.8 298.6 L262.7 297.4 L271.7 296.3 L280.7 295.3 L289.6 294.4 L298.6 293.5 L307.6 292.7 L316.5 292.0 L325.5 291.3 L334.4 290.7 L343.4 290.1 L352.4 289.5 L361.3 288.9 L370.3 288.4 L379.3 287.9 L388.2 287.5 L397.2 287.0 L406.1 286.6 L415.1 286.2 L424.1 285.8 L433.0 285.4 L442.0 285.0 L451.0 284.7 L459.9 284.3 L468.9 284.0 L477.8 283.7 L486.8 283.3 L495.8 283.0 L504.7 282.7 L513.7 282.4" fill="none" stroke="#24aa83" stroke-width="1.10" stroke-linejoin="round"/>
<path d="M89.6 415.3 L90.5 413.4 L91.3 411.5 L92.2 409.6 L93.0 407.6 L93.9 405.7 L94.8 403.7 L95.6 401.7 L96.5 399.6 L97.3 397.6 L98.2 395.5 L99.1 393.5 L99.9 391.5 L100.8 389.5 L101.6 387.5 L102.5 385.6 L103.4 383.7 L104.2 381.9 L105.1 380.1 L105.9 378.3 L106.8 376.6 L107.7 374.9 L108.5 373.3 L109.4 371.8 L110.2 370.2 L111.1 368.8 L111.9 367.3 L112.8 365.9 L113.7 364.5 L114.5 363.1 L115.4 361.8 L116.2 360.4 L117.1 359.1 L118.0 357.8 L118.8 356.5 L119.7 355.3 L120.5 354.1 L121.4 352.9 L122.3 351.8 L123.1 350.8 L124.0 349.7 L124.8 348.7 L125.7 347.8 L126.6 346.8 L127.4 345.9 L128.3 345.0 L129.1 344.1 L130.0 343.3 L133.0 340.4 L136.1 337.9 L139.1 335.6 L142.2 333.5 L145.2 331.8 L148.3 330.0 L151.3 328.1 L154.3 326.2 L157.4 324.7 L160.4 323.3 L163.5 322.1 L166.5 320.8 L169.6 319.6 L172.6 318.4 L175.7 317.3 L178.7 316.2 L181.7 315.2 L184.8 314.3 L187.8 313.4 L190.9 312.4 L193.9 311.5 L197.0 310.5 L200.0 309.5 L209.0 306.9 L217.9 304.8 L226.9 302.9 L235.9 301.4 L244.8 300.0 L253.8 298.8 L262.7 297.6 L271.7 296.5 L280.7 295.6 L289.6 294.6 L298.6 293.8 L307.6 293.0 L316.5 292.3 L325.5 291.6 L334.4 290.9 L343.4 290.3 L352.4 289.8 L361.3 289.2 L370.3 288.7 L379.3 288.2 L388.2 287.8 L397.2 287.3 L406.1 286.9 L415.1 286.5 L424.1 286.1 L433.0 285.7 L442.0 285.4 L451.0 285.0 L459.9 284.7 L468.9 284.3 L477.8 284.0 L486.8 283.7 L495.8 283.4 L504.7 283.1 L513.7 282.7" fill="none" stroke="#21a585" stroke-width="1.10" stroke-linejoin="round"/>
<path d="M89.6 415.3 L90.5 413.4 L91.3 411.5 L92.2 409.5 L93.0 407.6 L93.9 405.6 L94.8 403.6 L95.6 401.6 L96.5 399.6 L97.3 397.5 L98.2 395.4 L99.1 393.4 L99.9 391.4 L100.8 389.4 L101.6 387.4 L102.5 385.5 L103.4 383.6 L104.2 381.8 L105.1 379.9 L105.9 378.2 L106.8 376.5 L107.7 374.8 L108.5 373.2 L109.4 371.7 L110.2 370.1 L111.1 368.7 L111.9 367.2 L112.8 365.8 L113.7 364.4 L114.5 363.0 L115.4 361.6 L116.2 360.3 L117.1 359.0 L118.0 357.7 L118.8 356.4 L119.7 355.2 L120.5 354.0 L121.4 352.9 L122.3 351.7 L123.1 350.7 L124.0 349.7 L124.8 348.7 L125.7 347.7 L126.6 346.8 L127.4 345.9 L128.3 345.0 L129.1 344.1 L130.0 343.2 L133.0 340.4 L136.1 337.8 L139.1 335.5 L142.2 333.5 L145.2 331.7 L148.3 329.9 L151.3 328.0 L154.3 326.2 L157.4 324.6 L160.4 323.3 L163.5 322.1 L166.5 320.8 L169.6 319.6 L172.6 318.4 L175.7 317.3 L178.7 316.3 L181.7 315.3 L184.8 314.3 L187.8 313.4 L190.9 312.5 L193.9 311.5 L197.0 310.6 L200.0 309.6 L209.0 307.0 L217.9 304.9 L226.9 303.1 L235.9 301.6 L244.8 300.2 L253.8 298.9 L262.7 297.8 L271.7 296.7 L280.7 295.8 L289.6 294.9 L298.6 294.0 L307.6 293.3 L316.5 292.5 L325.5 291.9 L334.4 291.2 L343.4 290.6 L352.4 290.1 L361.3 289.6 L370.3 289.0 L379.3 288.6 L388.2 288.1 L397.2 287.7 L406.1 287.2 L415.1 286.8 L424.1 286.4 L433.0 286.1 L442.0 285.7 L451.0 285.4 L459.9 285.0 L468.9 284.7 L477.8 284.4 L486.8 284.0 L495.8 283.7 L504.7 283.4 L513.7 283.1" fill="none" stroke="#1fa087" stroke-width="1.10" stroke-linejoin="round"/>
<path d="M89.6 415.3 L90.5 413.4 L91.3 411.4 L92.2 409.5 L93.0 407.5 L93.9 405.5 L94.8 403.5 L95.6 401.5 L96.5 399.5 L97.3 397.4 L98.2 395.3 L99.1 393.3 L99.9 391.2 L100.8 389.2 L101.6 387.3 L102.5 385.4 L103.4 383.5 L104.2 381.6 L105.1 379.8 L105.9 378.1 L106.8 376.4 L107.7 374.7 L108.5 373.1 L109.4 371.5 L110.2 370.0 L111.1 368.5 L111.9 367.1 L112.8 365.7 L113.7 364.3 L114.5 362.9 L115.4 361.5 L116.2 360.2 L117.1 358.9 L118.0 357.6 L118.8 356.3 L119.7 355.1 L120.5 353.9 L121.4 352.8 L122.3 351.7 L123.1 350.6 L124.0 349.6 L124.8 348.6 L125.7 347.6 L126.6 346.7 L127.4 345.8 L128.3 344.9 L129.1 344.0 L130.0 343.2 L133.0 340.3 L136.1 337.8 L139.1 335.5 L142.2 333.5 L145.2 331.7 L148.3 329.9 L151.3 328.0 L154.3 326.2 L157.4 324.6 L160.4 323.3 L163.5 322.1 L166.5 320.8 L169.6 319.6 L172.6 318.4 L175.7 317.3 L178.7 316.3 L181.7 315.3 L184.8 314.4 L187.8 313.5 L190.9 312.6 L193.9 311.6 L197.0 310.7 L200.0 309.7 L209.0 307.1 L217.9 305.0 L226.9 303.2 L235.9 301.7 L244.8 300.4 L253.8 299.1 L262.7 298.0 L271.7 297.0 L280.7 296.0 L289.6 295.1 L298.6 294.3 L307.6 293.5 L316.5 292.8 L325.5 292.1 L334.4 291.5 L343.4 290.9 L352.4 290.4 L361.3 289.9 L370.3 289.4 L379.3 288.9 L388.2 288.4 L397.2 288.0 L406.1 287.6 L415.1 287.2 L424.1 286.8 L433.0 286.4 L442.0 286.0 L451.0 285.7 L459.9 285.4 L468.9 285.0 L477.8 284.7 L486.8 284.4 L495.8 284.1 L504.7 283.8 L513.7 283.5" fill="none" stroke="#1e9b89" stroke-width="1.10" stroke-linejoin="round"/>
<path d="M89.6 415.3 L90.5 413.3 L91.3 411.4 L92.2 409.4 L93.0 407.5 L93.9 405.5 L94.8 403.5 L95.6 401.4 L96.5 399.4 L97.3 397.3 L98.2 395.2 L99.1 393.1 L99.9 391.1 L100.8 389.1 L101.6 387.2 L102.5 385.3 L103.4 383.4 L104.2 381.5 L105.1 379.7 L105.9 377.9 L106.8 376.2 L107.7 374.6 L108.5 373.0 L109.4 371.4 L110.2 369.9 L111.1 368.4 L111.9 367.0 L112.8 365.6 L113.7 364.2 L114.5 362.8 L115.4 361.4 L116.2 360.1 L117.1 358.8 L118.0 357.5 L118.8 356.2 L119.7 355.0 L120.5 353.8 L121.4 352.7 L122.3 351.6 L123.1 350.5 L124.0 349.5 L124.8 348.5 L125.7 347.6 L126.6 346.6 L127.4 345.7 L128.3 344.8 L129.1 344.0 L130.0 343.1 L133.0 340.3 L136.1 337.7 L139.1 335.4 L142.2 333.4 L145.2 331.6 L148.3 329.9 L151.3 328.0 L154.3 326.1 L157.4 324.6 L160.4 323.3 L163.5 322.1 L166.5 320.8 L169.6 319.6 L172.6 318.4 L175.7 317.3 L178.7 316.3 L181.7 315.3 L184.8 314.4 L187.8 313.5 L190.9 312.6 L193.9 311.7 L197.0 310.7 L200.0 309.8 L209.0 307.2 L217.9 305.1 L226.9 303.3 L235.9 301.9 L244.8 300.5 L253.8 299.3 L262.7 298.2 L271.7 297.2 L280.7 296.2 L289.6 295.3 L298.6 294.5 L307.6 293.8 L316.5 293.1 L325.5 292.4 L334.4 291.8 L343.4 291.2 L352.4 290.7 L361.3 290.2 L370.3 289.7 L379.3 289.2 L388.2 288.7 L397.2 288.3 L406.1 287.9 L415.1 287.5 L424.1 287.1 L433.0 286.7 L442.0 286.4 L451.0 286.0 L459.9 285.7 L468.9 285.4 L477.8 285.1 L486.8 284.8 L495.8 284.5 L504.7 284.2 L513.7 283.9" fill="none" stroke="#20968b" stroke-width="1.10" stroke-linejoin="round"/>
<path d="M89.6 415.3 L90.5 413.3 L91.3 411.4 L92.2 409.4 L93.0 407.4 L93.9 405.4 L94.8 403.4 L95.6 401.3 L96.5 399.3 L97.3 397.2 L98.2 395.1 L99.1 393.0 L99.9 391.0 L100.8 389.0 L101.6 387.1 L102.5 385.1 L103.4 383.2 L104.2 381.4 L105.1 379.6 L105.9 377.8 L106.8 376.1 L107.7 374.5 L108.5 372.9 L109.4 371.3 L110.2 369.8 L111.1 368.3 L111.9 366.9 L112.8 365.5 L113.7 364.1 L114.5 362.7 L115.4 361.3 L116.2 360.0 L117.1 358.7 L118.0 357.4 L118.8 356.1 L119.7 354.9 L120.5 353.7 L121.4 352.6 L122.3 351.5 L123.1 350.4 L124.0 349.4 L124.8 348.4 L125.7 347.5 L126.6 346.6 L127.4 345.7 L128.3 344.8 L129.1 343.9 L130.0 343.1 L133.0 340.3 L136.1 337.7 L139.1 335.4 L142.2 333.4 L145.2 331.6 L148.3 329.8 L151.3 327.9 L154.3 326.1 L157.4 324.6 L160.4 323.3 L163.5 322.1 L166.5 320.8 L169.6 319.6 L172.6 318.4 L175.7 317.3 L178.7 316.3 L181.7 315.4 L184.8 314.5 L187.8 313.6 L190.9 312.7 L193.9 311.8 L197.0 310.8 L200.0 309.9 L209.0 307.3 L217.9 305.2 L226.9 303.5 L235.9 302.0 L244.8 300.7 L253.8 299.5 L262.7 298.4 L271.7 297.4 L280.7 296.4 L289.6 295.6 L298.6 294.8 L307.6 294.0 L316.5 293.3 L325.5 292.7 L334.4 292.1 L343.4 291.5 L352.4 291.0 L361.3 290.5 L370.3 290.0 L379.3 289.5 L388.2 289.1 L397.2 288.6 L406.1 288.2 L415.1 287.8 L424.1 287.4 L433.0 287.1 L442.0 286.7 L451.0 286.4 L459.9 286.1 L468.9 285.7 L477.8 285.4 L486.8 285.1 L495.8 284.8 L504.7 284.5 L513.7 284.2" fill="none" stroke="#21918c" stroke-width="1.10" stroke-linejoin="round"/>
<path d="M89.6 415.3 L90.5 413.3 L91.3 411.3 L92.2 409.3 L93.0 407.3 L93.9 405.3 L94.8 403.3 L95.6 401.2 L96.5 399.2 L97.3 397.1 L98.2 395.0 L99.1 392.9 L99.9 390.9 L100.8 388.9 L101.6 386.9 L102.5 385.0 L103.4 383.1 L104.2 381.3 L105.1 379.5 L105.9 377.7 L106.8 376.0 L107.7 374.3 L108.5 372.7 L109.4 371.2 L110.2 369.7 L111.1 368.2 L111.9 366.8 L112.8 365.4 L113.7 364.0 L114.5 362.6 L115.4 361.2 L116.2 359.9 L117.1 358.6 L118.0 357.3 L118.8 356.0 L119.7 354.8 L120.5 353.6 L121.4 352.5 L122.3 351.4 L123.1 350.4 L124.0 349.3 L124.8 348.4 L125.7 347.4 L126.6 346.5 L127.4 345.6 L128.3 344.7 L129.1 343.9 L130.0 343.0 L133.0 340.2 L136.1 337.7 L139.1 335.4 L142.2 333.4 L145.2 331.6 L148.3 329.8 L151.3 327.9 L154.3 326.1 L157.4 324.6 L160.4 323.3 L163.5 322.1 L166.5 320.8 L169.6 319.6 L172.6 318.4 L175.7 317.4 L178.7 316.3 L181.7 315.4 L184.8 314.5 L187.8 313.6 L190.9 312.8 L193.9 311.8 L197.0 310.9 L200.0 310.0 L209.0 307.4 L217.9 305.4 L226.9 303.6 L235.9 302.2 L244.8 300.9 L253.8 299.7 L262.7 298.6 L271.7 297.6 L280.7 296.7 L289.6 295.8 L298.6 295.0 L307.6 294.3 L316.5 293.6 L325.5 293.0 L334.4 292.4 L343.4 291.8 L352.4 291.3 L361.3 290.8 L370.3 290.3 L379.3 289.8 L388.2 289.4 L397.2 289.0 L406.1 288.5 L415.1 288.1 L424.1 287.8 L433.0 287.4 L442.0 287.1 L451.0 286.7 L459.9 286.4 L468.9 286.1 L477.8 285.8 L486.8 285.5 L495.8 285.2 L504.7 284.9 L513.7 284.6" fill="none" stroke="#238b8d" stroke-width="1.10" stroke-linejoin="round"/>
<path d="M89.6 415.3 L90.5 413.3 L91.3 411.3 L92.2 409.3 L93.0 407.3 L93.9 405.3 L94.8 403.2 L95.6 401.2 L96.5 399.1 L97.3 397.0 L98.2 394.9 L99.1 392.8 L99.9 390.8 L100.8 388.8 L101.6 386.8 L102.5 384.9 L103.4 383.0 L104.2 381.1 L105.1 379.3 L105.9 377.6 L106.8 375.9 L107.7 374.2 L108.5 372.6 L109.4 371.1 L110.2 369.6 L111.1 368.1 L111.9 366.7 L112.8 365.2 L113.7 363.8 L114.5 362.5 L115.4 361.1 L116.2 359.8 L117.1 358.5 L118.0 357.2 L118.8 355.9 L119.7 354.7 L120.5 353.5 L121.4 352.4 L122.3 351.3 L123.1 350.3 L124.0 349.3 L124.8 348.3 L125.7 347.4 L126.6 346.4 L127.4 345.5 L128.3 344.7 L129.1 343.8 L130.0 343.0 L133.0 340.2 L136.1 337.6 L139.1 335.3 L142.2 333.3 L145.2 331.5 L148.3 329.7 L151.3 327.9 L154.3 326.1 L157.4 324.5 L160.4 323.2 L163.5 322.0 L166.5 320.8 L169.6 319.6 L172.6 318.4 L175.7 317.4 L178.7 316.4 L181.7 315.4 L184.8 314.5 L187.8 313.7 L190.9 312.8 L193.9 311.9 L197.0 311.0 L200.0 310.0 L209.0 307.5 L217.9 305.5 L226.9 303.8 L235.9 302.3 L244.8 301.0 L253.8 299.8 L262.7 298.8 L271.7 297.8 L280.7 296.9 L289.6 296.0 L298.6 295.3 L307.6 294.6 L316.5 293.9 L325.5 293.3 L334.4 292.7 L343.4 292.1 L352.4 291.6 L361.3 291.1 L370.3 290.6 L379.3 290.2 L388.2 289.7 L397.2 289.3 L406.1 288.9 L415.1 288.5 L424.1 288.1 L433.0 287.7 L442.0 287.4 L451.0 287.1 L459.9 286.7 L468.9 286.4 L477.8 286.1 L486.8 285.8 L495.8 285.5 L504.7 285.3 L513.7 285.0" fill="none" stroke="#24868e" stroke-width="1.10" stroke-linejoin="round"/>
<path d="M89.6 415.2 L90.5 413.3 L91.3 411.3 L92.2 409.2 L93.0 407.2 L93.9 405.2 L94.8 403.1 L95.6 401.1 L96.5 399.0 L97.3 396.9 L98.2 394.8 L99.1 392.7 L99.9 390.7 L100.8 388.7 L101.6 386.7 L102.5 384.8 L103.4 382.9 L104.2 381.0 L105.1 379.2 L105.9 377.5 L106.8 375.8 L107.7 374.1 L108.5 372.5 L109.4 371.0 L110.2 369.5 L111.1 368.0 L111.9 366.5 L112.8 365.1 L113.7 363.7 L114.5 362.4 L115.4 361.0 L116.2 359.7 L117.1 358.4 L118.0 357.1 L118.8 355.8 L119.7 354.6 L120.5 353.4 L121.4 352.3 L122.3 351.2 L123.1 350.2 L124.0 349.2 L124.8 348.2 L125.7 347.3 L126.6 346.4 L127.4 345.5 L128.3 344.6 L129.1 343.8 L130.0 342.9 L133.0 340.1 L136.1 337.6 L139.1 335.3 L142.2 333.3 L145.2 331.5 L148.3 329.7 L151.3 327.8 L154.3 326.0 L157.4 324.5 L160.4 323.2 L163.5 322.0 L166.5 320.8 L169.6 319.6 L172.6 318.5 L175.7 317.4 L178.7 316.4 L181.7 315.5 L184.8 314.6 L187.8 313.7 L190.9 312.9 L193.9 312.0 L197.0 311.1 L200.0 310.1 L209.0 307.6 L217.9 305.6 L226.9 303.9 L235.9 302.5 L244.8 301.2 L253.8 300.0 L262.7 299.0 L271.7 298.0 L280.7 297.1 L289.6 296.3 L298.6 295.5 L307.6 294.8 L316.5 294.2 L325.5 293.6 L334.4 293.0 L343.4 292.4 L352.4 291.9 L361.3 291.4 L370.3 290.9 L379.3 290.5 L388.2 290.0 L397.2 289.6 L406.1 289.2 L415.1 288.8 L424.1 288.4 L433.0 288.1 L442.0 287.7 L451.0 287.4 L459.9 287.1 L468.9 286.8 L477.8 286.5 L486.8 286.2 L495.8 285.9 L504.7 285.6 L513.7 285.4" fill="none" stroke="#27808e" stroke-width="1.10" stroke-linejoin="round"/>
<path d="M89.6 415.2 L90.5 413.2 L91.3 411.2 L92.2 409.2 L93.0 407.2 L93.9 405.1 L94.8 403.1 L95.6 401.0 L96.5 398.9 L97.3 396.7 L98.2 394.6 L99.1 392.6 L99.9 390.6 L100.8 388.5 L101.6 386.6 L102.5 384.7 L103.4 382.8 L104.2 380.9 L105.1 379.1 L105.9 377.3 L106.8 375.6 L107.7 374.0 L108.5 372.4 L109.4 370.9 L110.2 369.4 L111.1 367.9 L111.9 366.4 L112.8 365.0 L113.7 363.6 L114.5 362.3 L115.4 360.9 L116.2 359.6 L117.1 358.2 L118.0 357.0 L118.8 355.7 L119.7 354.5 L120.5 353.3 L121.4 352.2 L122.3 351.1 L123.1 350.1 L124.0 349.1 L124.8 348.1 L125.7 347.2 L126.6 346.3 L127.4 345.4 L128.3 344.6 L129.1 343.7 L130.0 342.9 L133.0 340.1 L136.1 337.5 L139.1 335.3 L142.2 333.3 L145.2 331.5 L148.3 329.7 L151.3 327.8 L154.3 326.0 L157.4 324.5 L160.4 323.2 L163.5 322.0 L166.5 320.8 L169.6 319.6 L172.6 318.5 L175.7 317.4 L178.7 316.4 L181.7 315.5 L184.8 314.6 L187.8 313.8 L190.9 313.0 L193.9 312.1 L197.0 311.1 L200.0 310.2 L209.0 307.7 L217.9 305.7 L226.9 304.0 L235.9 302.6 L244.8 301.4 L253.8 300.2 L262.7 299.2 L271.7 298.2 L280.7 297.3 L289.6 296.5 L298.6 295.8 L307.6 295.1 L316.5 294.4 L325.5 293.8 L334.4 293.3 L343.4 292.7 L352.4 292.2 L361.3 291.7 L370.3 291.2 L379.3 290.8 L388.2 290.4 L397.2 289.9 L406.1 289.5 L415.1 289.1 L424.1 288.8 L433.0 288.4 L442.0 288.1 L451.0 287.7 L459.9 287.4 L468.9 287.1 L477.8 286.8 L486.8 286.5 L495.8 286.3 L504.7 286.0 L513.7 285.8" fill="none" stroke="#297b8e" stroke-width="1.10" stroke-linejoin="round"/>
<path d="M89.6 415.2 L90.5 413.2 L91.3 411.2 L92.2 409.1 L93.0 407.1 L93.9 405.1 L94.8 403.0 L95.6 400.9 L96.5 398.8 L97.3 396.6 L98.2 394.5 L99.1 392.5 L99.9 390.4 L100.8 388.4 L101.6 386.5 L102.5 384.5 L103.4 382.6 L104.2 380.8 L105.1 379.0 L105.9 377.2 L106.8 375.5 L107.7 373.9 L108.5 372.3 L109.4 370.7 L110.2 369.2 L111.1 367.8 L111.9 366.3 L112.8 364.9 L113.7 363.5 L114.5 362.1 L115.4 360.8 L116.2 359.5 L117.1 358.1 L118.0 356.9 L118.8 355.6 L119.7 354.4 L120.5 353.2 L121.4 352.1 L122.3 351.0 L123.1 350.0 L124.0 349.0 L124.8 348.1 L125.7 347.1 L126.6 346.2 L127.4 345.4 L128.3 344.5 L129.1 343.7 L130.0 342.8 L133.0 340.0 L136.1 337.5 L139.1 335.2 L142.2 333.2 L145.2 331.4 L148.3 329.6 L151.3 327.8 L154.3 326.0 L157.4 324.5 L160.4 323.2 L163.5 322.0 L166.5 320.8 L169.6 319.6 L172.6 318.5 L175.7 317.4 L178.7 316.4 L181.7 315.5 L184.8 314.7 L187.8 313.9 L190.9 313.0 L193.9 312.1 L197.0 311.2 L200.0 310.3 L209.0 307.8 L217.9 305.8 L226.9 304.2 L235.9 302.8 L244.8 301.5 L253.8 300.4 L262.7 299.3 L271.7 298.4 L280.7 297.5 L289.6 296.7 L298.6 296.0 L307.6 295.3 L316.5 294.7 L325.5 294.1 L334.4 293.6 L343.4 293.0 L352.4 292.5 L361.3 292.0 L370.3 291.6 L379.3 291.1 L388.2 290.7 L397.2 290.3 L406.1 289.9 L415.1 289.5 L424.1 289.1 L433.0 288.7 L442.0 288.4 L451.0 288.1 L459.9 287.8 L468.9 287.5 L477.8 287.2 L486.8 286.9 L495.8 286.6 L504.7 286.4 L513.7 286.1" fill="none" stroke="#2b768e" stroke-width="1.10" stroke-linejoin="round"/>
<path d="M89.6 415.2 L90.5 413.2 L91.3 411.1 L92.2 409.1 L93.0 407.0 L93.9 405.0 L94.8 402.9 L95.6 400.8 L96.5 398.7 L97.3 396.5 L98.2 394.4 L99.1 392.4 L99.9 390.3 L100.8 388.3 L101.6 386.3 L102.5 384.4 L103.4 382.5 L104.2 380.6 L105.1 378.8 L105.9 377.1 L106.8 375.4 L107.7 373.8 L108.5 372.2 L109.4 370.6 L110.2 369.1 L111.1 367.7 L111.9 366.2 L112.8 364.8 L113.7 363.4 L114.5 362.0 L115.4 360.7 L116.2 359.3 L117.1 358.0 L118.0 356.8 L118.8 355.5 L119.7 354.3 L120.5 353.1 L121.4 352.0 L122.3 351.0 L123.1 349.9 L124.0 348.9 L124.8 348.0 L125.7 347.1 L126.6 346.2 L127.4 345.3 L128.3 344.4 L129.1 343.6 L130.0 342.8 L133.0 340.0 L136.1 337.5 L139.1 335.2 L142.2 333.2 L145.2 331.4 L148.3 329.6 L151.3 327.7 L154.3 326.0 L157.4 324.5 L160.4 323.2 L163.5 322.0 L166.5 320.8 L169.6 319.6 L172.6 318.5 L175.7 317.4 L178.7 316.5 L181.7 315.6 L184.8 314.7 L187.8 313.9 L190.9 313.1 L193.9 312.2 L197.0 311.3 L200.0 310.4 L209.0 307.9 L217.9 305.9 L226.9 304.3 L235.9 303.0 L244.8 301.7 L253.8 300.6 L262.7 299.5 L271.7 298.6 L280.7 297.7 L289.6 297.0 L298.6 296.3 L307.6 295.6 L316.5 295.0 L325.5 294.4 L334.4 293.9 L343.4 293.3 L352.4 292.8 L361.3 292.3 L370.3 291.9 L379.3 291.4 L388.2 291.0 L397.2 290.6 L406.1 290.2 L415.1 289.8 L424.1 289.4 L433.0 289.1 L442.0 288.7 L451.0 288.4 L459.9 288.1 L468.9 287.8 L477.8 287.5 L486.8 287.3 L495.8 287.0 L504.7 286.7 L513.7 286.5" fill="none" stroke="#2d718e" stroke-width="1.10" stroke-linejoin="round"/>
<path d="M89.6 415.2 L90.5 413.2 L91.3 411.1 L92.2 409.0 L93.0 407.0 L93.9 404.9 L94.8 402.8 L95.6 400.7 L96.5 398.6 L97.3 396.4 L98.2 394.3 L99.1 392.2 L99.9 390.2 L100.8 388.2 L101.6 386.2 L102.5 384.3 L103.4 382.4 L104.2 380.5 L105.1 378.7 L105.9 377.0 L106.8 375.3 L107.7 373.6 L108.5 372.1 L109.4 370.5 L110.2 369.0 L111.1 367.5 L111.9 366.1 L112.8 364.7 L113.7 363.3 L114.5 361.9 L115.4 360.6 L116.2 359.2 L117.1 357.9 L118.0 356.6 L118.8 355.4 L119.7 354.2 L120.5 353.0 L121.4 351.9 L122.3 350.9 L123.1 349.9 L124.0 348.9 L124.8 347.9 L125.7 347.0 L126.6 346.1 L127.4 345.2 L128.3 344.4 L129.1 343.6 L130.0 342.7 L133.0 340.0 L136.1 337.4 L139.1 335.1 L142.2 333.2 L145.2 331.4 L148.3 329.6 L151.3 327.7 L154.3 325.9 L157.4 324.4 L160.4 323.2 L163.5 322.0 L166.5 320.8 L169.6 319.6 L172.6 318.5 L175.7 317.5 L178.7 316.5 L181.7 315.6 L184.8 314.8 L187.8 314.0 L190.9 313.2 L193.9 312.3 L197.0 311.4 L200.0 310.4 L209.0 308.0 L217.9 306.1 L226.9 304.5 L235.9 303.1 L244.8 301.9 L253.8 300.8 L262.7 299.7 L271.7 298.8 L280.7 298.0 L289.6 297.2 L298.6 296.5 L307.6 295.9 L316.5 295.3 L325.5 294.7 L334.4 294.1 L343.4 293.6 L352.4 293.1 L361.3 292.6 L370.3 292.2 L379.3 291.7 L388.2 291.3 L397.2 290.9 L406.1 290.5 L415.1 290.1 L424.1 289.8 L433.0 289.4 L442.0 289.1 L451.0 288.7 L459.9 288.4 L468.9 288.2 L477.8 287.9 L486.8 287.6 L495.8 287.4 L504.7 287.1 L513.7 286.9" fill="none" stroke="#2f6b8e" stroke-width="1.10" stroke-linejoin="round"/>
<path d="M89.6 415.2 L90.5 413.1 L91.3 411.1 L92.2 409.0 L93.0 406.9 L93.9 404.8 L94.8 402.7 L95.6 400.6 L96.5 398.5 L97.3 396.3 L98.2 394.2 L99.1 392.1 L99.9 390.1 L100.8 388.1 L101.6 386.1 L102.5 384.2 L103.4 382.3 L104.2 380.4 L105.1 378.6 L105.9 376.9 L106.8 375.2 L107.7 373.5 L108.5 371.9 L109.4 370.4 L110.2 368.9 L111.1 367.4 L111.9 366.0 L112.8 364.6 L113.7 363.2 L114.5 361.8 L115.4 360.5 L116.2 359.1 L117.1 357.8 L118.0 356.5 L118.8 355.3 L119.7 354.1 L120.5 352.9 L121.4 351.8 L122.3 350.8 L123.1 349.8 L124.0 348.8 L124.8 347.9 L125.7 346.9 L126.6 346.0 L127.4 345.2 L128.3 344.3 L129.1 343.5 L130.0 342.7 L133.0 339.9 L136.1 337.4 L139.1 335.1 L142.2 333.1 L145.2 331.3 L148.3 329.5 L151.3 327.7 L154.3 325.9 L157.4 324.4 L160.4 323.1 L163.5 322.0 L166.5 320.8 L169.6 319.6 L172.6 318.5 L175.7 317.5 L178.7 316.5 L181.7 315.6 L184.8 314.8 L187.8 314.0 L190.9 313.2 L193.9 312.3 L197.0 311.4 L200.0 310.5 L209.0 308.1 L217.9 306.2 L226.9 304.6 L235.9 303.3 L244.8 302.1 L253.8 300.9 L262.7 299.9 L271.7 299.0 L280.7 298.2 L289.6 297.4 L298.6 296.7 L307.6 296.1 L316.5 295.5 L325.5 295.0 L334.4 294.4 L343.4 293.9 L352.4 293.4 L361.3 293.0 L370.3 292.5 L379.3 292.1 L388.2 291.6 L397.2 291.2 L406.1 290.8 L415.1 290.5 L424.1 290.1 L433.0 289.7 L442.0 289.4 L451.0 289.1 L459.9 288.8 L468.9 288.5 L477.8 288.2 L486.8 288.0 L495.8 287.7 L504.7 287.5 L513.7 287.3" fill="none" stroke="#32668e" stroke-width="1.10" stroke-linejoin="round"/>
<path d="M89.6 415.2 L90.5 413.1 L91.3 411.0 L92.2 409.0 L93.0 406.9 L93.9 404.8 L94.8 402.7 L95.6 400.5 L96.5 398.4 L97.3 396.2 L98.2 394.1 L99.1 392.0 L99.9 390.0 L100.8 388.0 L101.6 386.0 L102.5 384.0 L103.4 382.1 L104.2 380.3 L105.1 378.5 L105.9 376.7 L106.8 375.0 L107.7 373.4 L108.5 371.8 L109.4 370.3 L110.2 368.8 L111.1 367.3 L111.9 365.9 L112.8 364.5 L113.7 363.1 L114.5 361.7 L115.4 360.4 L116.2 359.0 L117.1 357.7 L118.0 356.4 L118.8 355.2 L119.7 354.0 L120.5 352.8 L121.4 351.7 L122.3 350.7 L123.1 349.7 L124.0 348.7 L124.8 347.8 L125.7 346.9 L126.6 346.0 L127.4 345.1 L128.3 344.3 L129.1 343.4 L130.0 342.6 L133.0 339.9 L136.1 337.3 L139.1 335.1 L142.2 333.1 L145.2 331.3 L148.3 329.5 L151.3 327.6 L154.3 325.9 L157.4 324.4 L160.4 323.1 L163.5 321.9 L166.5 320.8 L169.6 319.6 L172.6 318.5 L175.7 317.5 L178.7 316.5 L181.7 315.6 L184.8 314.9 L187.8 314.1 L190.9 313.3 L193.9 312.4 L197.0 311.5 L200.0 310.6 L209.0 308.2 L217.9 306.3 L226.9 304.7 L235.9 303.4 L244.8 302.2 L253.8 301.1 L262.7 300.1 L271.7 299.2 L280.7 298.4 L289.6 297.7 L298.6 297.0 L307.6 296.4 L316.5 295.8 L325.5 295.2 L334.4 294.7 L343.4 294.2 L352.4 293.7 L361.3 293.3 L370.3 292.8 L379.3 292.4 L388.2 292.0 L397.2 291.6 L406.1 291.2 L415.1 290.8 L424.1 290.4 L433.0 290.1 L442.0 289.7 L451.0 289.4 L459.9 289.1 L468.9 288.8 L477.8 288.6 L486.8 288.3 L495.8 288.1 L504.7 287.8 L513.7 287.6" fill="none" stroke="#34608d" stroke-width="1.10" stroke-linejoin="round"/>
<path d="M89.6 415.2 L90.5 413.1 L91.3 411.0 L92.2 408.9 L93.0 406.8 L93.9 404.7 L94.8 402.6 L95.6 400.4 L96.5 398.3 L97.3 396.1 L98.2 394.0 L99.1 391.9 L99.9 389.9 L100.8 387.9 L101.6 385.9 L102.5 383.9 L103.4 382.0 L104.2 380.2 L105.1 378.4 L105.9 376.6 L106.8 374.9 L107.7 373.3 L108.5 371.7 L109.4 370.2 L110.2 368.7 L111.1 367.2 L111.9 365.8 L112.8 364.4 L113.7 363.0 L114.5 361.6 L115.4 360.3 L116.2 358.9 L117.1 357.6 L118.0 356.3 L118.8 355.1 L119.7 353.9 L120.5 352.7 L121.4 351.7 L122.3 350.6 L123.1 349.6 L124.0 348.6 L124.8 347.7 L125.7 346.8 L126.6 345.9 L127.4 345.1 L128.3 344.2 L129.1 343.4 L130.0 342.6 L133.0 339.8 L136.1 337.3 L139.1 335.0 L142.2 333.1 L145.2 331.3 L148.3 329.5 L151.3 327.6 L154.3 325.9 L157.4 324.4 L160.4 323.1 L163.5 321.9 L166.5 320.7 L169.6 319.6 L172.6 318.5 L175.7 317.5 L178.7 316.5 L181.7 315.7 L184.8 314.9 L187.8 314.1 L190.9 313.3 L193.9 312.5 L197.0 311.6 L200.0 310.7 L209.0 308.3 L217.9 306.4 L226.9 304.9 L235.9 303.6 L244.8 302.4 L253.8 301.3 L262.7 300.3 L271.7 299.4 L280.7 298.6 L289.6 297.9 L298.6 297.2 L307.6 296.6 L316.5 296.1 L325.5 295.5 L334.4 295.0 L343.4 294.5 L352.4 294.0 L361.3 293.6 L370.3 293.1 L379.3 292.7 L388.2 292.3 L397.2 291.9 L406.1 291.5 L415.1 291.1 L424.1 290.8 L433.0 290.4 L442.0 290.1 L451.0 289.8 L459.9 289.5 L468.9 289.2 L477.8 288.9 L486.8 288.7 L495.8 288.4 L504.7 288.2 L513.7 288.0" fill="none" stroke="#375a8c" stroke-width="1.10" stroke-linejoin="round"/>
<path d="M89.6 415.2 L90.5 413.1 L91.3 411.0 L92.2 408.9 L93.0 406.7 L93.9 404.6 L94.8 402.5 L95.6 400.3 L96.5 398.2 L97.3 396.0 L98.2 393.9 L99.1 391.8 L99.9 389.8 L100.8 387.7 L101.6 385.8 L102.5 383.8 L103.4 381.9 L104.2 380.0 L105.1 378.2 L105.9 376.5 L106.8 374.8 L107.7 373.2 L108.5 371.6 L109.4 370.1 L110.2 368.6 L111.1 367.1 L111.9 365.7 L112.8 364.3 L113.7 362.9 L114.5 361.5 L115.4 360.1 L116.2 358.8 L117.1 357.5 L118.0 356.2 L118.8 355.0 L119.7 353.8 L120.5 352.7 L121.4 351.6 L122.3 350.5 L123.1 349.5 L124.0 348.6 L124.8 347.6 L125.7 346.7 L126.6 345.8 L127.4 345.0 L128.3 344.2 L129.1 343.3 L130.0 342.5 L133.0 339.8 L136.1 337.3 L139.1 335.0 L142.2 333.0 L145.2 331.2 L148.3 329.4 L151.3 327.6 L154.3 325.8 L157.4 324.4 L160.4 323.1 L163.5 321.9 L166.5 320.7 L169.6 319.6 L172.6 318.5 L175.7 317.5 L178.7 316.6 L181.7 315.7 L184.8 314.9 L187.8 314.2 L190.9 313.4 L193.9 312.6 L197.0 311.7 L200.0 310.8 L209.0 308.4 L217.9 306.5 L226.9 305.0 L235.9 303.7 L244.8 302.6 L253.8 301.5 L262.7 300.5 L271.7 299.6 L280.7 298.8 L289.6 298.1 L298.6 297.5 L307.6 296.9 L316.5 296.3 L325.5 295.8 L334.4 295.3 L343.4 294.8 L352.4 294.3 L361.3 293.9 L370.3 293.4 L379.3 293.0 L388.2 292.6 L397.2 292.2 L406.1 291.8 L415.1 291.4 L424.1 291.1 L433.0 290.7 L442.0 290.4 L451.0 290.1 L459.9 289.8 L468.9 289.5 L477.8 289.3 L486.8 289.0 L495.8 288.8 L504.7 288.6 L513.7 288.4" fill="none" stroke="#3a558b" stroke-width="1.10" stroke-linejoin="round"/>
<path d="M89.6 415.2 L90.5 413.0 L91.3 410.9 L92.2 408.8 L93.0 406.7 L93.9 404.6 L94.8 402.4 L95.6 400.3 L96.5 398.1 L97.3 395.9 L98.2 393.8 L99.1 391.7 L99.9 389.6 L100.8 387.6 L101.6 385.6 L102.5 383.7 L103.4 381.8 L104.2 379.9 L105.1 378.1 L105.9 376.4 L106.8 374.7 L107.7 373.1 L108.5 371.5 L109.4 369.9 L110.2 368.5 L111.1 367.0 L111.9 365.6 L112.8 364.2 L113.7 362.8 L114.5 361.4 L115.4 360.0 L116.2 358.7 L117.1 357.4 L118.0 356.1 L118.8 354.9 L119.7 353.7 L120.5 352.6 L121.4 351.5 L122.3 350.4 L123.1 349.4 L124.0 348.5 L124.8 347.6 L125.7 346.7 L126.6 345.8 L127.4 344.9 L128.3 344.1 L129.1 343.3 L130.0 342.5 L133.0 339.7 L136.1 337.2 L139.1 335.0 L142.2 333.0 L145.2 331.2 L148.3 329.4 L151.3 327.5 L154.3 325.8 L157.4 324.3 L160.4 323.1 L163.5 321.9 L166.5 320.7 L169.6 319.6 L172.6 318.5 L175.7 317.5 L178.7 316.6 L181.7 315.7 L184.8 315.0 L187.8 314.3 L190.9 313.5 L193.9 312.6 L197.0 311.7 L200.0 310.9 L209.0 308.5 L217.9 306.7 L226.9 305.2 L235.9 303.9 L244.8 302.7 L253.8 301.7 L262.7 300.7 L271.7 299.8 L280.7 299.1 L289.6 298.4 L298.6 297.7 L307.6 297.2 L316.5 296.6 L325.5 296.1 L334.4 295.6 L343.4 295.1 L352.4 294.6 L361.3 294.2 L370.3 293.8 L379.3 293.3 L388.2 292.9 L397.2 292.5 L406.1 292.2 L415.1 291.8 L424.1 291.4 L433.0 291.1 L442.0 290.7 L451.0 290.4 L459.9 290.1 L468.9 289.9 L477.8 289.6 L486.8 289.4 L495.8 289.2 L504.7 289.0 L513.7 288.8" fill="none" stroke="#3c4f8a" stroke-width="1.10" stroke-linejoin="round"/>
<path d="M89.6 415.2 L90.5 413.0 L91.3 410.9 L92.2 408.8 L93.0 406.6 L93.9 404.5 L94.8 402.3 L95.6 400.2 L96.5 398.0 L97.3 395.8 L98.2 393.7 L99.1 391.6 L99.9 389.5 L100.8 387.5 L101.6 385.5 L102.5 383.6 L103.4 381.6 L104.2 379.8 L105.1 378.0 L105.9 376.3 L106.8 374.6 L107.7 372.9 L108.5 371.4 L109.4 369.8 L110.2 368.3 L111.1 366.9 L111.9 365.5 L112.8 364.1 L113.7 362.7 L114.5 361.3 L115.4 359.9 L116.2 358.6 L117.1 357.3 L118.0 356.0 L118.8 354.8 L119.7 353.6 L120.5 352.5 L121.4 351.4 L122.3 350.3 L123.1 349.4 L124.0 348.4 L124.8 347.5 L125.7 346.6 L126.6 345.7 L127.4 344.9 L128.3 344.0 L129.1 343.2 L130.0 342.4 L133.0 339.7 L136.1 337.2 L139.1 334.9 L142.2 333.0 L145.2 331.2 L148.3 329.4 L151.3 327.5 L154.3 325.8 L157.4 324.3 L160.4 323.1 L163.5 321.9 L166.5 320.7 L169.6 319.6 L172.6 318.6 L175.7 317.6 L178.7 316.6 L181.7 315.8 L184.8 315.0 L187.8 314.3 L190.9 313.5 L193.9 312.7 L197.0 311.8 L200.0 310.9 L209.0 308.5 L217.9 306.8 L226.9 305.3 L235.9 304.0 L244.8 302.9 L253.8 301.9 L262.7 300.9 L271.7 300.0 L280.7 299.3 L289.6 298.6 L298.6 298.0 L307.6 297.4 L316.5 296.9 L325.5 296.4 L334.4 295.9 L343.4 295.4 L352.4 294.9 L361.3 294.5 L370.3 294.1 L379.3 293.6 L388.2 293.2 L397.2 292.9 L406.1 292.5 L415.1 292.1 L424.1 291.7 L433.0 291.4 L442.0 291.1 L451.0 290.8 L459.9 290.5 L468.9 290.2 L477.8 290.0 L486.8 289.7 L495.8 289.5 L504.7 289.3 L513.7 289.1" fill="none" stroke="#3f4988" stroke-width="1.10" stroke-linejoin="round"/>
<path d="M89.6 415.1 L90.5 413.0 L91.3 410.9 L92.2 408.7 L93.0 406.6 L93.9 404.4 L94.8 402.3 L95.6 400.1 L96.5 397.9 L97.3 395.7 L98.2 393.6 L99.1 391.5 L99.9 389.4 L100.8 387.4 L101.6 385.4 L102.5 383.4 L103.4 381.5 L104.2 379.7 L105.1 377.9 L105.9 376.1 L106.8 374.5 L107.7 372.8 L108.5 371.3 L109.4 369.7 L110.2 368.2 L111.1 366.8 L111.9 365.3 L112.8 363.9 L113.7 362.6 L114.5 361.2 L115.4 359.8 L116.2 358.5 L117.1 357.2 L118.0 355.9 L118.8 354.7 L119.7 353.5 L120.5 352.4 L121.4 351.3 L122.3 350.3 L123.1 349.3 L124.0 348.3 L124.8 347.4 L125.7 346.5 L126.6 345.7 L127.4 344.8 L128.3 344.0 L129.1 343.2 L130.0 342.4 L133.0 339.7 L136.1 337.1 L139.1 334.9 L142.2 332.9 L145.2 331.1 L148.3 329.3 L151.3 327.5 L154.3 325.7 L157.4 324.3 L160.4 323.0 L163.5 321.9 L166.5 320.7 L169.6 319.6 L172.6 318.6 L175.7 317.6 L178.7 316.6 L181.7 315.8 L184.8 315.1 L187.8 314.4 L190.9 313.6 L193.9 312.8 L197.0 311.9 L200.0 311.0 L209.0 308.6 L217.9 306.9 L226.9 305.4 L235.9 304.2 L244.8 303.1 L253.8 302.0 L262.7 301.1 L271.7 300.2 L280.7 299.5 L289.6 298.8 L298.6 298.2 L307.6 297.7 L316.5 297.2 L325.5 296.7 L334.4 296.2 L343.4 295.7 L352.4 295.3 L361.3 294.8 L370.3 294.4 L379.3 294.0 L388.2 293.6 L397.2 293.2 L406.1 292.8 L415.1 292.4 L424.1 292.1 L433.0 291.7 L442.0 291.4 L451.0 291.1 L459.9 290.8 L468.9 290.6 L477.8 290.3 L486.8 290.1 L495.8 289.9 L504.7 289.7 L513.7 289.5" fill="none" stroke="#414386" stroke-width="1.10" stroke-linejoin="round"/>
<path d="M89.6 415.1 L90.5 413.0 L91.3 410.8 L92.2 408.7 L93.0 406.5 L93.9 404.3 L94.8 402.2 L95.6 400.0 L96.5 397.8 L97.3 395.6 L98.2 393.4 L99.1 391.3 L99.9 389.3 L100.8 387.3 L101.6 385.3 L102.5 383.3 L103.4 381.4 L104.2 379.5 L105.1 377.7 L105.9 376.0 L106.8 374.3 L107.7 372.7 L108.5 371.1 L109.4 369.6 L110.2 368.1 L111.1 366.7 L111.9 365.2 L112.8 363.8 L113.7 362.4 L114.5 361.1 L115.4 359.7 L116.2 358.4 L117.1 357.1 L118.0 355.8 L118.8 354.6 L119.7 353.4 L120.5 352.3 L121.4 351.2 L122.3 350.2 L123.1 349.2 L124.0 348.2 L124.8 347.3 L125.7 346.4 L126.6 345.6 L127.4 344.7 L128.3 343.9 L129.1 343.1 L130.0 342.3 L133.0 339.6 L136.1 337.1 L139.1 334.9 L142.2 332.9 L145.2 331.1 L148.3 329.3 L151.3 327.4 L154.3 325.7 L157.4 324.3 L160.4 323.0 L163.5 321.9 L166.5 320.7 L169.6 319.6 L172.6 318.6 L175.7 317.6 L178.7 316.7 L181.7 315.8 L184.8 315.1 L187.8 314.4 L190.9 313.7 L193.9 312.9 L197.0 312.0 L200.0 311.1 L209.0 308.7 L217.9 307.0 L226.9 305.6 L235.9 304.4 L244.8 303.2 L253.8 302.2 L262.7 301.3 L271.7 300.4 L280.7 299.7 L289.6 299.1 L298.6 298.5 L307.6 297.9 L316.5 297.4 L325.5 296.9 L334.4 296.5 L343.4 296.0 L352.4 295.6 L361.3 295.1 L370.3 294.7 L379.3 294.3 L388.2 293.9 L397.2 293.5 L406.1 293.1 L415.1 292.8 L424.1 292.4 L433.0 292.1 L442.0 291.7 L451.0 291.4 L459.9 291.2 L468.9 290.9 L477.8 290.7 L486.8 290.5 L495.8 290.3 L504.7 290.1 L513.7 289.9" fill="none" stroke="#443c83" stroke-width="1.10" stroke-linejoin="round"/>
<path d="M89.6 415.1 L90.5 413.0 L91.3 410.8 L92.2 408.6 L93.0 406.4 L93.9 404.3 L94.8 402.1 L95.6 399.9 L96.5 397.7 L97.3 395.5 L98.2 393.3 L99.1 391.2 L99.9 389.2 L100.8 387.2 L101.6 385.2 L102.5 383.2 L103.4 381.3 L104.2 379.4 L105.1 377.6 L105.9 375.9 L106.8 374.2 L107.7 372.6 L108.5 371.0 L109.4 369.5 L110.2 368.0 L111.1 366.5 L111.9 365.1 L112.8 363.7 L113.7 362.3 L114.5 361.0 L115.4 359.6 L116.2 358.3 L117.1 357.0 L118.0 355.7 L118.8 354.5 L119.7 353.3 L120.5 352.2 L121.4 351.1 L122.3 350.1 L123.1 349.1 L124.0 348.2 L124.8 347.3 L125.7 346.4 L126.6 345.5 L127.4 344.7 L128.3 343.9 L129.1 343.1 L130.0 342.3 L133.0 339.6 L136.1 337.1 L139.1 334.8 L142.2 332.9 L145.2 331.1 L148.3 329.2 L151.3 327.4 L154.3 325.7 L157.4 324.3 L160.4 323.0 L163.5 321.8 L166.5 320.7 L169.6 319.6 L172.6 318.6 L175.7 317.6 L178.7 316.7 L181.7 315.9 L184.8 315.2 L187.8 314.5 L190.9 313.7 L193.9 312.9 L197.0 312.1 L200.0 311.2 L209.0 308.8 L217.9 307.1 L226.9 305.7 L235.9 304.5 L244.8 303.4 L253.8 302.4 L262.7 301.5 L271.7 300.7 L280.7 299.9 L289.6 299.3 L298.6 298.7 L307.6 298.2 L316.5 297.7 L325.5 297.2 L334.4 296.8 L343.4 296.3 L352.4 295.9 L361.3 295.4 L370.3 295.0 L379.3 294.6 L388.2 294.2 L397.2 293.8 L406.1 293.5 L415.1 293.1 L424.1 292.7 L433.0 292.4 L442.0 292.1 L451.0 291.8 L459.9 291.5 L468.9 291.3 L477.8 291.0 L486.8 290.8 L495.8 290.6 L504.7 290.4 L513.7 290.3" fill="none" stroke="#463580" stroke-width="1.10" stroke-linejoin="round"/>
<path d="M89.6 415.1 L90.5 412.9 L91.3 410.7 L92.2 408.6 L93.0 406.4 L93.9 404.2 L94.8 402.0 L95.6 399.8 L96.5 397.6 L97.3 395.4 L98.2 393.2 L99.1 391.1 L99.9 389.1 L100.8 387.0 L101.6 385.0 L102.5 383.1 L103.4 381.2 L104.2 379.3 L105.1 377.5 L105.9 375.8 L106.8 374.1 L107.7 372.5 L108.5 370.9 L109.4 369.4 L110.2 367.9 L111.1 366.4 L111.9 365.0 L112.8 363.6 L113.7 362.2 L114.5 360.9 L115.4 359.5 L116.2 358.2 L117.1 356.9 L118.0 355.6 L118.8 354.4 L119.7 353.2 L120.5 352.1 L121.4 351.0 L122.3 350.0 L123.1 349.0 L124.0 348.1 L124.8 347.2 L125.7 346.3 L126.6 345.5 L127.4 344.6 L128.3 343.8 L129.1 343.0 L130.0 342.2 L133.0 339.5 L136.1 337.0 L139.1 334.8 L142.2 332.8 L145.2 331.0 L148.3 329.2 L151.3 327.4 L154.3 325.7 L157.4 324.2 L160.4 323.0 L163.5 321.8 L166.5 320.7 L169.6 319.6 L172.6 318.6 L175.7 317.6 L178.7 316.7 L181.7 315.9 L184.8 315.2 L187.8 314.5 L190.9 313.8 L193.9 313.0 L197.0 312.1 L200.0 311.3 L209.0 308.9 L217.9 307.2 L226.9 305.9 L235.9 304.7 L244.8 303.6 L253.8 302.6 L262.7 301.7 L271.7 300.9 L280.7 300.1 L289.6 299.5 L298.6 299.0 L307.6 298.5 L316.5 298.0 L325.5 297.5 L334.4 297.1 L343.4 296.6 L352.4 296.2 L361.3 295.7 L370.3 295.3 L379.3 294.9 L388.2 294.5 L397.2 294.2 L406.1 293.8 L415.1 293.4 L424.1 293.1 L433.0 292.7 L442.0 292.4 L451.0 292.1 L459.9 291.9 L468.9 291.6 L477.8 291.4 L486.8 291.2 L495.8 291.0 L504.7 290.8 L513.7 290.6" fill="none" stroke="#472e7c" stroke-width="1.10" stroke-linejoin="round"/>
<path d="M89.6 415.1 L90.5 412.9 L91.3 410.7 L92.2 408.5 L93.0 406.3 L93.9 404.1 L94.8 401.9 L95.6 399.7 L96.5 397.5 L97.3 395.3 L98.2 393.1 L99.1 391.0 L99.9 389.0 L100.8 386.9 L101.6 384.9 L102.5 383.0 L103.4 381.0 L104.2 379.2 L105.1 377.4 L105.9 375.6 L106.8 374.0 L107.7 372.4 L108.5 370.8 L109.4 369.3 L110.2 367.8 L111.1 366.3 L111.9 364.9 L112.8 363.5 L113.7 362.1 L114.5 360.8 L115.4 359.4 L116.2 358.1 L117.1 356.8 L118.0 355.5 L118.8 354.3 L119.7 353.1 L120.5 352.0 L121.4 350.9 L122.3 349.9 L123.1 348.9 L124.0 348.0 L124.8 347.1 L125.7 346.2 L126.6 345.4 L127.4 344.6 L128.3 343.8 L129.1 343.0 L130.0 342.2 L133.0 339.5 L136.1 337.0 L139.1 334.7 L142.2 332.8 L145.2 331.0 L148.3 329.2 L151.3 327.3 L154.3 325.6 L157.4 324.2 L160.4 323.0 L163.5 321.8 L166.5 320.7 L169.6 319.6 L172.6 318.6 L175.7 317.6 L178.7 316.7 L181.7 315.9 L184.8 315.2 L187.8 314.6 L190.9 313.9 L193.9 313.1 L197.0 312.2 L200.0 311.3 L209.0 309.0 L217.9 307.4 L226.9 306.0 L235.9 304.8 L244.8 303.8 L253.8 302.8 L262.7 301.9 L271.7 301.1 L280.7 300.4 L289.6 299.8 L298.6 299.2 L307.6 298.7 L316.5 298.2 L325.5 297.8 L334.4 297.3 L343.4 296.9 L352.4 296.5 L361.3 296.0 L370.3 295.6 L379.3 295.2 L388.2 294.9 L397.2 294.5 L406.1 294.1 L415.1 293.8 L424.1 293.4 L433.0 293.1 L442.0 292.7 L451.0 292.5 L459.9 292.2 L468.9 292.0 L477.8 291.7 L486.8 291.5 L495.8 291.3 L504.7 291.2 L513.7 291.0" fill="none" stroke="#482777" stroke-width="1.10" stroke-linejoin="round"/>
<path d="M89.6 415.1 L90.5 412.9 L91.3 410.7 L92.2 408.5 L93.0 406.3 L93.9 404.1 L94.8 401.8 L95.6 399.6 L96.5 397.4 L97.3 395.2 L98.2 393.0 L99.1 390.9 L99.9 388.8 L100.8 386.8 L101.6 384.8 L102.5 382.8 L103.4 380.9 L104.2 379.0 L105.1 377.3 L105.9 375.5 L106.8 373.9 L107.7 372.2 L108.5 370.7 L109.4 369.2 L110.2 367.7 L111.1 366.2 L111.9 364.8 L112.8 363.4 L113.7 362.0 L114.5 360.6 L115.4 359.3 L116.2 358.0 L117.1 356.7 L118.0 355.4 L118.8 354.2 L119.7 353.0 L120.5 351.9 L121.4 350.8 L122.3 349.8 L123.1 348.9 L124.0 347.9 L124.8 347.0 L125.7 346.2 L126.6 345.3 L127.4 344.5 L128.3 343.7 L129.1 342.9 L130.0 342.1 L133.0 339.4 L136.1 336.9 L139.1 334.7 L142.2 332.8 L145.2 331.0 L148.3 329.1 L151.3 327.3 L154.3 325.6 L157.4 324.2 L160.4 323.0 L163.5 321.8 L166.5 320.7 L169.6 319.6 L172.6 318.6 L175.7 317.6 L178.7 316.7 L181.7 316.0 L184.8 315.3 L187.8 314.6 L190.9 313.9 L193.9 313.1 L197.0 312.3 L200.0 311.4 L209.0 309.1 L217.9 307.5 L226.9 306.1 L235.9 305.0 L244.8 303.9 L253.8 302.9 L262.7 302.1 L271.7 301.3 L280.7 300.6 L289.6 300.0 L298.6 299.5 L307.6 299.0 L316.5 298.5 L325.5 298.1 L334.4 297.6 L343.4 297.2 L352.4 296.8 L361.3 296.4 L370.3 295.9 L379.3 295.6 L388.2 295.2 L397.2 294.8 L406.1 294.4 L415.1 294.1 L424.1 293.7 L433.0 293.4 L442.0 293.1 L451.0 292.8 L459.9 292.5 L468.9 292.3 L477.8 292.1 L486.8 291.9 L495.8 291.7 L504.7 291.5 L513.7 291.4" fill="none" stroke="#482071" stroke-width="1.10" stroke-linejoin="round"/>
<path d="M89.6 415.1 L90.5 412.9 L91.3 410.6 L92.2 408.4 L93.0 406.2 L93.9 404.0 L94.8 401.8 L95.6 399.5 L96.5 397.3 L97.3 395.1 L98.2 392.9 L99.1 390.8 L99.9 388.7 L100.8 386.7 L101.6 384.7 L102.5 382.7 L103.4 380.8 L104.2 378.9 L105.1 377.1 L105.9 375.4 L106.8 373.7 L107.7 372.1 L108.5 370.6 L109.4 369.0 L110.2 367.6 L111.1 366.1 L111.9 364.7 L112.8 363.3 L113.7 361.9 L114.5 360.5 L115.4 359.2 L116.2 357.9 L117.1 356.6 L118.0 355.3 L118.8 354.1 L119.7 352.9 L120.5 351.8 L121.4 350.7 L122.3 349.7 L123.1 348.8 L124.0 347.9 L124.8 347.0 L125.7 346.1 L126.6 345.3 L127.4 344.4 L128.3 343.6 L129.1 342.9 L130.0 342.1 L133.0 339.4 L136.1 336.9 L139.1 334.7 L142.2 332.7 L145.2 330.9 L148.3 329.1 L151.3 327.3 L154.3 325.6 L157.4 324.2 L160.4 322.9 L163.5 321.8 L166.5 320.7 L169.6 319.6 L172.6 318.6 L175.7 317.7 L178.7 316.8 L181.7 316.0 L184.8 315.3 L187.8 314.7 L190.9 314.0 L193.9 313.2 L197.0 312.4 L200.0 311.5 L209.0 309.2 L217.9 307.6 L226.9 306.3 L235.9 305.1 L244.8 304.1 L253.8 303.1 L262.7 302.3 L271.7 301.5 L280.7 300.8 L289.6 300.2 L298.6 299.7 L307.6 299.2 L316.5 298.8 L325.5 298.4 L334.4 297.9 L343.4 297.5 L352.4 297.1 L361.3 296.7 L370.3 296.3 L379.3 295.9 L388.2 295.5 L397.2 295.1 L406.1 294.8 L415.1 294.4 L424.1 294.1 L433.0 293.7 L442.0 293.4 L451.0 293.1 L459.9 292.9 L468.9 292.7 L477.8 292.4 L486.8 292.2 L495.8 292.1 L504.7 291.9 L513.7 291.8" fill="none" stroke="#47186a" stroke-width="1.10" stroke-linejoin="round"/>
<path d="M89.6 415.1 L90.5 412.8 L91.3 410.6 L92.2 408.4 L93.0 406.1 L93.9 403.9 L94.8 401.7 L95.6 399.4 L96.5 397.2 L97.3 395.0 L98.2 392.8 L99.1 390.7 L99.9 388.6 L100.8 386.6 L101.6 384.6 L102.5 382.6 L103.4 380.7 L104.2 378.8 L105.1 377.0 L105.9 375.3 L106.8 373.6 L107.7 372.0 L108.5 370.5 L109.4 368.9 L110.2 367.4 L111.1 366.0 L111.9 364.6 L112.8 363.2 L113.7 361.8 L114.5 360.4 L115.4 359.1 L116.2 357.7 L117.1 356.4 L118.0 355.2 L118.8 354.0 L119.7 352.8 L120.5 351.7 L121.4 350.6 L122.3 349.6 L123.1 348.7 L124.0 347.8 L124.8 346.9 L125.7 346.0 L126.6 345.2 L127.4 344.4 L128.3 343.6 L129.1 342.8 L130.0 342.0 L133.0 339.4 L136.1 336.9 L139.1 334.6 L142.2 332.7 L145.2 330.9 L148.3 329.1 L151.3 327.2 L154.3 325.6 L157.4 324.2 L160.4 322.9 L163.5 321.8 L166.5 320.7 L169.6 319.6 L172.6 318.6 L175.7 317.7 L178.7 316.8 L181.7 316.0 L184.8 315.4 L187.8 314.8 L190.9 314.1 L193.9 313.3 L197.0 312.4 L200.0 311.6 L209.0 309.3 L217.9 307.7 L226.9 306.4 L235.9 305.3 L244.8 304.3 L253.8 303.3 L262.7 302.4 L271.7 301.7 L280.7 301.0 L289.6 300.5 L298.6 299.9 L307.6 299.5 L316.5 299.1 L325.5 298.6 L334.4 298.2 L343.4 297.8 L352.4 297.4 L361.3 297.0 L370.3 296.6 L379.3 296.2 L388.2 295.8 L397.2 295.5 L406.1 295.1 L415.1 294.8 L424.1 294.4 L433.0 294.1 L442.0 293.8 L451.0 293.5 L459.9 293.2 L468.9 293.0 L477.8 292.8 L486.8 292.6 L495.8 292.4 L504.7 292.3 L513.7 292.1" fill="none" stroke="#471163" stroke-width="1.10" stroke-linejoin="round"/>
<path d="M89.6 415.1 L90.5 412.8 L91.3 410.6 L92.2 408.3 L93.0 406.1 L93.9 403.9 L94.8 401.6 L95.6 399.3 L96.5 397.1 L97.3 394.9 L98.2 392.7 L99.1 390.6 L99.9 388.5 L100.8 386.5 L101.6 384.4 L102.5 382.5 L103.4 380.5 L104.2 378.7 L105.1 376.9 L105.9 375.2 L106.8 373.5 L107.7 371.9 L108.5 370.3 L109.4 368.8 L110.2 367.3 L111.1 365.9 L111.9 364.5 L112.8 363.1 L113.7 361.7 L114.5 360.3 L115.4 359.0 L116.2 357.6 L117.1 356.3 L118.0 355.1 L118.8 353.9 L119.7 352.7 L120.5 351.6 L121.4 350.6 L122.3 349.6 L123.1 348.6 L124.0 347.7 L124.8 346.8 L125.7 346.0 L126.6 345.1 L127.4 344.3 L128.3 343.5 L129.1 342.7 L130.0 342.0 L133.0 339.3 L136.1 336.8 L139.1 334.6 L142.2 332.7 L145.2 330.9 L148.3 329.0 L151.3 327.2 L154.3 325.5 L157.4 324.1 L160.4 322.9 L163.5 321.8 L166.5 320.7 L169.6 319.6 L172.6 318.7 L175.7 317.7 L178.7 316.8 L181.7 316.1 L184.8 315.4 L187.8 314.8 L190.9 314.1 L193.9 313.4 L197.0 312.5 L200.0 311.7 L209.0 309.4 L217.9 307.8 L226.9 306.5 L235.9 305.5 L244.8 304.4 L253.8 303.5 L262.7 302.6 L271.7 301.9 L280.7 301.2 L289.6 300.7 L298.6 300.2 L307.6 299.8 L316.5 299.3 L325.5 298.9 L334.4 298.5 L343.4 298.1 L352.4 297.7 L361.3 297.3 L370.3 296.9 L379.3 296.5 L388.2 296.1 L397.2 295.8 L406.1 295.4 L415.1 295.1 L424.1 294.7 L433.0 294.4 L442.0 294.1 L451.0 293.8 L459.9 293.6 L468.9 293.3 L477.8 293.1 L486.8 293.0 L495.8 292.8 L504.7 292.6 L513.7 292.5" fill="none" stroke="#45095b" stroke-width="1.10" stroke-linejoin="round"/>
<path d="M89.6 415.1 L90.5 412.8 L91.3 410.5 L92.2 408.3 L93.0 406.0 L93.9 403.8 L94.8 401.5 L95.6 399.3 L96.5 397.0 L97.3 394.8 L98.2 392.6 L99.1 390.4 L99.9 388.4 L100.8 386.3 L101.6 384.3 L102.5 382.3 L103.4 380.4 L104.2 378.6 L105.1 376.8 L105.9 375.0 L106.8 373.4 L107.7 371.8 L108.5 370.2 L109.4 368.7 L110.2 367.2 L111.1 365.8 L111.9 364.4 L112.8 363.0 L113.7 361.6 L114.5 360.2 L115.4 358.9 L116.2 357.5 L117.1 356.2 L118.0 355.0 L118.8 353.8 L119.7 352.6 L120.5 351.5 L121.4 350.5 L122.3 349.5 L123.1 348.5 L124.0 347.6 L124.8 346.7 L125.7 345.9 L126.6 345.1 L127.4 344.3 L128.3 343.5 L129.1 342.7 L130.0 341.9 L133.0 339.3 L136.1 336.8 L139.1 334.6 L142.2 332.6 L145.2 330.8 L148.3 329.0 L151.3 327.2 L154.3 325.5 L157.4 324.1 L160.4 322.9 L163.5 321.8 L166.5 320.7 L169.6 319.6 L172.6 318.7 L175.7 317.7 L178.7 316.8 L181.7 316.1 L184.8 315.5 L187.8 314.9 L190.9 314.2 L193.9 313.4 L197.0 312.6 L200.0 311.8 L209.0 309.5 L217.9 307.9 L226.9 306.7 L235.9 305.6 L244.8 304.6 L253.8 303.7 L262.7 302.8 L271.7 302.1 L280.7 301.5 L289.6 300.9 L298.6 300.4 L307.6 300.0 L316.5 299.6 L325.5 299.2 L334.4 298.8 L343.4 298.4 L352.4 298.0 L361.3 297.6 L370.3 297.2 L379.3 296.8 L388.2 296.5 L397.2 296.1 L406.1 295.8 L415.1 295.4 L424.1 295.1 L433.0 294.7 L442.0 294.4 L451.0 294.1 L459.9 293.9 L468.9 293.7 L477.8 293.5 L486.8 293.3 L495.8 293.2 L504.7 293.0 L513.7 292.9" fill="none" stroke="#440154" stroke-width="1.10" stroke-linejoin="round"/>
<path d="M90.5 402.6 L91.3 389.0 L92.2 376.3 L93.0 368.8 L93.9 363.4 L94.8 358.1 L95.6 351.2 L96.5 343.8 L97.3 337.6 L98.2 332.1 L99.1 327.0 L99.9 322.2 L100.8 318.0 L101.6 314.7 L102.5 311.9 L103.4 309.3 L104.2 307.1 L105.1 304.9 L105.9 302.9 L106.8 301.0 L107.7 299.2 L108.5 297.5 L109.4 296.0 L110.2 294.7 L111.1 293.4 L111.9 292.3 L112.8 291.2 L113.7 290.2 L114.5 289.3 L115.4 288.4 L116.2 287.5 L117.1 286.7 L118.0 286.0 L118.8 285.2 L119.7 284.5 L120.5 283.8 L121.4 283.1 L122.3 282.5 L123.1 281.9 L124.0 281.3 L124.8 280.8 L125.7 280.2 L126.6 279.7 L127.4 279.3 L128.3 278.8 L129.1 278.4 L130.0 278.0 L133.0 276.6 L136.1 275.4 L139.1 274.0 L142.2 272.5 L145.2 271.1 L148.3 269.8 L151.3 268.8 L154.3 267.8 L157.4 266.9 L160.4 266.1 L163.5 265.4 L166.5 264.7 L169.6 264.0 L172.6 263.4 L175.7 262.8 L178.7 262.2 L181.7 261.7 L184.8 261.2 L187.8 260.8 L190.9 260.4 L193.9 260.0 L197.0 259.7 L200.0 259.3 L209.0 258.5 L217.9 257.7 L226.9 257.0 L235.9 256.4 L244.8 255.9 L253.8 255.4 L262.7 255.0 L271.7 254.6 L280.7 254.2 L289.6 253.8 L298.6 253.4 L307.6 253.0 L316.5 252.7 L325.5 252.4 L334.4 252.2 L343.4 252.0 L352.4 251.8 L361.3 251.6 L370.3 251.4 L379.3 251.2 L388.2 251.1 L397.2 250.9 L406.1 250.8 L415.1 250.7 L424.1 250.6 L433.0 250.4 L442.0 250.3 L451.0 250.3 L459.9 250.2 L468.9 250.2 L477.8 250.1 L486.8 250.1 L495.8 250.0 L504.7 250.0 L513.7 250.0" fill="none" stroke="#000" stroke-width="1.85" stroke-dasharray="6.4 7.3" stroke-dashoffset="-4.4"/>
<path d="M90.5 414.1 L91.3 412.7 L92.2 411.2 L93.0 409.7 L93.9 408.1 L94.8 406.5 L95.6 404.9 L96.5 403.1 L97.3 401.3 L98.2 399.3 L99.1 397.3 L99.9 395.3 L100.8 393.3 L101.6 391.3 L102.5 389.5 L103.4 387.6 L104.2 385.7 L105.1 383.9 L105.9 382.1 L106.8 380.3 L107.7 378.5 L108.5 376.8 L109.4 375.2 L110.2 373.6 L111.1 372.1 L111.9 370.6 L112.8 369.1 L113.7 367.7 L114.5 366.3 L115.4 364.9 L116.2 363.5 L117.1 362.2 L118.0 360.8 L118.8 359.5 L119.7 358.1 L120.5 356.8 L121.4 355.6 L122.3 354.3 L123.1 353.1 L124.0 351.9 L124.8 350.8 L125.7 349.7 L126.6 348.6 L127.4 347.5 L128.3 346.5 L129.1 345.5 L130.0 344.6 L133.0 341.3 L136.1 338.5 L139.1 336.0 L142.2 333.5 L145.2 331.2 L148.3 328.8 L151.3 325.9 L154.3 323.0 L157.4 320.5 L160.4 318.7 L163.5 317.1 L166.5 315.7 L169.6 314.3 L172.6 312.8 L175.7 311.2 L178.7 309.6 L181.7 308.1 L184.8 306.7 L187.8 305.3 L190.9 304.1 L193.9 302.9 L197.0 301.8 L200.0 300.7 L209.0 298.0 L217.9 295.6 L226.9 293.4 L235.9 291.3 L244.8 289.3 L253.8 287.5 L262.7 285.8 L271.7 284.3 L280.7 282.9 L289.6 281.6 L298.6 280.3 L307.6 279.0 L316.5 277.8 L325.5 276.7 L334.4 275.8 L343.4 274.8 L352.4 274.0 L361.3 273.1 L370.3 272.3 L379.3 271.5 L388.2 270.8 L397.2 270.2 L406.1 269.6 L415.1 269.0 L424.1 268.5 L433.0 267.9 L442.0 267.5 L451.0 267.1 L459.9 266.7 L468.9 266.4 L477.8 266.1 L486.8 265.8 L495.8 265.6 L504.7 265.4 L513.7 265.2" fill="none" stroke="#000" stroke-width="1.85" stroke-dasharray="6.4 7.3" stroke-dashoffset="4.5"/>
<rect x="61.10" y="239.50" width="481.70" height="185.30" fill="none" stroke="#B3B3B3" stroke-width="1.1"/>
<line x1="57.50" x2="61.10" y1="416.50" y2="416.50" stroke="#B3B3B3" stroke-width="0.8"/>
<text x="54.2" y="421.10" font-size="10.76" fill="#4D4D4D" stroke="#4D4D4D" text-anchor="end">0%</text>
<line x1="57.50" x2="61.10" y1="374.48" y2="374.48" stroke="#B3B3B3" stroke-width="0.8"/>
<text x="54.2" y="379.08" font-size="10.76" fill="#4D4D4D" stroke="#4D4D4D" text-anchor="end">25%</text>
<line x1="57.50" x2="61.10" y1="332.45" y2="332.45" stroke="#B3B3B3" stroke-width="0.8"/>
<text x="54.2" y="337.05" font-size="10.76" fill="#4D4D4D" stroke="#4D4D4D" text-anchor="end">50%</text>
<line x1="57.50" x2="61.10" y1="290.43" y2="290.43" stroke="#B3B3B3" stroke-width="0.8"/>
<text x="54.2" y="295.03" font-size="10.76" fill="#4D4D4D" stroke="#4D4D4D" text-anchor="end">75%</text>
<line x1="57.50" x2="61.10" y1="248.40" y2="248.40" stroke="#B3B3B3" stroke-width="0.8"/>
<text x="54.2" y="253.00" font-size="10.76" fill="#4D4D4D" stroke="#4D4D4D" text-anchor="end">100%</text>
<line x1="89.60" x2="89.60" y1="424.80" y2="427.80" stroke="#B3B3B3" stroke-width="0.8"/>
<text transform="translate(99.26 427.64) rotate(-45)" font-size="10.76" fill="#4D4D4D" stroke="#4D4D4D" text-anchor="middle" letter-spacing="-0.3" y="3.85">0</text>
<line x1="117.89" x2="117.89" y1="424.80" y2="427.80" stroke="#B3B3B3" stroke-width="0.8"/>
<text transform="translate(122.88 432.31) rotate(-45)" font-size="10.76" fill="#4D4D4D" stroke="#4D4D4D" text-anchor="middle" letter-spacing="-0.3" y="3.85">1,000</text>
<line x1="146.18" x2="146.18" y1="424.80" y2="427.80" stroke="#B3B3B3" stroke-width="0.8"/>
<text transform="translate(151.17 432.31) rotate(-45)" font-size="10.76" fill="#4D4D4D" stroke="#4D4D4D" text-anchor="middle" letter-spacing="-0.3" y="3.85">2,000</text>
<line x1="174.47" x2="174.47" y1="424.80" y2="427.80" stroke="#B3B3B3" stroke-width="0.8"/>
<text transform="translate(179.46 432.31) rotate(-45)" font-size="10.76" fill="#4D4D4D" stroke="#4D4D4D" text-anchor="middle" letter-spacing="-0.3" y="3.85">3,000</text>
<line x1="202.76" x2="202.76" y1="424.80" y2="427.80" stroke="#B3B3B3" stroke-width="0.8"/>
<text transform="translate(207.75 432.31) rotate(-45)" font-size="10.76" fill="#4D4D4D" stroke="#4D4D4D" text-anchor="middle" letter-spacing="-0.3" y="3.85">4,000</text>
<line x1="231.05" x2="231.05" y1="424.80" y2="427.80" stroke="#B3B3B3" stroke-width="0.8"/>
<text transform="translate(236.04 432.31) rotate(-45)" font-size="10.76" fill="#4D4D4D" stroke="#4D4D4D" text-anchor="middle" letter-spacing="-0.3" y="3.85">5,000</text>
<line x1="259.34" x2="259.34" y1="424.80" y2="427.80" stroke="#B3B3B3" stroke-width="0.8"/>
<text transform="translate(264.33 432.31) rotate(-45)" font-size="10.76" fill="#4D4D4D" stroke="#4D4D4D" text-anchor="middle" letter-spacing="-0.3" y="3.85">6,000</text>
<line x1="287.63" x2="287.63" y1="424.80" y2="427.80" stroke="#B3B3B3" stroke-width="0.8"/>
<text transform="translate(292.62 432.31) rotate(-45)" font-size="10.76" fill="#4D4D4D" stroke="#4D4D4D" text-anchor="middle" letter-spacing="-0.3" y="3.85">7,000</text>
<line x1="315.92" x2="315.92" y1="424.80" y2="427.80" stroke="#B3B3B3" stroke-width="0.8"/>
<text transform="translate(320.91 432.31) rotate(-45)" font-size="10.76" fill="#4D4D4D" stroke="#4D4D4D" text-anchor="middle" letter-spacing="-0.3" y="3.85">8,000</text>
<line x1="344.21" x2="344.21" y1="424.80" y2="427.80" stroke="#B3B3B3" stroke-width="0.8"/>
<text transform="translate(349.20 432.31) rotate(-45)" font-size="10.76" fill="#4D4D4D" stroke="#4D4D4D" text-anchor="middle" letter-spacing="-0.3" y="3.85">9,000</text>
<line x1="372.50" x2="372.50" y1="424.80" y2="427.80" stroke="#B3B3B3" stroke-width="0.8"/>
<text transform="translate(376.15 433.65) rotate(-45)" font-size="10.76" fill="#4D4D4D" stroke="#4D4D4D" text-anchor="middle" letter-spacing="-0.3" y="3.85">10,000</text>
<line x1="400.79" x2="400.79" y1="424.80" y2="427.80" stroke="#B3B3B3" stroke-width="0.8"/>
<text transform="translate(404.62 433.47) rotate(-45)" font-size="10.76" fill="#4D4D4D" stroke="#4D4D4D" text-anchor="middle" letter-spacing="-0.3" y="3.85">11,000</text>
<line x1="429.08" x2="429.08" y1="424.80" y2="427.80" stroke="#B3B3B3" stroke-width="0.8"/>
<text transform="translate(432.73 433.65) rotate(-45)" font-size="10.76" fill="#4D4D4D" stroke="#4D4D4D" text-anchor="middle" letter-spacing="-0.3" y="3.85">12,000</text>
<line x1="457.37" x2="457.37" y1="424.80" y2="427.80" stroke="#B3B3B3" stroke-width="0.8"/>
<text transform="translate(461.02 433.65) rotate(-45)" font-size="10.76" fill="#4D4D4D" stroke="#4D4D4D" text-anchor="middle" letter-spacing="-0.3" y="3.85">13,000</text>
<line x1="485.66" x2="485.66" y1="424.80" y2="427.80" stroke="#B3B3B3" stroke-width="0.8"/>
<text transform="translate(489.31 433.65) rotate(-45)" font-size="10.76" fill="#4D4D4D" stroke="#4D4D4D" text-anchor="middle" letter-spacing="-0.3" y="3.85">14,000</text>
<line x1="513.95" x2="513.95" y1="424.80" y2="427.80" stroke="#B3B3B3" stroke-width="0.8"/>
<text transform="translate(517.60 433.65) rotate(-45)" font-size="10.76" fill="#4D4D4D" stroke="#4D4D4D" text-anchor="middle" letter-spacing="-0.3" y="3.85">15,000</text>
<text x="301.8" y="22.1" font-size="10.76" fill="#1A1A1A" stroke="#1A1A1A" text-anchor="middle">Baseline Mayo endoscopic subscore 2</text>
<text x="301.8" y="234.1" font-size="10.76" fill="#1A1A1A" stroke="#1A1A1A" text-anchor="middle">Baseline Mayo endoscopic subscore 3</text>
<text x="301.6" y="473.7" font-size="12.57" fill="#000" stroke="#000" text-anchor="middle">Cumulative AUC at day 84</text>
<text transform="translate(23.2 226.2) rotate(-90)" font-size="12.58" fill="#000" stroke="#000" text-anchor="middle">Fraction of patients</text>
<defs><linearGradient id="vg" x1="0" x2="1" y1="0" y2="0">
<stop offset="0.00" stop-color="#440154"/>
<stop offset="0.05" stop-color="#471365"/>
<stop offset="0.10" stop-color="#482475"/>
<stop offset="0.15" stop-color="#463480"/>
<stop offset="0.20" stop-color="#414487"/>
<stop offset="0.25" stop-color="#3b528b"/>
<stop offset="0.30" stop-color="#355f8d"/>
<stop offset="0.35" stop-color="#2f6c8e"/>
<stop offset="0.40" stop-color="#2a788e"/>
<stop offset="0.45" stop-color="#25848e"/>
<stop offset="0.50" stop-color="#21918c"/>
<stop offset="0.55" stop-color="#1e9c89"/>
<stop offset="0.60" stop-color="#22a884"/>
<stop offset="0.65" stop-color="#2fb47c"/>
<stop offset="0.70" stop-color="#44bf70"/>
<stop offset="0.75" stop-color="#5ec962"/>
<stop offset="0.80" stop-color="#7ad151"/>
<stop offset="0.85" stop-color="#9bd93c"/>
<stop offset="0.90" stop-color="#bddf26"/>
<stop offset="0.95" stop-color="#dfe318"/>
<stop offset="1.00" stop-color="#fde725"/>
</linearGradient></defs>
<rect x="155.10" y="495.80" width="100.60" height="20.00" fill="url(#vg)"/>
<line x1="164.20" x2="164.20" y1="495.80" y2="499.80" stroke="#fff" stroke-width="0.7"/>
<line x1="164.20" x2="164.20" y1="511.80" y2="515.80" stroke="#fff" stroke-width="0.7"/>
<line x1="209.90" x2="209.90" y1="495.80" y2="499.80" stroke="#fff" stroke-width="0.7"/>
<line x1="209.90" x2="209.90" y1="511.80" y2="515.80" stroke="#fff" stroke-width="0.7"/>
<line x1="255.30" x2="255.30" y1="495.80" y2="499.80" stroke="#fff" stroke-width="0.7"/>
<line x1="255.30" x2="255.30" y1="511.80" y2="515.80" stroke="#fff" stroke-width="0.7"/>
<text x="163.40" y="530.6" font-size="10.76" fill="#000" stroke="#000" text-anchor="middle">80%</text>
<text x="209.20" y="530.6" font-size="10.76" fill="#000" stroke="#000" text-anchor="middle">90%</text>
<text x="255.40" y="530.6" font-size="10.76" fill="#000" stroke="#000" text-anchor="middle">100%</text>
<text x="90.3" y="517.5" font-size="12.6" fill="#000" stroke="#000">E<tspan font-size="8.8" dy="2.6">max,2<tspan font-size="10.5" dx="-0.8" style="stroke-width:0.6px">→</tspan><tspan dx="-0.8">1</tspan></tspan><tspan font-size="14.5" dx="2.2" dy="1.4">/</tspan><tspan font-size="8.8" dy="-1">0</tspan></text>
<text x="281.3" y="506.7" font-size="12.43" fill="#000" stroke="#000">Mayo endoscopic</text>
<text x="281.3" y="520.8" font-size="12.43" fill="#000" stroke="#000">subscore at day 84</text>
<rect x="395.10" y="496.0" width="18.8" height="18.8" fill="#FB7A7D" stroke="#151515" stroke-width="0.9"/>
<text x="421.20" y="510.5" font-size="10.76" fill="#000" stroke="#000">3</text>
<rect x="434.10" y="496.0" width="18.8" height="18.8" fill="#63DCF2" stroke="#151515" stroke-width="0.9"/>
<text x="459.60" y="510.5" font-size="10.76" fill="#000" stroke="#000">2</text>
<rect x="472.80" y="496.0" width="18.8" height="18.8" fill="#4A6B75" stroke="#151515" stroke-width="0.9"/>
<text x="498.60" y="510.5" font-size="10.76" fill="#000" stroke="#000">1/0</text>
</svg>
</body></html>
